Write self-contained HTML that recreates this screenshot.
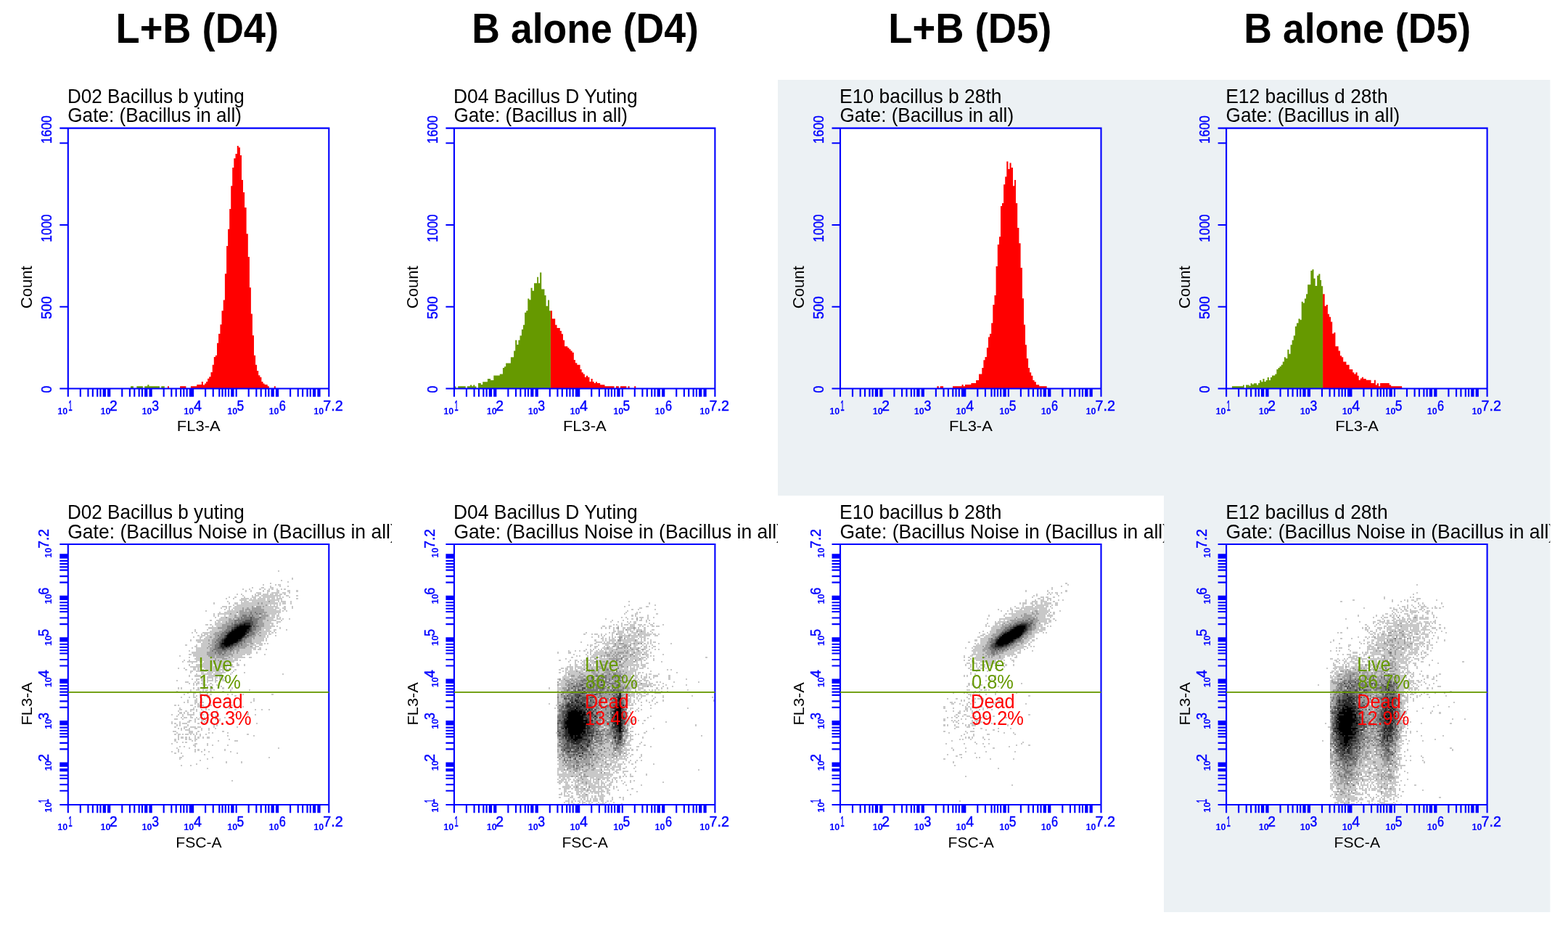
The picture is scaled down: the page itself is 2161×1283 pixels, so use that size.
<!DOCTYPE html>
<html><head><meta charset="utf-8"><title>Flow cytometry</title>
<style>html,body{margin:0;padding:0;background:#fff;overflow:hidden}svg{display:block}text{font-family:'Liberation Sans', Arial, sans-serif}</style>
</head><body>
<svg width="2161" height="1283" viewBox="0 0 2161 1283">
<defs><clipPath id="c0" clipPathUnits="userSpaceOnUse"><rect x="0" y="0" width="540" height="1283"/></clipPath><clipPath id="c1" clipPathUnits="userSpaceOnUse"><rect x="532.1" y="0" width="540" height="1283"/></clipPath><clipPath id="c2" clipPathUnits="userSpaceOnUse"><rect x="1064.2" y="0" width="540" height="1283"/></clipPath><clipPath id="c3" clipPathUnits="userSpaceOnUse"><rect x="1596.3" y="0" width="540" height="1283"/></clipPath></defs>
<rect x="0" y="0" width="2161" height="1283" fill="#fff"/>
<rect x="1072" y="110" width="1064.4" height="573" fill="#ecf1f4"/>
<rect x="1604" y="683" width="532.4" height="574" fill="#ecf1f4"/>
<text x="159.57" y="58.8" font-size="57.68" textLength="224.5" lengthAdjust="spacingAndGlyphs" fill="#000" font-weight="bold">L+B (D4)</text>
<text x="650.32" y="59.1" font-size="57.97" textLength="312.51" lengthAdjust="spacingAndGlyphs" fill="#000" font-weight="bold">B alone (D4)</text>
<text x="1224.37" y="58.8" font-size="57.68" textLength="224.91" lengthAdjust="spacingAndGlyphs" fill="#000" font-weight="bold">L+B (D5)</text>
<text x="1714.32" y="59.1" font-size="57.97" textLength="312.72" lengthAdjust="spacingAndGlyphs" fill="#000" font-weight="bold">B alone (D5)</text>
<rect x="93.8" y="176.6" width="359.5" height="358.9" fill="#fff"/>
<path d="M180 535.5V532.2H184V535.5ZM188.3 535.5V532.2H196.9V535.5ZM199.2 535.5V532.2H203.3V530.2H205.4V532.2H220V535.5ZM222.3 535.5V532.2H226.8V535.5Z" fill="#669900"/>
<path d="M226.8 535.5V532.2H226.9V535.5ZM231 535.5V532.2H232.9V535.5ZM248.1 535.5V532.2H256.4V535.5ZM262.9 535.5V532.2H271.2V530.1H277.8V525.9H279.9V530.4H282V528.4H284.1V525.9H286.1V521.8H288.2V519.3H290.5V513.1H292.7V502.7H294.8V491.9H296.9V489.8H299V472.8H301.1V460.1H303.4V447.2H305.5V428.2H307.7V413.4H309.9V377.3H312.1V339.1H314.1V315.8H316.2V288.1H318.2V256.3H320.2V231.1H322.3V218.2H324.5V212.1H326.8V201.1H328.8V203.2H330.9V214H333V247.9H335V265H337.1V286.1H339.6V322.3H341.8V354.1H343.9V396.2H345.9V432.5H347.9V462.2H350V489.8H352.1V502.7H354.1V511H356.2V517.3H358.3V519.7H360.4V525.9H362.5V528.4H364.6V530.1H368.7V532.2H370.8V535.5ZM377.8 535.5V532.2H379.8V535.5Z" fill="#ff0000"/>
<path d="M82.3 175.54H454.36V177.66H82.3ZM82.3 534.44H454.36V536.56H82.3ZM92.74 175.54H94.86V546.7H92.74ZM452.24 175.54H454.36V546.7H452.24ZM109.75 535.5H111.88V546.7H109.75ZM120.39 535.5H122.52V546.7H120.39ZM126.77 535.5H128.9V546.7H126.77ZM133.15 535.5H135.28V546.7H133.15ZM137.41 535.5H139.54V546.7H137.41ZM141.66 535.5H145.92V546.7H141.66ZM148.04 535.5H152.3V546.7H148.04ZM167.19 535.5H169.32V546.7H167.19ZM177.83 535.5H179.95V546.7H177.83ZM184.21 535.5H186.33V546.7H184.21ZM190.59 535.5H192.72V546.7H190.59ZM194.84 535.5H196.97V546.7H194.84ZM199.1 535.5H203.35V546.7H199.1ZM205.48 535.5H209.73V546.7H205.48ZM224.62 535.5H226.75V546.7H224.62ZM235.26 535.5H237.39V546.7H235.26ZM241.64 535.5H243.77V546.7H241.64ZM248.02 535.5H250.15V546.7H248.02ZM252.28 535.5H254.41V546.7H252.28ZM256.53 535.5H258.66V546.7H256.53ZM260.79 535.5H267.17V546.7H260.79ZM282.06 535.5H284.19V546.7H282.06ZM292.69 535.5H294.82V546.7H292.69ZM301.2 535.5H303.33V546.7H301.2ZM305.46 535.5H307.59V546.7H305.46ZM309.71 535.5H311.84V546.7H309.71ZM313.97 535.5H316.09V546.7H313.97ZM318.22 535.5H322.48V546.7H318.22ZM324.6 535.5H326.73V546.7H324.6ZM341.62 535.5H343.75V546.7H341.62ZM352.26 535.5H354.38V546.7H352.26ZM358.64 535.5H360.77V546.7H358.64ZM365.02 535.5H367.15V546.7H365.02ZM369.27 535.5H371.4V546.7H369.27ZM373.53 535.5H377.78V546.7H373.53ZM379.91 535.5H384.17V546.7H379.91ZM399.06 535.5H401.18V546.7H399.06ZM409.69 535.5H411.82V546.7H409.69ZM416.07 535.5H418.2V546.7H416.07ZM422.46 535.5H424.58V546.7H422.46ZM426.71 535.5H428.84V546.7H426.71ZM430.96 535.5H435.22V546.7H430.96ZM437.35 535.5H441.6V546.7H437.35ZM82.3 421.69H93.8V423.82H82.3ZM82.3 308.95H93.8V311.08H82.3ZM82.3 196.21H93.8V198.34H82.3Z" fill="#0000ff"/>
<text x="92.91" y="141.7" font-size="27.83" textLength="243.88" lengthAdjust="spacingAndGlyphs" fill="#000">D02 Bacillus b yuting</text>
<text x="93.29" y="168.3" font-size="27.83" textLength="239.61" lengthAdjust="spacingAndGlyphs" fill="#000">Gate: (Bacillus in all)</text>
<text x="79.19" y="570.7" font-size="11.86" textLength="13.95" lengthAdjust="spacingAndGlyphs" fill="#0000ff" font-weight="bold">10</text>
<text x="94.17" y="566" font-size="20.72" textLength="5.43" lengthAdjust="spacingAndGlyphs" fill="#0000ff" stroke="#0000ff" stroke-width="0.45">1</text>
<text x="138.59" y="570.7" font-size="11.86" textLength="13.95" lengthAdjust="spacingAndGlyphs" fill="#0000ff" font-weight="bold">10</text>
<text x="151.03" y="566" font-size="20.43" textLength="10.76" lengthAdjust="spacingAndGlyphs" fill="#0000ff" stroke="#0000ff" stroke-width="0.45">2</text>
<text x="195.59" y="570.7" font-size="11.86" textLength="13.95" lengthAdjust="spacingAndGlyphs" fill="#0000ff" font-weight="bold">10</text>
<text x="209.19" y="566" font-size="20.43" textLength="9.82" lengthAdjust="spacingAndGlyphs" fill="#0000ff" stroke="#0000ff" stroke-width="0.45">3</text>
<text x="253.39" y="570.7" font-size="11.86" textLength="13.95" lengthAdjust="spacingAndGlyphs" fill="#0000ff" font-weight="bold">10</text>
<text x="267" y="566" font-size="20.72" textLength="11.01" lengthAdjust="spacingAndGlyphs" fill="#0000ff" stroke="#0000ff" stroke-width="0.45">4</text>
<text x="313.19" y="570.7" font-size="11.86" textLength="13.95" lengthAdjust="spacingAndGlyphs" fill="#0000ff" font-weight="bold">10</text>
<text x="326.5" y="566" font-size="20.72" textLength="9.72" lengthAdjust="spacingAndGlyphs" fill="#0000ff" stroke="#0000ff" stroke-width="0.45">5</text>
<text x="370.49" y="570.7" font-size="11.86" textLength="13.95" lengthAdjust="spacingAndGlyphs" fill="#0000ff" font-weight="bold">10</text>
<text x="384.78" y="566" font-size="20.43" textLength="9.07" lengthAdjust="spacingAndGlyphs" fill="#0000ff" stroke="#0000ff" stroke-width="0.45">6</text>
<text x="432.29" y="570.7" font-size="11.86" textLength="13.95" lengthAdjust="spacingAndGlyphs" fill="#0000ff" font-weight="bold">10</text>
<text x="445.31" y="566" font-size="20.43" textLength="27.48" lengthAdjust="spacingAndGlyphs" fill="#0000ff" stroke="#0000ff" stroke-width="0.45">7.2</text>
<text transform="translate(71.1 540.7) rotate(-90)" x="-0.71" y="0" font-size="20.71" textLength="9.84" lengthAdjust="spacingAndGlyphs" fill="#0000ff" stroke="#0000ff" stroke-width="0.45">0</text>
<text transform="translate(71.1 439) rotate(-90)" x="-0.75" y="0" font-size="20.71" textLength="31.48" lengthAdjust="spacingAndGlyphs" fill="#0000ff" stroke="#0000ff" stroke-width="0.45">500</text>
<text transform="translate(71.1 332.4) rotate(-90)" x="-1.29" y="0" font-size="20.71" textLength="38.38" lengthAdjust="spacingAndGlyphs" fill="#0000ff" stroke="#0000ff" stroke-width="0.45">1000</text>
<text transform="translate(71.1 196.75) rotate(-90)" x="-1.3" y="0" font-size="20.71" textLength="38.64" lengthAdjust="spacingAndGlyphs" fill="#0000ff" stroke="#0000ff" stroke-width="0.45">1600</text>
<text transform="translate(43.7 424.1) rotate(-90)" x="-1.1" y="0" font-size="21.43" textLength="58.69" lengthAdjust="spacingAndGlyphs" fill="#000">Count</text>
<text x="243.85" y="593.8" font-size="21" textLength="59.73" lengthAdjust="spacingAndGlyphs" fill="#000">FL3-A</text>
<rect x="625.9" y="176.6" width="359.5" height="358.9" fill="#fff"/>
<path d="M626.31 535.5V532.53H628.42V535.5ZM631.22 535.5V532.25H641.74V535.5ZM643.85 535.5V532.25H648.05V530.43H650.16V532.25H652.26V530.43H654.37V532.53H656.47V535.5ZM659 535.5V528.05H662.78V530.01H665.17V526.22H671.9V522.01H676.11V524.12H680.32V517.53H688.73V515.42H692.94V507.01H695.05V505.18H697.15V500.55H703.88V492.14H708.09V483.44H710.19V468.71H712.3V475.02H714.4V468.71H716.51V462.4H718.89V453.98H721V447.67H723.1V430.84H725.2V428.31H727.31V411.48H729.41V413.3H731.52V396.75H733.62V400.68H736.01V390.16H740.21V381.74H742.04V390.16H744.14V375.43H746.24V398.57H750.45V406.99H752.56V421.72H755.08V413.58H757.05V428.31H758.87V428.31H758.9V535.5Z" fill="#669900"/>
<path d="M758.9 535.5V428.31H760.97V439.25H765.18V447.67H767.57V451.88H771.77V456.09H773.88V460.29H775.98V468.71H778.09V477.13H782.29V479.23H784.4V481.34H786.5V483.44H788.61V485.82H790.85V496.06H792.96V500.27H795.34V502.8H799.55V508.97H801.65V513.18H803.76V515.42H805.86V519.63H807.96V517.81H810.07V519.63H812.45V525.94H814.56V522.01H816.66V525.94H818.77V528.05H820.87V526.22H822.97V528.05H827.18V530.15H833.49V532.25H846.54V535.5ZM848.92 535.5V532.25H852.85V535.5ZM854.96 535.5V532.25H863.37V535.5ZM865.48 535.5V532.25H867.58V535.5ZM874.17 535.5V532.25H876.28V535.5Z" fill="#ff0000"/>
<path d="M614.4 175.54H986.46V177.66H614.4ZM614.4 534.44H986.46V536.56H614.4ZM624.84 175.54H626.96V546.7H624.84ZM984.34 175.54H986.46V546.7H984.34ZM641.85 535.5H643.98V546.7H641.85ZM652.49 535.5H654.62V546.7H652.49ZM658.87 535.5H661V546.7H658.87ZM665.25 535.5H667.38V546.7H665.25ZM669.51 535.5H671.64V546.7H669.51ZM673.76 535.5H678.02V546.7H673.76ZM680.14 535.5H684.4V546.7H680.14ZM699.29 535.5H701.42V546.7H699.29ZM709.93 535.5H712.05V546.7H709.93ZM716.31 535.5H718.43V546.7H716.31ZM722.69 535.5H724.82V546.7H722.69ZM726.94 535.5H729.07V546.7H726.94ZM731.2 535.5H735.45V546.7H731.2ZM737.58 535.5H741.83V546.7H737.58ZM756.72 535.5H758.85V546.7H756.72ZM767.36 535.5H769.49V546.7H767.36ZM773.74 535.5H775.87V546.7H773.74ZM780.12 535.5H782.25V546.7H780.12ZM784.38 535.5H786.51V546.7H784.38ZM788.63 535.5H790.76V546.7H788.63ZM792.89 535.5H799.27V546.7H792.89ZM814.16 535.5H816.29V546.7H814.16ZM824.79 535.5H826.92V546.7H824.79ZM833.3 535.5H835.43V546.7H833.3ZM837.56 535.5H839.69V546.7H837.56ZM841.81 535.5H843.94V546.7H841.81ZM846.07 535.5H848.19V546.7H846.07ZM850.32 535.5H854.58V546.7H850.32ZM856.7 535.5H858.83V546.7H856.7ZM873.72 535.5H875.85V546.7H873.72ZM884.36 535.5H886.48V546.7H884.36ZM890.74 535.5H892.87V546.7H890.74ZM897.12 535.5H899.25V546.7H897.12ZM901.37 535.5H903.5V546.7H901.37ZM905.63 535.5H909.88V546.7H905.63ZM912.01 535.5H916.27V546.7H912.01ZM931.16 535.5H933.28V546.7H931.16ZM941.79 535.5H943.92V546.7H941.79ZM948.17 535.5H950.3V546.7H948.17ZM954.56 535.5H956.68V546.7H954.56ZM958.81 535.5H960.94V546.7H958.81ZM963.06 535.5H967.32V546.7H963.06ZM969.45 535.5H973.7V546.7H969.45ZM614.4 421.69H625.9V423.82H614.4ZM614.4 308.95H625.9V311.08H614.4ZM614.4 196.21H625.9V198.34H614.4Z" fill="#0000ff"/>
<text x="624.99" y="141.7" font-size="27.83" textLength="253.72" lengthAdjust="spacingAndGlyphs" fill="#000">D04 Bacillus D Yuting</text>
<text x="625.39" y="168.3" font-size="27.83" textLength="239.61" lengthAdjust="spacingAndGlyphs" fill="#000">Gate: (Bacillus in all)</text>
<text x="611.29" y="570.7" font-size="11.86" textLength="13.95" lengthAdjust="spacingAndGlyphs" fill="#0000ff" font-weight="bold">10</text>
<text x="626.27" y="566" font-size="20.72" textLength="5.43" lengthAdjust="spacingAndGlyphs" fill="#0000ff" stroke="#0000ff" stroke-width="0.45">1</text>
<text x="670.69" y="570.7" font-size="11.86" textLength="13.95" lengthAdjust="spacingAndGlyphs" fill="#0000ff" font-weight="bold">10</text>
<text x="683.13" y="566" font-size="20.43" textLength="10.76" lengthAdjust="spacingAndGlyphs" fill="#0000ff" stroke="#0000ff" stroke-width="0.45">2</text>
<text x="727.69" y="570.7" font-size="11.86" textLength="13.95" lengthAdjust="spacingAndGlyphs" fill="#0000ff" font-weight="bold">10</text>
<text x="741.29" y="566" font-size="20.43" textLength="9.82" lengthAdjust="spacingAndGlyphs" fill="#0000ff" stroke="#0000ff" stroke-width="0.45">3</text>
<text x="785.49" y="570.7" font-size="11.86" textLength="13.95" lengthAdjust="spacingAndGlyphs" fill="#0000ff" font-weight="bold">10</text>
<text x="799.11" y="566" font-size="20.72" textLength="11.01" lengthAdjust="spacingAndGlyphs" fill="#0000ff" stroke="#0000ff" stroke-width="0.45">4</text>
<text x="845.29" y="570.7" font-size="11.86" textLength="13.95" lengthAdjust="spacingAndGlyphs" fill="#0000ff" font-weight="bold">10</text>
<text x="858.6" y="566" font-size="20.72" textLength="9.72" lengthAdjust="spacingAndGlyphs" fill="#0000ff" stroke="#0000ff" stroke-width="0.45">5</text>
<text x="902.59" y="570.7" font-size="11.86" textLength="13.95" lengthAdjust="spacingAndGlyphs" fill="#0000ff" font-weight="bold">10</text>
<text x="916.88" y="566" font-size="20.43" textLength="9.07" lengthAdjust="spacingAndGlyphs" fill="#0000ff" stroke="#0000ff" stroke-width="0.45">6</text>
<text x="964.39" y="570.7" font-size="11.86" textLength="13.95" lengthAdjust="spacingAndGlyphs" fill="#0000ff" font-weight="bold">10</text>
<text x="977.41" y="566" font-size="20.43" textLength="27.48" lengthAdjust="spacingAndGlyphs" fill="#0000ff" stroke="#0000ff" stroke-width="0.45">7.2</text>
<text transform="translate(603.2 540.7) rotate(-90)" x="-0.71" y="0" font-size="20.71" textLength="9.84" lengthAdjust="spacingAndGlyphs" fill="#0000ff" stroke="#0000ff" stroke-width="0.45">0</text>
<text transform="translate(603.2 439) rotate(-90)" x="-0.75" y="0" font-size="20.71" textLength="31.48" lengthAdjust="spacingAndGlyphs" fill="#0000ff" stroke="#0000ff" stroke-width="0.45">500</text>
<text transform="translate(603.2 332.4) rotate(-90)" x="-1.29" y="0" font-size="20.71" textLength="38.38" lengthAdjust="spacingAndGlyphs" fill="#0000ff" stroke="#0000ff" stroke-width="0.45">1000</text>
<text transform="translate(603.2 196.75) rotate(-90)" x="-1.3" y="0" font-size="20.71" textLength="38.64" lengthAdjust="spacingAndGlyphs" fill="#0000ff" stroke="#0000ff" stroke-width="0.45">1600</text>
<text transform="translate(575.8 424.1) rotate(-90)" x="-1.1" y="0" font-size="21.43" textLength="58.69" lengthAdjust="spacingAndGlyphs" fill="#000">Count</text>
<text x="775.95" y="593.8" font-size="21" textLength="59.73" lengthAdjust="spacingAndGlyphs" fill="#000">FL3-A</text>
<rect x="1158" y="176.6" width="359.5" height="358.9" fill="#fff"/>
<path d="M1291.4 535.5V532.2H1293.8V535.5ZM1295.7 535.5V532.2H1300.1V535.5ZM1313 535.5V532.2H1325.6V530.1H1327.6V532.2H1330V530.1H1338.4V528.1H1345.1V524H1349.1V515.4H1353.3V507H1355.4V496.3H1357.5V492.1H1359.9V479.3H1362V464.4H1364V460.1H1366.2V445.2H1368.3V419.9H1370.5V407H1372.6V367H1374.8V337.1H1377V326.3H1379V284.1H1381V279.9H1383.1V254.3H1385.2V243.6H1387.3V222.4H1389.4V232.9H1391.5V224.5H1393.6V231.1H1396V256.3H1398.1V248H1400V279.9H1402.2V313.9H1404.4V335.2H1406.6V369H1408.9V411.2H1411V447.5H1413V475.2H1414.9V494.1H1417.1V507H1419.1V513.3H1421.2V517.7H1423.4V524H1425.6V526.2H1427.9V530.3H1432.2V532.2H1442.7V535.5Z" fill="#ff0000"/>
<path d="M1146.5 175.54H1518.56V177.66H1146.5ZM1146.5 534.44H1518.56V536.56H1146.5ZM1156.94 175.54H1159.06V546.7H1156.94ZM1516.44 175.54H1518.56V546.7H1516.44ZM1173.95 535.5H1176.08V546.7H1173.95ZM1184.59 535.5H1186.72V546.7H1184.59ZM1190.97 535.5H1193.1V546.7H1190.97ZM1197.35 535.5H1199.48V546.7H1197.35ZM1201.61 535.5H1203.74V546.7H1201.61ZM1205.86 535.5H1210.12V546.7H1205.86ZM1212.24 535.5H1216.5V546.7H1212.24ZM1231.39 535.5H1233.52V546.7H1231.39ZM1242.03 535.5H1244.15V546.7H1242.03ZM1248.41 535.5H1250.53V546.7H1248.41ZM1254.79 535.5H1256.92V546.7H1254.79ZM1259.04 535.5H1261.17V546.7H1259.04ZM1263.3 535.5H1267.55V546.7H1263.3ZM1269.68 535.5H1273.93V546.7H1269.68ZM1288.82 535.5H1290.95V546.7H1288.82ZM1299.46 535.5H1301.59V546.7H1299.46ZM1305.84 535.5H1307.97V546.7H1305.84ZM1312.22 535.5H1314.35V546.7H1312.22ZM1316.48 535.5H1318.61V546.7H1316.48ZM1320.73 535.5H1322.86V546.7H1320.73ZM1324.99 535.5H1331.37V546.7H1324.99ZM1346.26 535.5H1348.39V546.7H1346.26ZM1356.89 535.5H1359.02V546.7H1356.89ZM1365.4 535.5H1367.53V546.7H1365.4ZM1369.66 535.5H1371.79V546.7H1369.66ZM1373.91 535.5H1376.04V546.7H1373.91ZM1378.17 535.5H1380.29V546.7H1378.17ZM1382.42 535.5H1386.68V546.7H1382.42ZM1388.8 535.5H1390.93V546.7H1388.8ZM1405.82 535.5H1407.95V546.7H1405.82ZM1416.46 535.5H1418.58V546.7H1416.46ZM1422.84 535.5H1424.97V546.7H1422.84ZM1429.22 535.5H1431.35V546.7H1429.22ZM1433.47 535.5H1435.6V546.7H1433.47ZM1437.73 535.5H1441.98V546.7H1437.73ZM1444.11 535.5H1448.37V546.7H1444.11ZM1463.26 535.5H1465.38V546.7H1463.26ZM1473.89 535.5H1476.02V546.7H1473.89ZM1480.27 535.5H1482.4V546.7H1480.27ZM1486.66 535.5H1488.78V546.7H1486.66ZM1490.91 535.5H1493.04V546.7H1490.91ZM1495.16 535.5H1499.42V546.7H1495.16ZM1501.55 535.5H1505.8V546.7H1501.55ZM1146.5 421.69H1158V423.82H1146.5ZM1146.5 308.95H1158V311.08H1146.5ZM1146.5 196.21H1158V198.34H1146.5Z" fill="#0000ff"/>
<text x="1157.08" y="141.7" font-size="27.83" textLength="223.44" lengthAdjust="spacingAndGlyphs" fill="#000">E10 bacillus b 28th</text>
<text x="1157.49" y="168.3" font-size="27.83" textLength="239.61" lengthAdjust="spacingAndGlyphs" fill="#000">Gate: (Bacillus in all)</text>
<text x="1143.39" y="570.7" font-size="11.86" textLength="13.95" lengthAdjust="spacingAndGlyphs" fill="#0000ff" font-weight="bold">10</text>
<text x="1158.37" y="566" font-size="20.72" textLength="5.43" lengthAdjust="spacingAndGlyphs" fill="#0000ff" stroke="#0000ff" stroke-width="0.45">1</text>
<text x="1202.79" y="570.7" font-size="11.86" textLength="13.95" lengthAdjust="spacingAndGlyphs" fill="#0000ff" font-weight="bold">10</text>
<text x="1215.23" y="566" font-size="20.43" textLength="10.76" lengthAdjust="spacingAndGlyphs" fill="#0000ff" stroke="#0000ff" stroke-width="0.45">2</text>
<text x="1259.79" y="570.7" font-size="11.86" textLength="13.95" lengthAdjust="spacingAndGlyphs" fill="#0000ff" font-weight="bold">10</text>
<text x="1273.39" y="566" font-size="20.43" textLength="9.82" lengthAdjust="spacingAndGlyphs" fill="#0000ff" stroke="#0000ff" stroke-width="0.45">3</text>
<text x="1317.59" y="570.7" font-size="11.86" textLength="13.95" lengthAdjust="spacingAndGlyphs" fill="#0000ff" font-weight="bold">10</text>
<text x="1331.21" y="566" font-size="20.72" textLength="11.01" lengthAdjust="spacingAndGlyphs" fill="#0000ff" stroke="#0000ff" stroke-width="0.45">4</text>
<text x="1377.39" y="570.7" font-size="11.86" textLength="13.95" lengthAdjust="spacingAndGlyphs" fill="#0000ff" font-weight="bold">10</text>
<text x="1390.7" y="566" font-size="20.72" textLength="9.72" lengthAdjust="spacingAndGlyphs" fill="#0000ff" stroke="#0000ff" stroke-width="0.45">5</text>
<text x="1434.69" y="570.7" font-size="11.86" textLength="13.95" lengthAdjust="spacingAndGlyphs" fill="#0000ff" font-weight="bold">10</text>
<text x="1448.98" y="566" font-size="20.43" textLength="9.07" lengthAdjust="spacingAndGlyphs" fill="#0000ff" stroke="#0000ff" stroke-width="0.45">6</text>
<text x="1496.49" y="570.7" font-size="11.86" textLength="13.95" lengthAdjust="spacingAndGlyphs" fill="#0000ff" font-weight="bold">10</text>
<text x="1509.51" y="566" font-size="20.43" textLength="27.48" lengthAdjust="spacingAndGlyphs" fill="#0000ff" stroke="#0000ff" stroke-width="0.45">7.2</text>
<text transform="translate(1135.3 540.7) rotate(-90)" x="-0.71" y="0" font-size="20.71" textLength="9.84" lengthAdjust="spacingAndGlyphs" fill="#0000ff" stroke="#0000ff" stroke-width="0.45">0</text>
<text transform="translate(1135.3 439) rotate(-90)" x="-0.75" y="0" font-size="20.71" textLength="31.48" lengthAdjust="spacingAndGlyphs" fill="#0000ff" stroke="#0000ff" stroke-width="0.45">500</text>
<text transform="translate(1135.3 332.4) rotate(-90)" x="-1.29" y="0" font-size="20.71" textLength="38.38" lengthAdjust="spacingAndGlyphs" fill="#0000ff" stroke="#0000ff" stroke-width="0.45">1000</text>
<text transform="translate(1135.3 196.75) rotate(-90)" x="-1.3" y="0" font-size="20.71" textLength="38.64" lengthAdjust="spacingAndGlyphs" fill="#0000ff" stroke="#0000ff" stroke-width="0.45">1600</text>
<text transform="translate(1107.9 424.1) rotate(-90)" x="-1.1" y="0" font-size="21.43" textLength="58.69" lengthAdjust="spacingAndGlyphs" fill="#000">Count</text>
<text x="1308.05" y="593.8" font-size="21" textLength="59.73" lengthAdjust="spacingAndGlyphs" fill="#000">FL3-A</text>
<rect x="1690.1" y="176.6" width="359.5" height="358.9" fill="#fff"/>
<path d="M1697.91 535.5V532.25H1713.05V530.43H1714.74V535.5ZM1716.98 535.5V530.43H1721.47V531.83H1723.57V528.33H1725.68V529.73H1727.78V528.33H1731.99V530.43H1734.1V528.05H1736.2V524.12H1738.3V526.22H1740.41V522.01H1742.51V525.94H1744.62V524.12H1746.72V519.91H1748.82V524.12H1750.93V519.91H1753.03V517.53H1757.24V515.42H1759.34V509.11H1761.45V507.01H1763.55V504.9H1765.66V502.8H1767.76V498.59H1769.86V492.28H1771.97V493.96H1774.35V481.76H1776.46V487.65H1778.56V475.3H1780.67V468.71H1782.77V462.4H1784.87V449.77H1786.98V445.29H1789.5V439.25H1791.61V440.66H1793.71V415.83H1795.81V417.51H1797.92V411.48H1800.02V405.17H1802.13V392.26H1806.34V373.05H1808.44V371.22H1810.54V383.85H1812.65V394.09H1815.17V379.64H1817.28V377.53H1819.38V385.95H1821.06V394.37H1823.1V535.5Z" fill="#669900"/>
<path d="M1823.1 535.5V394.37H1823.17V405.17H1825.69V421.72H1827.8V420.04H1829.9V432.66H1832.01V436.87H1834.11V443.46H1836.21V459.87H1838.32V458.19H1840.42V477.13H1844.63V483.44H1847.01V490.17H1849.12V492.28H1851.22V498.59H1855.43V502.8H1859.64V509.11H1864.27V513.18H1866.37V515.42H1868.48V513.32H1870.58V517.81H1872.68V523.84H1874.79V521.59H1876.89V519.63H1879V522.01H1882.78V523.84H1889.52V528.05H1894.01V523.84H1895.83V530.43H1897.93V528.33H1900.04V532.25H1902.14V528.05H1914.77V530.43H1917.15V532.25H1932.16V535.5Z" fill="#ff0000"/>
<path d="M1678.6 175.54H2050.66V177.66H1678.6ZM1678.6 534.44H2050.66V536.56H1678.6ZM1689.04 175.54H1691.16V546.7H1689.04ZM2048.54 175.54H2050.66V546.7H2048.54ZM1706.05 535.5H1708.18V546.7H1706.05ZM1716.69 535.5H1718.82V546.7H1716.69ZM1723.07 535.5H1725.2V546.7H1723.07ZM1729.45 535.5H1731.58V546.7H1729.45ZM1733.71 535.5H1735.84V546.7H1733.71ZM1737.96 535.5H1742.22V546.7H1737.96ZM1744.34 535.5H1748.6V546.7H1744.34ZM1763.49 535.5H1765.62V546.7H1763.49ZM1774.13 535.5H1776.25V546.7H1774.13ZM1780.51 535.5H1782.63V546.7H1780.51ZM1786.89 535.5H1789.02V546.7H1786.89ZM1791.14 535.5H1793.27V546.7H1791.14ZM1795.4 535.5H1799.65V546.7H1795.4ZM1801.78 535.5H1806.03V546.7H1801.78ZM1820.92 535.5H1823.05V546.7H1820.92ZM1831.56 535.5H1833.69V546.7H1831.56ZM1837.94 535.5H1840.07V546.7H1837.94ZM1844.32 535.5H1846.45V546.7H1844.32ZM1848.58 535.5H1850.71V546.7H1848.58ZM1852.83 535.5H1854.96V546.7H1852.83ZM1857.09 535.5H1863.47V546.7H1857.09ZM1878.36 535.5H1880.49V546.7H1878.36ZM1888.99 535.5H1891.12V546.7H1888.99ZM1897.5 535.5H1899.63V546.7H1897.5ZM1901.76 535.5H1903.89V546.7H1901.76ZM1906.01 535.5H1908.14V546.7H1906.01ZM1910.27 535.5H1912.39V546.7H1910.27ZM1914.52 535.5H1918.78V546.7H1914.52ZM1920.9 535.5H1923.03V546.7H1920.9ZM1937.92 535.5H1940.05V546.7H1937.92ZM1948.56 535.5H1950.68V546.7H1948.56ZM1954.94 535.5H1957.07V546.7H1954.94ZM1961.32 535.5H1963.45V546.7H1961.32ZM1965.57 535.5H1967.7V546.7H1965.57ZM1969.83 535.5H1974.08V546.7H1969.83ZM1976.21 535.5H1980.47V546.7H1976.21ZM1995.36 535.5H1997.48V546.7H1995.36ZM2005.99 535.5H2008.12V546.7H2005.99ZM2012.37 535.5H2014.5V546.7H2012.37ZM2018.76 535.5H2020.88V546.7H2018.76ZM2023.01 535.5H2025.14V546.7H2023.01ZM2027.26 535.5H2031.52V546.7H2027.26ZM2033.65 535.5H2037.9V546.7H2033.65ZM1678.6 421.69H1690.1V423.82H1678.6ZM1678.6 308.95H1690.1V311.08H1678.6ZM1678.6 196.21H1690.1V198.34H1678.6Z" fill="#0000ff"/>
<text x="1689.18" y="141.7" font-size="27.83" textLength="223.44" lengthAdjust="spacingAndGlyphs" fill="#000">E12 bacillus d 28th</text>
<text x="1689.59" y="168.3" font-size="27.83" textLength="239.61" lengthAdjust="spacingAndGlyphs" fill="#000">Gate: (Bacillus in all)</text>
<text x="1675.49" y="570.7" font-size="11.86" textLength="13.95" lengthAdjust="spacingAndGlyphs" fill="#0000ff" font-weight="bold">10</text>
<text x="1690.47" y="566" font-size="20.72" textLength="5.43" lengthAdjust="spacingAndGlyphs" fill="#0000ff" stroke="#0000ff" stroke-width="0.45">1</text>
<text x="1734.89" y="570.7" font-size="11.86" textLength="13.95" lengthAdjust="spacingAndGlyphs" fill="#0000ff" font-weight="bold">10</text>
<text x="1747.33" y="566" font-size="20.43" textLength="10.76" lengthAdjust="spacingAndGlyphs" fill="#0000ff" stroke="#0000ff" stroke-width="0.45">2</text>
<text x="1791.89" y="570.7" font-size="11.86" textLength="13.95" lengthAdjust="spacingAndGlyphs" fill="#0000ff" font-weight="bold">10</text>
<text x="1805.49" y="566" font-size="20.43" textLength="9.82" lengthAdjust="spacingAndGlyphs" fill="#0000ff" stroke="#0000ff" stroke-width="0.45">3</text>
<text x="1849.69" y="570.7" font-size="11.86" textLength="13.95" lengthAdjust="spacingAndGlyphs" fill="#0000ff" font-weight="bold">10</text>
<text x="1863.31" y="566" font-size="20.72" textLength="11.01" lengthAdjust="spacingAndGlyphs" fill="#0000ff" stroke="#0000ff" stroke-width="0.45">4</text>
<text x="1909.49" y="570.7" font-size="11.86" textLength="13.95" lengthAdjust="spacingAndGlyphs" fill="#0000ff" font-weight="bold">10</text>
<text x="1922.8" y="566" font-size="20.72" textLength="9.72" lengthAdjust="spacingAndGlyphs" fill="#0000ff" stroke="#0000ff" stroke-width="0.45">5</text>
<text x="1966.79" y="570.7" font-size="11.86" textLength="13.95" lengthAdjust="spacingAndGlyphs" fill="#0000ff" font-weight="bold">10</text>
<text x="1981.08" y="566" font-size="20.43" textLength="9.07" lengthAdjust="spacingAndGlyphs" fill="#0000ff" stroke="#0000ff" stroke-width="0.45">6</text>
<text x="2028.59" y="570.7" font-size="11.86" textLength="13.95" lengthAdjust="spacingAndGlyphs" fill="#0000ff" font-weight="bold">10</text>
<text x="2041.61" y="566" font-size="20.43" textLength="27.48" lengthAdjust="spacingAndGlyphs" fill="#0000ff" stroke="#0000ff" stroke-width="0.45">7.2</text>
<text transform="translate(1667.4 540.7) rotate(-90)" x="-0.71" y="0" font-size="20.71" textLength="9.84" lengthAdjust="spacingAndGlyphs" fill="#0000ff" stroke="#0000ff" stroke-width="0.45">0</text>
<text transform="translate(1667.4 439) rotate(-90)" x="-0.75" y="0" font-size="20.71" textLength="31.48" lengthAdjust="spacingAndGlyphs" fill="#0000ff" stroke="#0000ff" stroke-width="0.45">500</text>
<text transform="translate(1667.4 332.4) rotate(-90)" x="-1.29" y="0" font-size="20.71" textLength="38.38" lengthAdjust="spacingAndGlyphs" fill="#0000ff" stroke="#0000ff" stroke-width="0.45">1000</text>
<text transform="translate(1667.4 196.75) rotate(-90)" x="-1.3" y="0" font-size="20.71" textLength="38.64" lengthAdjust="spacingAndGlyphs" fill="#0000ff" stroke="#0000ff" stroke-width="0.45">1600</text>
<text transform="translate(1640 424.1) rotate(-90)" x="-1.1" y="0" font-size="21.43" textLength="58.69" lengthAdjust="spacingAndGlyphs" fill="#000">Count</text>
<text x="1840.15" y="593.8" font-size="21" textLength="59.73" lengthAdjust="spacingAndGlyphs" fill="#000">FL3-A</text>
<rect x="93.8" y="750.05" width="359.5" height="358.9" fill="#fff"/>
<path d="M319.16 1074.93h2.13v2.13h-2.13zM285.14 1057.93h2.13v2.13h-2.13zM249 1053.67h2.13v2.13h-2.13zM261.75 1053.67h2.13v2.13h-2.13zM270.26 1051.55h2.13v2.13h-2.13zM310.65 1049.42h2.13v2.13h-2.13zM331.91 1049.42h2.13v2.13h-2.13zM274.51 1047.3h2.13v2.13h-2.13zM246.87 1045.17h2.13v2.13h-2.13zM285.14 1045.17h2.13v2.13h-2.13zM246.87 1043.04h4.25v2.13h-4.25zM291.52 1043.04h2.13v2.13h-2.13zM370.18 1043.04h2.13v2.13h-2.13zM251.12 1040.92h2.13v2.13h-2.13zM280.89 1038.79h2.13v2.13h-2.13zM240.49 1036.67h2.13v2.13h-2.13zM249 1036.67h2.13v2.13h-2.13zM325.53 1036.67h2.13v2.13h-2.13zM236.24 1034.54h2.13v2.13h-2.13zM244.75 1034.54h2.13v2.13h-2.13zM268.13 1034.54h2.13v2.13h-2.13zM276.64 1034.54h2.13v2.13h-2.13zM287.27 1034.54h2.13v2.13h-2.13zM317.03 1034.54h2.13v2.13h-2.13zM244.75 1032.41h2.13v2.13h-2.13zM268.13 1032.41h2.13v2.13h-2.13zM272.38 1032.41h2.13v2.13h-2.13zM280.89 1032.41h2.13v2.13h-2.13zM308.53 1032.41h2.13v2.13h-2.13zM242.62 1030.29h2.13v2.13h-2.13zM259.63 1030.29h2.13v2.13h-2.13zM382.94 1030.29h2.13v2.13h-2.13zM246.87 1028.16h2.13v2.13h-2.13zM253.25 1028.16h2.13v2.13h-2.13zM268.13 1028.16h2.13v2.13h-2.13zM266.01 1026.04h4.25v2.13h-4.25zM285.14 1026.04h2.13v2.13h-2.13zM291.52 1026.04h2.13v2.13h-2.13zM312.78 1026.04h2.13v2.13h-2.13zM236.24 1023.91h2.13v2.13h-2.13zM268.13 1023.91h4.25v2.13h-4.25zM285.14 1023.91h2.13v2.13h-2.13zM242.62 1021.78h2.13v2.13h-2.13zM251.12 1021.78h2.13v2.13h-2.13zM255.38 1021.78h2.13v2.13h-2.13zM240.49 1019.66h2.13v2.13h-2.13zM263.88 1019.66h2.13v2.13h-2.13zM268.13 1019.66h2.13v2.13h-2.13zM300.02 1019.66h2.13v2.13h-2.13zM323.41 1019.66h4.25v2.13h-4.25zM240.49 1017.53h2.13v2.13h-2.13zM244.75 1017.53h2.13v2.13h-2.13zM255.38 1017.53h2.13v2.13h-2.13zM259.63 1017.53h4.25v2.13h-4.25zM268.13 1017.53h4.25v2.13h-4.25zM314.9 1017.53h2.13v2.13h-2.13zM244.75 1015.41h2.13v2.13h-2.13zM249 1015.41h4.25v2.13h-4.25zM255.38 1015.41h2.13v2.13h-2.13zM259.63 1015.41h2.13v2.13h-2.13zM268.13 1015.41h2.13v2.13h-2.13zM272.38 1015.41h2.13v2.13h-2.13zM278.76 1015.41h2.13v2.13h-2.13zM285.14 1015.41h4.25v2.13h-4.25zM244.75 1013.28h2.13v2.13h-2.13zM268.13 1013.28h2.13v2.13h-2.13zM274.51 1013.28h2.13v2.13h-2.13zM312.78 1013.28h2.13v2.13h-2.13zM348.92 1013.28h2.13v2.13h-2.13zM240.49 1011.15h2.13v2.13h-2.13zM244.75 1011.15h4.25v2.13h-4.25zM251.12 1011.15h2.13v2.13h-2.13zM255.38 1011.15h4.25v2.13h-4.25zM261.75 1011.15h2.13v2.13h-2.13zM266.01 1011.15h2.13v2.13h-2.13zM270.26 1011.15h2.13v2.13h-2.13zM274.51 1011.15h2.13v2.13h-2.13zM283.01 1011.15h2.13v2.13h-2.13zM340.42 1011.15h2.13v2.13h-2.13zM242.62 1009.03h2.13v2.13h-2.13zM259.63 1009.03h6.38v2.13h-6.38zM270.26 1009.03h2.13v2.13h-2.13zM287.27 1009.03h2.13v2.13h-2.13zM291.52 1009.03h2.13v2.13h-2.13zM312.78 1009.03h2.13v2.13h-2.13zM238.37 1006.9h4.25v2.13h-4.25zM259.63 1006.9h6.38v2.13h-6.38zM272.38 1006.9h2.13v2.13h-2.13zM306.4 1006.9h2.13v2.13h-2.13zM249 1004.78h2.13v2.13h-2.13zM255.38 1004.78h6.38v2.13h-6.38zM276.64 1004.78h2.13v2.13h-2.13zM287.27 1004.78h2.13v2.13h-2.13zM244.75 1002.65h2.13v2.13h-2.13zM249 1002.65h2.13v2.13h-2.13zM253.25 1002.65h2.13v2.13h-2.13zM259.63 1002.65h2.13v2.13h-2.13zM268.13 1002.65h4.25v2.13h-4.25zM276.64 1002.65h2.13v2.13h-2.13zM287.27 1002.65h2.13v2.13h-2.13zM295.77 1002.65h2.13v2.13h-2.13zM240.49 1000.52h2.13v2.13h-2.13zM253.25 1000.52h4.25v2.13h-4.25zM261.75 1000.52h8.5v2.13h-8.5zM272.38 1000.52h4.25v2.13h-4.25zM293.64 1000.52h2.13v2.13h-2.13zM325.53 1000.52h2.13v2.13h-2.13zM242.62 998.4h2.13v2.13h-2.13zM246.87 998.4h2.13v2.13h-2.13zM257.5 998.4h2.13v2.13h-2.13zM293.64 998.4h2.13v2.13h-2.13zM297.9 998.4h2.13v2.13h-2.13zM236.24 996.27h2.13v2.13h-2.13zM240.49 996.27h2.13v2.13h-2.13zM246.87 996.27h2.13v2.13h-2.13zM251.12 996.27h6.38v2.13h-6.38zM272.38 996.27h2.13v2.13h-2.13zM278.76 996.27h2.13v2.13h-2.13zM297.9 996.27h2.13v2.13h-2.13zM353.17 996.27h2.13v2.13h-2.13zM236.24 994.15h2.13v2.13h-2.13zM246.87 994.15h2.13v2.13h-2.13zM257.5 994.15h4.25v2.13h-4.25zM268.13 994.15h2.13v2.13h-2.13zM276.64 994.15h2.13v2.13h-2.13zM280.89 994.15h2.13v2.13h-2.13zM285.14 994.15h2.13v2.13h-2.13zM289.39 994.15h2.13v2.13h-2.13zM300.02 994.15h2.13v2.13h-2.13zM342.54 994.15h2.13v2.13h-2.13zM259.63 992.02h4.25v2.13h-4.25zM268.13 992.02h2.13v2.13h-2.13zM276.64 992.02h4.25v2.13h-4.25zM283.01 992.02h2.13v2.13h-2.13zM302.15 992.02h2.13v2.13h-2.13zM240.49 989.89h4.25v2.13h-4.25zM251.12 989.89h2.13v2.13h-2.13zM268.13 989.89h2.13v2.13h-2.13zM272.38 989.89h2.13v2.13h-2.13zM276.64 989.89h2.13v2.13h-2.13zM295.77 989.89h2.13v2.13h-2.13zM302.15 989.89h2.13v2.13h-2.13zM249 987.77h2.13v2.13h-2.13zM253.25 987.77h4.25v2.13h-4.25zM261.75 987.77h4.25v2.13h-4.25zM270.26 987.77h2.13v2.13h-2.13zM274.51 987.77h2.13v2.13h-2.13zM280.89 987.77h2.13v2.13h-2.13zM293.64 987.77h2.13v2.13h-2.13zM308.53 987.77h2.13v2.13h-2.13zM242.62 985.64h2.13v2.13h-2.13zM251.12 985.64h2.13v2.13h-2.13zM261.75 985.64h2.13v2.13h-2.13zM295.77 985.64h2.13v2.13h-2.13zM300.02 985.64h2.13v2.13h-2.13zM236.24 983.52h2.13v2.13h-2.13zM244.75 983.52h2.13v2.13h-2.13zM251.12 983.52h2.13v2.13h-2.13zM257.5 983.52h10.63v2.13h-10.63zM274.51 983.52h6.38v2.13h-6.38zM287.27 983.52h2.13v2.13h-2.13zM291.52 983.52h2.13v2.13h-2.13zM300.02 983.52h2.13v2.13h-2.13zM323.41 983.52h2.13v2.13h-2.13zM340.42 983.52h2.13v2.13h-2.13zM351.05 983.52h2.13v2.13h-2.13zM246.87 981.39h4.25v2.13h-4.25zM253.25 981.39h2.13v2.13h-2.13zM257.5 981.39h2.13v2.13h-2.13zM266.01 981.39h2.13v2.13h-2.13zM274.51 981.39h2.13v2.13h-2.13zM285.14 981.39h2.13v2.13h-2.13zM340.42 981.39h2.13v2.13h-2.13zM244.75 979.26h2.13v2.13h-2.13zM255.38 979.26h2.13v2.13h-2.13zM261.75 979.26h2.13v2.13h-2.13zM270.26 979.26h2.13v2.13h-2.13zM278.76 979.26h2.13v2.13h-2.13zM297.9 979.26h2.13v2.13h-2.13zM246.87 977.14h4.25v2.13h-4.25zM261.75 977.14h6.38v2.13h-6.38zM270.26 977.14h2.13v2.13h-2.13zM276.64 977.14h2.13v2.13h-2.13zM283.01 977.14h2.13v2.13h-2.13zM287.27 977.14h2.13v2.13h-2.13zM323.41 977.14h2.13v2.13h-2.13zM351.05 977.14h2.13v2.13h-2.13zM359.55 977.14h2.13v2.13h-2.13zM370.18 977.14h2.13v2.13h-2.13zM246.87 975.01h2.13v2.13h-2.13zM266.01 975.01h2.13v2.13h-2.13zM283.01 975.01h2.13v2.13h-2.13zM314.9 975.01h2.13v2.13h-2.13zM268.13 972.89h2.13v2.13h-2.13zM272.38 972.89h4.25v2.13h-4.25zM278.76 972.89h6.38v2.13h-6.38zM334.04 972.89h2.13v2.13h-2.13zM240.49 970.76h2.13v2.13h-2.13zM244.75 970.76h2.13v2.13h-2.13zM261.75 970.76h4.25v2.13h-4.25zM272.38 970.76h8.5v2.13h-8.5zM289.39 970.76h2.13v2.13h-2.13zM319.16 970.76h2.13v2.13h-2.13zM268.13 968.63h2.13v2.13h-2.13zM272.38 968.63h2.13v2.13h-2.13zM287.27 968.63h2.13v2.13h-2.13zM253.25 966.51h2.13v2.13h-2.13zM257.5 966.51h2.13v2.13h-2.13zM268.13 966.51h4.25v2.13h-4.25zM274.51 966.51h6.38v2.13h-6.38zM293.64 966.51h2.13v2.13h-2.13zM317.03 966.51h2.13v2.13h-2.13zM344.67 966.51h2.13v2.13h-2.13zM257.5 964.38h2.13v2.13h-2.13zM268.13 964.38h4.25v2.13h-4.25zM276.64 964.38h2.13v2.13h-2.13zM348.92 964.38h2.13v2.13h-2.13zM270.26 962.26h2.13v2.13h-2.13zM276.64 962.26h2.13v2.13h-2.13zM302.15 962.26h2.13v2.13h-2.13zM310.65 962.26h4.25v2.13h-4.25zM348.92 962.26h2.13v2.13h-2.13zM249 960.13h2.13v2.13h-2.13zM259.63 960.13h2.13v2.13h-2.13zM266.01 960.13h4.25v2.13h-4.25zM274.51 960.13h2.13v2.13h-2.13zM285.14 960.13h2.13v2.13h-2.13zM266.01 958h2.13v2.13h-2.13zM270.26 958h2.13v2.13h-2.13zM274.51 958h2.13v2.13h-2.13zM280.89 958h2.13v2.13h-2.13zM287.27 958h2.13v2.13h-2.13zM323.41 958h2.13v2.13h-2.13zM253.25 955.88h2.13v2.13h-2.13zM266.01 955.88h2.13v2.13h-2.13zM274.51 955.88h4.25v2.13h-4.25zM283.01 955.88h4.25v2.13h-4.25zM289.39 955.88h2.13v2.13h-2.13zM312.78 955.88h2.13v2.13h-2.13zM319.16 955.88h2.13v2.13h-2.13zM334.04 955.88h2.13v2.13h-2.13zM374.43 955.88h2.13v2.13h-2.13zM257.5 953.75h2.13v2.13h-2.13zM266.01 953.75h4.25v2.13h-4.25zM274.51 953.75h2.13v2.13h-2.13zM285.14 953.75h2.13v2.13h-2.13zM242.62 951.63h2.13v2.13h-2.13zM261.75 951.63h2.13v2.13h-2.13zM274.51 951.63h2.13v2.13h-2.13zM278.76 951.63h2.13v2.13h-2.13zM283.01 951.63h2.13v2.13h-2.13zM289.39 951.63h2.13v2.13h-2.13zM306.4 951.63h2.13v2.13h-2.13zM317.03 951.63h2.13v2.13h-2.13zM261.75 949.5h2.13v2.13h-2.13zM270.26 949.5h4.25v2.13h-4.25zM278.76 949.5h2.13v2.13h-2.13zM283.01 949.5h4.25v2.13h-4.25zM289.39 949.5h2.13v2.13h-2.13zM293.64 949.5h2.13v2.13h-2.13zM317.03 949.5h2.13v2.13h-2.13zM342.54 949.5h2.13v2.13h-2.13zM244.75 947.37h2.13v2.13h-2.13zM249 947.37h2.13v2.13h-2.13zM266.01 947.37h2.13v2.13h-2.13zM272.38 947.37h2.13v2.13h-2.13zM278.76 947.37h4.25v2.13h-4.25zM289.39 947.37h4.25v2.13h-4.25zM306.4 947.37h2.13v2.13h-2.13zM319.16 947.37h2.13v2.13h-2.13zM280.89 945.25h2.13v2.13h-2.13zM285.14 945.25h2.13v2.13h-2.13zM289.39 945.25h2.13v2.13h-2.13zM300.02 945.25h2.13v2.13h-2.13zM304.27 945.25h2.13v2.13h-2.13zM266.01 943.12h2.13v2.13h-2.13zM270.26 943.12h2.13v2.13h-2.13zM278.76 943.12h6.38v2.13h-6.38zM287.27 943.12h2.13v2.13h-2.13zM291.52 943.12h2.13v2.13h-2.13zM297.9 943.12h2.13v2.13h-2.13zM259.63 941h2.13v2.13h-2.13zM266.01 941h2.13v2.13h-2.13zM270.26 941h4.25v2.13h-4.25zM276.64 941h4.25v2.13h-4.25zM289.39 941h2.13v2.13h-2.13zM255.38 938.87h4.25v2.13h-4.25zM268.13 938.87h2.13v2.13h-2.13zM272.38 938.87h2.13v2.13h-2.13zM278.76 938.87h2.13v2.13h-2.13zM285.14 938.87h2.13v2.13h-2.13zM295.77 938.87h2.13v2.13h-2.13zM314.9 938.87h2.13v2.13h-2.13zM242.62 936.74h2.13v2.13h-2.13zM270.26 936.74h2.13v2.13h-2.13zM276.64 936.74h6.38v2.13h-6.38zM285.14 936.74h8.5v2.13h-8.5zM295.77 936.74h4.25v2.13h-4.25zM306.4 936.74h4.25v2.13h-4.25zM263.88 934.62h2.13v2.13h-2.13zM270.26 934.62h4.25v2.13h-4.25zM276.64 934.62h4.25v2.13h-4.25zM285.14 934.62h2.13v2.13h-2.13zM291.52 934.62h2.13v2.13h-2.13zM295.77 934.62h2.13v2.13h-2.13zM302.15 934.62h6.38v2.13h-6.38zM276.64 932.49h4.25v2.13h-4.25zM285.14 932.49h8.5v2.13h-8.5zM295.77 932.49h4.25v2.13h-4.25zM302.15 932.49h4.25v2.13h-4.25zM308.53 932.49h2.13v2.13h-2.13zM259.63 930.37h2.13v2.13h-2.13zM268.13 930.37h8.5v2.13h-8.5zM287.27 930.37h12.76v2.13h-12.76zM302.15 930.37h4.25v2.13h-4.25zM270.26 928.24h2.13v2.13h-2.13zM276.64 928.24h14.88v2.13h-14.88zM293.64 928.24h12.76v2.13h-12.76zM317.03 928.24h2.13v2.13h-2.13zM389.31 928.24h2.13v2.13h-2.13zM261.75 926.11h2.13v2.13h-2.13zM276.64 926.11h4.25v2.13h-4.25zM285.14 926.11h8.5v2.13h-8.5zM295.77 926.11h14.88v2.13h-14.88zM319.16 926.11h2.13v2.13h-2.13zM336.16 926.11h2.13v2.13h-2.13zM261.75 923.99h4.25v2.13h-4.25zM270.26 923.99h14.88v2.13h-14.88zM287.27 923.99h17.01v2.13h-17.01zM306.4 923.99h2.13v2.13h-2.13zM310.65 923.99h4.25v2.13h-4.25zM321.28 923.99h2.13v2.13h-2.13zM255.38 921.86h2.13v2.13h-2.13zM266.01 921.86h4.25v2.13h-4.25zM272.38 921.86h2.13v2.13h-2.13zM276.64 921.86h4.25v2.13h-4.25zM283.01 921.86h17.01v2.13h-17.01zM302.15 921.86h6.38v2.13h-6.38zM310.65 921.86h4.25v2.13h-4.25zM323.41 921.86h2.13v2.13h-2.13zM244.75 919.74h2.13v2.13h-2.13zM253.25 919.74h2.13v2.13h-2.13zM266.01 919.74h4.25v2.13h-4.25zM272.38 919.74h2.13v2.13h-2.13zM280.89 919.74h23.39v2.13h-23.39zM306.4 919.74h2.13v2.13h-2.13zM310.65 919.74h2.13v2.13h-2.13zM314.9 919.74h2.13v2.13h-2.13zM261.75 917.61h51.02v2.13h-51.02zM317.03 917.61h6.38v2.13h-6.38zM259.63 915.48h2.13v2.13h-2.13zM270.26 915.48h23.39v2.13h-23.39zM295.77 915.48h14.88v2.13h-14.88zM312.78 915.48h2.13v2.13h-2.13zM317.03 915.48h4.25v2.13h-4.25zM325.53 915.48h4.25v2.13h-4.25zM336.16 915.48h2.13v2.13h-2.13zM263.88 913.36h2.13v2.13h-2.13zM278.76 913.36h40.39v2.13h-40.39zM325.53 913.36h2.13v2.13h-2.13zM251.12 911.23h2.13v2.13h-2.13zM257.5 911.23h14.88v2.13h-14.88zM274.51 911.23h4.25v2.13h-4.25zM280.89 911.23h21.26v2.13h-21.26zM304.27 911.23h19.13v2.13h-19.13zM253.25 909.11h2.13v2.13h-2.13zM259.63 909.11h2.13v2.13h-2.13zM270.26 909.11h25.51v2.13h-25.51zM297.9 909.11h2.13v2.13h-2.13zM302.15 909.11h25.51v2.13h-25.51zM329.79 909.11h2.13v2.13h-2.13zM268.13 906.98h27.64v2.13h-27.64zM297.9 906.98h8.5v2.13h-8.5zM312.78 906.98h8.5v2.13h-8.5zM323.41 906.98h4.25v2.13h-4.25zM259.63 904.85h2.13v2.13h-2.13zM270.26 904.85h21.26v2.13h-21.26zM295.77 904.85h2.13v2.13h-2.13zM308.53 904.85h6.38v2.13h-6.38zM317.03 904.85h21.26v2.13h-21.26zM342.54 904.85h4.25v2.13h-4.25zM246.87 902.73h2.13v2.13h-2.13zM266.01 902.73h21.26v2.13h-21.26zM295.77 902.73h2.13v2.13h-2.13zM314.9 902.73h4.25v2.13h-4.25zM321.28 902.73h12.76v2.13h-12.76zM259.63 900.6h4.25v2.13h-4.25zM266.01 900.6h19.13v2.13h-19.13zM321.28 900.6h17.01v2.13h-17.01zM340.42 900.6h4.25v2.13h-4.25zM363.8 900.6h2.13v2.13h-2.13zM263.88 898.48h21.26v2.13h-21.26zM319.16 898.48h2.13v2.13h-2.13zM323.41 898.48h2.13v2.13h-2.13zM327.66 898.48h19.13v2.13h-19.13zM353.17 898.48h2.13v2.13h-2.13zM259.63 896.35h2.13v2.13h-2.13zM270.26 896.35h19.13v2.13h-19.13zM323.41 896.35h2.13v2.13h-2.13zM329.79 896.35h17.01v2.13h-17.01zM270.26 894.22h19.13v2.13h-19.13zM329.79 894.22h17.01v2.13h-17.01zM348.92 894.22h4.25v2.13h-4.25zM355.3 894.22h4.25v2.13h-4.25zM365.93 894.22h2.13v2.13h-2.13zM263.88 892.1h2.13v2.13h-2.13zM270.26 892.1h14.88v2.13h-14.88zM287.27 892.1h2.13v2.13h-2.13zM338.29 892.1h14.88v2.13h-14.88zM357.42 892.1h2.13v2.13h-2.13zM268.13 889.97h4.25v2.13h-4.25zM276.64 889.97h10.63v2.13h-10.63zM289.39 889.97h2.13v2.13h-2.13zM340.42 889.97h4.25v2.13h-4.25zM346.79 889.97h2.13v2.13h-2.13zM351.05 889.97h6.38v2.13h-6.38zM255.38 887.85h2.13v2.13h-2.13zM270.26 887.85h2.13v2.13h-2.13zM276.64 887.85h12.76v2.13h-12.76zM342.54 887.85h10.63v2.13h-10.63zM357.42 887.85h4.25v2.13h-4.25zM276.64 885.72h10.63v2.13h-10.63zM289.39 885.72h2.13v2.13h-2.13zM340.42 885.72h4.25v2.13h-4.25zM348.92 885.72h2.13v2.13h-2.13zM353.17 885.72h8.5v2.13h-8.5zM363.8 885.72h2.13v2.13h-2.13zM368.05 885.72h2.13v2.13h-2.13zM272.38 883.59h4.25v2.13h-4.25zM278.76 883.59h12.76v2.13h-12.76zM346.79 883.59h12.76v2.13h-12.76zM261.75 881.47h2.13v2.13h-2.13zM270.26 881.47h17.01v2.13h-17.01zM289.39 881.47h2.13v2.13h-2.13zM346.79 881.47h17.01v2.13h-17.01zM365.93 881.47h2.13v2.13h-2.13zM274.51 879.34h2.13v2.13h-2.13zM280.89 879.34h12.76v2.13h-12.76zM346.79 879.34h2.13v2.13h-2.13zM351.05 879.34h12.76v2.13h-12.76zM365.93 879.34h2.13v2.13h-2.13zM266.01 877.22h2.13v2.13h-2.13zM274.51 877.22h4.25v2.13h-4.25zM283.01 877.22h6.38v2.13h-6.38zM291.52 877.22h4.25v2.13h-4.25zM351.05 877.22h14.88v2.13h-14.88zM368.05 877.22h2.13v2.13h-2.13zM272.38 875.09h2.13v2.13h-2.13zM276.64 875.09h6.38v2.13h-6.38zM285.14 875.09h10.63v2.13h-10.63zM353.17 875.09h4.25v2.13h-4.25zM359.55 875.09h6.38v2.13h-6.38zM368.05 875.09h2.13v2.13h-2.13zM378.68 875.09h2.13v2.13h-2.13zM276.64 872.96h2.13v2.13h-2.13zM280.89 872.96h6.38v2.13h-6.38zM289.39 872.96h4.25v2.13h-4.25zM353.17 872.96h2.13v2.13h-2.13zM357.42 872.96h10.63v2.13h-10.63zM370.18 872.96h4.25v2.13h-4.25zM263.88 870.84h2.13v2.13h-2.13zM270.26 870.84h2.13v2.13h-2.13zM278.76 870.84h17.01v2.13h-17.01zM355.3 870.84h2.13v2.13h-2.13zM359.55 870.84h8.5v2.13h-8.5zM370.18 870.84h2.13v2.13h-2.13zM374.43 870.84h2.13v2.13h-2.13zM378.68 870.84h2.13v2.13h-2.13zM268.13 868.71h2.13v2.13h-2.13zM289.39 868.71h12.76v2.13h-12.76zM357.42 868.71h17.01v2.13h-17.01zM376.56 868.71h2.13v2.13h-2.13zM268.13 866.59h2.13v2.13h-2.13zM285.14 866.59h2.13v2.13h-2.13zM291.52 866.59h14.88v2.13h-14.88zM359.55 866.59h4.25v2.13h-4.25zM365.93 866.59h6.38v2.13h-6.38zM376.56 866.59h4.25v2.13h-4.25zM393.57 866.59h2.13v2.13h-2.13zM287.27 864.46h12.76v2.13h-12.76zM359.55 864.46h14.88v2.13h-14.88zM385.06 864.46h2.13v2.13h-2.13zM291.52 862.33h2.13v2.13h-2.13zM297.9 862.33h8.5v2.13h-8.5zM363.8 862.33h14.88v2.13h-14.88zM380.81 862.33h2.13v2.13h-2.13zM283.01 860.21h4.25v2.13h-4.25zM289.39 860.21h2.13v2.13h-2.13zM295.77 860.21h10.63v2.13h-10.63zM363.8 860.21h8.5v2.13h-8.5zM374.43 860.21h2.13v2.13h-2.13zM295.77 858.08h14.88v2.13h-14.88zM363.8 858.08h12.76v2.13h-12.76zM380.81 858.08h2.13v2.13h-2.13zM295.77 855.96h2.13v2.13h-2.13zM300.02 855.96h4.25v2.13h-4.25zM306.4 855.96h4.25v2.13h-4.25zM312.78 855.96h2.13v2.13h-2.13zM361.68 855.96h12.76v2.13h-12.76zM380.81 855.96h6.38v2.13h-6.38zM289.39 853.83h2.13v2.13h-2.13zM297.9 853.83h17.01v2.13h-17.01zM361.68 853.83h6.38v2.13h-6.38zM370.18 853.83h10.63v2.13h-10.63zM387.19 853.83h2.13v2.13h-2.13zM302.15 851.7h12.76v2.13h-12.76zM319.16 851.7h2.13v2.13h-2.13zM323.41 851.7h2.13v2.13h-2.13zM365.93 851.7h10.63v2.13h-10.63zM380.81 851.7h6.38v2.13h-6.38zM389.31 851.7h2.13v2.13h-2.13zM397.82 851.7h2.13v2.13h-2.13zM295.77 849.58h2.13v2.13h-2.13zM304.27 849.58h6.38v2.13h-6.38zM312.78 849.58h10.63v2.13h-10.63zM365.93 849.58h12.76v2.13h-12.76zM380.81 849.58h2.13v2.13h-2.13zM385.06 849.58h2.13v2.13h-2.13zM293.64 847.45h2.13v2.13h-2.13zM300.02 847.45h2.13v2.13h-2.13zM308.53 847.45h2.13v2.13h-2.13zM314.9 847.45h8.5v2.13h-8.5zM325.53 847.45h4.25v2.13h-4.25zM357.42 847.45h2.13v2.13h-2.13zM370.18 847.45h2.13v2.13h-2.13zM374.43 847.45h4.25v2.13h-4.25zM380.81 847.45h4.25v2.13h-4.25zM293.64 845.33h2.13v2.13h-2.13zM300.02 845.33h17.01v2.13h-17.01zM319.16 845.33h6.38v2.13h-6.38zM327.66 845.33h2.13v2.13h-2.13zM361.68 845.33h2.13v2.13h-2.13zM365.93 845.33h14.88v2.13h-14.88zM382.94 845.33h2.13v2.13h-2.13zM302.15 843.2h2.13v2.13h-2.13zM308.53 843.2h17.01v2.13h-17.01zM327.66 843.2h2.13v2.13h-2.13zM368.05 843.2h19.13v2.13h-19.13zM283.01 841.07h2.13v2.13h-2.13zM312.78 841.07h17.01v2.13h-17.01zM336.16 841.07h2.13v2.13h-2.13zM340.42 841.07h2.13v2.13h-2.13zM363.8 841.07h23.39v2.13h-23.39zM389.31 841.07h2.13v2.13h-2.13zM393.57 841.07h2.13v2.13h-2.13zM308.53 838.95h2.13v2.13h-2.13zM314.9 838.95h2.13v2.13h-2.13zM319.16 838.95h2.13v2.13h-2.13zM323.41 838.95h10.63v2.13h-10.63zM336.16 838.95h2.13v2.13h-2.13zM344.67 838.95h2.13v2.13h-2.13zM363.8 838.95h17.01v2.13h-17.01zM385.06 838.95h2.13v2.13h-2.13zM391.44 838.95h2.13v2.13h-2.13zM304.27 836.82h2.13v2.13h-2.13zM310.65 836.82h2.13v2.13h-2.13zM314.9 836.82h2.13v2.13h-2.13zM321.28 836.82h12.76v2.13h-12.76zM336.16 836.82h4.25v2.13h-4.25zM342.54 836.82h4.25v2.13h-4.25zM359.55 836.82h17.01v2.13h-17.01zM378.68 836.82h6.38v2.13h-6.38zM389.31 836.82h4.25v2.13h-4.25zM402.07 836.82h2.13v2.13h-2.13zM306.4 834.7h6.38v2.13h-6.38zM314.9 834.7h4.25v2.13h-4.25zM323.41 834.7h23.39v2.13h-23.39zM348.92 834.7h2.13v2.13h-2.13zM359.55 834.7h2.13v2.13h-2.13zM363.8 834.7h19.13v2.13h-19.13zM391.44 834.7h2.13v2.13h-2.13zM402.07 834.7h2.13v2.13h-2.13zM321.28 832.57h2.13v2.13h-2.13zM325.53 832.57h40.39v2.13h-40.39zM368.05 832.57h2.13v2.13h-2.13zM372.31 832.57h2.13v2.13h-2.13zM376.56 832.57h2.13v2.13h-2.13zM380.81 832.57h2.13v2.13h-2.13zM385.06 832.57h2.13v2.13h-2.13zM293.64 830.44h2.13v2.13h-2.13zM314.9 830.44h2.13v2.13h-2.13zM323.41 830.44h4.25v2.13h-4.25zM331.91 830.44h23.39v2.13h-23.39zM357.42 830.44h2.13v2.13h-2.13zM361.68 830.44h21.26v2.13h-21.26zM385.06 830.44h2.13v2.13h-2.13zM389.31 830.44h4.25v2.13h-4.25zM399.94 830.44h2.13v2.13h-2.13zM312.78 828.32h2.13v2.13h-2.13zM331.91 828.32h2.13v2.13h-2.13zM336.16 828.32h6.38v2.13h-6.38zM346.79 828.32h23.39v2.13h-23.39zM372.31 828.32h6.38v2.13h-6.38zM382.94 828.32h2.13v2.13h-2.13zM387.19 828.32h6.38v2.13h-6.38zM399.94 828.32h2.13v2.13h-2.13zM329.79 826.19h10.63v2.13h-10.63zM342.54 826.19h23.39v2.13h-23.39zM368.05 826.19h17.01v2.13h-17.01zM387.19 826.19h2.13v2.13h-2.13zM310.65 824.07h2.13v2.13h-2.13zM321.28 824.07h2.13v2.13h-2.13zM331.91 824.07h10.63v2.13h-10.63zM344.67 824.07h2.13v2.13h-2.13zM348.92 824.07h4.25v2.13h-4.25zM355.3 824.07h10.63v2.13h-10.63zM368.05 824.07h4.25v2.13h-4.25zM374.43 824.07h4.25v2.13h-4.25zM380.81 824.07h8.5v2.13h-8.5zM408.45 824.07h2.13v2.13h-2.13zM314.9 821.94h2.13v2.13h-2.13zM323.41 821.94h2.13v2.13h-2.13zM336.16 821.94h2.13v2.13h-2.13zM346.79 821.94h6.38v2.13h-6.38zM357.42 821.94h2.13v2.13h-2.13zM361.68 821.94h17.01v2.13h-17.01zM380.81 821.94h2.13v2.13h-2.13zM385.06 821.94h2.13v2.13h-2.13zM389.31 821.94h2.13v2.13h-2.13zM397.82 821.94h2.13v2.13h-2.13zM334.04 819.81h2.13v2.13h-2.13zM346.79 819.81h2.13v2.13h-2.13zM351.05 819.81h6.38v2.13h-6.38zM359.55 819.81h27.64v2.13h-27.64zM393.57 819.81h4.25v2.13h-4.25zM408.45 819.81h2.13v2.13h-2.13zM325.53 817.69h2.13v2.13h-2.13zM331.91 817.69h2.13v2.13h-2.13zM351.05 817.69h2.13v2.13h-2.13zM355.3 817.69h4.25v2.13h-4.25zM361.68 817.69h8.5v2.13h-8.5zM372.31 817.69h4.25v2.13h-4.25zM378.68 817.69h4.25v2.13h-4.25zM385.06 817.69h4.25v2.13h-4.25zM391.44 817.69h2.13v2.13h-2.13zM353.17 815.56h6.38v2.13h-6.38zM368.05 815.56h2.13v2.13h-2.13zM374.43 815.56h10.63v2.13h-10.63zM389.31 815.56h4.25v2.13h-4.25zM397.82 815.56h2.13v2.13h-2.13zM338.29 813.44h2.13v2.13h-2.13zM344.67 813.44h2.13v2.13h-2.13zM361.68 813.44h2.13v2.13h-2.13zM368.05 813.44h4.25v2.13h-4.25zM380.81 813.44h4.25v2.13h-4.25zM395.69 813.44h4.25v2.13h-4.25zM408.45 813.44h2.13v2.13h-2.13zM334.04 811.31h2.13v2.13h-2.13zM342.54 811.31h2.13v2.13h-2.13zM357.42 811.31h2.13v2.13h-2.13zM363.8 811.31h2.13v2.13h-2.13zM370.18 811.31h2.13v2.13h-2.13zM374.43 811.31h2.13v2.13h-2.13zM380.81 811.31h2.13v2.13h-2.13zM387.19 811.31h2.13v2.13h-2.13zM391.44 811.31h2.13v2.13h-2.13zM346.79 809.18h2.13v2.13h-2.13zM359.55 809.18h4.25v2.13h-4.25zM372.31 809.18h4.25v2.13h-4.25zM372.31 807.06h2.13v2.13h-2.13zM385.06 807.06h2.13v2.13h-2.13zM395.69 807.06h2.13v2.13h-2.13zM361.68 804.93h2.13v2.13h-2.13zM378.68 804.93h2.13v2.13h-2.13zM382.94 804.93h4.25v2.13h-4.25zM372.31 802.81h2.13v2.13h-2.13zM395.69 800.68h2.13v2.13h-2.13zM387.19 798.55h2.13v2.13h-2.13zM402.07 796.43h2.13v2.13h-2.13zM382.94 785.8h2.13v2.13h-2.13z" fill="#c8c8c8" shape-rendering="crispEdges"/>
<path d="M302.15 911.23h2.13v2.13h-2.13zM295.77 909.11h2.13v2.13h-2.13zM300.02 909.11h2.13v2.13h-2.13zM295.77 906.98h2.13v2.13h-2.13zM306.4 906.98h6.38v2.13h-6.38zM291.52 904.85h4.25v2.13h-4.25zM297.9 904.85h10.63v2.13h-10.63zM314.9 904.85h2.13v2.13h-2.13zM287.27 902.73h8.5v2.13h-8.5zM297.9 902.73h17.01v2.13h-17.01zM319.16 902.73h2.13v2.13h-2.13zM285.14 900.6h17.01v2.13h-17.01zM304.27 900.6h2.13v2.13h-2.13zM308.53 900.6h12.76v2.13h-12.76zM285.14 898.48h10.63v2.13h-10.63zM297.9 898.48h2.13v2.13h-2.13zM306.4 898.48h2.13v2.13h-2.13zM310.65 898.48h8.5v2.13h-8.5zM321.28 898.48h2.13v2.13h-2.13zM325.53 898.48h2.13v2.13h-2.13zM289.39 896.35h2.13v2.13h-2.13zM293.64 896.35h4.25v2.13h-4.25zM312.78 896.35h4.25v2.13h-4.25zM319.16 896.35h4.25v2.13h-4.25zM325.53 896.35h4.25v2.13h-4.25zM289.39 894.22h4.25v2.13h-4.25zM321.28 894.22h8.5v2.13h-8.5zM285.14 892.1h2.13v2.13h-2.13zM289.39 892.1h6.38v2.13h-6.38zM323.41 892.1h14.88v2.13h-14.88zM287.27 889.97h2.13v2.13h-2.13zM291.52 889.97h4.25v2.13h-4.25zM325.53 889.97h2.13v2.13h-2.13zM329.79 889.97h10.63v2.13h-10.63zM344.67 889.97h2.13v2.13h-2.13zM289.39 887.85h6.38v2.13h-6.38zM329.79 887.85h2.13v2.13h-2.13zM334.04 887.85h8.5v2.13h-8.5zM287.27 885.72h2.13v2.13h-2.13zM291.52 885.72h6.38v2.13h-6.38zM334.04 885.72h6.38v2.13h-6.38zM344.67 885.72h4.25v2.13h-4.25zM291.52 883.59h4.25v2.13h-4.25zM297.9 883.59h2.13v2.13h-2.13zM334.04 883.59h2.13v2.13h-2.13zM338.29 883.59h8.5v2.13h-8.5zM287.27 881.47h2.13v2.13h-2.13zM291.52 881.47h6.38v2.13h-6.38zM338.29 881.47h8.5v2.13h-8.5zM293.64 879.34h6.38v2.13h-6.38zM340.42 879.34h6.38v2.13h-6.38zM348.92 879.34h2.13v2.13h-2.13zM289.39 877.22h2.13v2.13h-2.13zM295.77 877.22h6.38v2.13h-6.38zM342.54 877.22h8.5v2.13h-8.5zM295.77 875.09h4.25v2.13h-4.25zM302.15 875.09h2.13v2.13h-2.13zM346.79 875.09h6.38v2.13h-6.38zM357.42 875.09h2.13v2.13h-2.13zM293.64 872.96h10.63v2.13h-10.63zM351.05 872.96h2.13v2.13h-2.13zM355.3 872.96h2.13v2.13h-2.13zM295.77 870.84h10.63v2.13h-10.63zM351.05 870.84h4.25v2.13h-4.25zM357.42 870.84h2.13v2.13h-2.13zM302.15 868.71h6.38v2.13h-6.38zM348.92 868.71h8.5v2.13h-8.5zM306.4 866.59h4.25v2.13h-4.25zM353.17 866.59h6.38v2.13h-6.38zM300.02 864.46h12.76v2.13h-12.76zM353.17 864.46h6.38v2.13h-6.38zM306.4 862.33h6.38v2.13h-6.38zM357.42 862.33h6.38v2.13h-6.38zM306.4 860.21h12.76v2.13h-12.76zM353.17 860.21h10.63v2.13h-10.63zM310.65 858.08h8.5v2.13h-8.5zM321.28 858.08h2.13v2.13h-2.13zM355.3 858.08h8.5v2.13h-8.5zM310.65 855.96h2.13v2.13h-2.13zM314.9 855.96h8.5v2.13h-8.5zM325.53 855.96h2.13v2.13h-2.13zM355.3 855.96h6.38v2.13h-6.38zM314.9 853.83h8.5v2.13h-8.5zM355.3 853.83h6.38v2.13h-6.38zM368.05 853.83h2.13v2.13h-2.13zM314.9 851.7h4.25v2.13h-4.25zM321.28 851.7h2.13v2.13h-2.13zM325.53 851.7h2.13v2.13h-2.13zM329.79 851.7h2.13v2.13h-2.13zM357.42 851.7h8.5v2.13h-8.5zM310.65 849.58h2.13v2.13h-2.13zM323.41 849.58h8.5v2.13h-8.5zM334.04 849.58h2.13v2.13h-2.13zM351.05 849.58h6.38v2.13h-6.38zM359.55 849.58h6.38v2.13h-6.38zM323.41 847.45h2.13v2.13h-2.13zM329.79 847.45h4.25v2.13h-4.25zM340.42 847.45h2.13v2.13h-2.13zM344.67 847.45h2.13v2.13h-2.13zM348.92 847.45h8.5v2.13h-8.5zM359.55 847.45h10.63v2.13h-10.63zM317.03 845.33h2.13v2.13h-2.13zM329.79 845.33h14.88v2.13h-14.88zM346.79 845.33h6.38v2.13h-6.38zM355.3 845.33h2.13v2.13h-2.13zM359.55 845.33h2.13v2.13h-2.13zM363.8 845.33h2.13v2.13h-2.13zM325.53 843.2h2.13v2.13h-2.13zM329.79 843.2h14.88v2.13h-14.88zM346.79 843.2h4.25v2.13h-4.25zM353.17 843.2h14.88v2.13h-14.88zM329.79 841.07h6.38v2.13h-6.38zM338.29 841.07h2.13v2.13h-2.13zM342.54 841.07h21.26v2.13h-21.26zM334.04 838.95h2.13v2.13h-2.13zM338.29 838.95h6.38v2.13h-6.38zM346.79 838.95h17.01v2.13h-17.01zM334.04 836.82h2.13v2.13h-2.13zM340.42 836.82h2.13v2.13h-2.13zM346.79 836.82h12.76v2.13h-12.76zM346.79 834.7h2.13v2.13h-2.13zM353.17 834.7h6.38v2.13h-6.38zM361.68 834.7h2.13v2.13h-2.13zM365.93 832.57h2.13v2.13h-2.13zM355.3 830.44h2.13v2.13h-2.13zM359.55 830.44h2.13v2.13h-2.13zM370.18 828.32h2.13v2.13h-2.13z" fill="#a0a0a0" shape-rendering="crispEdges"/>
<path d="M302.15 900.6h2.13v2.13h-2.13zM306.4 900.6h2.13v2.13h-2.13zM295.77 898.48h2.13v2.13h-2.13zM300.02 898.48h6.38v2.13h-6.38zM308.53 898.48h2.13v2.13h-2.13zM291.52 896.35h2.13v2.13h-2.13zM297.9 896.35h14.88v2.13h-14.88zM317.03 896.35h2.13v2.13h-2.13zM293.64 894.22h12.76v2.13h-12.76zM310.65 894.22h10.63v2.13h-10.63zM295.77 892.1h4.25v2.13h-4.25zM314.9 892.1h2.13v2.13h-2.13zM319.16 892.1h4.25v2.13h-4.25zM295.77 889.97h6.38v2.13h-6.38zM321.28 889.97h4.25v2.13h-4.25zM327.66 889.97h2.13v2.13h-2.13zM295.77 887.85h6.38v2.13h-6.38zM325.53 887.85h4.25v2.13h-4.25zM331.91 887.85h2.13v2.13h-2.13zM297.9 885.72h4.25v2.13h-4.25zM327.66 885.72h6.38v2.13h-6.38zM295.77 883.59h2.13v2.13h-2.13zM300.02 883.59h2.13v2.13h-2.13zM329.79 883.59h4.25v2.13h-4.25zM336.16 883.59h2.13v2.13h-2.13zM297.9 881.47h6.38v2.13h-6.38zM334.04 881.47h4.25v2.13h-4.25zM300.02 879.34h6.38v2.13h-6.38zM334.04 879.34h6.38v2.13h-6.38zM302.15 877.22h6.38v2.13h-6.38zM340.42 877.22h2.13v2.13h-2.13zM300.02 875.09h2.13v2.13h-2.13zM304.27 875.09h4.25v2.13h-4.25zM338.29 875.09h2.13v2.13h-2.13zM342.54 875.09h4.25v2.13h-4.25zM304.27 872.96h8.5v2.13h-8.5zM340.42 872.96h10.63v2.13h-10.63zM306.4 870.84h4.25v2.13h-4.25zM342.54 870.84h8.5v2.13h-8.5zM308.53 868.71h6.38v2.13h-6.38zM346.79 868.71h2.13v2.13h-2.13zM310.65 866.59h8.5v2.13h-8.5zM346.79 866.59h6.38v2.13h-6.38zM312.78 864.46h6.38v2.13h-6.38zM346.79 864.46h6.38v2.13h-6.38zM312.78 862.33h10.63v2.13h-10.63zM346.79 862.33h2.13v2.13h-2.13zM351.05 862.33h6.38v2.13h-6.38zM319.16 860.21h4.25v2.13h-4.25zM348.92 860.21h4.25v2.13h-4.25zM319.16 858.08h2.13v2.13h-2.13zM323.41 858.08h6.38v2.13h-6.38zM348.92 858.08h6.38v2.13h-6.38zM323.41 855.96h2.13v2.13h-2.13zM327.66 855.96h6.38v2.13h-6.38zM348.92 855.96h6.38v2.13h-6.38zM323.41 853.83h14.88v2.13h-14.88zM346.79 853.83h8.5v2.13h-8.5zM327.66 851.7h2.13v2.13h-2.13zM331.91 851.7h12.76v2.13h-12.76zM346.79 851.7h10.63v2.13h-10.63zM331.91 849.58h2.13v2.13h-2.13zM336.16 849.58h8.5v2.13h-8.5zM346.79 849.58h4.25v2.13h-4.25zM357.42 849.58h2.13v2.13h-2.13zM334.04 847.45h6.38v2.13h-6.38zM342.54 847.45h2.13v2.13h-2.13zM346.79 847.45h2.13v2.13h-2.13zM344.67 845.33h2.13v2.13h-2.13zM353.17 845.33h2.13v2.13h-2.13zM357.42 845.33h2.13v2.13h-2.13zM344.67 843.2h2.13v2.13h-2.13zM351.05 843.2h2.13v2.13h-2.13z" fill="#787878" shape-rendering="crispEdges"/>
<path d="M306.4 894.22h4.25v2.13h-4.25zM300.02 892.1h6.38v2.13h-6.38zM308.53 892.1h6.38v2.13h-6.38zM317.03 892.1h2.13v2.13h-2.13zM302.15 889.97h2.13v2.13h-2.13zM317.03 889.97h4.25v2.13h-4.25zM302.15 887.85h2.13v2.13h-2.13zM321.28 887.85h4.25v2.13h-4.25zM302.15 885.72h2.13v2.13h-2.13zM323.41 885.72h4.25v2.13h-4.25zM302.15 883.59h4.25v2.13h-4.25zM327.66 883.59h2.13v2.13h-2.13zM304.27 881.47h2.13v2.13h-2.13zM331.91 881.47h2.13v2.13h-2.13zM306.4 879.34h2.13v2.13h-2.13zM308.53 877.22h2.13v2.13h-2.13zM336.16 877.22h4.25v2.13h-4.25zM308.53 875.09h2.13v2.13h-2.13zM340.42 875.09h2.13v2.13h-2.13zM310.65 870.84h4.25v2.13h-4.25zM314.9 868.71h4.25v2.13h-4.25zM342.54 868.71h4.25v2.13h-4.25zM344.67 866.59h2.13v2.13h-2.13zM319.16 864.46h4.25v2.13h-4.25zM344.67 864.46h2.13v2.13h-2.13zM323.41 862.33h2.13v2.13h-2.13zM348.92 862.33h2.13v2.13h-2.13zM323.41 860.21h6.38v2.13h-6.38zM344.67 860.21h4.25v2.13h-4.25zM329.79 858.08h6.38v2.13h-6.38zM344.67 858.08h4.25v2.13h-4.25zM334.04 855.96h14.88v2.13h-14.88zM338.29 853.83h8.5v2.13h-8.5zM344.67 851.7h2.13v2.13h-2.13zM344.67 849.58h2.13v2.13h-2.13z" fill="#505050" shape-rendering="crispEdges"/>
<path d="M306.4 892.1h2.13v2.13h-2.13zM304.27 889.97h6.38v2.13h-6.38zM312.78 889.97h4.25v2.13h-4.25zM304.27 887.85h4.25v2.13h-4.25zM317.03 887.85h4.25v2.13h-4.25zM304.27 885.72h2.13v2.13h-2.13zM321.28 885.72h2.13v2.13h-2.13zM306.4 883.59h2.13v2.13h-2.13zM325.53 883.59h2.13v2.13h-2.13zM306.4 881.47h2.13v2.13h-2.13zM327.66 881.47h4.25v2.13h-4.25zM308.53 879.34h2.13v2.13h-2.13zM331.91 879.34h2.13v2.13h-2.13zM310.65 877.22h2.13v2.13h-2.13zM334.04 877.22h2.13v2.13h-2.13zM310.65 875.09h2.13v2.13h-2.13zM336.16 875.09h2.13v2.13h-2.13zM312.78 872.96h2.13v2.13h-2.13zM338.29 872.96h2.13v2.13h-2.13zM314.9 870.84h2.13v2.13h-2.13zM338.29 870.84h4.25v2.13h-4.25zM340.42 868.71h2.13v2.13h-2.13zM319.16 866.59h4.25v2.13h-4.25zM340.42 866.59h4.25v2.13h-4.25zM323.41 864.46h2.13v2.13h-2.13zM342.54 864.46h2.13v2.13h-2.13zM325.53 862.33h4.25v2.13h-4.25zM344.67 862.33h2.13v2.13h-2.13zM329.79 860.21h6.38v2.13h-6.38zM338.29 860.21h6.38v2.13h-6.38zM336.16 858.08h8.5v2.13h-8.5z" fill="#282828" shape-rendering="crispEdges"/>
<path d="M310.65 889.97h2.13v2.13h-2.13zM308.53 887.85h8.5v2.13h-8.5zM306.4 885.72h14.88v2.13h-14.88zM308.53 883.59h17.01v2.13h-17.01zM308.53 881.47h19.13v2.13h-19.13zM310.65 879.34h21.26v2.13h-21.26zM312.78 877.22h21.26v2.13h-21.26zM312.78 875.09h23.39v2.13h-23.39zM314.9 872.96h23.39v2.13h-23.39zM317.03 870.84h21.26v2.13h-21.26zM319.16 868.71h21.26v2.13h-21.26zM323.41 866.59h17.01v2.13h-17.01zM325.53 864.46h17.01v2.13h-17.01zM329.79 862.33h14.88v2.13h-14.88zM336.16 860.21h2.13v2.13h-2.13z" fill="#000000" shape-rendering="crispEdges"/>
<path d="M82.3 748.99H454.36V751.11H82.3ZM82.3 1107.89H454.36V1110.01H82.3ZM92.74 748.99H94.86V1120.15H92.74ZM452.24 748.99H454.36V1120.15H452.24ZM109.75 1108.95H111.88V1120.15H109.75ZM120.39 1108.95H122.52V1120.15H120.39ZM126.77 1108.95H128.9V1120.15H126.77ZM133.15 1108.95H135.28V1120.15H133.15ZM137.41 1108.95H139.54V1120.15H137.41ZM141.66 1108.95H145.92V1120.15H141.66ZM148.04 1108.95H152.3V1120.15H148.04ZM167.19 1108.95H169.32V1120.15H167.19ZM177.83 1108.95H179.95V1120.15H177.83ZM184.21 1108.95H186.33V1120.15H184.21ZM190.59 1108.95H192.72V1120.15H190.59ZM194.84 1108.95H196.97V1120.15H194.84ZM199.1 1108.95H203.35V1120.15H199.1ZM205.48 1108.95H209.73V1120.15H205.48ZM224.62 1108.95H226.75V1120.15H224.62ZM235.26 1108.95H237.39V1120.15H235.26ZM241.64 1108.95H243.77V1120.15H241.64ZM248.02 1108.95H250.15V1120.15H248.02ZM252.28 1108.95H254.41V1120.15H252.28ZM256.53 1108.95H258.66V1120.15H256.53ZM260.79 1108.95H267.17V1120.15H260.79ZM282.06 1108.95H284.19V1120.15H282.06ZM292.69 1108.95H294.82V1120.15H292.69ZM301.2 1108.95H303.33V1120.15H301.2ZM305.46 1108.95H307.59V1120.15H305.46ZM309.71 1108.95H311.84V1120.15H309.71ZM313.97 1108.95H316.09V1120.15H313.97ZM318.22 1108.95H322.48V1120.15H318.22ZM324.6 1108.95H326.73V1120.15H324.6ZM341.62 1108.95H343.75V1120.15H341.62ZM352.26 1108.95H354.38V1120.15H352.26ZM358.64 1108.95H360.77V1120.15H358.64ZM365.02 1108.95H367.15V1120.15H365.02ZM369.27 1108.95H371.4V1120.15H369.27ZM373.53 1108.95H377.78V1120.15H373.53ZM379.91 1108.95H384.17V1120.15H379.91ZM399.06 1108.95H401.18V1120.15H399.06ZM409.69 1108.95H411.82V1120.15H409.69ZM416.07 1108.95H418.2V1120.15H416.07ZM422.46 1108.95H424.58V1120.15H422.46ZM426.71 1108.95H428.84V1120.15H426.71ZM430.96 1108.95H435.22V1120.15H430.96ZM437.35 1108.95H441.6V1120.15H437.35ZM82.3 1088.74H93.8V1090.87H82.3ZM82.3 1080.23H93.8V1082.36H82.3ZM82.3 1071.72H93.8V1073.85H82.3ZM82.3 1067.47H93.8V1069.6H82.3ZM82.3 1058.96H93.8V1063.21H82.3ZM82.3 1050.45H93.8V1056.83H82.3ZM82.3 1031.31H93.8V1033.43H82.3ZM82.3 1022.8H93.8V1024.92H82.3ZM82.3 1014.29H93.8V1016.42H82.3ZM82.3 1010.03H93.8V1012.16H82.3ZM82.3 1005.78H93.8V1007.91H82.3ZM82.3 1001.53H93.8V1003.65H82.3ZM82.3 993.02H93.8V999.4H82.3ZM82.3 973.87H93.8V976H82.3ZM82.3 965.36H93.8V967.49H82.3ZM82.3 956.85H93.8V958.98H82.3ZM82.3 952.6H93.8V954.73H82.3ZM82.3 948.34H93.8V950.47H82.3ZM82.3 944.09H93.8V946.22H82.3ZM82.3 935.58H93.8V941.96H82.3ZM82.3 916.44H93.8V918.56H82.3ZM82.3 907.93H93.8V910.06H82.3ZM82.3 899.42H93.8V901.55H82.3ZM82.3 895.16H93.8V897.29H82.3ZM82.3 890.91H93.8V893.04H82.3ZM82.3 886.66H93.8V888.78H82.3ZM82.3 878.15H93.8V884.53H82.3ZM82.3 859H93.8V861.13H82.3ZM82.3 850.49H93.8V852.62H82.3ZM82.3 841.98H93.8V844.11H82.3ZM82.3 837.73H93.8V839.86H82.3ZM82.3 833.48H93.8V835.6H82.3ZM82.3 829.22H93.8V831.35H82.3ZM82.3 820.71H93.8V827.09H82.3ZM82.3 801.57H93.8V803.69H82.3ZM82.3 793.06H93.8V795.19H82.3ZM82.3 784.55H93.8V786.68H82.3ZM82.3 780.29H93.8V782.42H82.3ZM82.3 776.04H93.8V778.17H82.3ZM82.3 771.79H93.8V773.91H82.3ZM82.3 763.28H93.8V769.66H82.3Z" fill="#0000ff"/>
<text x="92.91" y="715.15" font-size="27.83" textLength="243.88" lengthAdjust="spacingAndGlyphs" fill="#000">D02 Bacillus b yuting</text>
<text x="93.28" y="741.75" font-size="27.83" textLength="453.52" lengthAdjust="spacingAndGlyphs" fill="#000" clip-path="url(#c0)">Gate: (Bacillus Noise in (Bacillus in all)</text>
<text x="79.19" y="1144.15" font-size="11.86" textLength="13.95" lengthAdjust="spacingAndGlyphs" fill="#0000ff" font-weight="bold">10</text>
<text x="94.17" y="1139.45" font-size="20.72" textLength="5.43" lengthAdjust="spacingAndGlyphs" fill="#0000ff" stroke="#0000ff" stroke-width="0.45">1</text>
<text x="138.59" y="1144.15" font-size="11.86" textLength="13.95" lengthAdjust="spacingAndGlyphs" fill="#0000ff" font-weight="bold">10</text>
<text x="151.03" y="1139.45" font-size="20.43" textLength="10.76" lengthAdjust="spacingAndGlyphs" fill="#0000ff" stroke="#0000ff" stroke-width="0.45">2</text>
<text x="195.59" y="1144.15" font-size="11.86" textLength="13.95" lengthAdjust="spacingAndGlyphs" fill="#0000ff" font-weight="bold">10</text>
<text x="209.19" y="1139.45" font-size="20.43" textLength="9.82" lengthAdjust="spacingAndGlyphs" fill="#0000ff" stroke="#0000ff" stroke-width="0.45">3</text>
<text x="253.39" y="1144.15" font-size="11.86" textLength="13.95" lengthAdjust="spacingAndGlyphs" fill="#0000ff" font-weight="bold">10</text>
<text x="267" y="1139.45" font-size="20.72" textLength="11.01" lengthAdjust="spacingAndGlyphs" fill="#0000ff" stroke="#0000ff" stroke-width="0.45">4</text>
<text x="313.19" y="1144.15" font-size="11.86" textLength="13.95" lengthAdjust="spacingAndGlyphs" fill="#0000ff" font-weight="bold">10</text>
<text x="326.5" y="1139.45" font-size="20.72" textLength="9.72" lengthAdjust="spacingAndGlyphs" fill="#0000ff" stroke="#0000ff" stroke-width="0.45">5</text>
<text x="370.49" y="1144.15" font-size="11.86" textLength="13.95" lengthAdjust="spacingAndGlyphs" fill="#0000ff" font-weight="bold">10</text>
<text x="384.78" y="1139.45" font-size="20.43" textLength="9.07" lengthAdjust="spacingAndGlyphs" fill="#0000ff" stroke="#0000ff" stroke-width="0.45">6</text>
<text x="432.29" y="1144.15" font-size="11.86" textLength="13.95" lengthAdjust="spacingAndGlyphs" fill="#0000ff" font-weight="bold">10</text>
<text x="445.31" y="1139.45" font-size="20.43" textLength="27.48" lengthAdjust="spacingAndGlyphs" fill="#0000ff" stroke="#0000ff" stroke-width="0.45">7.2</text>
<text transform="translate(71.4 1118.85) rotate(-90)" x="-0.82" y="0" font-size="11.86" textLength="14.11" lengthAdjust="spacingAndGlyphs" fill="#0000ff" font-weight="bold">10</text>
<text transform="translate(67 1106.1) rotate(-90)" x="-0.78" y="0" font-size="20.72" textLength="5.82" lengthAdjust="spacingAndGlyphs" fill="#0000ff" stroke="#0000ff" stroke-width="0.45">1</text>
<text transform="translate(71.4 1061.42) rotate(-90)" x="-0.82" y="0" font-size="11.86" textLength="14.11" lengthAdjust="spacingAndGlyphs" fill="#0000ff" font-weight="bold">10</text>
<text transform="translate(67 1048.67) rotate(-90)" x="-0.97" y="0" font-size="20.43" textLength="10.76" lengthAdjust="spacingAndGlyphs" fill="#0000ff" stroke="#0000ff" stroke-width="0.45">2</text>
<text transform="translate(71.4 1003.98) rotate(-90)" x="-0.82" y="0" font-size="11.86" textLength="14.11" lengthAdjust="spacingAndGlyphs" fill="#0000ff" font-weight="bold">10</text>
<text transform="translate(67 991.23) rotate(-90)" x="-0.71" y="0" font-size="20.43" textLength="9.94" lengthAdjust="spacingAndGlyphs" fill="#0000ff" stroke="#0000ff" stroke-width="0.45">3</text>
<text transform="translate(71.4 946.55) rotate(-90)" x="-0.82" y="0" font-size="11.86" textLength="14.11" lengthAdjust="spacingAndGlyphs" fill="#0000ff" font-weight="bold">10</text>
<text transform="translate(67 933.8) rotate(-90)" x="-0.49" y="0" font-size="20.72" textLength="11.01" lengthAdjust="spacingAndGlyphs" fill="#0000ff" stroke="#0000ff" stroke-width="0.45">4</text>
<text transform="translate(71.4 889.11) rotate(-90)" x="-0.82" y="0" font-size="11.86" textLength="14.11" lengthAdjust="spacingAndGlyphs" fill="#0000ff" font-weight="bold">10</text>
<text transform="translate(67 876.36) rotate(-90)" x="-0.72" y="0" font-size="20.72" textLength="10.07" lengthAdjust="spacingAndGlyphs" fill="#0000ff" stroke="#0000ff" stroke-width="0.45">5</text>
<text transform="translate(71.4 831.68) rotate(-90)" x="-0.82" y="0" font-size="11.86" textLength="14.11" lengthAdjust="spacingAndGlyphs" fill="#0000ff" font-weight="bold">10</text>
<text transform="translate(67 818.93) rotate(-90)" x="-0.91" y="0" font-size="20.43" textLength="10.16" lengthAdjust="spacingAndGlyphs" fill="#0000ff" stroke="#0000ff" stroke-width="0.45">6</text>
<text transform="translate(71.4 767.95) rotate(-90)" x="-0.81" y="0" font-size="11.86" textLength="13.84" lengthAdjust="spacingAndGlyphs" fill="#0000ff" font-weight="bold">10</text>
<text transform="translate(67 754.85) rotate(-90)" x="-0.97" y="0" font-size="20.43" textLength="26.83" lengthAdjust="spacingAndGlyphs" fill="#0000ff" stroke="#0000ff" stroke-width="0.45">7.2</text>
<text x="242.31" y="1167.6" font-size="20.86" textLength="63.39" lengthAdjust="spacingAndGlyphs" fill="#000">FSC-A</text>
<text transform="translate(44 997.7) rotate(-90)" x="-1.74" y="0" font-size="20.86" textLength="59.21" lengthAdjust="spacingAndGlyphs" fill="#000">FL3-A</text>
<rect x="93.8" y="953.05" width="359.5" height="1.8" fill="#669900"/>
<text x="273.87" y="924.95" font-size="26.96" textLength="46.55" lengthAdjust="spacingAndGlyphs" fill="#669900">Live</text>
<text x="274" y="948.55" font-size="26.96" textLength="57.83" lengthAdjust="spacingAndGlyphs" fill="#669900">1.7%</text>
<text x="273.87" y="975.95" font-size="26.96" textLength="60.66" lengthAdjust="spacingAndGlyphs" fill="#ff0000">Dead</text>
<text x="274.76" y="999.15" font-size="26.96" textLength="71.94" lengthAdjust="spacingAndGlyphs" fill="#ff0000">98.3%</text>
<rect x="625.9" y="750.05" width="359.5" height="358.9" fill="#fff"/>
<path d="M783.22 1106.82h2.13v2.13h-2.13zM789.6 1106.82h2.13v2.13h-2.13zM795.98 1106.82h2.13v2.13h-2.13zM802.36 1106.82h2.13v2.13h-2.13zM806.61 1106.82h2.13v2.13h-2.13zM810.86 1106.82h4.25v2.13h-4.25zM821.49 1106.82h2.13v2.13h-2.13zM825.74 1106.82h8.5v2.13h-8.5zM838.5 1106.82h2.13v2.13h-2.13zM855.51 1106.82h2.13v2.13h-2.13zM776.85 1104.7h2.13v2.13h-2.13zM783.22 1104.7h2.13v2.13h-2.13zM787.48 1104.7h2.13v2.13h-2.13zM798.11 1104.7h2.13v2.13h-2.13zM802.36 1104.7h4.25v2.13h-4.25zM810.86 1104.7h2.13v2.13h-2.13zM815.11 1104.7h2.13v2.13h-2.13zM823.62 1104.7h2.13v2.13h-2.13zM830 1104.7h2.13v2.13h-2.13zM834.25 1104.7h2.13v2.13h-2.13zM844.88 1104.7h2.13v2.13h-2.13zM778.97 1102.57h6.38v2.13h-6.38zM787.48 1102.57h2.13v2.13h-2.13zM791.73 1102.57h2.13v2.13h-2.13zM795.98 1102.57h4.25v2.13h-4.25zM802.36 1102.57h2.13v2.13h-2.13zM806.61 1102.57h8.5v2.13h-8.5zM817.24 1102.57h6.38v2.13h-6.38zM827.87 1102.57h4.25v2.13h-4.25zM836.37 1102.57h2.13v2.13h-2.13zM840.63 1102.57h2.13v2.13h-2.13zM783.22 1100.45h2.13v2.13h-2.13zM789.6 1100.45h2.13v2.13h-2.13zM800.23 1100.45h2.13v2.13h-2.13zM804.48 1100.45h2.13v2.13h-2.13zM808.74 1100.45h2.13v2.13h-2.13zM812.99 1100.45h2.13v2.13h-2.13zM817.24 1100.45h6.38v2.13h-6.38zM825.74 1100.45h6.38v2.13h-6.38zM842.75 1100.45h2.13v2.13h-2.13zM857.63 1100.45h2.13v2.13h-2.13zM770.47 1098.32h2.13v2.13h-2.13zM785.35 1098.32h4.25v2.13h-4.25zM795.98 1098.32h4.25v2.13h-4.25zM802.36 1098.32h4.25v2.13h-4.25zM808.74 1098.32h2.13v2.13h-2.13zM815.11 1098.32h2.13v2.13h-2.13zM819.37 1098.32h2.13v2.13h-2.13zM825.74 1098.32h6.38v2.13h-6.38zM842.75 1098.32h2.13v2.13h-2.13zM853.38 1098.32h2.13v2.13h-2.13zM857.63 1098.32h2.13v2.13h-2.13zM776.85 1096.19h8.5v2.13h-8.5zM787.48 1096.19h2.13v2.13h-2.13zM798.11 1096.19h12.76v2.13h-12.76zM815.11 1096.19h2.13v2.13h-2.13zM819.37 1096.19h2.13v2.13h-2.13zM823.62 1096.19h10.63v2.13h-10.63zM770.47 1094.07h4.25v2.13h-4.25zM776.85 1094.07h2.13v2.13h-2.13zM783.22 1094.07h2.13v2.13h-2.13zM793.85 1094.07h6.38v2.13h-6.38zM802.36 1094.07h4.25v2.13h-4.25zM808.74 1094.07h2.13v2.13h-2.13zM823.62 1094.07h2.13v2.13h-2.13zM827.87 1094.07h4.25v2.13h-4.25zM838.5 1094.07h2.13v2.13h-2.13zM868.26 1094.07h2.13v2.13h-2.13zM772.59 1091.94h2.13v2.13h-2.13zM776.85 1091.94h2.13v2.13h-2.13zM781.1 1091.94h2.13v2.13h-2.13zM787.48 1091.94h2.13v2.13h-2.13zM793.85 1091.94h4.25v2.13h-4.25zM800.23 1091.94h2.13v2.13h-2.13zM804.48 1091.94h2.13v2.13h-2.13zM810.86 1091.94h2.13v2.13h-2.13zM815.11 1091.94h2.13v2.13h-2.13zM819.37 1091.94h6.38v2.13h-6.38zM827.87 1091.94h2.13v2.13h-2.13zM836.37 1091.94h4.25v2.13h-4.25zM776.85 1089.82h4.25v2.13h-4.25zM783.22 1089.82h4.25v2.13h-4.25zM793.85 1089.82h10.63v2.13h-10.63zM806.61 1089.82h4.25v2.13h-4.25zM812.99 1089.82h21.26v2.13h-21.26zM836.37 1089.82h2.13v2.13h-2.13zM876.77 1089.82h2.13v2.13h-2.13zM776.85 1087.69h4.25v2.13h-4.25zM791.73 1087.69h6.38v2.13h-6.38zM800.23 1087.69h8.5v2.13h-8.5zM810.86 1087.69h4.25v2.13h-4.25zM817.24 1087.69h4.25v2.13h-4.25zM823.62 1087.69h2.13v2.13h-2.13zM827.87 1087.69h4.25v2.13h-4.25zM836.37 1087.69h4.25v2.13h-4.25zM851.26 1087.69h2.13v2.13h-2.13zM864.01 1087.69h2.13v2.13h-2.13zM770.47 1085.56h2.13v2.13h-2.13zM776.85 1085.56h8.5v2.13h-8.5zM787.48 1085.56h2.13v2.13h-2.13zM791.73 1085.56h12.76v2.13h-12.76zM808.74 1085.56h4.25v2.13h-4.25zM815.11 1085.56h6.38v2.13h-6.38zM823.62 1085.56h6.38v2.13h-6.38zM834.25 1085.56h4.25v2.13h-4.25zM844.88 1085.56h2.13v2.13h-2.13zM870.39 1085.56h2.13v2.13h-2.13zM774.72 1083.44h12.76v2.13h-12.76zM789.6 1083.44h4.25v2.13h-4.25zM795.98 1083.44h2.13v2.13h-2.13zM800.23 1083.44h4.25v2.13h-4.25zM806.61 1083.44h2.13v2.13h-2.13zM812.99 1083.44h23.39v2.13h-23.39zM838.5 1083.44h2.13v2.13h-2.13zM844.88 1083.44h2.13v2.13h-2.13zM849.13 1083.44h2.13v2.13h-2.13zM778.97 1081.31h6.38v2.13h-6.38zM787.48 1081.31h2.13v2.13h-2.13zM791.73 1081.31h8.5v2.13h-8.5zM804.48 1081.31h4.25v2.13h-4.25zM810.86 1081.31h10.63v2.13h-10.63zM823.62 1081.31h2.13v2.13h-2.13zM827.87 1081.31h2.13v2.13h-2.13zM832.12 1081.31h2.13v2.13h-2.13zM836.37 1081.31h6.38v2.13h-6.38zM861.89 1081.31h2.13v2.13h-2.13zM883.15 1081.31h2.13v2.13h-2.13zM770.47 1079.19h2.13v2.13h-2.13zM778.97 1079.19h4.25v2.13h-4.25zM791.73 1079.19h2.13v2.13h-2.13zM795.98 1079.19h10.63v2.13h-10.63zM808.74 1079.19h8.5v2.13h-8.5zM819.37 1079.19h6.38v2.13h-6.38zM827.87 1079.19h6.38v2.13h-6.38zM838.5 1079.19h4.25v2.13h-4.25zM857.63 1079.19h2.13v2.13h-2.13zM768.34 1077.06h6.38v2.13h-6.38zM776.85 1077.06h6.38v2.13h-6.38zM787.48 1077.06h2.13v2.13h-2.13zM791.73 1077.06h6.38v2.13h-6.38zM800.23 1077.06h2.13v2.13h-2.13zM804.48 1077.06h2.13v2.13h-2.13zM808.74 1077.06h6.38v2.13h-6.38zM817.24 1077.06h8.5v2.13h-8.5zM827.87 1077.06h4.25v2.13h-4.25zM834.25 1077.06h2.13v2.13h-2.13zM840.63 1077.06h4.25v2.13h-4.25zM849.13 1077.06h2.13v2.13h-2.13zM859.76 1077.06h2.13v2.13h-2.13zM868.26 1077.06h2.13v2.13h-2.13zM912.91 1077.06h2.13v2.13h-2.13zM770.47 1074.93h6.38v2.13h-6.38zM778.97 1074.93h2.13v2.13h-2.13zM783.22 1074.93h2.13v2.13h-2.13zM789.6 1074.93h6.38v2.13h-6.38zM798.11 1074.93h17.01v2.13h-17.01zM817.24 1074.93h2.13v2.13h-2.13zM821.49 1074.93h4.25v2.13h-4.25zM827.87 1074.93h2.13v2.13h-2.13zM836.37 1074.93h4.25v2.13h-4.25zM842.75 1074.93h2.13v2.13h-2.13zM849.13 1074.93h2.13v2.13h-2.13zM855.51 1074.93h2.13v2.13h-2.13zM868.26 1074.93h2.13v2.13h-2.13zM872.52 1074.93h2.13v2.13h-2.13zM768.34 1072.81h2.13v2.13h-2.13zM772.59 1072.81h8.5v2.13h-8.5zM783.22 1072.81h4.25v2.13h-4.25zM789.6 1072.81h2.13v2.13h-2.13zM793.85 1072.81h8.5v2.13h-8.5zM804.48 1072.81h6.38v2.13h-6.38zM812.99 1072.81h2.13v2.13h-2.13zM817.24 1072.81h6.38v2.13h-6.38zM825.74 1072.81h2.13v2.13h-2.13zM830 1072.81h4.25v2.13h-4.25zM836.37 1072.81h2.13v2.13h-2.13zM842.75 1072.81h2.13v2.13h-2.13zM847 1072.81h2.13v2.13h-2.13zM770.47 1070.68h2.13v2.13h-2.13zM774.72 1070.68h4.25v2.13h-4.25zM781.1 1070.68h4.25v2.13h-4.25zM791.73 1070.68h2.13v2.13h-2.13zM795.98 1070.68h4.25v2.13h-4.25zM802.36 1070.68h6.38v2.13h-6.38zM812.99 1070.68h6.38v2.13h-6.38zM821.49 1070.68h19.13v2.13h-19.13zM844.88 1070.68h6.38v2.13h-6.38zM853.38 1070.68h2.13v2.13h-2.13zM770.47 1068.56h17.01v2.13h-17.01zM789.6 1068.56h4.25v2.13h-4.25zM795.98 1068.56h2.13v2.13h-2.13zM802.36 1068.56h2.13v2.13h-2.13zM810.86 1068.56h21.26v2.13h-21.26zM836.37 1068.56h2.13v2.13h-2.13zM840.63 1068.56h2.13v2.13h-2.13zM853.38 1068.56h2.13v2.13h-2.13zM857.63 1068.56h2.13v2.13h-2.13zM861.89 1068.56h2.13v2.13h-2.13zM868.26 1068.56h4.25v2.13h-4.25zM768.34 1066.43h29.76v2.13h-29.76zM800.23 1066.43h2.13v2.13h-2.13zM806.61 1066.43h38.27v2.13h-38.27zM859.76 1066.43h2.13v2.13h-2.13zM868.26 1066.43h2.13v2.13h-2.13zM889.52 1066.43h2.13v2.13h-2.13zM768.34 1064.3h2.13v2.13h-2.13zM774.72 1064.3h6.38v2.13h-6.38zM783.22 1064.3h6.38v2.13h-6.38zM793.85 1064.3h6.38v2.13h-6.38zM802.36 1064.3h21.26v2.13h-21.26zM825.74 1064.3h2.13v2.13h-2.13zM834.25 1064.3h6.38v2.13h-6.38zM844.88 1064.3h2.13v2.13h-2.13zM849.13 1064.3h4.25v2.13h-4.25zM857.63 1064.3h2.13v2.13h-2.13zM768.34 1062.18h2.13v2.13h-2.13zM772.59 1062.18h4.25v2.13h-4.25zM778.97 1062.18h2.13v2.13h-2.13zM783.22 1062.18h2.13v2.13h-2.13zM787.48 1062.18h4.25v2.13h-4.25zM795.98 1062.18h4.25v2.13h-4.25zM802.36 1062.18h2.13v2.13h-2.13zM808.74 1062.18h23.39v2.13h-23.39zM838.5 1062.18h2.13v2.13h-2.13zM847 1062.18h4.25v2.13h-4.25zM857.63 1062.18h8.5v2.13h-8.5zM874.64 1062.18h2.13v2.13h-2.13zM768.34 1060.05h8.5v2.13h-8.5zM778.97 1060.05h2.13v2.13h-2.13zM783.22 1060.05h6.38v2.13h-6.38zM795.98 1060.05h2.13v2.13h-2.13zM800.23 1060.05h2.13v2.13h-2.13zM804.48 1060.05h2.13v2.13h-2.13zM810.86 1060.05h4.25v2.13h-4.25zM819.37 1060.05h8.5v2.13h-8.5zM832.12 1060.05h8.5v2.13h-8.5zM842.75 1060.05h4.25v2.13h-4.25zM849.13 1060.05h6.38v2.13h-6.38zM961.81 1060.05h2.13v2.13h-2.13zM768.34 1057.93h10.63v2.13h-10.63zM787.48 1057.93h2.13v2.13h-2.13zM800.23 1057.93h10.63v2.13h-10.63zM812.99 1057.93h4.25v2.13h-4.25zM825.74 1057.93h4.25v2.13h-4.25zM832.12 1057.93h2.13v2.13h-2.13zM836.37 1057.93h2.13v2.13h-2.13zM840.63 1057.93h6.38v2.13h-6.38zM853.38 1057.93h2.13v2.13h-2.13zM857.63 1057.93h4.25v2.13h-4.25zM872.52 1057.93h2.13v2.13h-2.13zM770.47 1055.8h12.76v2.13h-12.76zM791.73 1055.8h2.13v2.13h-2.13zM804.48 1055.8h6.38v2.13h-6.38zM812.99 1055.8h2.13v2.13h-2.13zM817.24 1055.8h17.01v2.13h-17.01zM836.37 1055.8h4.25v2.13h-4.25zM842.75 1055.8h12.76v2.13h-12.76zM861.89 1055.8h2.13v2.13h-2.13zM874.64 1055.8h2.13v2.13h-2.13zM770.47 1053.67h4.25v2.13h-4.25zM776.85 1053.67h2.13v2.13h-2.13zM791.73 1053.67h2.13v2.13h-2.13zM798.11 1053.67h2.13v2.13h-2.13zM812.99 1053.67h2.13v2.13h-2.13zM819.37 1053.67h8.5v2.13h-8.5zM830 1053.67h2.13v2.13h-2.13zM834.25 1053.67h8.5v2.13h-8.5zM844.88 1053.67h4.25v2.13h-4.25zM851.26 1053.67h4.25v2.13h-4.25zM768.34 1051.55h8.5v2.13h-8.5zM778.97 1051.55h2.13v2.13h-2.13zM787.48 1051.55h2.13v2.13h-2.13zM800.23 1051.55h2.13v2.13h-2.13zM804.48 1051.55h2.13v2.13h-2.13zM815.11 1051.55h2.13v2.13h-2.13zM819.37 1051.55h6.38v2.13h-6.38zM827.87 1051.55h8.5v2.13h-8.5zM838.5 1051.55h2.13v2.13h-2.13zM847 1051.55h2.13v2.13h-2.13zM851.26 1051.55h6.38v2.13h-6.38zM859.76 1051.55h2.13v2.13h-2.13zM870.39 1051.55h2.13v2.13h-2.13zM900.15 1051.55h2.13v2.13h-2.13zM770.47 1049.42h4.25v2.13h-4.25zM776.85 1049.42h2.13v2.13h-2.13zM781.1 1049.42h2.13v2.13h-2.13zM812.99 1049.42h2.13v2.13h-2.13zM817.24 1049.42h4.25v2.13h-4.25zM823.62 1049.42h10.63v2.13h-10.63zM840.63 1049.42h10.63v2.13h-10.63zM857.63 1049.42h2.13v2.13h-2.13zM866.14 1049.42h2.13v2.13h-2.13zM874.64 1049.42h2.13v2.13h-2.13zM768.34 1047.3h6.38v2.13h-6.38zM798.11 1047.3h2.13v2.13h-2.13zM812.99 1047.3h2.13v2.13h-2.13zM821.49 1047.3h8.5v2.13h-8.5zM834.25 1047.3h12.76v2.13h-12.76zM849.13 1047.3h4.25v2.13h-4.25zM861.89 1047.3h2.13v2.13h-2.13zM868.26 1047.3h2.13v2.13h-2.13zM876.77 1047.3h2.13v2.13h-2.13zM883.15 1047.3h2.13v2.13h-2.13zM772.59 1045.17h4.25v2.13h-4.25zM778.97 1045.17h2.13v2.13h-2.13zM783.22 1045.17h2.13v2.13h-2.13zM787.48 1045.17h2.13v2.13h-2.13zM793.85 1045.17h2.13v2.13h-2.13zM802.36 1045.17h2.13v2.13h-2.13zM812.99 1045.17h2.13v2.13h-2.13zM817.24 1045.17h2.13v2.13h-2.13zM821.49 1045.17h2.13v2.13h-2.13zM827.87 1045.17h8.5v2.13h-8.5zM838.5 1045.17h4.25v2.13h-4.25zM844.88 1045.17h19.13v2.13h-19.13zM770.47 1043.04h2.13v2.13h-2.13zM774.72 1043.04h2.13v2.13h-2.13zM817.24 1043.04h2.13v2.13h-2.13zM825.74 1043.04h6.38v2.13h-6.38zM836.37 1043.04h6.38v2.13h-6.38zM844.88 1043.04h2.13v2.13h-2.13zM853.38 1043.04h4.25v2.13h-4.25zM859.76 1043.04h2.13v2.13h-2.13zM864.01 1043.04h2.13v2.13h-2.13zM881.02 1043.04h2.13v2.13h-2.13zM768.34 1040.92h2.13v2.13h-2.13zM772.59 1040.92h2.13v2.13h-2.13zM778.97 1040.92h2.13v2.13h-2.13zM817.24 1040.92h4.25v2.13h-4.25zM823.62 1040.92h4.25v2.13h-4.25zM830 1040.92h2.13v2.13h-2.13zM834.25 1040.92h10.63v2.13h-10.63zM851.26 1040.92h12.76v2.13h-12.76zM868.26 1040.92h2.13v2.13h-2.13zM883.15 1040.92h2.13v2.13h-2.13zM768.34 1038.79h2.13v2.13h-2.13zM825.74 1038.79h2.13v2.13h-2.13zM832.12 1038.79h6.38v2.13h-6.38zM840.63 1038.79h2.13v2.13h-2.13zM847 1038.79h6.38v2.13h-6.38zM857.63 1038.79h2.13v2.13h-2.13zM861.89 1038.79h4.25v2.13h-4.25zM870.39 1038.79h2.13v2.13h-2.13zM883.15 1038.79h2.13v2.13h-2.13zM768.34 1036.67h4.25v2.13h-4.25zM776.85 1036.67h2.13v2.13h-2.13zM823.62 1036.67h2.13v2.13h-2.13zM827.87 1036.67h14.88v2.13h-14.88zM844.88 1036.67h2.13v2.13h-2.13zM849.13 1036.67h4.25v2.13h-4.25zM855.51 1036.67h4.25v2.13h-4.25zM861.89 1036.67h2.13v2.13h-2.13zM866.14 1036.67h2.13v2.13h-2.13zM770.47 1034.54h4.25v2.13h-4.25zM821.49 1034.54h2.13v2.13h-2.13zM825.74 1034.54h6.38v2.13h-6.38zM836.37 1034.54h8.5v2.13h-8.5zM849.13 1034.54h2.13v2.13h-2.13zM857.63 1034.54h2.13v2.13h-2.13zM861.89 1034.54h2.13v2.13h-2.13zM770.47 1032.41h2.13v2.13h-2.13zM810.86 1032.41h2.13v2.13h-2.13zM819.37 1032.41h4.25v2.13h-4.25zM830 1032.41h8.5v2.13h-8.5zM840.63 1032.41h4.25v2.13h-4.25zM855.51 1032.41h12.76v2.13h-12.76zM870.39 1032.41h2.13v2.13h-2.13zM876.77 1032.41h2.13v2.13h-2.13zM768.34 1030.29h4.25v2.13h-4.25zM823.62 1030.29h8.5v2.13h-8.5zM834.25 1030.29h2.13v2.13h-2.13zM838.5 1030.29h6.38v2.13h-6.38zM859.76 1030.29h4.25v2.13h-4.25zM868.26 1030.29h2.13v2.13h-2.13zM819.37 1028.16h2.13v2.13h-2.13zM827.87 1028.16h2.13v2.13h-2.13zM832.12 1028.16h8.5v2.13h-8.5zM842.75 1028.16h2.13v2.13h-2.13zM847 1028.16h2.13v2.13h-2.13zM855.51 1028.16h2.13v2.13h-2.13zM859.76 1028.16h2.13v2.13h-2.13zM876.77 1028.16h4.25v2.13h-4.25zM895.9 1028.16h2.13v2.13h-2.13zM815.11 1026.04h2.13v2.13h-2.13zM823.62 1026.04h2.13v2.13h-2.13zM830 1026.04h10.63v2.13h-10.63zM842.75 1026.04h2.13v2.13h-2.13zM859.76 1026.04h10.63v2.13h-10.63zM887.4 1026.04h2.13v2.13h-2.13zM770.47 1023.91h2.13v2.13h-2.13zM819.37 1023.91h4.25v2.13h-4.25zM834.25 1023.91h6.38v2.13h-6.38zM861.89 1023.91h6.38v2.13h-6.38zM881.02 1023.91h2.13v2.13h-2.13zM768.34 1021.78h2.13v2.13h-2.13zM832.12 1021.78h2.13v2.13h-2.13zM838.5 1021.78h2.13v2.13h-2.13zM857.63 1021.78h2.13v2.13h-2.13zM864.01 1021.78h4.25v2.13h-4.25zM883.15 1021.78h2.13v2.13h-2.13zM768.34 1019.66h2.13v2.13h-2.13zM819.37 1019.66h2.13v2.13h-2.13zM834.25 1019.66h2.13v2.13h-2.13zM861.89 1019.66h2.13v2.13h-2.13zM866.14 1019.66h4.25v2.13h-4.25zM768.34 1017.53h2.13v2.13h-2.13zM817.24 1017.53h2.13v2.13h-2.13zM830 1017.53h2.13v2.13h-2.13zM838.5 1017.53h4.25v2.13h-4.25zM861.89 1017.53h2.13v2.13h-2.13zM868.26 1017.53h4.25v2.13h-4.25zM832.12 1015.41h4.25v2.13h-4.25zM857.63 1015.41h4.25v2.13h-4.25zM864.01 1015.41h2.13v2.13h-2.13zM868.26 1015.41h2.13v2.13h-2.13zM885.27 1015.41h2.13v2.13h-2.13zM832.12 1013.28h2.13v2.13h-2.13zM859.76 1013.28h2.13v2.13h-2.13zM866.14 1013.28h6.38v2.13h-6.38zM966.06 1013.28h2.13v2.13h-2.13zM861.89 1011.15h4.25v2.13h-4.25zM868.26 1011.15h2.13v2.13h-2.13zM874.64 1011.15h2.13v2.13h-2.13zM878.89 1011.15h2.13v2.13h-2.13zM766.22 1009.03h2.13v2.13h-2.13zM827.87 1009.03h2.13v2.13h-2.13zM832.12 1009.03h2.13v2.13h-2.13zM857.63 1009.03h2.13v2.13h-2.13zM866.14 1009.03h2.13v2.13h-2.13zM887.4 1009.03h2.13v2.13h-2.13zM864.01 1006.9h2.13v2.13h-2.13zM868.26 1006.9h4.25v2.13h-4.25zM889.52 1006.9h2.13v2.13h-2.13zM825.74 1004.78h2.13v2.13h-2.13zM834.25 1004.78h2.13v2.13h-2.13zM825.74 1002.65h6.38v2.13h-6.38zM836.37 1002.65h2.13v2.13h-2.13zM861.89 1002.65h2.13v2.13h-2.13zM868.26 1002.65h2.13v2.13h-2.13zM900.15 1002.65h2.13v2.13h-2.13zM834.25 1000.52h4.25v2.13h-4.25zM861.89 1000.52h4.25v2.13h-4.25zM870.39 1000.52h2.13v2.13h-2.13zM827.87 998.4h4.25v2.13h-4.25zM861.89 998.4h2.13v2.13h-2.13zM866.14 998.4h2.13v2.13h-2.13zM957.56 998.4h2.13v2.13h-2.13zM864.01 996.27h4.25v2.13h-4.25zM870.39 996.27h2.13v2.13h-2.13zM885.27 996.27h2.13v2.13h-2.13zM827.87 994.15h2.13v2.13h-2.13zM864.01 994.15h8.5v2.13h-8.5zM917.16 994.15h2.13v2.13h-2.13zM836.37 992.02h2.13v2.13h-2.13zM866.14 992.02h8.5v2.13h-8.5zM878.89 992.02h2.13v2.13h-2.13zM887.4 992.02h2.13v2.13h-2.13zM864.01 989.89h6.38v2.13h-6.38zM872.52 989.89h2.13v2.13h-2.13zM823.62 987.77h2.13v2.13h-2.13zM864.01 987.77h4.25v2.13h-4.25zM891.65 987.77h2.13v2.13h-2.13zM830 985.64h2.13v2.13h-2.13zM838.5 985.64h2.13v2.13h-2.13zM861.89 985.64h2.13v2.13h-2.13zM895.9 985.64h2.13v2.13h-2.13zM830 983.52h2.13v2.13h-2.13zM861.89 983.52h4.25v2.13h-4.25zM768.34 981.39h2.13v2.13h-2.13zM868.26 981.39h2.13v2.13h-2.13zM825.74 979.26h2.13v2.13h-2.13zM861.89 979.26h2.13v2.13h-2.13zM866.14 979.26h2.13v2.13h-2.13zM874.64 979.26h2.13v2.13h-2.13zM878.89 979.26h2.13v2.13h-2.13zM768.34 977.14h2.13v2.13h-2.13zM827.87 977.14h2.13v2.13h-2.13zM868.26 977.14h2.13v2.13h-2.13zM876.77 977.14h2.13v2.13h-2.13zM883.15 977.14h2.13v2.13h-2.13zM764.09 975.01h2.13v2.13h-2.13zM864.01 975.01h2.13v2.13h-2.13zM868.26 975.01h4.25v2.13h-4.25zM878.89 975.01h2.13v2.13h-2.13zM895.9 975.01h2.13v2.13h-2.13zM946.93 975.01h2.13v2.13h-2.13zM825.74 972.89h2.13v2.13h-2.13zM834.25 972.89h2.13v2.13h-2.13zM861.89 972.89h2.13v2.13h-2.13zM766.22 970.76h4.25v2.13h-4.25zM830 970.76h6.38v2.13h-6.38zM864.01 970.76h8.5v2.13h-8.5zM883.15 970.76h2.13v2.13h-2.13zM895.9 970.76h2.13v2.13h-2.13zM755.59 968.63h2.13v2.13h-2.13zM770.47 968.63h2.13v2.13h-2.13zM825.74 968.63h2.13v2.13h-2.13zM830 968.63h2.13v2.13h-2.13zM834.25 968.63h6.38v2.13h-6.38zM861.89 968.63h6.38v2.13h-6.38zM870.39 968.63h2.13v2.13h-2.13zM874.64 968.63h2.13v2.13h-2.13zM902.28 968.63h2.13v2.13h-2.13zM772.59 966.51h2.13v2.13h-2.13zM830 966.51h4.25v2.13h-4.25zM836.37 966.51h2.13v2.13h-2.13zM840.63 966.51h2.13v2.13h-2.13zM861.89 966.51h8.5v2.13h-8.5zM872.52 966.51h2.13v2.13h-2.13zM883.15 966.51h2.13v2.13h-2.13zM893.78 966.51h2.13v2.13h-2.13zM904.41 966.51h2.13v2.13h-2.13zM770.47 964.38h4.25v2.13h-4.25zM832.12 964.38h2.13v2.13h-2.13zM861.89 964.38h2.13v2.13h-2.13zM866.14 964.38h4.25v2.13h-4.25zM872.52 964.38h2.13v2.13h-2.13zM878.89 964.38h2.13v2.13h-2.13zM889.52 964.38h2.13v2.13h-2.13zM898.03 964.38h2.13v2.13h-2.13zM912.91 964.38h2.13v2.13h-2.13zM983.07 964.38h2.13v2.13h-2.13zM770.47 962.26h6.38v2.13h-6.38zM823.62 962.26h2.13v2.13h-2.13zM832.12 962.26h2.13v2.13h-2.13zM838.5 962.26h2.13v2.13h-2.13zM864.01 962.26h6.38v2.13h-6.38zM876.77 962.26h2.13v2.13h-2.13zM881.02 962.26h2.13v2.13h-2.13zM900.15 962.26h2.13v2.13h-2.13zM770.47 960.13h2.13v2.13h-2.13zM857.63 960.13h2.13v2.13h-2.13zM864.01 960.13h2.13v2.13h-2.13zM868.26 960.13h2.13v2.13h-2.13zM872.52 960.13h2.13v2.13h-2.13zM876.77 960.13h2.13v2.13h-2.13zM883.15 960.13h2.13v2.13h-2.13zM902.28 960.13h2.13v2.13h-2.13zM912.91 960.13h2.13v2.13h-2.13zM980.94 960.13h2.13v2.13h-2.13zM770.47 958h2.13v2.13h-2.13zM859.76 958h2.13v2.13h-2.13zM864.01 958h2.13v2.13h-2.13zM868.26 958h6.38v2.13h-6.38zM878.89 958h2.13v2.13h-2.13zM883.15 958h6.38v2.13h-6.38zM898.03 958h2.13v2.13h-2.13zM912.91 958h2.13v2.13h-2.13zM953.3 958h2.13v2.13h-2.13zM770.47 955.88h2.13v2.13h-2.13zM776.85 955.88h2.13v2.13h-2.13zM861.89 955.88h2.13v2.13h-2.13zM866.14 955.88h8.5v2.13h-8.5zM876.77 955.88h2.13v2.13h-2.13zM881.02 955.88h4.25v2.13h-4.25zM889.52 955.88h4.25v2.13h-4.25zM768.34 953.75h6.38v2.13h-6.38zM819.37 953.75h2.13v2.13h-2.13zM857.63 953.75h4.25v2.13h-4.25zM864.01 953.75h4.25v2.13h-4.25zM870.39 953.75h4.25v2.13h-4.25zM876.77 953.75h6.38v2.13h-6.38zM887.4 953.75h2.13v2.13h-2.13zM891.65 953.75h2.13v2.13h-2.13zM902.28 953.75h8.5v2.13h-8.5zM859.76 951.63h2.13v2.13h-2.13zM866.14 951.63h6.38v2.13h-6.38zM876.77 951.63h2.13v2.13h-2.13zM883.15 951.63h8.5v2.13h-8.5zM895.9 951.63h4.25v2.13h-4.25zM902.28 951.63h2.13v2.13h-2.13zM910.78 951.63h2.13v2.13h-2.13zM919.29 951.63h2.13v2.13h-2.13zM768.34 949.5h8.5v2.13h-8.5zM787.48 949.5h2.13v2.13h-2.13zM793.85 949.5h2.13v2.13h-2.13zM823.62 949.5h2.13v2.13h-2.13zM834.25 949.5h2.13v2.13h-2.13zM859.76 949.5h4.25v2.13h-4.25zM866.14 949.5h4.25v2.13h-4.25zM874.64 949.5h2.13v2.13h-2.13zM878.89 949.5h4.25v2.13h-4.25zM887.4 949.5h2.13v2.13h-2.13zM893.78 949.5h2.13v2.13h-2.13zM898.03 949.5h2.13v2.13h-2.13zM902.28 949.5h2.13v2.13h-2.13zM906.53 949.5h2.13v2.13h-2.13zM946.93 949.5h2.13v2.13h-2.13zM755.59 947.37h2.13v2.13h-2.13zM768.34 947.37h6.38v2.13h-6.38zM781.1 947.37h2.13v2.13h-2.13zM840.63 947.37h2.13v2.13h-2.13zM868.26 947.37h8.5v2.13h-8.5zM878.89 947.37h8.5v2.13h-8.5zM904.41 947.37h2.13v2.13h-2.13zM910.78 947.37h2.13v2.13h-2.13zM919.29 947.37h2.13v2.13h-2.13zM768.34 945.25h2.13v2.13h-2.13zM772.59 945.25h8.5v2.13h-8.5zM836.37 945.25h2.13v2.13h-2.13zM866.14 945.25h14.88v2.13h-14.88zM885.27 945.25h6.38v2.13h-6.38zM895.9 945.25h4.25v2.13h-4.25zM912.91 945.25h2.13v2.13h-2.13zM925.67 945.25h2.13v2.13h-2.13zM770.47 943.12h8.5v2.13h-8.5zM834.25 943.12h2.13v2.13h-2.13zM838.5 943.12h2.13v2.13h-2.13zM857.63 943.12h2.13v2.13h-2.13zM861.89 943.12h8.5v2.13h-8.5zM872.52 943.12h2.13v2.13h-2.13zM876.77 943.12h21.26v2.13h-21.26zM900.15 943.12h4.25v2.13h-4.25zM906.53 943.12h2.13v2.13h-2.13zM917.16 943.12h2.13v2.13h-2.13zM944.8 943.12h2.13v2.13h-2.13zM768.34 941h10.63v2.13h-10.63zM781.1 941h2.13v2.13h-2.13zM791.73 941h2.13v2.13h-2.13zM855.51 941h2.13v2.13h-2.13zM859.76 941h12.76v2.13h-12.76zM874.64 941h4.25v2.13h-4.25zM881.02 941h2.13v2.13h-2.13zM885.27 941h6.38v2.13h-6.38zM893.78 941h6.38v2.13h-6.38zM912.91 941h2.13v2.13h-2.13zM772.59 938.87h8.5v2.13h-8.5zM787.48 938.87h2.13v2.13h-2.13zM840.63 938.87h2.13v2.13h-2.13zM861.89 938.87h4.25v2.13h-4.25zM868.26 938.87h2.13v2.13h-2.13zM872.52 938.87h2.13v2.13h-2.13zM876.77 938.87h6.38v2.13h-6.38zM889.52 938.87h2.13v2.13h-2.13zM893.78 938.87h2.13v2.13h-2.13zM904.41 938.87h2.13v2.13h-2.13zM908.66 938.87h2.13v2.13h-2.13zM927.79 938.87h2.13v2.13h-2.13zM961.81 938.87h2.13v2.13h-2.13zM770.47 936.74h8.5v2.13h-8.5zM785.35 936.74h2.13v2.13h-2.13zM791.73 936.74h2.13v2.13h-2.13zM808.74 936.74h2.13v2.13h-2.13zM836.37 936.74h2.13v2.13h-2.13zM842.75 936.74h2.13v2.13h-2.13zM849.13 936.74h2.13v2.13h-2.13zM857.63 936.74h4.25v2.13h-4.25zM870.39 936.74h8.5v2.13h-8.5zM881.02 936.74h4.25v2.13h-4.25zM887.4 936.74h6.38v2.13h-6.38zM768.34 934.62h2.13v2.13h-2.13zM774.72 934.62h2.13v2.13h-2.13zM778.97 934.62h6.38v2.13h-6.38zM789.6 934.62h2.13v2.13h-2.13zM795.98 934.62h4.25v2.13h-4.25zM819.37 934.62h2.13v2.13h-2.13zM832.12 934.62h2.13v2.13h-2.13zM855.51 934.62h14.88v2.13h-14.88zM872.52 934.62h4.25v2.13h-4.25zM878.89 934.62h2.13v2.13h-2.13zM885.27 934.62h4.25v2.13h-4.25zM895.9 934.62h2.13v2.13h-2.13zM921.41 934.62h2.13v2.13h-2.13zM944.8 934.62h2.13v2.13h-2.13zM774.72 932.49h10.63v2.13h-10.63zM787.48 932.49h8.5v2.13h-8.5zM804.48 932.49h2.13v2.13h-2.13zM819.37 932.49h4.25v2.13h-4.25zM861.89 932.49h10.63v2.13h-10.63zM874.64 932.49h4.25v2.13h-4.25zM883.15 932.49h2.13v2.13h-2.13zM887.4 932.49h4.25v2.13h-4.25zM893.78 932.49h2.13v2.13h-2.13zM900.15 932.49h2.13v2.13h-2.13zM921.41 932.49h2.13v2.13h-2.13zM776.85 930.37h4.25v2.13h-4.25zM783.22 930.37h4.25v2.13h-4.25zM791.73 930.37h6.38v2.13h-6.38zM800.23 930.37h4.25v2.13h-4.25zM806.61 930.37h6.38v2.13h-6.38zM817.24 930.37h2.13v2.13h-2.13zM855.51 930.37h2.13v2.13h-2.13zM859.76 930.37h10.63v2.13h-10.63zM872.52 930.37h6.38v2.13h-6.38zM883.15 930.37h2.13v2.13h-2.13zM889.52 930.37h2.13v2.13h-2.13zM900.15 930.37h6.38v2.13h-6.38zM921.41 930.37h2.13v2.13h-2.13zM778.97 928.24h2.13v2.13h-2.13zM785.35 928.24h14.88v2.13h-14.88zM804.48 928.24h12.76v2.13h-12.76zM823.62 928.24h4.25v2.13h-4.25zM832.12 928.24h4.25v2.13h-4.25zM842.75 928.24h2.13v2.13h-2.13zM857.63 928.24h2.13v2.13h-2.13zM861.89 928.24h10.63v2.13h-10.63zM874.64 928.24h2.13v2.13h-2.13zM878.89 928.24h2.13v2.13h-2.13zM889.52 928.24h2.13v2.13h-2.13zM893.78 928.24h4.25v2.13h-4.25zM906.53 928.24h2.13v2.13h-2.13zM770.47 926.11h2.13v2.13h-2.13zM778.97 926.11h19.13v2.13h-19.13zM800.23 926.11h14.88v2.13h-14.88zM821.49 926.11h2.13v2.13h-2.13zM825.74 926.11h6.38v2.13h-6.38zM840.63 926.11h2.13v2.13h-2.13zM855.51 926.11h6.38v2.13h-6.38zM864.01 926.11h8.5v2.13h-8.5zM874.64 926.11h2.13v2.13h-2.13zM878.89 926.11h4.25v2.13h-4.25zM885.27 926.11h2.13v2.13h-2.13zM932.04 926.11h2.13v2.13h-2.13zM774.72 923.99h2.13v2.13h-2.13zM778.97 923.99h2.13v2.13h-2.13zM783.22 923.99h10.63v2.13h-10.63zM795.98 923.99h8.5v2.13h-8.5zM808.74 923.99h2.13v2.13h-2.13zM812.99 923.99h2.13v2.13h-2.13zM821.49 923.99h2.13v2.13h-2.13zM825.74 923.99h8.5v2.13h-8.5zM844.88 923.99h2.13v2.13h-2.13zM851.26 923.99h2.13v2.13h-2.13zM855.51 923.99h2.13v2.13h-2.13zM859.76 923.99h17.01v2.13h-17.01zM895.9 923.99h2.13v2.13h-2.13zM770.47 921.86h2.13v2.13h-2.13zM778.97 921.86h4.25v2.13h-4.25zM785.35 921.86h4.25v2.13h-4.25zM791.73 921.86h4.25v2.13h-4.25zM800.23 921.86h4.25v2.13h-4.25zM808.74 921.86h2.13v2.13h-2.13zM812.99 921.86h2.13v2.13h-2.13zM819.37 921.86h4.25v2.13h-4.25zM825.74 921.86h6.38v2.13h-6.38zM838.5 921.86h2.13v2.13h-2.13zM851.26 921.86h14.88v2.13h-14.88zM868.26 921.86h10.63v2.13h-10.63zM919.29 921.86h2.13v2.13h-2.13zM923.54 921.86h2.13v2.13h-2.13zM772.59 919.74h4.25v2.13h-4.25zM778.97 919.74h4.25v2.13h-4.25zM785.35 919.74h4.25v2.13h-4.25zM791.73 919.74h2.13v2.13h-2.13zM795.98 919.74h12.76v2.13h-12.76zM810.86 919.74h4.25v2.13h-4.25zM817.24 919.74h8.5v2.13h-8.5zM832.12 919.74h2.13v2.13h-2.13zM838.5 919.74h2.13v2.13h-2.13zM842.75 919.74h8.5v2.13h-8.5zM853.38 919.74h4.25v2.13h-4.25zM859.76 919.74h6.38v2.13h-6.38zM868.26 919.74h6.38v2.13h-6.38zM876.77 919.74h2.13v2.13h-2.13zM881.02 919.74h6.38v2.13h-6.38zM891.65 919.74h2.13v2.13h-2.13zM781.1 917.61h8.5v2.13h-8.5zM791.73 917.61h10.63v2.13h-10.63zM804.48 917.61h2.13v2.13h-2.13zM808.74 917.61h14.88v2.13h-14.88zM827.87 917.61h6.38v2.13h-6.38zM836.37 917.61h4.25v2.13h-4.25zM844.88 917.61h6.38v2.13h-6.38zM853.38 917.61h2.13v2.13h-2.13zM859.76 917.61h4.25v2.13h-4.25zM868.26 917.61h2.13v2.13h-2.13zM872.52 917.61h2.13v2.13h-2.13zM876.77 917.61h4.25v2.13h-4.25zM885.27 917.61h4.25v2.13h-4.25zM785.35 915.48h2.13v2.13h-2.13zM791.73 915.48h4.25v2.13h-4.25zM802.36 915.48h10.63v2.13h-10.63zM817.24 915.48h2.13v2.13h-2.13zM821.49 915.48h8.5v2.13h-8.5zM834.25 915.48h14.88v2.13h-14.88zM851.26 915.48h2.13v2.13h-2.13zM857.63 915.48h23.39v2.13h-23.39zM883.15 915.48h6.38v2.13h-6.38zM791.73 913.36h2.13v2.13h-2.13zM800.23 913.36h2.13v2.13h-2.13zM804.48 913.36h2.13v2.13h-2.13zM810.86 913.36h2.13v2.13h-2.13zM815.11 913.36h19.13v2.13h-19.13zM840.63 913.36h6.38v2.13h-6.38zM849.13 913.36h8.5v2.13h-8.5zM859.76 913.36h12.76v2.13h-12.76zM876.77 913.36h2.13v2.13h-2.13zM883.15 913.36h2.13v2.13h-2.13zM889.52 913.36h4.25v2.13h-4.25zM783.22 911.23h2.13v2.13h-2.13zM791.73 911.23h2.13v2.13h-2.13zM795.98 911.23h2.13v2.13h-2.13zM802.36 911.23h4.25v2.13h-4.25zM808.74 911.23h2.13v2.13h-2.13zM812.99 911.23h6.38v2.13h-6.38zM821.49 911.23h8.5v2.13h-8.5zM834.25 911.23h2.13v2.13h-2.13zM838.5 911.23h4.25v2.13h-4.25zM847 911.23h2.13v2.13h-2.13zM851.26 911.23h2.13v2.13h-2.13zM857.63 911.23h2.13v2.13h-2.13zM861.89 911.23h10.63v2.13h-10.63zM874.64 911.23h4.25v2.13h-4.25zM883.15 911.23h2.13v2.13h-2.13zM910.78 911.23h2.13v2.13h-2.13zM770.47 909.11h2.13v2.13h-2.13zM785.35 909.11h2.13v2.13h-2.13zM791.73 909.11h4.25v2.13h-4.25zM800.23 909.11h2.13v2.13h-2.13zM804.48 909.11h14.88v2.13h-14.88zM821.49 909.11h21.26v2.13h-21.26zM847 909.11h2.13v2.13h-2.13zM853.38 909.11h8.5v2.13h-8.5zM864.01 909.11h8.5v2.13h-8.5zM876.77 909.11h8.5v2.13h-8.5zM887.4 909.11h2.13v2.13h-2.13zM900.15 909.11h2.13v2.13h-2.13zM778.97 906.98h2.13v2.13h-2.13zM806.61 906.98h4.25v2.13h-4.25zM812.99 906.98h2.13v2.13h-2.13zM821.49 906.98h2.13v2.13h-2.13zM825.74 906.98h12.76v2.13h-12.76zM859.76 906.98h2.13v2.13h-2.13zM868.26 906.98h12.76v2.13h-12.76zM883.15 906.98h4.25v2.13h-4.25zM889.52 906.98h2.13v2.13h-2.13zM900.15 906.98h2.13v2.13h-2.13zM787.48 904.85h2.13v2.13h-2.13zM808.74 904.85h2.13v2.13h-2.13zM812.99 904.85h8.5v2.13h-8.5zM823.62 904.85h6.38v2.13h-6.38zM832.12 904.85h2.13v2.13h-2.13zM836.37 904.85h8.5v2.13h-8.5zM847 904.85h2.13v2.13h-2.13zM851.26 904.85h4.25v2.13h-4.25zM859.76 904.85h21.26v2.13h-21.26zM883.15 904.85h6.38v2.13h-6.38zM891.65 904.85h2.13v2.13h-2.13zM972.44 904.85h2.13v2.13h-2.13zM793.85 902.73h2.13v2.13h-2.13zM798.11 902.73h2.13v2.13h-2.13zM808.74 902.73h2.13v2.13h-2.13zM815.11 902.73h8.5v2.13h-8.5zM825.74 902.73h2.13v2.13h-2.13zM830 902.73h2.13v2.13h-2.13zM834.25 902.73h2.13v2.13h-2.13zM840.63 902.73h2.13v2.13h-2.13zM844.88 902.73h2.13v2.13h-2.13zM851.26 902.73h2.13v2.13h-2.13zM864.01 902.73h4.25v2.13h-4.25zM870.39 902.73h2.13v2.13h-2.13zM874.64 902.73h4.25v2.13h-4.25zM881.02 902.73h2.13v2.13h-2.13zM889.52 902.73h4.25v2.13h-4.25zM895.9 902.73h2.13v2.13h-2.13zM900.15 902.73h2.13v2.13h-2.13zM789.6 900.6h2.13v2.13h-2.13zM806.61 900.6h2.13v2.13h-2.13zM812.99 900.6h2.13v2.13h-2.13zM817.24 900.6h19.13v2.13h-19.13zM840.63 900.6h4.25v2.13h-4.25zM847 900.6h2.13v2.13h-2.13zM853.38 900.6h14.88v2.13h-14.88zM874.64 900.6h8.5v2.13h-8.5zM887.4 900.6h6.38v2.13h-6.38zM912.91 900.6h2.13v2.13h-2.13zM768.34 898.48h2.13v2.13h-2.13zM783.22 898.48h4.25v2.13h-4.25zM808.74 898.48h2.13v2.13h-2.13zM812.99 898.48h2.13v2.13h-2.13zM819.37 898.48h14.88v2.13h-14.88zM836.37 898.48h4.25v2.13h-4.25zM842.75 898.48h4.25v2.13h-4.25zM849.13 898.48h2.13v2.13h-2.13zM859.76 898.48h2.13v2.13h-2.13zM866.14 898.48h2.13v2.13h-2.13zM870.39 898.48h2.13v2.13h-2.13zM874.64 898.48h10.63v2.13h-10.63zM887.4 898.48h4.25v2.13h-4.25zM895.9 898.48h2.13v2.13h-2.13zM783.22 896.35h2.13v2.13h-2.13zM791.73 896.35h2.13v2.13h-2.13zM798.11 896.35h2.13v2.13h-2.13zM804.48 896.35h2.13v2.13h-2.13zM812.99 896.35h4.25v2.13h-4.25zM821.49 896.35h2.13v2.13h-2.13zM825.74 896.35h6.38v2.13h-6.38zM834.25 896.35h2.13v2.13h-2.13zM838.5 896.35h4.25v2.13h-4.25zM844.88 896.35h14.88v2.13h-14.88zM861.89 896.35h2.13v2.13h-2.13zM866.14 896.35h8.5v2.13h-8.5zM876.77 896.35h2.13v2.13h-2.13zM881.02 896.35h2.13v2.13h-2.13zM885.27 896.35h2.13v2.13h-2.13zM889.52 896.35h4.25v2.13h-4.25zM806.61 894.22h2.13v2.13h-2.13zM812.99 894.22h2.13v2.13h-2.13zM817.24 894.22h2.13v2.13h-2.13zM823.62 894.22h2.13v2.13h-2.13zM827.87 894.22h2.13v2.13h-2.13zM832.12 894.22h17.01v2.13h-17.01zM851.26 894.22h19.13v2.13h-19.13zM872.52 894.22h4.25v2.13h-4.25zM878.89 894.22h2.13v2.13h-2.13zM883.15 894.22h2.13v2.13h-2.13zM887.4 894.22h2.13v2.13h-2.13zM893.78 894.22h2.13v2.13h-2.13zM902.28 894.22h2.13v2.13h-2.13zM906.53 894.22h2.13v2.13h-2.13zM819.37 892.1h2.13v2.13h-2.13zM830 892.1h6.38v2.13h-6.38zM838.5 892.1h6.38v2.13h-6.38zM849.13 892.1h2.13v2.13h-2.13zM857.63 892.1h2.13v2.13h-2.13zM861.89 892.1h2.13v2.13h-2.13zM870.39 892.1h8.5v2.13h-8.5zM881.02 892.1h2.13v2.13h-2.13zM887.4 892.1h4.25v2.13h-4.25zM898.03 892.1h2.13v2.13h-2.13zM812.99 889.97h2.13v2.13h-2.13zM819.37 889.97h4.25v2.13h-4.25zM832.12 889.97h2.13v2.13h-2.13zM836.37 889.97h4.25v2.13h-4.25zM842.75 889.97h2.13v2.13h-2.13zM847 889.97h4.25v2.13h-4.25zM855.51 889.97h2.13v2.13h-2.13zM864.01 889.97h2.13v2.13h-2.13zM868.26 889.97h2.13v2.13h-2.13zM872.52 889.97h4.25v2.13h-4.25zM883.15 889.97h2.13v2.13h-2.13zM887.4 889.97h4.25v2.13h-4.25zM893.78 889.97h2.13v2.13h-2.13zM900.15 889.97h4.25v2.13h-4.25zM808.74 887.85h2.13v2.13h-2.13zM812.99 887.85h4.25v2.13h-4.25zM823.62 887.85h2.13v2.13h-2.13zM834.25 887.85h4.25v2.13h-4.25zM844.88 887.85h2.13v2.13h-2.13zM849.13 887.85h10.63v2.13h-10.63zM864.01 887.85h4.25v2.13h-4.25zM872.52 887.85h6.38v2.13h-6.38zM885.27 887.85h2.13v2.13h-2.13zM889.52 887.85h2.13v2.13h-2.13zM898.03 887.85h2.13v2.13h-2.13zM819.37 885.72h2.13v2.13h-2.13zM830 885.72h17.01v2.13h-17.01zM849.13 885.72h4.25v2.13h-4.25zM859.76 885.72h6.38v2.13h-6.38zM868.26 885.72h4.25v2.13h-4.25zM874.64 885.72h4.25v2.13h-4.25zM881.02 885.72h2.13v2.13h-2.13zM887.4 885.72h2.13v2.13h-2.13zM891.65 885.72h2.13v2.13h-2.13zM895.9 885.72h2.13v2.13h-2.13zM906.53 885.72h2.13v2.13h-2.13zM923.54 885.72h2.13v2.13h-2.13zM800.23 883.59h2.13v2.13h-2.13zM821.49 883.59h8.5v2.13h-8.5zM832.12 883.59h2.13v2.13h-2.13zM836.37 883.59h4.25v2.13h-4.25zM842.75 883.59h4.25v2.13h-4.25zM849.13 883.59h6.38v2.13h-6.38zM857.63 883.59h12.76v2.13h-12.76zM872.52 883.59h14.88v2.13h-14.88zM891.65 883.59h2.13v2.13h-2.13zM895.9 883.59h2.13v2.13h-2.13zM900.15 883.59h4.25v2.13h-4.25zM819.37 881.47h2.13v2.13h-2.13zM830 881.47h2.13v2.13h-2.13zM834.25 881.47h2.13v2.13h-2.13zM838.5 881.47h10.63v2.13h-10.63zM855.51 881.47h19.13v2.13h-19.13zM876.77 881.47h2.13v2.13h-2.13zM883.15 881.47h2.13v2.13h-2.13zM887.4 881.47h2.13v2.13h-2.13zM895.9 881.47h2.13v2.13h-2.13zM827.87 879.34h4.25v2.13h-4.25zM834.25 879.34h2.13v2.13h-2.13zM838.5 879.34h2.13v2.13h-2.13zM842.75 879.34h4.25v2.13h-4.25zM855.51 879.34h2.13v2.13h-2.13zM864.01 879.34h10.63v2.13h-10.63zM878.89 879.34h2.13v2.13h-2.13zM883.15 879.34h2.13v2.13h-2.13zM887.4 879.34h2.13v2.13h-2.13zM891.65 879.34h2.13v2.13h-2.13zM815.11 877.22h2.13v2.13h-2.13zM823.62 877.22h2.13v2.13h-2.13zM830 877.22h2.13v2.13h-2.13zM838.5 877.22h2.13v2.13h-2.13zM842.75 877.22h2.13v2.13h-2.13zM847 877.22h2.13v2.13h-2.13zM851.26 877.22h2.13v2.13h-2.13zM859.76 877.22h8.5v2.13h-8.5zM870.39 877.22h8.5v2.13h-8.5zM881.02 877.22h8.5v2.13h-8.5zM823.62 875.09h2.13v2.13h-2.13zM827.87 875.09h2.13v2.13h-2.13zM832.12 875.09h2.13v2.13h-2.13zM842.75 875.09h2.13v2.13h-2.13zM853.38 875.09h12.76v2.13h-12.76zM868.26 875.09h17.01v2.13h-17.01zM887.4 875.09h8.5v2.13h-8.5zM902.28 875.09h4.25v2.13h-4.25zM804.48 872.96h2.13v2.13h-2.13zM815.11 872.96h2.13v2.13h-2.13zM819.37 872.96h4.25v2.13h-4.25zM827.87 872.96h2.13v2.13h-2.13zM834.25 872.96h2.13v2.13h-2.13zM842.75 872.96h2.13v2.13h-2.13zM851.26 872.96h6.38v2.13h-6.38zM859.76 872.96h2.13v2.13h-2.13zM866.14 872.96h4.25v2.13h-4.25zM872.52 872.96h4.25v2.13h-4.25zM881.02 872.96h17.01v2.13h-17.01zM900.15 872.96h4.25v2.13h-4.25zM906.53 872.96h2.13v2.13h-2.13zM806.61 870.84h2.13v2.13h-2.13zM838.5 870.84h2.13v2.13h-2.13zM842.75 870.84h4.25v2.13h-4.25zM851.26 870.84h8.5v2.13h-8.5zM864.01 870.84h2.13v2.13h-2.13zM870.39 870.84h8.5v2.13h-8.5zM881.02 870.84h8.5v2.13h-8.5zM891.65 870.84h2.13v2.13h-2.13zM898.03 870.84h2.13v2.13h-2.13zM844.88 868.71h4.25v2.13h-4.25zM851.26 868.71h8.5v2.13h-8.5zM864.01 868.71h2.13v2.13h-2.13zM868.26 868.71h4.25v2.13h-4.25zM878.89 868.71h4.25v2.13h-4.25zM885.27 868.71h4.25v2.13h-4.25zM895.9 868.71h2.13v2.13h-2.13zM844.88 866.59h2.13v2.13h-2.13zM851.26 866.59h2.13v2.13h-2.13zM857.63 866.59h2.13v2.13h-2.13zM864.01 866.59h6.38v2.13h-6.38zM872.52 866.59h2.13v2.13h-2.13zM876.77 866.59h8.5v2.13h-8.5zM887.4 866.59h2.13v2.13h-2.13zM898.03 866.59h4.25v2.13h-4.25zM827.87 864.46h2.13v2.13h-2.13zM834.25 864.46h2.13v2.13h-2.13zM838.5 864.46h2.13v2.13h-2.13zM844.88 864.46h2.13v2.13h-2.13zM849.13 864.46h2.13v2.13h-2.13zM857.63 864.46h4.25v2.13h-4.25zM864.01 864.46h8.5v2.13h-8.5zM874.64 864.46h2.13v2.13h-2.13zM878.89 864.46h2.13v2.13h-2.13zM887.4 864.46h2.13v2.13h-2.13zM830 862.33h4.25v2.13h-4.25zM838.5 862.33h4.25v2.13h-4.25zM851.26 862.33h2.13v2.13h-2.13zM855.51 862.33h2.13v2.13h-2.13zM868.26 862.33h6.38v2.13h-6.38zM881.02 862.33h2.13v2.13h-2.13zM885.27 862.33h2.13v2.13h-2.13zM891.65 862.33h2.13v2.13h-2.13zM898.03 862.33h4.25v2.13h-4.25zM904.41 862.33h4.25v2.13h-4.25zM844.88 860.21h2.13v2.13h-2.13zM849.13 860.21h2.13v2.13h-2.13zM855.51 860.21h2.13v2.13h-2.13zM859.76 860.21h6.38v2.13h-6.38zM868.26 860.21h6.38v2.13h-6.38zM878.89 860.21h6.38v2.13h-6.38zM887.4 860.21h2.13v2.13h-2.13zM895.9 860.21h4.25v2.13h-4.25zM912.91 860.21h2.13v2.13h-2.13zM855.51 858.08h2.13v2.13h-2.13zM866.14 858.08h2.13v2.13h-2.13zM872.52 858.08h4.25v2.13h-4.25zM893.78 858.08h2.13v2.13h-2.13zM900.15 858.08h2.13v2.13h-2.13zM840.63 855.96h2.13v2.13h-2.13zM851.26 855.96h2.13v2.13h-2.13zM864.01 855.96h2.13v2.13h-2.13zM868.26 855.96h2.13v2.13h-2.13zM872.52 855.96h4.25v2.13h-4.25zM889.52 855.96h2.13v2.13h-2.13zM842.75 853.83h2.13v2.13h-2.13zM857.63 853.83h2.13v2.13h-2.13zM876.77 853.83h2.13v2.13h-2.13zM881.02 853.83h4.25v2.13h-4.25zM889.52 853.83h2.13v2.13h-2.13zM893.78 853.83h2.13v2.13h-2.13zM834.25 851.7h2.13v2.13h-2.13zM864.01 851.7h2.13v2.13h-2.13zM870.39 851.7h2.13v2.13h-2.13zM883.15 851.7h2.13v2.13h-2.13zM891.65 851.7h2.13v2.13h-2.13zM855.51 849.58h2.13v2.13h-2.13zM861.89 849.58h2.13v2.13h-2.13zM876.77 849.58h2.13v2.13h-2.13zM881.02 849.58h6.38v2.13h-6.38zM891.65 849.58h2.13v2.13h-2.13zM900.15 849.58h2.13v2.13h-2.13zM870.39 847.45h2.13v2.13h-2.13zM874.64 847.45h2.13v2.13h-2.13zM891.65 847.45h2.13v2.13h-2.13zM859.76 845.33h2.13v2.13h-2.13zM874.64 845.33h4.25v2.13h-4.25zM904.41 845.33h2.13v2.13h-2.13zM861.89 843.2h2.13v2.13h-2.13zM876.77 843.2h2.13v2.13h-2.13zM881.02 843.2h2.13v2.13h-2.13zM864.01 841.07h2.13v2.13h-2.13zM870.39 838.95h2.13v2.13h-2.13zM878.89 838.95h2.13v2.13h-2.13zM902.28 838.95h2.13v2.13h-2.13zM881.02 836.82h4.25v2.13h-4.25zM859.76 834.7h2.13v2.13h-2.13zM889.52 834.7h4.25v2.13h-4.25zM866.14 832.57h2.13v2.13h-2.13zM902.28 832.57h2.13v2.13h-2.13zM893.78 830.44h2.13v2.13h-2.13zM866.14 828.32h2.13v2.13h-2.13z" fill="#c8c8c8" shape-rendering="crispEdges"/>
<path d="M806.61 1094.07h2.13v2.13h-2.13zM808.74 1087.69h2.13v2.13h-2.13zM804.48 1085.56h2.13v2.13h-2.13zM793.85 1083.44h2.13v2.13h-2.13zM810.86 1083.44h2.13v2.13h-2.13zM806.61 1079.19h2.13v2.13h-2.13zM802.36 1077.06h2.13v2.13h-2.13zM806.61 1077.06h2.13v2.13h-2.13zM795.98 1074.93h2.13v2.13h-2.13zM802.36 1072.81h2.13v2.13h-2.13zM823.62 1072.81h2.13v2.13h-2.13zM800.23 1070.68h2.13v2.13h-2.13zM787.48 1068.56h2.13v2.13h-2.13zM793.85 1068.56h2.13v2.13h-2.13zM800.23 1068.56h2.13v2.13h-2.13zM804.48 1068.56h6.38v2.13h-6.38zM798.11 1066.43h2.13v2.13h-2.13zM804.48 1066.43h2.13v2.13h-2.13zM789.6 1064.3h2.13v2.13h-2.13zM800.23 1064.3h2.13v2.13h-2.13zM827.87 1064.3h2.13v2.13h-2.13zM832.12 1064.3h2.13v2.13h-2.13zM785.35 1062.18h2.13v2.13h-2.13zM791.73 1062.18h4.25v2.13h-4.25zM804.48 1062.18h4.25v2.13h-4.25zM776.85 1060.05h2.13v2.13h-2.13zM781.1 1060.05h2.13v2.13h-2.13zM789.6 1060.05h6.38v2.13h-6.38zM798.11 1060.05h2.13v2.13h-2.13zM802.36 1060.05h2.13v2.13h-2.13zM806.61 1060.05h4.25v2.13h-4.25zM815.11 1060.05h4.25v2.13h-4.25zM827.87 1060.05h2.13v2.13h-2.13zM781.1 1057.93h6.38v2.13h-6.38zM789.6 1057.93h4.25v2.13h-4.25zM795.98 1057.93h4.25v2.13h-4.25zM810.86 1057.93h2.13v2.13h-2.13zM817.24 1057.93h4.25v2.13h-4.25zM783.22 1055.8h6.38v2.13h-6.38zM793.85 1055.8h8.5v2.13h-8.5zM810.86 1055.8h2.13v2.13h-2.13zM815.11 1055.8h2.13v2.13h-2.13zM834.25 1055.8h2.13v2.13h-2.13zM774.72 1053.67h2.13v2.13h-2.13zM778.97 1053.67h10.63v2.13h-10.63zM800.23 1053.67h12.76v2.13h-12.76zM817.24 1053.67h2.13v2.13h-2.13zM827.87 1053.67h2.13v2.13h-2.13zM776.85 1051.55h2.13v2.13h-2.13zM781.1 1051.55h6.38v2.13h-6.38zM789.6 1051.55h10.63v2.13h-10.63zM802.36 1051.55h2.13v2.13h-2.13zM808.74 1051.55h2.13v2.13h-2.13zM812.99 1051.55h2.13v2.13h-2.13zM817.24 1051.55h2.13v2.13h-2.13zM836.37 1051.55h2.13v2.13h-2.13zM840.63 1051.55h2.13v2.13h-2.13zM774.72 1049.42h2.13v2.13h-2.13zM783.22 1049.42h10.63v2.13h-10.63zM798.11 1049.42h14.88v2.13h-14.88zM815.11 1049.42h2.13v2.13h-2.13zM821.49 1049.42h2.13v2.13h-2.13zM834.25 1049.42h2.13v2.13h-2.13zM774.72 1047.3h2.13v2.13h-2.13zM778.97 1047.3h2.13v2.13h-2.13zM783.22 1047.3h2.13v2.13h-2.13zM787.48 1047.3h6.38v2.13h-6.38zM795.98 1047.3h2.13v2.13h-2.13zM800.23 1047.3h12.76v2.13h-12.76zM815.11 1047.3h6.38v2.13h-6.38zM830 1047.3h2.13v2.13h-2.13zM770.47 1045.17h2.13v2.13h-2.13zM781.1 1045.17h2.13v2.13h-2.13zM785.35 1045.17h2.13v2.13h-2.13zM795.98 1045.17h2.13v2.13h-2.13zM806.61 1045.17h6.38v2.13h-6.38zM815.11 1045.17h2.13v2.13h-2.13zM819.37 1045.17h2.13v2.13h-2.13zM823.62 1045.17h4.25v2.13h-4.25zM768.34 1043.04h2.13v2.13h-2.13zM772.59 1043.04h2.13v2.13h-2.13zM776.85 1043.04h6.38v2.13h-6.38zM787.48 1043.04h4.25v2.13h-4.25zM793.85 1043.04h8.5v2.13h-8.5zM804.48 1043.04h2.13v2.13h-2.13zM808.74 1043.04h4.25v2.13h-4.25zM815.11 1043.04h2.13v2.13h-2.13zM819.37 1043.04h6.38v2.13h-6.38zM834.25 1043.04h2.13v2.13h-2.13zM842.75 1043.04h2.13v2.13h-2.13zM849.13 1043.04h2.13v2.13h-2.13zM770.47 1040.92h2.13v2.13h-2.13zM776.85 1040.92h2.13v2.13h-2.13zM781.1 1040.92h2.13v2.13h-2.13zM791.73 1040.92h2.13v2.13h-2.13zM795.98 1040.92h2.13v2.13h-2.13zM804.48 1040.92h2.13v2.13h-2.13zM808.74 1040.92h8.5v2.13h-8.5zM821.49 1040.92h2.13v2.13h-2.13zM827.87 1040.92h2.13v2.13h-2.13zM832.12 1040.92h2.13v2.13h-2.13zM844.88 1040.92h6.38v2.13h-6.38zM770.47 1038.79h4.25v2.13h-4.25zM776.85 1038.79h4.25v2.13h-4.25zM798.11 1038.79h4.25v2.13h-4.25zM808.74 1038.79h2.13v2.13h-2.13zM815.11 1038.79h2.13v2.13h-2.13zM819.37 1038.79h6.38v2.13h-6.38zM827.87 1038.79h4.25v2.13h-4.25zM838.5 1038.79h2.13v2.13h-2.13zM842.75 1038.79h4.25v2.13h-4.25zM853.38 1038.79h2.13v2.13h-2.13zM772.59 1036.67h4.25v2.13h-4.25zM785.35 1036.67h4.25v2.13h-4.25zM793.85 1036.67h2.13v2.13h-2.13zM804.48 1036.67h6.38v2.13h-6.38zM812.99 1036.67h10.63v2.13h-10.63zM825.74 1036.67h2.13v2.13h-2.13zM842.75 1036.67h2.13v2.13h-2.13zM847 1036.67h2.13v2.13h-2.13zM853.38 1036.67h2.13v2.13h-2.13zM859.76 1036.67h2.13v2.13h-2.13zM768.34 1034.54h2.13v2.13h-2.13zM776.85 1034.54h2.13v2.13h-2.13zM812.99 1034.54h2.13v2.13h-2.13zM817.24 1034.54h4.25v2.13h-4.25zM823.62 1034.54h2.13v2.13h-2.13zM832.12 1034.54h4.25v2.13h-4.25zM844.88 1034.54h2.13v2.13h-2.13zM851.26 1034.54h6.38v2.13h-6.38zM768.34 1032.41h2.13v2.13h-2.13zM787.48 1032.41h2.13v2.13h-2.13zM817.24 1032.41h2.13v2.13h-2.13zM823.62 1032.41h4.25v2.13h-4.25zM838.5 1032.41h2.13v2.13h-2.13zM844.88 1032.41h2.13v2.13h-2.13zM849.13 1032.41h6.38v2.13h-6.38zM772.59 1030.29h2.13v2.13h-2.13zM808.74 1030.29h4.25v2.13h-4.25zM815.11 1030.29h2.13v2.13h-2.13zM819.37 1030.29h4.25v2.13h-4.25zM836.37 1030.29h2.13v2.13h-2.13zM853.38 1030.29h4.25v2.13h-4.25zM768.34 1028.16h4.25v2.13h-4.25zM815.11 1028.16h4.25v2.13h-4.25zM821.49 1028.16h6.38v2.13h-6.38zM830 1028.16h2.13v2.13h-2.13zM840.63 1028.16h2.13v2.13h-2.13zM844.88 1028.16h2.13v2.13h-2.13zM851.26 1028.16h4.25v2.13h-4.25zM857.63 1028.16h2.13v2.13h-2.13zM768.34 1026.04h2.13v2.13h-2.13zM772.59 1026.04h4.25v2.13h-4.25zM817.24 1026.04h2.13v2.13h-2.13zM821.49 1026.04h2.13v2.13h-2.13zM825.74 1026.04h4.25v2.13h-4.25zM840.63 1026.04h2.13v2.13h-2.13zM844.88 1026.04h4.25v2.13h-4.25zM851.26 1026.04h2.13v2.13h-2.13zM857.63 1026.04h2.13v2.13h-2.13zM768.34 1023.91h2.13v2.13h-2.13zM823.62 1023.91h2.13v2.13h-2.13zM830 1023.91h4.25v2.13h-4.25zM840.63 1023.91h2.13v2.13h-2.13zM844.88 1023.91h4.25v2.13h-4.25zM855.51 1023.91h2.13v2.13h-2.13zM859.76 1023.91h2.13v2.13h-2.13zM772.59 1021.78h2.13v2.13h-2.13zM817.24 1021.78h2.13v2.13h-2.13zM823.62 1021.78h8.5v2.13h-8.5zM834.25 1021.78h4.25v2.13h-4.25zM840.63 1021.78h2.13v2.13h-2.13zM844.88 1021.78h2.13v2.13h-2.13zM859.76 1021.78h2.13v2.13h-2.13zM770.47 1019.66h4.25v2.13h-4.25zM817.24 1019.66h2.13v2.13h-2.13zM830 1019.66h4.25v2.13h-4.25zM836.37 1019.66h4.25v2.13h-4.25zM842.75 1019.66h4.25v2.13h-4.25zM857.63 1019.66h2.13v2.13h-2.13zM821.49 1017.53h6.38v2.13h-6.38zM832.12 1017.53h2.13v2.13h-2.13zM836.37 1017.53h2.13v2.13h-2.13zM842.75 1017.53h4.25v2.13h-4.25zM849.13 1017.53h2.13v2.13h-2.13zM857.63 1017.53h4.25v2.13h-4.25zM768.34 1015.41h4.25v2.13h-4.25zM817.24 1015.41h2.13v2.13h-2.13zM825.74 1015.41h2.13v2.13h-2.13zM830 1015.41h2.13v2.13h-2.13zM836.37 1015.41h8.5v2.13h-8.5zM861.89 1015.41h2.13v2.13h-2.13zM821.49 1013.28h4.25v2.13h-4.25zM827.87 1013.28h4.25v2.13h-4.25zM836.37 1013.28h6.38v2.13h-6.38zM861.89 1013.28h4.25v2.13h-4.25zM819.37 1011.15h2.13v2.13h-2.13zM832.12 1011.15h4.25v2.13h-4.25zM842.75 1011.15h2.13v2.13h-2.13zM857.63 1011.15h4.25v2.13h-4.25zM768.34 1009.03h2.13v2.13h-2.13zM819.37 1009.03h2.13v2.13h-2.13zM823.62 1009.03h2.13v2.13h-2.13zM830 1009.03h2.13v2.13h-2.13zM834.25 1009.03h4.25v2.13h-4.25zM842.75 1009.03h2.13v2.13h-2.13zM859.76 1009.03h6.38v2.13h-6.38zM830 1006.9h10.63v2.13h-10.63zM821.49 1004.78h2.13v2.13h-2.13zM827.87 1004.78h2.13v2.13h-2.13zM838.5 1004.78h2.13v2.13h-2.13zM859.76 1004.78h2.13v2.13h-2.13zM864.01 1004.78h2.13v2.13h-2.13zM770.47 1002.65h2.13v2.13h-2.13zM823.62 1002.65h2.13v2.13h-2.13zM832.12 1002.65h4.25v2.13h-4.25zM838.5 1002.65h2.13v2.13h-2.13zM864.01 1002.65h2.13v2.13h-2.13zM821.49 1000.52h2.13v2.13h-2.13zM825.74 1000.52h6.38v2.13h-6.38zM838.5 1000.52h2.13v2.13h-2.13zM770.47 998.4h2.13v2.13h-2.13zM832.12 998.4h6.38v2.13h-6.38zM840.63 998.4h2.13v2.13h-2.13zM859.76 998.4h2.13v2.13h-2.13zM864.01 998.4h2.13v2.13h-2.13zM823.62 996.27h2.13v2.13h-2.13zM830 996.27h8.5v2.13h-8.5zM840.63 996.27h2.13v2.13h-2.13zM861.89 996.27h2.13v2.13h-2.13zM823.62 994.15h4.25v2.13h-4.25zM832.12 994.15h4.25v2.13h-4.25zM861.89 994.15h2.13v2.13h-2.13zM827.87 992.02h6.38v2.13h-6.38zM838.5 992.02h2.13v2.13h-2.13zM861.89 992.02h4.25v2.13h-4.25zM768.34 989.89h2.13v2.13h-2.13zM817.24 989.89h2.13v2.13h-2.13zM821.49 989.89h4.25v2.13h-4.25zM827.87 989.89h12.76v2.13h-12.76zM861.89 989.89h2.13v2.13h-2.13zM825.74 987.77h12.76v2.13h-12.76zM861.89 987.77h2.13v2.13h-2.13zM823.62 985.64h2.13v2.13h-2.13zM827.87 985.64h2.13v2.13h-2.13zM832.12 985.64h4.25v2.13h-4.25zM864.01 985.64h2.13v2.13h-2.13zM768.34 983.52h2.13v2.13h-2.13zM827.87 983.52h2.13v2.13h-2.13zM832.12 983.52h2.13v2.13h-2.13zM836.37 983.52h4.25v2.13h-4.25zM770.47 981.39h2.13v2.13h-2.13zM819.37 981.39h2.13v2.13h-2.13zM823.62 981.39h2.13v2.13h-2.13zM827.87 981.39h8.5v2.13h-8.5zM838.5 981.39h2.13v2.13h-2.13zM842.75 981.39h2.13v2.13h-2.13zM861.89 981.39h4.25v2.13h-4.25zM768.34 979.26h2.13v2.13h-2.13zM821.49 979.26h4.25v2.13h-4.25zM830 979.26h10.63v2.13h-10.63zM774.72 977.14h2.13v2.13h-2.13zM817.24 977.14h2.13v2.13h-2.13zM821.49 977.14h6.38v2.13h-6.38zM830 977.14h4.25v2.13h-4.25zM836.37 977.14h4.25v2.13h-4.25zM768.34 975.01h4.25v2.13h-4.25zM819.37 975.01h2.13v2.13h-2.13zM825.74 975.01h2.13v2.13h-2.13zM830 975.01h4.25v2.13h-4.25zM836.37 975.01h4.25v2.13h-4.25zM859.76 975.01h4.25v2.13h-4.25zM768.34 972.89h4.25v2.13h-4.25zM776.85 972.89h2.13v2.13h-2.13zM817.24 972.89h4.25v2.13h-4.25zM823.62 972.89h2.13v2.13h-2.13zM827.87 972.89h2.13v2.13h-2.13zM832.12 972.89h2.13v2.13h-2.13zM838.5 972.89h2.13v2.13h-2.13zM859.76 972.89h2.13v2.13h-2.13zM772.59 970.76h2.13v2.13h-2.13zM817.24 970.76h2.13v2.13h-2.13zM821.49 970.76h2.13v2.13h-2.13zM825.74 970.76h2.13v2.13h-2.13zM838.5 970.76h2.13v2.13h-2.13zM861.89 970.76h2.13v2.13h-2.13zM768.34 968.63h2.13v2.13h-2.13zM772.59 968.63h2.13v2.13h-2.13zM776.85 968.63h2.13v2.13h-2.13zM817.24 968.63h2.13v2.13h-2.13zM823.62 968.63h2.13v2.13h-2.13zM827.87 968.63h2.13v2.13h-2.13zM832.12 968.63h2.13v2.13h-2.13zM840.63 968.63h2.13v2.13h-2.13zM859.76 968.63h2.13v2.13h-2.13zM768.34 966.51h4.25v2.13h-4.25zM774.72 966.51h4.25v2.13h-4.25zM785.35 966.51h2.13v2.13h-2.13zM821.49 966.51h2.13v2.13h-2.13zM827.87 966.51h2.13v2.13h-2.13zM834.25 966.51h2.13v2.13h-2.13zM838.5 966.51h2.13v2.13h-2.13zM859.76 966.51h2.13v2.13h-2.13zM768.34 964.38h2.13v2.13h-2.13zM774.72 964.38h4.25v2.13h-4.25zM781.1 964.38h4.25v2.13h-4.25zM810.86 964.38h2.13v2.13h-2.13zM819.37 964.38h8.5v2.13h-8.5zM830 964.38h2.13v2.13h-2.13zM836.37 964.38h6.38v2.13h-6.38zM859.76 964.38h2.13v2.13h-2.13zM864.01 964.38h2.13v2.13h-2.13zM768.34 962.26h2.13v2.13h-2.13zM817.24 962.26h2.13v2.13h-2.13zM821.49 962.26h2.13v2.13h-2.13zM825.74 962.26h6.38v2.13h-6.38zM834.25 962.26h2.13v2.13h-2.13zM840.63 962.26h4.25v2.13h-4.25zM849.13 962.26h2.13v2.13h-2.13zM857.63 962.26h6.38v2.13h-6.38zM772.59 960.13h4.25v2.13h-4.25zM781.1 960.13h2.13v2.13h-2.13zM785.35 960.13h2.13v2.13h-2.13zM819.37 960.13h4.25v2.13h-4.25zM825.74 960.13h2.13v2.13h-2.13zM830 960.13h2.13v2.13h-2.13zM834.25 960.13h10.63v2.13h-10.63zM855.51 960.13h2.13v2.13h-2.13zM859.76 960.13h4.25v2.13h-4.25zM768.34 958h2.13v2.13h-2.13zM772.59 958h4.25v2.13h-4.25zM778.97 958h2.13v2.13h-2.13zM812.99 958h2.13v2.13h-2.13zM819.37 958h6.38v2.13h-6.38zM830 958h14.88v2.13h-14.88zM857.63 958h2.13v2.13h-2.13zM861.89 958h2.13v2.13h-2.13zM866.14 958h2.13v2.13h-2.13zM768.34 955.88h2.13v2.13h-2.13zM774.72 955.88h2.13v2.13h-2.13zM778.97 955.88h4.25v2.13h-4.25zM787.48 955.88h2.13v2.13h-2.13zM806.61 955.88h6.38v2.13h-6.38zM823.62 955.88h2.13v2.13h-2.13zM827.87 955.88h10.63v2.13h-10.63zM840.63 955.88h2.13v2.13h-2.13zM844.88 955.88h2.13v2.13h-2.13zM851.26 955.88h2.13v2.13h-2.13zM855.51 955.88h6.38v2.13h-6.38zM864.01 955.88h2.13v2.13h-2.13zM776.85 953.75h8.5v2.13h-8.5zM808.74 953.75h2.13v2.13h-2.13zM812.99 953.75h2.13v2.13h-2.13zM817.24 953.75h2.13v2.13h-2.13zM832.12 953.75h2.13v2.13h-2.13zM836.37 953.75h8.5v2.13h-8.5zM855.51 953.75h2.13v2.13h-2.13zM861.89 953.75h2.13v2.13h-2.13zM768.34 951.63h2.13v2.13h-2.13zM772.59 951.63h8.5v2.13h-8.5zM783.22 951.63h4.25v2.13h-4.25zM802.36 951.63h2.13v2.13h-2.13zM806.61 951.63h2.13v2.13h-2.13zM830 951.63h4.25v2.13h-4.25zM838.5 951.63h2.13v2.13h-2.13zM847 951.63h2.13v2.13h-2.13zM855.51 951.63h2.13v2.13h-2.13zM861.89 951.63h4.25v2.13h-4.25zM874.64 951.63h2.13v2.13h-2.13zM776.85 949.5h4.25v2.13h-4.25zM785.35 949.5h2.13v2.13h-2.13zM804.48 949.5h2.13v2.13h-2.13zM832.12 949.5h2.13v2.13h-2.13zM838.5 949.5h2.13v2.13h-2.13zM842.75 949.5h2.13v2.13h-2.13zM857.63 949.5h2.13v2.13h-2.13zM864.01 949.5h2.13v2.13h-2.13zM774.72 947.37h6.38v2.13h-6.38zM785.35 947.37h2.13v2.13h-2.13zM789.6 947.37h2.13v2.13h-2.13zM793.85 947.37h2.13v2.13h-2.13zM798.11 947.37h4.25v2.13h-4.25zM806.61 947.37h2.13v2.13h-2.13zM815.11 947.37h2.13v2.13h-2.13zM819.37 947.37h2.13v2.13h-2.13zM834.25 947.37h6.38v2.13h-6.38zM844.88 947.37h2.13v2.13h-2.13zM849.13 947.37h2.13v2.13h-2.13zM853.38 947.37h4.25v2.13h-4.25zM859.76 947.37h8.5v2.13h-8.5zM781.1 945.25h8.5v2.13h-8.5zM802.36 945.25h4.25v2.13h-4.25zM808.74 945.25h4.25v2.13h-4.25zM819.37 945.25h2.13v2.13h-2.13zM823.62 945.25h2.13v2.13h-2.13zM827.87 945.25h6.38v2.13h-6.38zM840.63 945.25h8.5v2.13h-8.5zM855.51 945.25h10.63v2.13h-10.63zM891.65 945.25h2.13v2.13h-2.13zM768.34 943.12h2.13v2.13h-2.13zM778.97 943.12h4.25v2.13h-4.25zM785.35 943.12h8.5v2.13h-8.5zM795.98 943.12h2.13v2.13h-2.13zM804.48 943.12h6.38v2.13h-6.38zM815.11 943.12h2.13v2.13h-2.13zM823.62 943.12h2.13v2.13h-2.13zM832.12 943.12h2.13v2.13h-2.13zM840.63 943.12h2.13v2.13h-2.13zM844.88 943.12h4.25v2.13h-4.25zM853.38 943.12h4.25v2.13h-4.25zM859.76 943.12h2.13v2.13h-2.13zM870.39 943.12h2.13v2.13h-2.13zM874.64 943.12h2.13v2.13h-2.13zM778.97 941h2.13v2.13h-2.13zM783.22 941h4.25v2.13h-4.25zM789.6 941h2.13v2.13h-2.13zM795.98 941h2.13v2.13h-2.13zM800.23 941h4.25v2.13h-4.25zM808.74 941h6.38v2.13h-6.38zM821.49 941h2.13v2.13h-2.13zM825.74 941h12.76v2.13h-12.76zM849.13 941h6.38v2.13h-6.38zM857.63 941h2.13v2.13h-2.13zM872.52 941h2.13v2.13h-2.13zM883.15 941h2.13v2.13h-2.13zM768.34 938.87h2.13v2.13h-2.13zM781.1 938.87h6.38v2.13h-6.38zM789.6 938.87h12.76v2.13h-12.76zM804.48 938.87h6.38v2.13h-6.38zM812.99 938.87h2.13v2.13h-2.13zM819.37 938.87h4.25v2.13h-4.25zM825.74 938.87h2.13v2.13h-2.13zM830 938.87h2.13v2.13h-2.13zM838.5 938.87h2.13v2.13h-2.13zM842.75 938.87h4.25v2.13h-4.25zM849.13 938.87h2.13v2.13h-2.13zM853.38 938.87h4.25v2.13h-4.25zM866.14 938.87h2.13v2.13h-2.13zM870.39 938.87h2.13v2.13h-2.13zM874.64 938.87h2.13v2.13h-2.13zM778.97 936.74h6.38v2.13h-6.38zM787.48 936.74h4.25v2.13h-4.25zM793.85 936.74h6.38v2.13h-6.38zM810.86 936.74h2.13v2.13h-2.13zM815.11 936.74h4.25v2.13h-4.25zM821.49 936.74h2.13v2.13h-2.13zM825.74 936.74h2.13v2.13h-2.13zM832.12 936.74h2.13v2.13h-2.13zM840.63 936.74h2.13v2.13h-2.13zM844.88 936.74h2.13v2.13h-2.13zM855.51 936.74h2.13v2.13h-2.13zM861.89 936.74h8.5v2.13h-8.5zM770.47 934.62h2.13v2.13h-2.13zM776.85 934.62h2.13v2.13h-2.13zM785.35 934.62h4.25v2.13h-4.25zM791.73 934.62h4.25v2.13h-4.25zM800.23 934.62h4.25v2.13h-4.25zM806.61 934.62h8.5v2.13h-8.5zM817.24 934.62h2.13v2.13h-2.13zM821.49 934.62h2.13v2.13h-2.13zM827.87 934.62h2.13v2.13h-2.13zM836.37 934.62h2.13v2.13h-2.13zM840.63 934.62h2.13v2.13h-2.13zM844.88 934.62h10.63v2.13h-10.63zM795.98 932.49h8.5v2.13h-8.5zM806.61 932.49h8.5v2.13h-8.5zM817.24 932.49h2.13v2.13h-2.13zM825.74 932.49h2.13v2.13h-2.13zM836.37 932.49h6.38v2.13h-6.38zM844.88 932.49h2.13v2.13h-2.13zM849.13 932.49h2.13v2.13h-2.13zM853.38 932.49h2.13v2.13h-2.13zM857.63 932.49h4.25v2.13h-4.25zM787.48 930.37h4.25v2.13h-4.25zM798.11 930.37h2.13v2.13h-2.13zM804.48 930.37h2.13v2.13h-2.13zM812.99 930.37h4.25v2.13h-4.25zM819.37 930.37h2.13v2.13h-2.13zM823.62 930.37h10.63v2.13h-10.63zM836.37 930.37h10.63v2.13h-10.63zM851.26 930.37h2.13v2.13h-2.13zM857.63 930.37h2.13v2.13h-2.13zM783.22 928.24h2.13v2.13h-2.13zM800.23 928.24h4.25v2.13h-4.25zM817.24 928.24h6.38v2.13h-6.38zM827.87 928.24h2.13v2.13h-2.13zM836.37 928.24h2.13v2.13h-2.13zM840.63 928.24h2.13v2.13h-2.13zM849.13 928.24h8.5v2.13h-8.5zM859.76 928.24h2.13v2.13h-2.13zM798.11 926.11h2.13v2.13h-2.13zM815.11 926.11h6.38v2.13h-6.38zM823.62 926.11h2.13v2.13h-2.13zM832.12 926.11h8.5v2.13h-8.5zM842.75 926.11h12.76v2.13h-12.76zM861.89 926.11h2.13v2.13h-2.13zM793.85 923.99h2.13v2.13h-2.13zM806.61 923.99h2.13v2.13h-2.13zM810.86 923.99h2.13v2.13h-2.13zM815.11 923.99h6.38v2.13h-6.38zM823.62 923.99h2.13v2.13h-2.13zM834.25 923.99h10.63v2.13h-10.63zM853.38 923.99h2.13v2.13h-2.13zM857.63 923.99h2.13v2.13h-2.13zM804.48 921.86h2.13v2.13h-2.13zM810.86 921.86h2.13v2.13h-2.13zM815.11 921.86h4.25v2.13h-4.25zM823.62 921.86h2.13v2.13h-2.13zM832.12 921.86h4.25v2.13h-4.25zM840.63 921.86h10.63v2.13h-10.63zM815.11 919.74h2.13v2.13h-2.13zM825.74 919.74h6.38v2.13h-6.38zM834.25 919.74h4.25v2.13h-4.25zM840.63 919.74h2.13v2.13h-2.13zM823.62 917.61h4.25v2.13h-4.25zM834.25 917.61h2.13v2.13h-2.13zM840.63 917.61h4.25v2.13h-4.25zM851.26 917.61h2.13v2.13h-2.13zM855.51 917.61h4.25v2.13h-4.25zM864.01 917.61h2.13v2.13h-2.13zM812.99 915.48h2.13v2.13h-2.13zM830 915.48h4.25v2.13h-4.25zM849.13 915.48h2.13v2.13h-2.13zM853.38 915.48h4.25v2.13h-4.25zM834.25 913.36h6.38v2.13h-6.38zM847 913.36h2.13v2.13h-2.13zM857.63 913.36h2.13v2.13h-2.13zM819.37 911.23h2.13v2.13h-2.13zM830 911.23h4.25v2.13h-4.25zM836.37 911.23h2.13v2.13h-2.13zM842.75 911.23h4.25v2.13h-4.25zM849.13 911.23h2.13v2.13h-2.13zM859.76 911.23h2.13v2.13h-2.13zM872.52 911.23h2.13v2.13h-2.13zM842.75 909.11h4.25v2.13h-4.25zM851.26 909.11h2.13v2.13h-2.13zM861.89 909.11h2.13v2.13h-2.13zM874.64 909.11h2.13v2.13h-2.13zM819.37 906.98h2.13v2.13h-2.13zM838.5 906.98h17.01v2.13h-17.01zM861.89 906.98h4.25v2.13h-4.25zM881.02 906.98h2.13v2.13h-2.13zM844.88 904.85h2.13v2.13h-2.13zM849.13 904.85h2.13v2.13h-2.13zM855.51 904.85h4.25v2.13h-4.25zM827.87 902.73h2.13v2.13h-2.13zM832.12 902.73h2.13v2.13h-2.13zM836.37 902.73h4.25v2.13h-4.25zM842.75 902.73h2.13v2.13h-2.13zM847 902.73h4.25v2.13h-4.25zM853.38 902.73h2.13v2.13h-2.13zM857.63 902.73h6.38v2.13h-6.38zM868.26 902.73h2.13v2.13h-2.13zM872.52 902.73h2.13v2.13h-2.13zM836.37 900.6h4.25v2.13h-4.25zM844.88 900.6h2.13v2.13h-2.13zM849.13 900.6h4.25v2.13h-4.25zM868.26 900.6h4.25v2.13h-4.25zM885.27 900.6h2.13v2.13h-2.13zM834.25 898.48h2.13v2.13h-2.13zM840.63 898.48h2.13v2.13h-2.13zM847 898.48h2.13v2.13h-2.13zM851.26 898.48h8.5v2.13h-8.5zM861.89 898.48h4.25v2.13h-4.25zM872.52 898.48h2.13v2.13h-2.13zM842.75 896.35h2.13v2.13h-2.13zM859.76 896.35h2.13v2.13h-2.13zM864.01 896.35h2.13v2.13h-2.13zM878.89 896.35h2.13v2.13h-2.13zM849.13 894.22h2.13v2.13h-2.13zM870.39 894.22h2.13v2.13h-2.13zM876.77 894.22h2.13v2.13h-2.13zM885.27 894.22h2.13v2.13h-2.13zM836.37 892.1h2.13v2.13h-2.13zM851.26 892.1h6.38v2.13h-6.38zM859.76 892.1h2.13v2.13h-2.13zM864.01 892.1h2.13v2.13h-2.13zM868.26 892.1h2.13v2.13h-2.13zM878.89 892.1h2.13v2.13h-2.13zM844.88 889.97h2.13v2.13h-2.13zM851.26 889.97h2.13v2.13h-2.13zM857.63 889.97h6.38v2.13h-6.38zM866.14 889.97h2.13v2.13h-2.13zM847 887.85h2.13v2.13h-2.13zM859.76 887.85h4.25v2.13h-4.25zM868.26 887.85h2.13v2.13h-2.13zM847 885.72h2.13v2.13h-2.13zM853.38 885.72h6.38v2.13h-6.38zM872.52 885.72h2.13v2.13h-2.13zM878.89 885.72h2.13v2.13h-2.13zM883.15 885.72h2.13v2.13h-2.13zM851.26 881.47h4.25v2.13h-4.25zM874.64 881.47h2.13v2.13h-2.13zM853.38 879.34h2.13v2.13h-2.13zM859.76 879.34h2.13v2.13h-2.13zM853.38 877.22h4.25v2.13h-4.25zM866.14 875.09h2.13v2.13h-2.13zM849.13 872.96h2.13v2.13h-2.13zM878.89 872.96h2.13v2.13h-2.13zM876.77 868.71h2.13v2.13h-2.13zM883.15 868.71h2.13v2.13h-2.13zM861.89 866.59h2.13v2.13h-2.13zM851.26 864.46h2.13v2.13h-2.13zM872.52 864.46h2.13v2.13h-2.13zM876.77 851.7h2.13v2.13h-2.13z" fill="#a0a0a0" shape-rendering="crispEdges"/>
<path d="M793.85 1057.93h2.13v2.13h-2.13zM789.6 1055.8h2.13v2.13h-2.13zM802.36 1055.8h2.13v2.13h-2.13zM789.6 1053.67h2.13v2.13h-2.13zM793.85 1053.67h4.25v2.13h-4.25zM815.11 1053.67h2.13v2.13h-2.13zM806.61 1051.55h2.13v2.13h-2.13zM810.86 1051.55h2.13v2.13h-2.13zM778.97 1049.42h2.13v2.13h-2.13zM793.85 1049.42h4.25v2.13h-4.25zM776.85 1047.3h2.13v2.13h-2.13zM781.1 1047.3h2.13v2.13h-2.13zM785.35 1047.3h2.13v2.13h-2.13zM793.85 1047.3h2.13v2.13h-2.13zM776.85 1045.17h2.13v2.13h-2.13zM789.6 1045.17h2.13v2.13h-2.13zM798.11 1045.17h4.25v2.13h-4.25zM804.48 1045.17h2.13v2.13h-2.13zM783.22 1043.04h2.13v2.13h-2.13zM791.73 1043.04h2.13v2.13h-2.13zM802.36 1043.04h2.13v2.13h-2.13zM806.61 1043.04h2.13v2.13h-2.13zM812.99 1043.04h2.13v2.13h-2.13zM774.72 1040.92h2.13v2.13h-2.13zM783.22 1040.92h8.5v2.13h-8.5zM793.85 1040.92h2.13v2.13h-2.13zM802.36 1040.92h2.13v2.13h-2.13zM806.61 1040.92h2.13v2.13h-2.13zM774.72 1038.79h2.13v2.13h-2.13zM781.1 1038.79h8.5v2.13h-8.5zM791.73 1038.79h2.13v2.13h-2.13zM795.98 1038.79h2.13v2.13h-2.13zM802.36 1038.79h6.38v2.13h-6.38zM810.86 1038.79h4.25v2.13h-4.25zM778.97 1036.67h6.38v2.13h-6.38zM789.6 1036.67h4.25v2.13h-4.25zM800.23 1036.67h2.13v2.13h-2.13zM810.86 1036.67h2.13v2.13h-2.13zM774.72 1034.54h2.13v2.13h-2.13zM778.97 1034.54h2.13v2.13h-2.13zM785.35 1034.54h2.13v2.13h-2.13zM795.98 1034.54h17.01v2.13h-17.01zM815.11 1034.54h2.13v2.13h-2.13zM772.59 1032.41h4.25v2.13h-4.25zM778.97 1032.41h6.38v2.13h-6.38zM789.6 1032.41h2.13v2.13h-2.13zM798.11 1032.41h4.25v2.13h-4.25zM808.74 1032.41h2.13v2.13h-2.13zM812.99 1032.41h4.25v2.13h-4.25zM827.87 1032.41h2.13v2.13h-2.13zM847 1032.41h2.13v2.13h-2.13zM774.72 1030.29h4.25v2.13h-4.25zM791.73 1030.29h2.13v2.13h-2.13zM798.11 1030.29h2.13v2.13h-2.13zM806.61 1030.29h2.13v2.13h-2.13zM812.99 1030.29h2.13v2.13h-2.13zM817.24 1030.29h2.13v2.13h-2.13zM832.12 1030.29h2.13v2.13h-2.13zM844.88 1030.29h8.5v2.13h-8.5zM772.59 1028.16h8.5v2.13h-8.5zM785.35 1028.16h2.13v2.13h-2.13zM804.48 1028.16h4.25v2.13h-4.25zM810.86 1028.16h4.25v2.13h-4.25zM849.13 1028.16h2.13v2.13h-2.13zM770.47 1026.04h2.13v2.13h-2.13zM778.97 1026.04h2.13v2.13h-2.13zM785.35 1026.04h2.13v2.13h-2.13zM789.6 1026.04h4.25v2.13h-4.25zM802.36 1026.04h4.25v2.13h-4.25zM812.99 1026.04h2.13v2.13h-2.13zM819.37 1026.04h2.13v2.13h-2.13zM849.13 1026.04h2.13v2.13h-2.13zM853.38 1026.04h4.25v2.13h-4.25zM772.59 1023.91h6.38v2.13h-6.38zM785.35 1023.91h2.13v2.13h-2.13zM800.23 1023.91h2.13v2.13h-2.13zM810.86 1023.91h8.5v2.13h-8.5zM825.74 1023.91h4.25v2.13h-4.25zM842.75 1023.91h2.13v2.13h-2.13zM853.38 1023.91h2.13v2.13h-2.13zM857.63 1023.91h2.13v2.13h-2.13zM770.47 1021.78h2.13v2.13h-2.13zM774.72 1021.78h6.38v2.13h-6.38zM806.61 1021.78h2.13v2.13h-2.13zM812.99 1021.78h4.25v2.13h-4.25zM819.37 1021.78h4.25v2.13h-4.25zM842.75 1021.78h2.13v2.13h-2.13zM847 1021.78h4.25v2.13h-4.25zM855.51 1021.78h2.13v2.13h-2.13zM774.72 1019.66h6.38v2.13h-6.38zM815.11 1019.66h2.13v2.13h-2.13zM821.49 1019.66h8.5v2.13h-8.5zM849.13 1019.66h2.13v2.13h-2.13zM853.38 1019.66h4.25v2.13h-4.25zM859.76 1019.66h2.13v2.13h-2.13zM770.47 1017.53h8.5v2.13h-8.5zM812.99 1017.53h2.13v2.13h-2.13zM819.37 1017.53h2.13v2.13h-2.13zM827.87 1017.53h2.13v2.13h-2.13zM834.25 1017.53h2.13v2.13h-2.13zM847 1017.53h2.13v2.13h-2.13zM855.51 1017.53h2.13v2.13h-2.13zM772.59 1015.41h2.13v2.13h-2.13zM776.85 1015.41h2.13v2.13h-2.13zM810.86 1015.41h4.25v2.13h-4.25zM819.37 1015.41h6.38v2.13h-6.38zM827.87 1015.41h2.13v2.13h-2.13zM849.13 1015.41h2.13v2.13h-2.13zM768.34 1013.28h2.13v2.13h-2.13zM772.59 1013.28h2.13v2.13h-2.13zM819.37 1013.28h2.13v2.13h-2.13zM825.74 1013.28h2.13v2.13h-2.13zM834.25 1013.28h2.13v2.13h-2.13zM842.75 1013.28h4.25v2.13h-4.25zM857.63 1013.28h2.13v2.13h-2.13zM768.34 1011.15h6.38v2.13h-6.38zM812.99 1011.15h2.13v2.13h-2.13zM817.24 1011.15h2.13v2.13h-2.13zM823.62 1011.15h8.5v2.13h-8.5zM836.37 1011.15h6.38v2.13h-6.38zM844.88 1011.15h4.25v2.13h-4.25zM772.59 1009.03h4.25v2.13h-4.25zM821.49 1009.03h2.13v2.13h-2.13zM825.74 1009.03h2.13v2.13h-2.13zM838.5 1009.03h4.25v2.13h-4.25zM770.47 1006.9h4.25v2.13h-4.25zM819.37 1006.9h2.13v2.13h-2.13zM823.62 1006.9h6.38v2.13h-6.38zM840.63 1006.9h4.25v2.13h-4.25zM847 1006.9h2.13v2.13h-2.13zM859.76 1006.9h4.25v2.13h-4.25zM768.34 1004.78h8.5v2.13h-8.5zM819.37 1004.78h2.13v2.13h-2.13zM823.62 1004.78h2.13v2.13h-2.13zM830 1004.78h4.25v2.13h-4.25zM836.37 1004.78h2.13v2.13h-2.13zM840.63 1004.78h6.38v2.13h-6.38zM855.51 1004.78h2.13v2.13h-2.13zM861.89 1004.78h2.13v2.13h-2.13zM768.34 1002.65h2.13v2.13h-2.13zM815.11 1002.65h2.13v2.13h-2.13zM819.37 1002.65h4.25v2.13h-4.25zM840.63 1002.65h2.13v2.13h-2.13zM857.63 1002.65h4.25v2.13h-4.25zM768.34 1000.52h4.25v2.13h-4.25zM817.24 1000.52h4.25v2.13h-4.25zM823.62 1000.52h2.13v2.13h-2.13zM840.63 1000.52h2.13v2.13h-2.13zM859.76 1000.52h2.13v2.13h-2.13zM768.34 998.4h2.13v2.13h-2.13zM772.59 998.4h2.13v2.13h-2.13zM819.37 998.4h8.5v2.13h-8.5zM838.5 998.4h2.13v2.13h-2.13zM844.88 998.4h2.13v2.13h-2.13zM857.63 998.4h2.13v2.13h-2.13zM770.47 996.27h2.13v2.13h-2.13zM812.99 996.27h2.13v2.13h-2.13zM817.24 996.27h2.13v2.13h-2.13zM821.49 996.27h2.13v2.13h-2.13zM825.74 996.27h4.25v2.13h-4.25zM838.5 996.27h2.13v2.13h-2.13zM842.75 996.27h2.13v2.13h-2.13zM768.34 994.15h4.25v2.13h-4.25zM812.99 994.15h2.13v2.13h-2.13zM817.24 994.15h4.25v2.13h-4.25zM830 994.15h2.13v2.13h-2.13zM836.37 994.15h6.38v2.13h-6.38zM768.34 992.02h2.13v2.13h-2.13zM772.59 992.02h2.13v2.13h-2.13zM817.24 992.02h10.63v2.13h-10.63zM834.25 992.02h2.13v2.13h-2.13zM840.63 992.02h4.25v2.13h-4.25zM859.76 992.02h2.13v2.13h-2.13zM770.47 989.89h6.38v2.13h-6.38zM815.11 989.89h2.13v2.13h-2.13zM825.74 989.89h2.13v2.13h-2.13zM840.63 989.89h4.25v2.13h-4.25zM768.34 987.77h6.38v2.13h-6.38zM815.11 987.77h2.13v2.13h-2.13zM819.37 987.77h2.13v2.13h-2.13zM838.5 987.77h4.25v2.13h-4.25zM768.34 985.64h6.38v2.13h-6.38zM817.24 985.64h2.13v2.13h-2.13zM821.49 985.64h2.13v2.13h-2.13zM825.74 985.64h2.13v2.13h-2.13zM836.37 985.64h2.13v2.13h-2.13zM840.63 985.64h2.13v2.13h-2.13zM859.76 985.64h2.13v2.13h-2.13zM770.47 983.52h4.25v2.13h-4.25zM776.85 983.52h2.13v2.13h-2.13zM819.37 983.52h8.5v2.13h-8.5zM834.25 983.52h2.13v2.13h-2.13zM840.63 983.52h2.13v2.13h-2.13zM857.63 983.52h4.25v2.13h-4.25zM772.59 981.39h2.13v2.13h-2.13zM817.24 981.39h2.13v2.13h-2.13zM825.74 981.39h2.13v2.13h-2.13zM836.37 981.39h2.13v2.13h-2.13zM857.63 981.39h4.25v2.13h-4.25zM770.47 979.26h4.25v2.13h-4.25zM806.61 979.26h2.13v2.13h-2.13zM815.11 979.26h2.13v2.13h-2.13zM819.37 979.26h2.13v2.13h-2.13zM827.87 979.26h2.13v2.13h-2.13zM840.63 979.26h2.13v2.13h-2.13zM857.63 979.26h4.25v2.13h-4.25zM770.47 977.14h4.25v2.13h-4.25zM776.85 977.14h4.25v2.13h-4.25zM808.74 977.14h2.13v2.13h-2.13zM834.25 977.14h2.13v2.13h-2.13zM840.63 977.14h6.38v2.13h-6.38zM859.76 977.14h4.25v2.13h-4.25zM772.59 975.01h6.38v2.13h-6.38zM808.74 975.01h2.13v2.13h-2.13zM817.24 975.01h2.13v2.13h-2.13zM821.49 975.01h4.25v2.13h-4.25zM827.87 975.01h2.13v2.13h-2.13zM834.25 975.01h2.13v2.13h-2.13zM840.63 975.01h2.13v2.13h-2.13zM857.63 975.01h2.13v2.13h-2.13zM772.59 972.89h2.13v2.13h-2.13zM821.49 972.89h2.13v2.13h-2.13zM830 972.89h2.13v2.13h-2.13zM836.37 972.89h2.13v2.13h-2.13zM840.63 972.89h6.38v2.13h-6.38zM857.63 972.89h2.13v2.13h-2.13zM770.47 970.76h2.13v2.13h-2.13zM774.72 970.76h4.25v2.13h-4.25zM815.11 970.76h2.13v2.13h-2.13zM819.37 970.76h2.13v2.13h-2.13zM823.62 970.76h2.13v2.13h-2.13zM827.87 970.76h2.13v2.13h-2.13zM836.37 970.76h2.13v2.13h-2.13zM840.63 970.76h4.25v2.13h-4.25zM855.51 970.76h2.13v2.13h-2.13zM859.76 970.76h2.13v2.13h-2.13zM774.72 968.63h2.13v2.13h-2.13zM778.97 968.63h2.13v2.13h-2.13zM806.61 968.63h10.63v2.13h-10.63zM819.37 968.63h4.25v2.13h-4.25zM842.75 968.63h6.38v2.13h-6.38zM857.63 968.63h2.13v2.13h-2.13zM778.97 966.51h4.25v2.13h-4.25zM791.73 966.51h2.13v2.13h-2.13zM804.48 966.51h4.25v2.13h-4.25zM810.86 966.51h6.38v2.13h-6.38zM819.37 966.51h2.13v2.13h-2.13zM823.62 966.51h4.25v2.13h-4.25zM842.75 966.51h4.25v2.13h-4.25zM857.63 966.51h2.13v2.13h-2.13zM778.97 964.38h2.13v2.13h-2.13zM789.6 964.38h2.13v2.13h-2.13zM800.23 964.38h2.13v2.13h-2.13zM806.61 964.38h2.13v2.13h-2.13zM815.11 964.38h4.25v2.13h-4.25zM827.87 964.38h2.13v2.13h-2.13zM834.25 964.38h2.13v2.13h-2.13zM842.75 964.38h4.25v2.13h-4.25zM855.51 964.38h4.25v2.13h-4.25zM781.1 962.26h2.13v2.13h-2.13zM785.35 962.26h2.13v2.13h-2.13zM789.6 962.26h2.13v2.13h-2.13zM793.85 962.26h2.13v2.13h-2.13zM798.11 962.26h2.13v2.13h-2.13zM810.86 962.26h6.38v2.13h-6.38zM819.37 962.26h2.13v2.13h-2.13zM836.37 962.26h2.13v2.13h-2.13zM847 962.26h2.13v2.13h-2.13zM855.51 962.26h2.13v2.13h-2.13zM768.34 960.13h2.13v2.13h-2.13zM776.85 960.13h4.25v2.13h-4.25zM783.22 960.13h2.13v2.13h-2.13zM789.6 960.13h4.25v2.13h-4.25zM798.11 960.13h4.25v2.13h-4.25zM808.74 960.13h4.25v2.13h-4.25zM823.62 960.13h2.13v2.13h-2.13zM827.87 960.13h2.13v2.13h-2.13zM832.12 960.13h2.13v2.13h-2.13zM844.88 960.13h4.25v2.13h-4.25zM776.85 958h2.13v2.13h-2.13zM783.22 958h8.5v2.13h-8.5zM802.36 958h10.63v2.13h-10.63zM815.11 958h4.25v2.13h-4.25zM825.74 958h4.25v2.13h-4.25zM847 958h4.25v2.13h-4.25zM855.51 958h2.13v2.13h-2.13zM772.59 955.88h2.13v2.13h-2.13zM783.22 955.88h4.25v2.13h-4.25zM789.6 955.88h2.13v2.13h-2.13zM800.23 955.88h6.38v2.13h-6.38zM812.99 955.88h6.38v2.13h-6.38zM821.49 955.88h2.13v2.13h-2.13zM825.74 955.88h2.13v2.13h-2.13zM838.5 955.88h2.13v2.13h-2.13zM842.75 955.88h2.13v2.13h-2.13zM847 955.88h2.13v2.13h-2.13zM774.72 953.75h2.13v2.13h-2.13zM785.35 953.75h2.13v2.13h-2.13zM789.6 953.75h10.63v2.13h-10.63zM810.86 953.75h2.13v2.13h-2.13zM815.11 953.75h2.13v2.13h-2.13zM821.49 953.75h4.25v2.13h-4.25zM827.87 953.75h4.25v2.13h-4.25zM834.25 953.75h2.13v2.13h-2.13zM844.88 953.75h8.5v2.13h-8.5zM781.1 951.63h2.13v2.13h-2.13zM787.48 951.63h4.25v2.13h-4.25zM793.85 951.63h8.5v2.13h-8.5zM808.74 951.63h21.26v2.13h-21.26zM834.25 951.63h4.25v2.13h-4.25zM840.63 951.63h2.13v2.13h-2.13zM844.88 951.63h2.13v2.13h-2.13zM849.13 951.63h2.13v2.13h-2.13zM853.38 951.63h2.13v2.13h-2.13zM857.63 951.63h2.13v2.13h-2.13zM781.1 949.5h4.25v2.13h-4.25zM789.6 949.5h4.25v2.13h-4.25zM800.23 949.5h2.13v2.13h-2.13zM806.61 949.5h17.01v2.13h-17.01zM825.74 949.5h6.38v2.13h-6.38zM836.37 949.5h2.13v2.13h-2.13zM840.63 949.5h2.13v2.13h-2.13zM847 949.5h10.63v2.13h-10.63zM783.22 947.37h2.13v2.13h-2.13zM787.48 947.37h2.13v2.13h-2.13zM791.73 947.37h2.13v2.13h-2.13zM795.98 947.37h2.13v2.13h-2.13zM808.74 947.37h6.38v2.13h-6.38zM817.24 947.37h2.13v2.13h-2.13zM821.49 947.37h8.5v2.13h-8.5zM832.12 947.37h2.13v2.13h-2.13zM842.75 947.37h2.13v2.13h-2.13zM847 947.37h2.13v2.13h-2.13zM851.26 947.37h2.13v2.13h-2.13zM857.63 947.37h2.13v2.13h-2.13zM791.73 945.25h10.63v2.13h-10.63zM806.61 945.25h2.13v2.13h-2.13zM815.11 945.25h2.13v2.13h-2.13zM821.49 945.25h2.13v2.13h-2.13zM825.74 945.25h2.13v2.13h-2.13zM834.25 945.25h2.13v2.13h-2.13zM838.5 945.25h2.13v2.13h-2.13zM849.13 945.25h6.38v2.13h-6.38zM783.22 943.12h2.13v2.13h-2.13zM793.85 943.12h2.13v2.13h-2.13zM798.11 943.12h2.13v2.13h-2.13zM810.86 943.12h2.13v2.13h-2.13zM817.24 943.12h6.38v2.13h-6.38zM825.74 943.12h2.13v2.13h-2.13zM836.37 943.12h2.13v2.13h-2.13zM842.75 943.12h2.13v2.13h-2.13zM849.13 943.12h2.13v2.13h-2.13zM787.48 941h2.13v2.13h-2.13zM793.85 941h2.13v2.13h-2.13zM798.11 941h2.13v2.13h-2.13zM804.48 941h4.25v2.13h-4.25zM815.11 941h6.38v2.13h-6.38zM823.62 941h2.13v2.13h-2.13zM838.5 941h10.63v2.13h-10.63zM802.36 938.87h2.13v2.13h-2.13zM810.86 938.87h2.13v2.13h-2.13zM815.11 938.87h2.13v2.13h-2.13zM823.62 938.87h2.13v2.13h-2.13zM834.25 938.87h4.25v2.13h-4.25zM847 938.87h2.13v2.13h-2.13zM851.26 938.87h2.13v2.13h-2.13zM857.63 938.87h4.25v2.13h-4.25zM800.23 936.74h8.5v2.13h-8.5zM812.99 936.74h2.13v2.13h-2.13zM819.37 936.74h2.13v2.13h-2.13zM823.62 936.74h2.13v2.13h-2.13zM827.87 936.74h4.25v2.13h-4.25zM834.25 936.74h2.13v2.13h-2.13zM838.5 936.74h2.13v2.13h-2.13zM847 936.74h2.13v2.13h-2.13zM851.26 936.74h4.25v2.13h-4.25zM804.48 934.62h2.13v2.13h-2.13zM815.11 934.62h2.13v2.13h-2.13zM823.62 934.62h4.25v2.13h-4.25zM830 934.62h2.13v2.13h-2.13zM834.25 934.62h2.13v2.13h-2.13zM838.5 934.62h2.13v2.13h-2.13zM842.75 934.62h2.13v2.13h-2.13zM823.62 932.49h2.13v2.13h-2.13zM827.87 932.49h8.5v2.13h-8.5zM842.75 932.49h2.13v2.13h-2.13zM847 932.49h2.13v2.13h-2.13zM851.26 932.49h2.13v2.13h-2.13zM855.51 932.49h2.13v2.13h-2.13zM821.49 930.37h2.13v2.13h-2.13zM834.25 930.37h2.13v2.13h-2.13zM847 930.37h4.25v2.13h-4.25zM853.38 930.37h2.13v2.13h-2.13zM830 928.24h2.13v2.13h-2.13zM838.5 928.24h2.13v2.13h-2.13zM844.88 928.24h4.25v2.13h-4.25zM849.13 923.99h2.13v2.13h-2.13zM836.37 921.86h2.13v2.13h-2.13zM851.26 919.74h2.13v2.13h-2.13zM853.38 911.23h2.13v2.13h-2.13zM849.13 909.11h2.13v2.13h-2.13zM855.51 906.98h2.13v2.13h-2.13z" fill="#787878" shape-rendering="crispEdges"/>
<path d="M791.73 1045.17h2.13v2.13h-2.13zM785.35 1043.04h2.13v2.13h-2.13zM800.23 1040.92h2.13v2.13h-2.13zM789.6 1038.79h2.13v2.13h-2.13zM793.85 1038.79h2.13v2.13h-2.13zM817.24 1038.79h2.13v2.13h-2.13zM795.98 1036.67h4.25v2.13h-4.25zM781.1 1034.54h2.13v2.13h-2.13zM787.48 1034.54h8.5v2.13h-8.5zM776.85 1032.41h2.13v2.13h-2.13zM785.35 1032.41h2.13v2.13h-2.13zM791.73 1032.41h6.38v2.13h-6.38zM802.36 1032.41h6.38v2.13h-6.38zM778.97 1030.29h12.76v2.13h-12.76zM793.85 1030.29h2.13v2.13h-2.13zM802.36 1030.29h4.25v2.13h-4.25zM781.1 1028.16h4.25v2.13h-4.25zM787.48 1028.16h14.88v2.13h-14.88zM776.85 1026.04h2.13v2.13h-2.13zM781.1 1026.04h4.25v2.13h-4.25zM787.48 1026.04h2.13v2.13h-2.13zM793.85 1026.04h6.38v2.13h-6.38zM806.61 1026.04h2.13v2.13h-2.13zM810.86 1026.04h2.13v2.13h-2.13zM778.97 1023.91h6.38v2.13h-6.38zM787.48 1023.91h2.13v2.13h-2.13zM798.11 1023.91h2.13v2.13h-2.13zM802.36 1023.91h8.5v2.13h-8.5zM849.13 1023.91h4.25v2.13h-4.25zM781.1 1021.78h6.38v2.13h-6.38zM791.73 1021.78h2.13v2.13h-2.13zM800.23 1021.78h6.38v2.13h-6.38zM808.74 1021.78h2.13v2.13h-2.13zM851.26 1021.78h4.25v2.13h-4.25zM785.35 1019.66h2.13v2.13h-2.13zM802.36 1019.66h8.5v2.13h-8.5zM812.99 1019.66h2.13v2.13h-2.13zM847 1019.66h2.13v2.13h-2.13zM851.26 1019.66h2.13v2.13h-2.13zM778.97 1017.53h4.25v2.13h-4.25zM808.74 1017.53h4.25v2.13h-4.25zM815.11 1017.53h2.13v2.13h-2.13zM851.26 1017.53h2.13v2.13h-2.13zM774.72 1015.41h2.13v2.13h-2.13zM781.1 1015.41h2.13v2.13h-2.13zM804.48 1015.41h6.38v2.13h-6.38zM815.11 1015.41h2.13v2.13h-2.13zM844.88 1015.41h2.13v2.13h-2.13zM851.26 1015.41h2.13v2.13h-2.13zM855.51 1015.41h2.13v2.13h-2.13zM770.47 1013.28h2.13v2.13h-2.13zM774.72 1013.28h2.13v2.13h-2.13zM808.74 1013.28h2.13v2.13h-2.13zM812.99 1013.28h2.13v2.13h-2.13zM817.24 1013.28h2.13v2.13h-2.13zM847 1013.28h6.38v2.13h-6.38zM855.51 1013.28h2.13v2.13h-2.13zM774.72 1011.15h4.25v2.13h-4.25zM808.74 1011.15h4.25v2.13h-4.25zM815.11 1011.15h2.13v2.13h-2.13zM821.49 1011.15h2.13v2.13h-2.13zM849.13 1011.15h8.5v2.13h-8.5zM770.47 1009.03h2.13v2.13h-2.13zM776.85 1009.03h2.13v2.13h-2.13zM806.61 1009.03h2.13v2.13h-2.13zM815.11 1009.03h4.25v2.13h-4.25zM844.88 1009.03h8.5v2.13h-8.5zM855.51 1009.03h2.13v2.13h-2.13zM768.34 1006.9h2.13v2.13h-2.13zM774.72 1006.9h4.25v2.13h-4.25zM806.61 1006.9h2.13v2.13h-2.13zM810.86 1006.9h8.5v2.13h-8.5zM821.49 1006.9h2.13v2.13h-2.13zM844.88 1006.9h2.13v2.13h-2.13zM857.63 1006.9h2.13v2.13h-2.13zM776.85 1004.78h2.13v2.13h-2.13zM806.61 1004.78h2.13v2.13h-2.13zM810.86 1004.78h8.5v2.13h-8.5zM847 1004.78h2.13v2.13h-2.13zM857.63 1004.78h2.13v2.13h-2.13zM772.59 1002.65h2.13v2.13h-2.13zM776.85 1002.65h2.13v2.13h-2.13zM812.99 1002.65h2.13v2.13h-2.13zM817.24 1002.65h2.13v2.13h-2.13zM842.75 1002.65h8.5v2.13h-8.5zM772.59 1000.52h4.25v2.13h-4.25zM806.61 1000.52h2.13v2.13h-2.13zM812.99 1000.52h4.25v2.13h-4.25zM842.75 1000.52h2.13v2.13h-2.13zM855.51 1000.52h4.25v2.13h-4.25zM774.72 998.4h2.13v2.13h-2.13zM810.86 998.4h8.5v2.13h-8.5zM842.75 998.4h2.13v2.13h-2.13zM768.34 996.27h2.13v2.13h-2.13zM772.59 996.27h4.25v2.13h-4.25zM815.11 996.27h2.13v2.13h-2.13zM819.37 996.27h2.13v2.13h-2.13zM857.63 996.27h4.25v2.13h-4.25zM772.59 994.15h4.25v2.13h-4.25zM815.11 994.15h2.13v2.13h-2.13zM821.49 994.15h2.13v2.13h-2.13zM842.75 994.15h4.25v2.13h-4.25zM855.51 994.15h6.38v2.13h-6.38zM770.47 992.02h2.13v2.13h-2.13zM774.72 992.02h2.13v2.13h-2.13zM810.86 992.02h4.25v2.13h-4.25zM857.63 992.02h2.13v2.13h-2.13zM804.48 989.89h2.13v2.13h-2.13zM810.86 989.89h4.25v2.13h-4.25zM819.37 989.89h2.13v2.13h-2.13zM844.88 989.89h2.13v2.13h-2.13zM855.51 989.89h6.38v2.13h-6.38zM774.72 987.77h6.38v2.13h-6.38zM808.74 987.77h6.38v2.13h-6.38zM817.24 987.77h2.13v2.13h-2.13zM821.49 987.77h2.13v2.13h-2.13zM844.88 987.77h2.13v2.13h-2.13zM859.76 987.77h2.13v2.13h-2.13zM774.72 985.64h4.25v2.13h-4.25zM806.61 985.64h10.63v2.13h-10.63zM842.75 985.64h2.13v2.13h-2.13zM857.63 985.64h2.13v2.13h-2.13zM774.72 983.52h2.13v2.13h-2.13zM808.74 983.52h2.13v2.13h-2.13zM812.99 983.52h6.38v2.13h-6.38zM844.88 983.52h2.13v2.13h-2.13zM855.51 983.52h2.13v2.13h-2.13zM774.72 981.39h6.38v2.13h-6.38zM806.61 981.39h4.25v2.13h-4.25zM812.99 981.39h2.13v2.13h-2.13zM821.49 981.39h2.13v2.13h-2.13zM840.63 981.39h2.13v2.13h-2.13zM844.88 981.39h2.13v2.13h-2.13zM774.72 979.26h6.38v2.13h-6.38zM810.86 979.26h4.25v2.13h-4.25zM817.24 979.26h2.13v2.13h-2.13zM842.75 979.26h2.13v2.13h-2.13zM855.51 979.26h2.13v2.13h-2.13zM781.1 977.14h2.13v2.13h-2.13zM804.48 977.14h2.13v2.13h-2.13zM812.99 977.14h4.25v2.13h-4.25zM819.37 977.14h2.13v2.13h-2.13zM855.51 977.14h4.25v2.13h-4.25zM778.97 975.01h6.38v2.13h-6.38zM791.73 975.01h2.13v2.13h-2.13zM800.23 975.01h8.5v2.13h-8.5zM810.86 975.01h6.38v2.13h-6.38zM842.75 975.01h2.13v2.13h-2.13zM774.72 972.89h2.13v2.13h-2.13zM778.97 972.89h2.13v2.13h-2.13zM787.48 972.89h2.13v2.13h-2.13zM802.36 972.89h2.13v2.13h-2.13zM806.61 972.89h10.63v2.13h-10.63zM855.51 972.89h2.13v2.13h-2.13zM778.97 970.76h2.13v2.13h-2.13zM785.35 970.76h2.13v2.13h-2.13zM789.6 970.76h2.13v2.13h-2.13zM793.85 970.76h2.13v2.13h-2.13zM798.11 970.76h4.25v2.13h-4.25zM806.61 970.76h8.5v2.13h-8.5zM844.88 970.76h6.38v2.13h-6.38zM781.1 968.63h2.13v2.13h-2.13zM785.35 968.63h14.88v2.13h-14.88zM802.36 968.63h2.13v2.13h-2.13zM849.13 968.63h2.13v2.13h-2.13zM855.51 968.63h2.13v2.13h-2.13zM783.22 966.51h2.13v2.13h-2.13zM789.6 966.51h2.13v2.13h-2.13zM798.11 966.51h2.13v2.13h-2.13zM802.36 966.51h2.13v2.13h-2.13zM808.74 966.51h2.13v2.13h-2.13zM817.24 966.51h2.13v2.13h-2.13zM847 966.51h6.38v2.13h-6.38zM855.51 966.51h2.13v2.13h-2.13zM785.35 964.38h4.25v2.13h-4.25zM795.98 964.38h4.25v2.13h-4.25zM802.36 964.38h4.25v2.13h-4.25zM808.74 964.38h2.13v2.13h-2.13zM812.99 964.38h2.13v2.13h-2.13zM847 964.38h4.25v2.13h-4.25zM776.85 962.26h4.25v2.13h-4.25zM783.22 962.26h2.13v2.13h-2.13zM787.48 962.26h2.13v2.13h-2.13zM791.73 962.26h2.13v2.13h-2.13zM795.98 962.26h2.13v2.13h-2.13zM800.23 962.26h10.63v2.13h-10.63zM844.88 962.26h2.13v2.13h-2.13zM787.48 960.13h2.13v2.13h-2.13zM793.85 960.13h2.13v2.13h-2.13zM802.36 960.13h6.38v2.13h-6.38zM812.99 960.13h6.38v2.13h-6.38zM849.13 960.13h2.13v2.13h-2.13zM781.1 958h2.13v2.13h-2.13zM791.73 958h6.38v2.13h-6.38zM800.23 958h2.13v2.13h-2.13zM844.88 958h2.13v2.13h-2.13zM851.26 958h2.13v2.13h-2.13zM791.73 955.88h8.5v2.13h-8.5zM819.37 955.88h2.13v2.13h-2.13zM849.13 955.88h2.13v2.13h-2.13zM787.48 953.75h2.13v2.13h-2.13zM800.23 953.75h2.13v2.13h-2.13zM804.48 953.75h4.25v2.13h-4.25zM825.74 953.75h2.13v2.13h-2.13zM791.73 951.63h2.13v2.13h-2.13zM804.48 951.63h2.13v2.13h-2.13zM842.75 951.63h2.13v2.13h-2.13zM851.26 951.63h2.13v2.13h-2.13zM795.98 949.5h4.25v2.13h-4.25zM802.36 949.5h2.13v2.13h-2.13zM844.88 949.5h2.13v2.13h-2.13zM802.36 947.37h4.25v2.13h-4.25zM830 947.37h2.13v2.13h-2.13zM789.6 945.25h2.13v2.13h-2.13zM812.99 945.25h2.13v2.13h-2.13zM817.24 945.25h2.13v2.13h-2.13zM800.23 943.12h4.25v2.13h-4.25zM812.99 943.12h2.13v2.13h-2.13zM827.87 943.12h4.25v2.13h-4.25zM851.26 943.12h2.13v2.13h-2.13zM817.24 938.87h2.13v2.13h-2.13zM827.87 938.87h2.13v2.13h-2.13zM832.12 938.87h2.13v2.13h-2.13zM815.11 932.49h2.13v2.13h-2.13z" fill="#505050" shape-rendering="crispEdges"/>
<path d="M798.11 1040.92h2.13v2.13h-2.13zM802.36 1036.67h2.13v2.13h-2.13zM783.22 1034.54h2.13v2.13h-2.13zM795.98 1030.29h2.13v2.13h-2.13zM800.23 1030.29h2.13v2.13h-2.13zM802.36 1028.16h2.13v2.13h-2.13zM808.74 1028.16h2.13v2.13h-2.13zM800.23 1026.04h2.13v2.13h-2.13zM808.74 1026.04h2.13v2.13h-2.13zM789.6 1023.91h8.5v2.13h-8.5zM787.48 1021.78h4.25v2.13h-4.25zM793.85 1021.78h6.38v2.13h-6.38zM810.86 1021.78h2.13v2.13h-2.13zM781.1 1019.66h4.25v2.13h-4.25zM787.48 1019.66h4.25v2.13h-4.25zM793.85 1019.66h8.5v2.13h-8.5zM810.86 1019.66h2.13v2.13h-2.13zM783.22 1017.53h6.38v2.13h-6.38zM795.98 1017.53h12.76v2.13h-12.76zM853.38 1017.53h2.13v2.13h-2.13zM778.97 1015.41h2.13v2.13h-2.13zM783.22 1015.41h4.25v2.13h-4.25zM789.6 1015.41h2.13v2.13h-2.13zM802.36 1015.41h2.13v2.13h-2.13zM847 1015.41h2.13v2.13h-2.13zM853.38 1015.41h2.13v2.13h-2.13zM776.85 1013.28h8.5v2.13h-8.5zM789.6 1013.28h2.13v2.13h-2.13zM793.85 1013.28h2.13v2.13h-2.13zM800.23 1013.28h8.5v2.13h-8.5zM810.86 1013.28h2.13v2.13h-2.13zM815.11 1013.28h2.13v2.13h-2.13zM853.38 1013.28h2.13v2.13h-2.13zM778.97 1011.15h6.38v2.13h-6.38zM800.23 1011.15h2.13v2.13h-2.13zM804.48 1011.15h4.25v2.13h-4.25zM778.97 1009.03h4.25v2.13h-4.25zM802.36 1009.03h2.13v2.13h-2.13zM808.74 1009.03h6.38v2.13h-6.38zM853.38 1009.03h2.13v2.13h-2.13zM778.97 1006.9h4.25v2.13h-4.25zM808.74 1006.9h2.13v2.13h-2.13zM849.13 1006.9h4.25v2.13h-4.25zM855.51 1006.9h2.13v2.13h-2.13zM778.97 1004.78h4.25v2.13h-4.25zM804.48 1004.78h2.13v2.13h-2.13zM808.74 1004.78h2.13v2.13h-2.13zM849.13 1004.78h4.25v2.13h-4.25zM774.72 1002.65h2.13v2.13h-2.13zM781.1 1002.65h2.13v2.13h-2.13zM806.61 1002.65h6.38v2.13h-6.38zM851.26 1002.65h2.13v2.13h-2.13zM855.51 1002.65h2.13v2.13h-2.13zM776.85 1000.52h2.13v2.13h-2.13zM808.74 1000.52h4.25v2.13h-4.25zM844.88 1000.52h8.5v2.13h-8.5zM776.85 998.4h4.25v2.13h-4.25zM806.61 998.4h4.25v2.13h-4.25zM847 998.4h4.25v2.13h-4.25zM855.51 998.4h2.13v2.13h-2.13zM776.85 996.27h2.13v2.13h-2.13zM810.86 996.27h2.13v2.13h-2.13zM844.88 996.27h4.25v2.13h-4.25zM855.51 996.27h2.13v2.13h-2.13zM776.85 994.15h2.13v2.13h-2.13zM804.48 994.15h2.13v2.13h-2.13zM808.74 994.15h4.25v2.13h-4.25zM847 994.15h2.13v2.13h-2.13zM776.85 992.02h4.25v2.13h-4.25zM808.74 992.02h2.13v2.13h-2.13zM815.11 992.02h2.13v2.13h-2.13zM844.88 992.02h6.38v2.13h-6.38zM855.51 992.02h2.13v2.13h-2.13zM776.85 989.89h6.38v2.13h-6.38zM806.61 989.89h4.25v2.13h-4.25zM847 989.89h2.13v2.13h-2.13zM804.48 987.77h4.25v2.13h-4.25zM842.75 987.77h2.13v2.13h-2.13zM847 987.77h2.13v2.13h-2.13zM855.51 987.77h4.25v2.13h-4.25zM778.97 985.64h4.25v2.13h-4.25zM804.48 985.64h2.13v2.13h-2.13zM819.37 985.64h2.13v2.13h-2.13zM844.88 985.64h2.13v2.13h-2.13zM855.51 985.64h2.13v2.13h-2.13zM778.97 983.52h4.25v2.13h-4.25zM800.23 983.52h2.13v2.13h-2.13zM806.61 983.52h2.13v2.13h-2.13zM842.75 983.52h2.13v2.13h-2.13zM847 983.52h4.25v2.13h-4.25zM781.1 981.39h2.13v2.13h-2.13zM802.36 981.39h2.13v2.13h-2.13zM810.86 981.39h2.13v2.13h-2.13zM815.11 981.39h2.13v2.13h-2.13zM849.13 981.39h2.13v2.13h-2.13zM855.51 981.39h2.13v2.13h-2.13zM781.1 979.26h6.38v2.13h-6.38zM795.98 979.26h2.13v2.13h-2.13zM802.36 979.26h4.25v2.13h-4.25zM808.74 979.26h2.13v2.13h-2.13zM844.88 979.26h2.13v2.13h-2.13zM849.13 979.26h2.13v2.13h-2.13zM783.22 977.14h8.5v2.13h-8.5zM793.85 977.14h10.63v2.13h-10.63zM806.61 977.14h2.13v2.13h-2.13zM810.86 977.14h2.13v2.13h-2.13zM847 977.14h2.13v2.13h-2.13zM785.35 975.01h6.38v2.13h-6.38zM795.98 975.01h4.25v2.13h-4.25zM844.88 975.01h6.38v2.13h-6.38zM855.51 975.01h2.13v2.13h-2.13zM781.1 972.89h6.38v2.13h-6.38zM789.6 972.89h12.76v2.13h-12.76zM804.48 972.89h2.13v2.13h-2.13zM847 972.89h4.25v2.13h-4.25zM781.1 970.76h4.25v2.13h-4.25zM787.48 970.76h2.13v2.13h-2.13zM791.73 970.76h2.13v2.13h-2.13zM795.98 970.76h2.13v2.13h-2.13zM804.48 970.76h2.13v2.13h-2.13zM851.26 970.76h2.13v2.13h-2.13zM857.63 970.76h2.13v2.13h-2.13zM783.22 968.63h2.13v2.13h-2.13zM800.23 968.63h2.13v2.13h-2.13zM804.48 968.63h2.13v2.13h-2.13zM851.26 968.63h2.13v2.13h-2.13zM787.48 966.51h2.13v2.13h-2.13zM793.85 966.51h4.25v2.13h-4.25zM800.23 966.51h2.13v2.13h-2.13zM791.73 964.38h4.25v2.13h-4.25zM851.26 964.38h2.13v2.13h-2.13zM851.26 962.26h2.13v2.13h-2.13zM795.98 960.13h2.13v2.13h-2.13zM851.26 960.13h4.25v2.13h-4.25zM798.11 958h2.13v2.13h-2.13zM853.38 958h2.13v2.13h-2.13zM853.38 955.88h2.13v2.13h-2.13zM802.36 953.75h2.13v2.13h-2.13zM853.38 953.75h2.13v2.13h-2.13z" fill="#282828" shape-rendering="crispEdges"/>
<path d="M791.73 1019.66h2.13v2.13h-2.13zM789.6 1017.53h6.38v2.13h-6.38zM787.48 1015.41h2.13v2.13h-2.13zM791.73 1015.41h10.63v2.13h-10.63zM785.35 1013.28h4.25v2.13h-4.25zM791.73 1013.28h2.13v2.13h-2.13zM795.98 1013.28h4.25v2.13h-4.25zM785.35 1011.15h14.88v2.13h-14.88zM802.36 1011.15h2.13v2.13h-2.13zM783.22 1009.03h19.13v2.13h-19.13zM804.48 1009.03h2.13v2.13h-2.13zM783.22 1006.9h23.39v2.13h-23.39zM853.38 1006.9h2.13v2.13h-2.13zM783.22 1004.78h21.26v2.13h-21.26zM853.38 1004.78h2.13v2.13h-2.13zM778.97 1002.65h2.13v2.13h-2.13zM783.22 1002.65h23.39v2.13h-23.39zM853.38 1002.65h2.13v2.13h-2.13zM778.97 1000.52h27.64v2.13h-27.64zM853.38 1000.52h2.13v2.13h-2.13zM781.1 998.4h25.51v2.13h-25.51zM851.26 998.4h4.25v2.13h-4.25zM778.97 996.27h31.89v2.13h-31.89zM849.13 996.27h6.38v2.13h-6.38zM778.97 994.15h25.51v2.13h-25.51zM806.61 994.15h2.13v2.13h-2.13zM849.13 994.15h6.38v2.13h-6.38zM781.1 992.02h27.64v2.13h-27.64zM851.26 992.02h4.25v2.13h-4.25zM783.22 989.89h21.26v2.13h-21.26zM849.13 989.89h6.38v2.13h-6.38zM781.1 987.77h23.39v2.13h-23.39zM849.13 987.77h6.38v2.13h-6.38zM783.22 985.64h21.26v2.13h-21.26zM847 985.64h8.5v2.13h-8.5zM783.22 983.52h17.01v2.13h-17.01zM802.36 983.52h4.25v2.13h-4.25zM810.86 983.52h2.13v2.13h-2.13zM851.26 983.52h4.25v2.13h-4.25zM783.22 981.39h19.13v2.13h-19.13zM804.48 981.39h2.13v2.13h-2.13zM847 981.39h2.13v2.13h-2.13zM851.26 981.39h4.25v2.13h-4.25zM787.48 979.26h8.5v2.13h-8.5zM798.11 979.26h4.25v2.13h-4.25zM847 979.26h2.13v2.13h-2.13zM851.26 979.26h4.25v2.13h-4.25zM791.73 977.14h2.13v2.13h-2.13zM849.13 977.14h6.38v2.13h-6.38zM793.85 975.01h2.13v2.13h-2.13zM851.26 975.01h4.25v2.13h-4.25zM851.26 972.89h4.25v2.13h-4.25zM802.36 970.76h2.13v2.13h-2.13zM853.38 970.76h2.13v2.13h-2.13zM853.38 968.63h2.13v2.13h-2.13zM853.38 966.51h2.13v2.13h-2.13zM853.38 964.38h2.13v2.13h-2.13zM853.38 962.26h2.13v2.13h-2.13z" fill="#000000" shape-rendering="crispEdges"/>
<path d="M614.4 748.99H986.46V751.11H614.4ZM614.4 1107.89H986.46V1110.01H614.4ZM624.84 748.99H626.96V1120.15H624.84ZM984.34 748.99H986.46V1120.15H984.34ZM641.85 1108.95H643.98V1120.15H641.85ZM652.49 1108.95H654.62V1120.15H652.49ZM658.87 1108.95H661V1120.15H658.87ZM665.25 1108.95H667.38V1120.15H665.25ZM669.51 1108.95H671.64V1120.15H669.51ZM673.76 1108.95H678.02V1120.15H673.76ZM680.14 1108.95H684.4V1120.15H680.14ZM699.29 1108.95H701.42V1120.15H699.29ZM709.93 1108.95H712.05V1120.15H709.93ZM716.31 1108.95H718.43V1120.15H716.31ZM722.69 1108.95H724.82V1120.15H722.69ZM726.94 1108.95H729.07V1120.15H726.94ZM731.2 1108.95H735.45V1120.15H731.2ZM737.58 1108.95H741.83V1120.15H737.58ZM756.72 1108.95H758.85V1120.15H756.72ZM767.36 1108.95H769.49V1120.15H767.36ZM773.74 1108.95H775.87V1120.15H773.74ZM780.12 1108.95H782.25V1120.15H780.12ZM784.38 1108.95H786.51V1120.15H784.38ZM788.63 1108.95H790.76V1120.15H788.63ZM792.89 1108.95H799.27V1120.15H792.89ZM814.16 1108.95H816.29V1120.15H814.16ZM824.79 1108.95H826.92V1120.15H824.79ZM833.3 1108.95H835.43V1120.15H833.3ZM837.56 1108.95H839.69V1120.15H837.56ZM841.81 1108.95H843.94V1120.15H841.81ZM846.07 1108.95H848.19V1120.15H846.07ZM850.32 1108.95H854.58V1120.15H850.32ZM856.7 1108.95H858.83V1120.15H856.7ZM873.72 1108.95H875.85V1120.15H873.72ZM884.36 1108.95H886.48V1120.15H884.36ZM890.74 1108.95H892.87V1120.15H890.74ZM897.12 1108.95H899.25V1120.15H897.12ZM901.37 1108.95H903.5V1120.15H901.37ZM905.63 1108.95H909.88V1120.15H905.63ZM912.01 1108.95H916.27V1120.15H912.01ZM931.16 1108.95H933.28V1120.15H931.16ZM941.79 1108.95H943.92V1120.15H941.79ZM948.17 1108.95H950.3V1120.15H948.17ZM954.56 1108.95H956.68V1120.15H954.56ZM958.81 1108.95H960.94V1120.15H958.81ZM963.06 1108.95H967.32V1120.15H963.06ZM969.45 1108.95H973.7V1120.15H969.45ZM614.4 1088.74H625.9V1090.87H614.4ZM614.4 1080.23H625.9V1082.36H614.4ZM614.4 1071.72H625.9V1073.85H614.4ZM614.4 1067.47H625.9V1069.6H614.4ZM614.4 1058.96H625.9V1063.21H614.4ZM614.4 1050.45H625.9V1056.83H614.4ZM614.4 1031.31H625.9V1033.43H614.4ZM614.4 1022.8H625.9V1024.92H614.4ZM614.4 1014.29H625.9V1016.42H614.4ZM614.4 1010.03H625.9V1012.16H614.4ZM614.4 1005.78H625.9V1007.91H614.4ZM614.4 1001.53H625.9V1003.65H614.4ZM614.4 993.02H625.9V999.4H614.4ZM614.4 973.87H625.9V976H614.4ZM614.4 965.36H625.9V967.49H614.4ZM614.4 956.85H625.9V958.98H614.4ZM614.4 952.6H625.9V954.73H614.4ZM614.4 948.34H625.9V950.47H614.4ZM614.4 944.09H625.9V946.22H614.4ZM614.4 935.58H625.9V941.96H614.4ZM614.4 916.44H625.9V918.56H614.4ZM614.4 907.93H625.9V910.06H614.4ZM614.4 899.42H625.9V901.55H614.4ZM614.4 895.16H625.9V897.29H614.4ZM614.4 890.91H625.9V893.04H614.4ZM614.4 886.66H625.9V888.78H614.4ZM614.4 878.15H625.9V884.53H614.4ZM614.4 859H625.9V861.13H614.4ZM614.4 850.49H625.9V852.62H614.4ZM614.4 841.98H625.9V844.11H614.4ZM614.4 837.73H625.9V839.86H614.4ZM614.4 833.48H625.9V835.6H614.4ZM614.4 829.22H625.9V831.35H614.4ZM614.4 820.71H625.9V827.09H614.4ZM614.4 801.57H625.9V803.69H614.4ZM614.4 793.06H625.9V795.19H614.4ZM614.4 784.55H625.9V786.68H614.4ZM614.4 780.29H625.9V782.42H614.4ZM614.4 776.04H625.9V778.17H614.4ZM614.4 771.79H625.9V773.91H614.4ZM614.4 763.28H625.9V769.66H614.4Z" fill="#0000ff"/>
<text x="624.99" y="715.15" font-size="27.83" textLength="253.72" lengthAdjust="spacingAndGlyphs" fill="#000">D04 Bacillus D Yuting</text>
<text x="625.38" y="741.75" font-size="27.83" textLength="453.52" lengthAdjust="spacingAndGlyphs" fill="#000" clip-path="url(#c1)">Gate: (Bacillus Noise in (Bacillus in all)</text>
<text x="611.29" y="1144.15" font-size="11.86" textLength="13.95" lengthAdjust="spacingAndGlyphs" fill="#0000ff" font-weight="bold">10</text>
<text x="626.27" y="1139.45" font-size="20.72" textLength="5.43" lengthAdjust="spacingAndGlyphs" fill="#0000ff" stroke="#0000ff" stroke-width="0.45">1</text>
<text x="670.69" y="1144.15" font-size="11.86" textLength="13.95" lengthAdjust="spacingAndGlyphs" fill="#0000ff" font-weight="bold">10</text>
<text x="683.13" y="1139.45" font-size="20.43" textLength="10.76" lengthAdjust="spacingAndGlyphs" fill="#0000ff" stroke="#0000ff" stroke-width="0.45">2</text>
<text x="727.69" y="1144.15" font-size="11.86" textLength="13.95" lengthAdjust="spacingAndGlyphs" fill="#0000ff" font-weight="bold">10</text>
<text x="741.29" y="1139.45" font-size="20.43" textLength="9.82" lengthAdjust="spacingAndGlyphs" fill="#0000ff" stroke="#0000ff" stroke-width="0.45">3</text>
<text x="785.49" y="1144.15" font-size="11.86" textLength="13.95" lengthAdjust="spacingAndGlyphs" fill="#0000ff" font-weight="bold">10</text>
<text x="799.11" y="1139.45" font-size="20.72" textLength="11.01" lengthAdjust="spacingAndGlyphs" fill="#0000ff" stroke="#0000ff" stroke-width="0.45">4</text>
<text x="845.29" y="1144.15" font-size="11.86" textLength="13.95" lengthAdjust="spacingAndGlyphs" fill="#0000ff" font-weight="bold">10</text>
<text x="858.6" y="1139.45" font-size="20.72" textLength="9.72" lengthAdjust="spacingAndGlyphs" fill="#0000ff" stroke="#0000ff" stroke-width="0.45">5</text>
<text x="902.59" y="1144.15" font-size="11.86" textLength="13.95" lengthAdjust="spacingAndGlyphs" fill="#0000ff" font-weight="bold">10</text>
<text x="916.88" y="1139.45" font-size="20.43" textLength="9.07" lengthAdjust="spacingAndGlyphs" fill="#0000ff" stroke="#0000ff" stroke-width="0.45">6</text>
<text x="964.39" y="1144.15" font-size="11.86" textLength="13.95" lengthAdjust="spacingAndGlyphs" fill="#0000ff" font-weight="bold">10</text>
<text x="977.41" y="1139.45" font-size="20.43" textLength="27.48" lengthAdjust="spacingAndGlyphs" fill="#0000ff" stroke="#0000ff" stroke-width="0.45">7.2</text>
<text transform="translate(603.5 1118.85) rotate(-90)" x="-0.82" y="0" font-size="11.86" textLength="14.11" lengthAdjust="spacingAndGlyphs" fill="#0000ff" font-weight="bold">10</text>
<text transform="translate(599.1 1106.1) rotate(-90)" x="-0.78" y="0" font-size="20.72" textLength="5.82" lengthAdjust="spacingAndGlyphs" fill="#0000ff" stroke="#0000ff" stroke-width="0.45">1</text>
<text transform="translate(603.5 1061.42) rotate(-90)" x="-0.82" y="0" font-size="11.86" textLength="14.11" lengthAdjust="spacingAndGlyphs" fill="#0000ff" font-weight="bold">10</text>
<text transform="translate(599.1 1048.67) rotate(-90)" x="-0.97" y="0" font-size="20.43" textLength="10.76" lengthAdjust="spacingAndGlyphs" fill="#0000ff" stroke="#0000ff" stroke-width="0.45">2</text>
<text transform="translate(603.5 1003.98) rotate(-90)" x="-0.82" y="0" font-size="11.86" textLength="14.11" lengthAdjust="spacingAndGlyphs" fill="#0000ff" font-weight="bold">10</text>
<text transform="translate(599.1 991.23) rotate(-90)" x="-0.71" y="0" font-size="20.43" textLength="9.94" lengthAdjust="spacingAndGlyphs" fill="#0000ff" stroke="#0000ff" stroke-width="0.45">3</text>
<text transform="translate(603.5 946.55) rotate(-90)" x="-0.82" y="0" font-size="11.86" textLength="14.11" lengthAdjust="spacingAndGlyphs" fill="#0000ff" font-weight="bold">10</text>
<text transform="translate(599.1 933.8) rotate(-90)" x="-0.49" y="0" font-size="20.72" textLength="11.01" lengthAdjust="spacingAndGlyphs" fill="#0000ff" stroke="#0000ff" stroke-width="0.45">4</text>
<text transform="translate(603.5 889.11) rotate(-90)" x="-0.82" y="0" font-size="11.86" textLength="14.11" lengthAdjust="spacingAndGlyphs" fill="#0000ff" font-weight="bold">10</text>
<text transform="translate(599.1 876.36) rotate(-90)" x="-0.72" y="0" font-size="20.72" textLength="10.07" lengthAdjust="spacingAndGlyphs" fill="#0000ff" stroke="#0000ff" stroke-width="0.45">5</text>
<text transform="translate(603.5 831.68) rotate(-90)" x="-0.82" y="0" font-size="11.86" textLength="14.11" lengthAdjust="spacingAndGlyphs" fill="#0000ff" font-weight="bold">10</text>
<text transform="translate(599.1 818.93) rotate(-90)" x="-0.91" y="0" font-size="20.43" textLength="10.16" lengthAdjust="spacingAndGlyphs" fill="#0000ff" stroke="#0000ff" stroke-width="0.45">6</text>
<text transform="translate(603.5 767.95) rotate(-90)" x="-0.81" y="0" font-size="11.86" textLength="13.84" lengthAdjust="spacingAndGlyphs" fill="#0000ff" font-weight="bold">10</text>
<text transform="translate(599.1 754.85) rotate(-90)" x="-0.97" y="0" font-size="20.43" textLength="26.83" lengthAdjust="spacingAndGlyphs" fill="#0000ff" stroke="#0000ff" stroke-width="0.45">7.2</text>
<text x="774.41" y="1167.6" font-size="20.86" textLength="63.39" lengthAdjust="spacingAndGlyphs" fill="#000">FSC-A</text>
<text transform="translate(576.1 997.7) rotate(-90)" x="-1.74" y="0" font-size="20.86" textLength="59.21" lengthAdjust="spacingAndGlyphs" fill="#000">FL3-A</text>
<rect x="625.9" y="953.05" width="359.5" height="1.8" fill="#669900"/>
<text x="805.97" y="924.95" font-size="26.96" textLength="46.55" lengthAdjust="spacingAndGlyphs" fill="#669900">Live</text>
<text x="806.86" y="948.55" font-size="26.96" textLength="71.94" lengthAdjust="spacingAndGlyphs" fill="#669900">86.3%</text>
<text x="805.97" y="975.95" font-size="26.96" textLength="60.66" lengthAdjust="spacingAndGlyphs" fill="#ff0000">Dead</text>
<text x="806.1" y="999.15" font-size="26.96" textLength="71.94" lengthAdjust="spacingAndGlyphs" fill="#ff0000">13.4%</text>
<rect x="1158" y="750.05" width="359.5" height="358.9" fill="#fff"/>
<path d="M1321.7 1102.57h2.13v2.13h-2.13zM1393.99 1081.31h2.13v2.13h-2.13zM1330.21 1068.56h2.13v2.13h-2.13zM1374.85 1057.93h2.13v2.13h-2.13zM1315.32 1053.67h2.13v2.13h-2.13zM1313.2 1049.42h2.13v2.13h-2.13zM1300.44 1045.17h2.13v2.13h-2.13zM1364.22 1045.17h2.13v2.13h-2.13zM1396.11 1045.17h2.13v2.13h-2.13zM1323.83 1043.04h2.13v2.13h-2.13zM1345.09 1043.04h2.13v2.13h-2.13zM1349.34 1043.04h2.13v2.13h-2.13zM1317.45 1040.92h2.13v2.13h-2.13zM1304.69 1038.79h2.13v2.13h-2.13zM1321.7 1038.79h4.25v2.13h-4.25zM1342.96 1036.67h2.13v2.13h-2.13zM1330.21 1034.54h2.13v2.13h-2.13zM1357.84 1034.54h2.13v2.13h-2.13zM1398.24 1034.54h2.13v2.13h-2.13zM1313.2 1032.41h2.13v2.13h-2.13zM1311.07 1030.29h2.13v2.13h-2.13zM1330.21 1030.29h2.13v2.13h-2.13zM1368.47 1030.29h2.13v2.13h-2.13zM1355.72 1028.16h2.13v2.13h-2.13zM1389.73 1028.16h2.13v2.13h-2.13zM1400.36 1026.04h2.13v2.13h-2.13zM1417.37 1026.04h2.13v2.13h-2.13zM1302.57 1023.91h2.13v2.13h-2.13zM1328.08 1023.91h2.13v2.13h-2.13zM1345.09 1023.91h2.13v2.13h-2.13zM1353.59 1023.91h2.13v2.13h-2.13zM1362.1 1023.91h2.13v2.13h-2.13zM1406.74 1023.91h2.13v2.13h-2.13zM1342.96 1021.78h2.13v2.13h-2.13zM1408.87 1021.78h2.13v2.13h-2.13zM1311.07 1019.66h2.13v2.13h-2.13zM1321.7 1017.53h2.13v2.13h-2.13zM1325.95 1017.53h2.13v2.13h-2.13zM1336.58 1017.53h2.13v2.13h-2.13zM1355.72 1017.53h2.13v2.13h-2.13zM1362.1 1017.53h2.13v2.13h-2.13zM1330.21 1015.41h2.13v2.13h-2.13zM1334.46 1015.41h2.13v2.13h-2.13zM1338.71 1015.41h2.13v2.13h-2.13zM1353.59 1015.41h2.13v2.13h-2.13zM1323.83 1013.28h2.13v2.13h-2.13zM1340.84 1013.28h2.13v2.13h-2.13zM1328.08 1011.15h2.13v2.13h-2.13zM1340.84 1011.15h2.13v2.13h-2.13zM1359.97 1011.15h4.25v2.13h-4.25zM1398.24 1011.15h2.13v2.13h-2.13zM1306.82 1009.03h2.13v2.13h-2.13zM1332.33 1009.03h2.13v2.13h-2.13zM1383.36 1009.03h2.13v2.13h-2.13zM1396.11 1009.03h2.13v2.13h-2.13zM1300.44 1006.9h2.13v2.13h-2.13zM1330.21 1006.9h2.13v2.13h-2.13zM1336.58 1006.9h6.38v2.13h-6.38zM1374.85 1006.9h2.13v2.13h-2.13zM1357.84 1004.78h2.13v2.13h-2.13zM1368.47 1004.78h2.13v2.13h-2.13zM1315.32 1002.65h2.13v2.13h-2.13zM1340.84 1002.65h2.13v2.13h-2.13zM1351.47 1002.65h2.13v2.13h-2.13zM1374.85 1002.65h2.13v2.13h-2.13zM1391.86 1002.65h2.13v2.13h-2.13zM1317.45 1000.52h4.25v2.13h-4.25zM1332.33 1000.52h4.25v2.13h-4.25zM1300.44 998.4h2.13v2.13h-2.13zM1304.69 998.4h2.13v2.13h-2.13zM1315.32 998.4h2.13v2.13h-2.13zM1330.21 998.4h2.13v2.13h-2.13zM1334.46 998.4h2.13v2.13h-2.13zM1338.71 998.4h6.38v2.13h-6.38zM1387.61 998.4h2.13v2.13h-2.13zM1319.58 996.27h2.13v2.13h-2.13zM1325.95 996.27h2.13v2.13h-2.13zM1336.58 996.27h4.25v2.13h-4.25zM1345.09 996.27h2.13v2.13h-2.13zM1349.34 996.27h2.13v2.13h-2.13zM1366.35 996.27h2.13v2.13h-2.13zM1313.2 994.15h2.13v2.13h-2.13zM1317.45 994.15h2.13v2.13h-2.13zM1338.71 994.15h2.13v2.13h-2.13zM1345.09 994.15h2.13v2.13h-2.13zM1349.34 994.15h4.25v2.13h-4.25zM1300.44 992.02h2.13v2.13h-2.13zM1311.07 992.02h2.13v2.13h-2.13zM1315.32 992.02h2.13v2.13h-2.13zM1319.58 992.02h2.13v2.13h-2.13zM1338.71 992.02h2.13v2.13h-2.13zM1342.96 992.02h6.38v2.13h-6.38zM1300.44 989.89h2.13v2.13h-2.13zM1323.83 989.89h2.13v2.13h-2.13zM1330.21 989.89h2.13v2.13h-2.13zM1304.69 987.77h2.13v2.13h-2.13zM1311.07 987.77h2.13v2.13h-2.13zM1317.45 987.77h2.13v2.13h-2.13zM1336.58 987.77h4.25v2.13h-4.25zM1351.47 987.77h2.13v2.13h-2.13zM1385.48 987.77h2.13v2.13h-2.13zM1315.32 985.64h2.13v2.13h-2.13zM1319.58 985.64h2.13v2.13h-2.13zM1325.95 985.64h2.13v2.13h-2.13zM1332.33 985.64h4.25v2.13h-4.25zM1342.96 985.64h2.13v2.13h-2.13zM1353.59 985.64h2.13v2.13h-2.13zM1357.84 985.64h2.13v2.13h-2.13zM1368.47 985.64h2.13v2.13h-2.13zM1317.45 983.52h2.13v2.13h-2.13zM1328.08 983.52h4.25v2.13h-4.25zM1349.34 983.52h2.13v2.13h-2.13zM1417.37 983.52h2.13v2.13h-2.13zM1319.58 981.39h4.25v2.13h-4.25zM1338.71 981.39h2.13v2.13h-2.13zM1342.96 981.39h2.13v2.13h-2.13zM1302.57 979.26h2.13v2.13h-2.13zM1313.2 979.26h2.13v2.13h-2.13zM1321.7 979.26h2.13v2.13h-2.13zM1328.08 979.26h2.13v2.13h-2.13zM1332.33 979.26h2.13v2.13h-2.13zM1338.71 979.26h2.13v2.13h-2.13zM1345.09 979.26h4.25v2.13h-4.25zM1330.21 977.14h4.25v2.13h-4.25zM1336.58 977.14h2.13v2.13h-2.13zM1349.34 977.14h2.13v2.13h-2.13zM1353.59 977.14h2.13v2.13h-2.13zM1366.35 977.14h2.13v2.13h-2.13zM1300.44 975.01h2.13v2.13h-2.13zM1313.2 975.01h2.13v2.13h-2.13zM1330.21 975.01h4.25v2.13h-4.25zM1336.58 975.01h2.13v2.13h-2.13zM1342.96 975.01h4.25v2.13h-4.25zM1353.59 975.01h2.13v2.13h-2.13zM1359.97 975.01h2.13v2.13h-2.13zM1374.85 975.01h2.13v2.13h-2.13zM1300.44 972.89h2.13v2.13h-2.13zM1330.21 972.89h2.13v2.13h-2.13zM1334.46 972.89h2.13v2.13h-2.13zM1338.71 972.89h2.13v2.13h-2.13zM1347.21 972.89h2.13v2.13h-2.13zM1351.47 972.89h2.13v2.13h-2.13zM1362.1 972.89h4.25v2.13h-4.25zM1325.95 970.76h2.13v2.13h-2.13zM1332.33 970.76h2.13v2.13h-2.13zM1311.07 968.63h4.25v2.13h-4.25zM1321.7 968.63h2.13v2.13h-2.13zM1332.33 968.63h2.13v2.13h-2.13zM1336.58 968.63h2.13v2.13h-2.13zM1368.47 968.63h2.13v2.13h-2.13zM1413.12 968.63h2.13v2.13h-2.13zM1308.95 966.51h4.25v2.13h-4.25zM1315.32 966.51h2.13v2.13h-2.13zM1334.46 966.51h2.13v2.13h-2.13zM1342.96 966.51h2.13v2.13h-2.13zM1370.6 966.51h2.13v2.13h-2.13zM1323.83 964.38h2.13v2.13h-2.13zM1328.08 964.38h2.13v2.13h-2.13zM1338.71 964.38h4.25v2.13h-4.25zM1353.59 964.38h2.13v2.13h-2.13zM1374.85 964.38h4.25v2.13h-4.25zM1304.69 962.26h2.13v2.13h-2.13zM1317.45 962.26h2.13v2.13h-2.13zM1334.46 962.26h2.13v2.13h-2.13zM1342.96 962.26h2.13v2.13h-2.13zM1347.21 962.26h8.5v2.13h-8.5zM1364.22 962.26h2.13v2.13h-2.13zM1332.33 960.13h2.13v2.13h-2.13zM1336.58 958h2.13v2.13h-2.13zM1417.37 958h2.13v2.13h-2.13zM1334.46 955.88h4.25v2.13h-4.25zM1349.34 955.88h2.13v2.13h-2.13zM1357.84 955.88h2.13v2.13h-2.13zM1370.6 955.88h2.13v2.13h-2.13zM1313.2 953.75h2.13v2.13h-2.13zM1328.08 953.75h2.13v2.13h-2.13zM1332.33 953.75h2.13v2.13h-2.13zM1340.84 953.75h2.13v2.13h-2.13zM1370.6 953.75h2.13v2.13h-2.13zM1400.36 953.75h2.13v2.13h-2.13zM1342.96 951.63h2.13v2.13h-2.13zM1349.34 951.63h2.13v2.13h-2.13zM1372.73 951.63h2.13v2.13h-2.13zM1332.33 949.5h4.25v2.13h-4.25zM1351.47 949.5h2.13v2.13h-2.13zM1355.72 949.5h4.25v2.13h-4.25zM1362.1 949.5h2.13v2.13h-2.13zM1349.34 947.37h2.13v2.13h-2.13zM1332.33 945.25h2.13v2.13h-2.13zM1342.96 945.25h2.13v2.13h-2.13zM1374.85 945.25h2.13v2.13h-2.13zM1334.46 943.12h2.13v2.13h-2.13zM1338.71 943.12h2.13v2.13h-2.13zM1351.47 943.12h2.13v2.13h-2.13zM1334.46 941h2.13v2.13h-2.13zM1338.71 941h2.13v2.13h-2.13zM1406.74 941h2.13v2.13h-2.13zM1357.84 936.74h2.13v2.13h-2.13zM1366.35 934.62h2.13v2.13h-2.13zM1370.6 934.62h2.13v2.13h-2.13zM1340.84 932.49h2.13v2.13h-2.13zM1328.08 930.37h2.13v2.13h-2.13zM1332.33 930.37h2.13v2.13h-2.13zM1357.84 930.37h2.13v2.13h-2.13zM1370.6 930.37h2.13v2.13h-2.13zM1336.58 928.24h2.13v2.13h-2.13zM1342.96 928.24h2.13v2.13h-2.13zM1336.58 926.11h2.13v2.13h-2.13zM1345.09 923.99h2.13v2.13h-2.13zM1359.97 923.99h2.13v2.13h-2.13zM1336.58 921.86h4.25v2.13h-4.25zM1347.21 921.86h4.25v2.13h-4.25zM1372.73 921.86h2.13v2.13h-2.13zM1334.46 919.74h2.13v2.13h-2.13zM1347.21 919.74h2.13v2.13h-2.13zM1351.47 919.74h4.25v2.13h-4.25zM1357.84 919.74h2.13v2.13h-2.13zM1370.6 919.74h2.13v2.13h-2.13zM1336.58 917.61h2.13v2.13h-2.13zM1345.09 917.61h2.13v2.13h-2.13zM1349.34 917.61h2.13v2.13h-2.13zM1353.59 917.61h4.25v2.13h-4.25zM1359.97 917.61h2.13v2.13h-2.13zM1366.35 917.61h2.13v2.13h-2.13zM1383.36 917.61h2.13v2.13h-2.13zM1330.21 915.48h2.13v2.13h-2.13zM1336.58 915.48h2.13v2.13h-2.13zM1345.09 915.48h2.13v2.13h-2.13zM1351.47 915.48h6.38v2.13h-6.38zM1359.97 915.48h6.38v2.13h-6.38zM1370.6 915.48h4.25v2.13h-4.25zM1385.48 915.48h2.13v2.13h-2.13zM1396.11 915.48h2.13v2.13h-2.13zM1332.33 913.36h4.25v2.13h-4.25zM1340.84 913.36h6.38v2.13h-6.38zM1349.34 913.36h2.13v2.13h-2.13zM1353.59 913.36h2.13v2.13h-2.13zM1359.97 913.36h12.76v2.13h-12.76zM1374.85 913.36h2.13v2.13h-2.13zM1383.36 913.36h2.13v2.13h-2.13zM1338.71 911.23h4.25v2.13h-4.25zM1351.47 911.23h21.26v2.13h-21.26zM1396.11 911.23h2.13v2.13h-2.13zM1328.08 909.11h2.13v2.13h-2.13zM1334.46 909.11h2.13v2.13h-2.13zM1338.71 909.11h2.13v2.13h-2.13zM1345.09 909.11h27.64v2.13h-27.64zM1374.85 909.11h2.13v2.13h-2.13zM1379.1 909.11h2.13v2.13h-2.13zM1383.36 909.11h2.13v2.13h-2.13zM1393.99 909.11h4.25v2.13h-4.25zM1336.58 906.98h2.13v2.13h-2.13zM1342.96 906.98h40.39v2.13h-40.39zM1391.86 906.98h2.13v2.13h-2.13zM1328.08 904.85h2.13v2.13h-2.13zM1334.46 904.85h2.13v2.13h-2.13zM1342.96 904.85h12.76v2.13h-12.76zM1357.84 904.85h4.25v2.13h-4.25zM1364.22 904.85h2.13v2.13h-2.13zM1368.47 904.85h8.5v2.13h-8.5zM1379.1 904.85h6.38v2.13h-6.38zM1398.24 904.85h4.25v2.13h-4.25zM1328.08 902.73h2.13v2.13h-2.13zM1336.58 902.73h4.25v2.13h-4.25zM1345.09 902.73h12.76v2.13h-12.76zM1359.97 902.73h2.13v2.13h-2.13zM1364.22 902.73h2.13v2.13h-2.13zM1370.6 902.73h6.38v2.13h-6.38zM1379.1 902.73h6.38v2.13h-6.38zM1387.61 902.73h4.25v2.13h-4.25zM1393.99 902.73h2.13v2.13h-2.13zM1400.36 902.73h2.13v2.13h-2.13zM1338.71 900.6h14.88v2.13h-14.88zM1355.72 900.6h4.25v2.13h-4.25zM1376.98 900.6h23.39v2.13h-23.39zM1340.84 898.48h4.25v2.13h-4.25zM1347.21 898.48h10.63v2.13h-10.63zM1383.36 898.48h14.88v2.13h-14.88zM1402.49 898.48h4.25v2.13h-4.25zM1338.71 896.35h14.88v2.13h-14.88zM1357.84 896.35h2.13v2.13h-2.13zM1387.61 896.35h14.88v2.13h-14.88zM1404.62 896.35h2.13v2.13h-2.13zM1421.62 896.35h2.13v2.13h-2.13zM1340.84 894.22h12.76v2.13h-12.76zM1389.73 894.22h2.13v2.13h-2.13zM1393.99 894.22h12.76v2.13h-12.76zM1410.99 894.22h2.13v2.13h-2.13zM1330.21 892.1h2.13v2.13h-2.13zM1338.71 892.1h2.13v2.13h-2.13zM1342.96 892.1h12.76v2.13h-12.76zM1398.24 892.1h12.76v2.13h-12.76zM1415.25 892.1h2.13v2.13h-2.13zM1340.84 889.97h12.76v2.13h-12.76zM1355.72 889.97h2.13v2.13h-2.13zM1400.36 889.97h14.88v2.13h-14.88zM1419.5 889.97h2.13v2.13h-2.13zM1423.75 889.97h2.13v2.13h-2.13zM1345.09 887.85h12.76v2.13h-12.76zM1404.62 887.85h6.38v2.13h-6.38zM1417.37 887.85h2.13v2.13h-2.13zM1342.96 885.72h2.13v2.13h-2.13zM1347.21 885.72h2.13v2.13h-2.13zM1351.47 885.72h8.5v2.13h-8.5zM1402.49 885.72h4.25v2.13h-4.25zM1408.87 885.72h6.38v2.13h-6.38zM1417.37 885.72h2.13v2.13h-2.13zM1334.46 883.59h2.13v2.13h-2.13zM1351.47 883.59h8.5v2.13h-8.5zM1410.99 883.59h6.38v2.13h-6.38zM1419.5 883.59h2.13v2.13h-2.13zM1342.96 881.47h4.25v2.13h-4.25zM1351.47 881.47h10.63v2.13h-10.63zM1410.99 881.47h8.5v2.13h-8.5zM1421.62 881.47h4.25v2.13h-4.25zM1351.47 879.34h10.63v2.13h-10.63zM1408.87 879.34h2.13v2.13h-2.13zM1415.25 879.34h6.38v2.13h-6.38zM1428 879.34h2.13v2.13h-2.13zM1347.21 877.22h4.25v2.13h-4.25zM1355.72 877.22h12.76v2.13h-12.76zM1417.37 877.22h8.5v2.13h-8.5zM1351.47 875.09h4.25v2.13h-4.25zM1357.84 875.09h8.5v2.13h-8.5zM1417.37 875.09h8.5v2.13h-8.5zM1353.59 872.96h4.25v2.13h-4.25zM1362.1 872.96h6.38v2.13h-6.38zM1421.62 872.96h4.25v2.13h-4.25zM1349.34 870.84h2.13v2.13h-2.13zM1359.97 870.84h2.13v2.13h-2.13zM1364.22 870.84h8.5v2.13h-8.5zM1421.62 870.84h10.63v2.13h-10.63zM1436.51 870.84h2.13v2.13h-2.13zM1440.76 870.84h2.13v2.13h-2.13zM1353.59 868.71h2.13v2.13h-2.13zM1364.22 868.71h8.5v2.13h-8.5zM1421.62 868.71h8.5v2.13h-8.5zM1432.25 868.71h4.25v2.13h-4.25zM1366.35 866.59h6.38v2.13h-6.38zM1425.88 866.59h14.88v2.13h-14.88zM1366.35 864.46h12.76v2.13h-12.76zM1428 864.46h4.25v2.13h-4.25zM1434.38 864.46h6.38v2.13h-6.38zM1357.84 862.33h2.13v2.13h-2.13zM1362.1 862.33h2.13v2.13h-2.13zM1368.47 862.33h12.76v2.13h-12.76zM1428 862.33h8.5v2.13h-8.5zM1442.88 862.33h2.13v2.13h-2.13zM1447.14 862.33h2.13v2.13h-2.13zM1357.84 860.21h2.13v2.13h-2.13zM1370.6 860.21h4.25v2.13h-4.25zM1376.98 860.21h4.25v2.13h-4.25zM1383.36 860.21h2.13v2.13h-2.13zM1428 860.21h8.5v2.13h-8.5zM1438.63 860.21h2.13v2.13h-2.13zM1359.97 858.08h2.13v2.13h-2.13zM1370.6 858.08h8.5v2.13h-8.5zM1381.23 858.08h2.13v2.13h-2.13zM1385.48 858.08h4.25v2.13h-4.25zM1428 858.08h4.25v2.13h-4.25zM1438.63 858.08h6.38v2.13h-6.38zM1370.6 855.96h2.13v2.13h-2.13zM1374.85 855.96h12.76v2.13h-12.76zM1389.73 855.96h4.25v2.13h-4.25zM1430.13 855.96h12.76v2.13h-12.76zM1445.01 855.96h4.25v2.13h-4.25zM1376.98 853.83h2.13v2.13h-2.13zM1383.36 853.83h2.13v2.13h-2.13zM1387.61 853.83h4.25v2.13h-4.25zM1432.25 853.83h10.63v2.13h-10.63zM1445.01 853.83h4.25v2.13h-4.25zM1453.51 853.83h2.13v2.13h-2.13zM1359.97 851.7h2.13v2.13h-2.13zM1376.98 851.7h21.26v2.13h-21.26zM1400.36 851.7h2.13v2.13h-2.13zM1430.13 851.7h17.01v2.13h-17.01zM1451.39 851.7h2.13v2.13h-2.13zM1385.48 849.58h14.88v2.13h-14.88zM1402.49 849.58h6.38v2.13h-6.38zM1425.88 849.58h2.13v2.13h-2.13zM1430.13 849.58h10.63v2.13h-10.63zM1447.14 849.58h2.13v2.13h-2.13zM1362.1 847.45h2.13v2.13h-2.13zM1383.36 847.45h2.13v2.13h-2.13zM1393.99 847.45h12.76v2.13h-12.76zM1408.87 847.45h2.13v2.13h-2.13zM1421.62 847.45h4.25v2.13h-4.25zM1428 847.45h12.76v2.13h-12.76zM1442.88 847.45h8.5v2.13h-8.5zM1385.48 845.33h2.13v2.13h-2.13zM1389.73 845.33h21.26v2.13h-21.26zM1415.25 845.33h6.38v2.13h-6.38zM1425.88 845.33h2.13v2.13h-2.13zM1432.25 845.33h10.63v2.13h-10.63zM1445.01 845.33h2.13v2.13h-2.13zM1451.39 845.33h2.13v2.13h-2.13zM1393.99 843.2h2.13v2.13h-2.13zM1400.36 843.2h21.26v2.13h-21.26zM1423.75 843.2h4.25v2.13h-4.25zM1430.13 843.2h14.88v2.13h-14.88zM1447.14 843.2h2.13v2.13h-2.13zM1451.39 843.2h2.13v2.13h-2.13zM1379.1 841.07h2.13v2.13h-2.13zM1387.61 841.07h2.13v2.13h-2.13zM1393.99 841.07h2.13v2.13h-2.13zM1398.24 841.07h21.26v2.13h-21.26zM1421.62 841.07h4.25v2.13h-4.25zM1430.13 841.07h17.01v2.13h-17.01zM1459.89 841.07h2.13v2.13h-2.13zM1374.85 838.95h2.13v2.13h-2.13zM1391.86 838.95h4.25v2.13h-4.25zM1404.62 838.95h4.25v2.13h-4.25zM1410.99 838.95h19.13v2.13h-19.13zM1432.25 838.95h10.63v2.13h-10.63zM1445.01 838.95h2.13v2.13h-2.13zM1391.86 836.82h2.13v2.13h-2.13zM1400.36 836.82h4.25v2.13h-4.25zM1406.74 836.82h36.14v2.13h-36.14zM1449.26 836.82h2.13v2.13h-2.13zM1398.24 834.7h2.13v2.13h-2.13zM1408.87 834.7h2.13v2.13h-2.13zM1413.12 834.7h10.63v2.13h-10.63zM1425.88 834.7h12.76v2.13h-12.76zM1440.76 834.7h4.25v2.13h-4.25zM1447.14 834.7h2.13v2.13h-2.13zM1408.87 832.57h2.13v2.13h-2.13zM1421.62 832.57h4.25v2.13h-4.25zM1428 832.57h17.01v2.13h-17.01zM1449.26 832.57h2.13v2.13h-2.13zM1453.51 832.57h4.25v2.13h-4.25zM1404.62 830.44h2.13v2.13h-2.13zM1408.87 830.44h6.38v2.13h-6.38zM1419.5 830.44h4.25v2.13h-4.25zM1425.88 830.44h4.25v2.13h-4.25zM1434.38 830.44h2.13v2.13h-2.13zM1438.63 830.44h10.63v2.13h-10.63zM1453.51 830.44h4.25v2.13h-4.25zM1413.12 828.32h2.13v2.13h-2.13zM1421.62 828.32h8.5v2.13h-8.5zM1434.38 828.32h8.5v2.13h-8.5zM1451.39 828.32h2.13v2.13h-2.13zM1413.12 826.19h2.13v2.13h-2.13zM1425.88 826.19h2.13v2.13h-2.13zM1434.38 826.19h4.25v2.13h-4.25zM1442.88 826.19h2.13v2.13h-2.13zM1447.14 826.19h2.13v2.13h-2.13zM1457.77 826.19h2.13v2.13h-2.13zM1464.14 826.19h2.13v2.13h-2.13zM1430.13 824.07h4.25v2.13h-4.25zM1436.51 824.07h2.13v2.13h-2.13zM1442.88 824.07h6.38v2.13h-6.38zM1421.62 821.94h2.13v2.13h-2.13zM1434.38 821.94h4.25v2.13h-4.25zM1440.76 821.94h4.25v2.13h-4.25zM1451.39 821.94h2.13v2.13h-2.13zM1423.75 819.81h2.13v2.13h-2.13zM1428 819.81h2.13v2.13h-2.13zM1457.77 819.81h2.13v2.13h-2.13zM1428 817.69h2.13v2.13h-2.13zM1442.88 817.69h2.13v2.13h-2.13zM1447.14 817.69h2.13v2.13h-2.13zM1455.64 817.69h2.13v2.13h-2.13zM1445.01 815.56h2.13v2.13h-2.13zM1449.26 815.56h2.13v2.13h-2.13zM1453.51 815.56h4.25v2.13h-4.25zM1462.02 815.56h2.13v2.13h-2.13zM1413.12 813.44h2.13v2.13h-2.13zM1442.88 813.44h2.13v2.13h-2.13zM1468.4 813.44h2.13v2.13h-2.13zM1449.26 811.31h2.13v2.13h-2.13zM1449.26 809.18h2.13v2.13h-2.13zM1462.02 807.06h2.13v2.13h-2.13zM1470.52 804.93h2.13v2.13h-2.13zM1468.4 802.81h2.13v2.13h-2.13z" fill="#c8c8c8" shape-rendering="crispEdges"/>
<path d="M1355.72 904.85h2.13v2.13h-2.13zM1362.1 904.85h2.13v2.13h-2.13zM1366.35 904.85h2.13v2.13h-2.13zM1376.98 904.85h2.13v2.13h-2.13zM1357.84 902.73h2.13v2.13h-2.13zM1362.1 902.73h2.13v2.13h-2.13zM1366.35 902.73h4.25v2.13h-4.25zM1376.98 902.73h2.13v2.13h-2.13zM1353.59 900.6h2.13v2.13h-2.13zM1359.97 900.6h8.5v2.13h-8.5zM1370.6 900.6h6.38v2.13h-6.38zM1357.84 898.48h8.5v2.13h-8.5zM1370.6 898.48h2.13v2.13h-2.13zM1374.85 898.48h8.5v2.13h-8.5zM1353.59 896.35h4.25v2.13h-4.25zM1359.97 896.35h6.38v2.13h-6.38zM1374.85 896.35h2.13v2.13h-2.13zM1379.1 896.35h2.13v2.13h-2.13zM1383.36 896.35h4.25v2.13h-4.25zM1353.59 894.22h10.63v2.13h-10.63zM1385.48 894.22h2.13v2.13h-2.13zM1391.86 894.22h2.13v2.13h-2.13zM1355.72 892.1h6.38v2.13h-6.38zM1387.61 892.1h10.63v2.13h-10.63zM1353.59 889.97h2.13v2.13h-2.13zM1357.84 889.97h6.38v2.13h-6.38zM1391.86 889.97h8.5v2.13h-8.5zM1357.84 887.85h6.38v2.13h-6.38zM1396.11 887.85h8.5v2.13h-8.5zM1359.97 885.72h6.38v2.13h-6.38zM1398.24 885.72h4.25v2.13h-4.25zM1406.74 885.72h2.13v2.13h-2.13zM1359.97 883.59h4.25v2.13h-4.25zM1402.49 883.59h8.5v2.13h-8.5zM1362.1 881.47h4.25v2.13h-4.25zM1406.74 881.47h4.25v2.13h-4.25zM1362.1 879.34h4.25v2.13h-4.25zM1368.47 879.34h2.13v2.13h-2.13zM1410.99 879.34h4.25v2.13h-4.25zM1368.47 877.22h2.13v2.13h-2.13zM1410.99 877.22h6.38v2.13h-6.38zM1366.35 875.09h8.5v2.13h-8.5zM1410.99 875.09h6.38v2.13h-6.38zM1368.47 872.96h8.5v2.13h-8.5zM1415.25 872.96h6.38v2.13h-6.38zM1372.73 870.84h6.38v2.13h-6.38zM1417.37 870.84h4.25v2.13h-4.25zM1372.73 868.71h8.5v2.13h-8.5zM1417.37 868.71h4.25v2.13h-4.25zM1372.73 866.59h10.63v2.13h-10.63zM1421.62 866.59h4.25v2.13h-4.25zM1379.1 864.46h6.38v2.13h-6.38zM1421.62 864.46h6.38v2.13h-6.38zM1381.23 862.33h8.5v2.13h-8.5zM1421.62 862.33h6.38v2.13h-6.38zM1381.23 860.21h2.13v2.13h-2.13zM1385.48 860.21h6.38v2.13h-6.38zM1393.99 860.21h2.13v2.13h-2.13zM1421.62 860.21h2.13v2.13h-2.13zM1425.88 860.21h2.13v2.13h-2.13zM1383.36 858.08h2.13v2.13h-2.13zM1389.73 858.08h8.5v2.13h-8.5zM1423.75 858.08h4.25v2.13h-4.25zM1432.25 858.08h2.13v2.13h-2.13zM1387.61 855.96h2.13v2.13h-2.13zM1393.99 855.96h8.5v2.13h-8.5zM1423.75 855.96h6.38v2.13h-6.38zM1391.86 853.83h17.01v2.13h-17.01zM1410.99 853.83h2.13v2.13h-2.13zM1417.37 853.83h2.13v2.13h-2.13zM1423.75 853.83h8.5v2.13h-8.5zM1398.24 851.7h2.13v2.13h-2.13zM1402.49 851.7h14.88v2.13h-14.88zM1419.5 851.7h4.25v2.13h-4.25zM1425.88 851.7h4.25v2.13h-4.25zM1400.36 849.58h2.13v2.13h-2.13zM1408.87 849.58h17.01v2.13h-17.01zM1428 849.58h2.13v2.13h-2.13zM1406.74 847.45h2.13v2.13h-2.13zM1410.99 847.45h10.63v2.13h-10.63zM1425.88 847.45h2.13v2.13h-2.13zM1410.99 845.33h4.25v2.13h-4.25zM1421.62 845.33h4.25v2.13h-4.25zM1428 845.33h4.25v2.13h-4.25zM1421.62 843.2h2.13v2.13h-2.13zM1428 843.2h2.13v2.13h-2.13zM1425.88 841.07h4.25v2.13h-4.25z" fill="#a0a0a0" shape-rendering="crispEdges"/>
<path d="M1368.47 900.6h2.13v2.13h-2.13zM1366.35 898.48h4.25v2.13h-4.25zM1372.73 898.48h2.13v2.13h-2.13zM1366.35 896.35h8.5v2.13h-8.5zM1376.98 896.35h2.13v2.13h-2.13zM1381.23 896.35h2.13v2.13h-2.13zM1364.22 894.22h6.38v2.13h-6.38zM1372.73 894.22h2.13v2.13h-2.13zM1376.98 894.22h8.5v2.13h-8.5zM1387.61 894.22h2.13v2.13h-2.13zM1362.1 892.1h6.38v2.13h-6.38zM1381.23 892.1h6.38v2.13h-6.38zM1364.22 889.97h2.13v2.13h-2.13zM1387.61 889.97h4.25v2.13h-4.25zM1364.22 887.85h2.13v2.13h-2.13zM1391.86 887.85h4.25v2.13h-4.25zM1366.35 885.72h2.13v2.13h-2.13zM1393.99 885.72h4.25v2.13h-4.25zM1364.22 883.59h6.38v2.13h-6.38zM1398.24 883.59h4.25v2.13h-4.25zM1366.35 881.47h4.25v2.13h-4.25zM1400.36 881.47h6.38v2.13h-6.38zM1366.35 879.34h2.13v2.13h-2.13zM1370.6 879.34h2.13v2.13h-2.13zM1404.62 879.34h4.25v2.13h-4.25zM1370.6 877.22h4.25v2.13h-4.25zM1406.74 877.22h4.25v2.13h-4.25zM1374.85 875.09h2.13v2.13h-2.13zM1408.87 875.09h2.13v2.13h-2.13zM1376.98 872.96h2.13v2.13h-2.13zM1410.99 872.96h4.25v2.13h-4.25zM1379.1 870.84h2.13v2.13h-2.13zM1413.12 870.84h4.25v2.13h-4.25zM1381.23 868.71h4.25v2.13h-4.25zM1415.25 868.71h2.13v2.13h-2.13zM1383.36 866.59h4.25v2.13h-4.25zM1417.37 866.59h4.25v2.13h-4.25zM1385.48 864.46h6.38v2.13h-6.38zM1417.37 864.46h4.25v2.13h-4.25zM1389.73 862.33h6.38v2.13h-6.38zM1419.5 862.33h2.13v2.13h-2.13zM1391.86 860.21h2.13v2.13h-2.13zM1396.11 860.21h4.25v2.13h-4.25zM1419.5 860.21h2.13v2.13h-2.13zM1423.75 860.21h2.13v2.13h-2.13zM1398.24 858.08h8.5v2.13h-8.5zM1417.37 858.08h2.13v2.13h-2.13zM1421.62 858.08h2.13v2.13h-2.13zM1402.49 855.96h21.26v2.13h-21.26zM1408.87 853.83h2.13v2.13h-2.13zM1413.12 853.83h4.25v2.13h-4.25zM1419.5 853.83h4.25v2.13h-4.25zM1417.37 851.7h2.13v2.13h-2.13zM1423.75 851.7h2.13v2.13h-2.13z" fill="#787878" shape-rendering="crispEdges"/>
<path d="M1370.6 894.22h2.13v2.13h-2.13zM1374.85 894.22h2.13v2.13h-2.13zM1368.47 892.1h12.76v2.13h-12.76zM1366.35 889.97h4.25v2.13h-4.25zM1383.36 889.97h4.25v2.13h-4.25zM1366.35 887.85h4.25v2.13h-4.25zM1387.61 887.85h4.25v2.13h-4.25zM1368.47 885.72h2.13v2.13h-2.13zM1389.73 885.72h4.25v2.13h-4.25zM1370.6 883.59h2.13v2.13h-2.13zM1396.11 883.59h2.13v2.13h-2.13zM1370.6 881.47h2.13v2.13h-2.13zM1398.24 881.47h2.13v2.13h-2.13zM1372.73 879.34h4.25v2.13h-4.25zM1402.49 879.34h2.13v2.13h-2.13zM1374.85 877.22h2.13v2.13h-2.13zM1404.62 877.22h2.13v2.13h-2.13zM1376.98 875.09h4.25v2.13h-4.25zM1406.74 875.09h2.13v2.13h-2.13zM1379.1 872.96h4.25v2.13h-4.25zM1408.87 872.96h2.13v2.13h-2.13zM1381.23 870.84h4.25v2.13h-4.25zM1410.99 870.84h2.13v2.13h-2.13zM1385.48 868.71h4.25v2.13h-4.25zM1413.12 868.71h2.13v2.13h-2.13zM1387.61 866.59h4.25v2.13h-4.25zM1415.25 866.59h2.13v2.13h-2.13zM1391.86 864.46h4.25v2.13h-4.25zM1415.25 864.46h2.13v2.13h-2.13zM1396.11 862.33h4.25v2.13h-4.25zM1415.25 862.33h4.25v2.13h-4.25zM1400.36 860.21h4.25v2.13h-4.25zM1415.25 860.21h4.25v2.13h-4.25zM1406.74 858.08h10.63v2.13h-10.63zM1419.5 858.08h2.13v2.13h-2.13z" fill="#505050" shape-rendering="crispEdges"/>
<path d="M1370.6 889.97h12.76v2.13h-12.76zM1370.6 887.85h4.25v2.13h-4.25zM1383.36 887.85h4.25v2.13h-4.25zM1370.6 885.72h2.13v2.13h-2.13zM1391.86 883.59h4.25v2.13h-4.25zM1372.73 881.47h2.13v2.13h-2.13zM1396.11 881.47h2.13v2.13h-2.13zM1400.36 879.34h2.13v2.13h-2.13zM1376.98 877.22h2.13v2.13h-2.13zM1385.48 870.84h2.13v2.13h-2.13zM1408.87 870.84h2.13v2.13h-2.13zM1389.73 868.71h2.13v2.13h-2.13zM1410.99 868.71h2.13v2.13h-2.13zM1391.86 866.59h2.13v2.13h-2.13zM1410.99 866.59h4.25v2.13h-4.25zM1396.11 864.46h2.13v2.13h-2.13zM1413.12 864.46h2.13v2.13h-2.13zM1400.36 862.33h2.13v2.13h-2.13zM1413.12 862.33h2.13v2.13h-2.13zM1404.62 860.21h10.63v2.13h-10.63z" fill="#282828" shape-rendering="crispEdges"/>
<path d="M1374.85 887.85h8.5v2.13h-8.5zM1372.73 885.72h17.01v2.13h-17.01zM1372.73 883.59h19.13v2.13h-19.13zM1374.85 881.47h21.26v2.13h-21.26zM1376.98 879.34h23.39v2.13h-23.39zM1379.1 877.22h25.51v2.13h-25.51zM1381.23 875.09h25.51v2.13h-25.51zM1383.36 872.96h25.51v2.13h-25.51zM1387.61 870.84h21.26v2.13h-21.26zM1391.86 868.71h19.13v2.13h-19.13zM1393.99 866.59h17.01v2.13h-17.01zM1398.24 864.46h14.88v2.13h-14.88zM1402.49 862.33h10.63v2.13h-10.63z" fill="#000000" shape-rendering="crispEdges"/>
<path d="M1146.5 748.99H1518.56V751.11H1146.5ZM1146.5 1107.89H1518.56V1110.01H1146.5ZM1156.94 748.99H1159.06V1120.15H1156.94ZM1516.44 748.99H1518.56V1120.15H1516.44ZM1173.95 1108.95H1176.08V1120.15H1173.95ZM1184.59 1108.95H1186.72V1120.15H1184.59ZM1190.97 1108.95H1193.1V1120.15H1190.97ZM1197.35 1108.95H1199.48V1120.15H1197.35ZM1201.61 1108.95H1203.74V1120.15H1201.61ZM1205.86 1108.95H1210.12V1120.15H1205.86ZM1212.24 1108.95H1216.5V1120.15H1212.24ZM1231.39 1108.95H1233.52V1120.15H1231.39ZM1242.03 1108.95H1244.15V1120.15H1242.03ZM1248.41 1108.95H1250.53V1120.15H1248.41ZM1254.79 1108.95H1256.92V1120.15H1254.79ZM1259.04 1108.95H1261.17V1120.15H1259.04ZM1263.3 1108.95H1267.55V1120.15H1263.3ZM1269.68 1108.95H1273.93V1120.15H1269.68ZM1288.82 1108.95H1290.95V1120.15H1288.82ZM1299.46 1108.95H1301.59V1120.15H1299.46ZM1305.84 1108.95H1307.97V1120.15H1305.84ZM1312.22 1108.95H1314.35V1120.15H1312.22ZM1316.48 1108.95H1318.61V1120.15H1316.48ZM1320.73 1108.95H1322.86V1120.15H1320.73ZM1324.99 1108.95H1331.37V1120.15H1324.99ZM1346.26 1108.95H1348.39V1120.15H1346.26ZM1356.89 1108.95H1359.02V1120.15H1356.89ZM1365.4 1108.95H1367.53V1120.15H1365.4ZM1369.66 1108.95H1371.79V1120.15H1369.66ZM1373.91 1108.95H1376.04V1120.15H1373.91ZM1378.17 1108.95H1380.29V1120.15H1378.17ZM1382.42 1108.95H1386.68V1120.15H1382.42ZM1388.8 1108.95H1390.93V1120.15H1388.8ZM1405.82 1108.95H1407.95V1120.15H1405.82ZM1416.46 1108.95H1418.58V1120.15H1416.46ZM1422.84 1108.95H1424.97V1120.15H1422.84ZM1429.22 1108.95H1431.35V1120.15H1429.22ZM1433.47 1108.95H1435.6V1120.15H1433.47ZM1437.73 1108.95H1441.98V1120.15H1437.73ZM1444.11 1108.95H1448.37V1120.15H1444.11ZM1463.26 1108.95H1465.38V1120.15H1463.26ZM1473.89 1108.95H1476.02V1120.15H1473.89ZM1480.27 1108.95H1482.4V1120.15H1480.27ZM1486.66 1108.95H1488.78V1120.15H1486.66ZM1490.91 1108.95H1493.04V1120.15H1490.91ZM1495.16 1108.95H1499.42V1120.15H1495.16ZM1501.55 1108.95H1505.8V1120.15H1501.55ZM1146.5 1088.74H1158V1090.87H1146.5ZM1146.5 1080.23H1158V1082.36H1146.5ZM1146.5 1071.72H1158V1073.85H1146.5ZM1146.5 1067.47H1158V1069.6H1146.5ZM1146.5 1058.96H1158V1063.21H1146.5ZM1146.5 1050.45H1158V1056.83H1146.5ZM1146.5 1031.31H1158V1033.43H1146.5ZM1146.5 1022.8H1158V1024.92H1146.5ZM1146.5 1014.29H1158V1016.42H1146.5ZM1146.5 1010.03H1158V1012.16H1146.5ZM1146.5 1005.78H1158V1007.91H1146.5ZM1146.5 1001.53H1158V1003.65H1146.5ZM1146.5 993.02H1158V999.4H1146.5ZM1146.5 973.87H1158V976H1146.5ZM1146.5 965.36H1158V967.49H1146.5ZM1146.5 956.85H1158V958.98H1146.5ZM1146.5 952.6H1158V954.73H1146.5ZM1146.5 948.34H1158V950.47H1146.5ZM1146.5 944.09H1158V946.22H1146.5ZM1146.5 935.58H1158V941.96H1146.5ZM1146.5 916.44H1158V918.56H1146.5ZM1146.5 907.93H1158V910.06H1146.5ZM1146.5 899.42H1158V901.55H1146.5ZM1146.5 895.16H1158V897.29H1146.5ZM1146.5 890.91H1158V893.04H1146.5ZM1146.5 886.66H1158V888.78H1146.5ZM1146.5 878.15H1158V884.53H1146.5ZM1146.5 859H1158V861.13H1146.5ZM1146.5 850.49H1158V852.62H1146.5ZM1146.5 841.98H1158V844.11H1146.5ZM1146.5 837.73H1158V839.86H1146.5ZM1146.5 833.48H1158V835.6H1146.5ZM1146.5 829.22H1158V831.35H1146.5ZM1146.5 820.71H1158V827.09H1146.5ZM1146.5 801.57H1158V803.69H1146.5ZM1146.5 793.06H1158V795.19H1146.5ZM1146.5 784.55H1158V786.68H1146.5ZM1146.5 780.29H1158V782.42H1146.5ZM1146.5 776.04H1158V778.17H1146.5ZM1146.5 771.79H1158V773.91H1146.5ZM1146.5 763.28H1158V769.66H1146.5Z" fill="#0000ff"/>
<text x="1157.08" y="715.15" font-size="27.83" textLength="223.44" lengthAdjust="spacingAndGlyphs" fill="#000">E10 bacillus b 28th</text>
<text x="1157.48" y="741.75" font-size="27.83" textLength="453.52" lengthAdjust="spacingAndGlyphs" fill="#000" clip-path="url(#c2)">Gate: (Bacillus Noise in (Bacillus in all)</text>
<text x="1143.39" y="1144.15" font-size="11.86" textLength="13.95" lengthAdjust="spacingAndGlyphs" fill="#0000ff" font-weight="bold">10</text>
<text x="1158.37" y="1139.45" font-size="20.72" textLength="5.43" lengthAdjust="spacingAndGlyphs" fill="#0000ff" stroke="#0000ff" stroke-width="0.45">1</text>
<text x="1202.79" y="1144.15" font-size="11.86" textLength="13.95" lengthAdjust="spacingAndGlyphs" fill="#0000ff" font-weight="bold">10</text>
<text x="1215.23" y="1139.45" font-size="20.43" textLength="10.76" lengthAdjust="spacingAndGlyphs" fill="#0000ff" stroke="#0000ff" stroke-width="0.45">2</text>
<text x="1259.79" y="1144.15" font-size="11.86" textLength="13.95" lengthAdjust="spacingAndGlyphs" fill="#0000ff" font-weight="bold">10</text>
<text x="1273.39" y="1139.45" font-size="20.43" textLength="9.82" lengthAdjust="spacingAndGlyphs" fill="#0000ff" stroke="#0000ff" stroke-width="0.45">3</text>
<text x="1317.59" y="1144.15" font-size="11.86" textLength="13.95" lengthAdjust="spacingAndGlyphs" fill="#0000ff" font-weight="bold">10</text>
<text x="1331.21" y="1139.45" font-size="20.72" textLength="11.01" lengthAdjust="spacingAndGlyphs" fill="#0000ff" stroke="#0000ff" stroke-width="0.45">4</text>
<text x="1377.39" y="1144.15" font-size="11.86" textLength="13.95" lengthAdjust="spacingAndGlyphs" fill="#0000ff" font-weight="bold">10</text>
<text x="1390.7" y="1139.45" font-size="20.72" textLength="9.72" lengthAdjust="spacingAndGlyphs" fill="#0000ff" stroke="#0000ff" stroke-width="0.45">5</text>
<text x="1434.69" y="1144.15" font-size="11.86" textLength="13.95" lengthAdjust="spacingAndGlyphs" fill="#0000ff" font-weight="bold">10</text>
<text x="1448.98" y="1139.45" font-size="20.43" textLength="9.07" lengthAdjust="spacingAndGlyphs" fill="#0000ff" stroke="#0000ff" stroke-width="0.45">6</text>
<text x="1496.49" y="1144.15" font-size="11.86" textLength="13.95" lengthAdjust="spacingAndGlyphs" fill="#0000ff" font-weight="bold">10</text>
<text x="1509.51" y="1139.45" font-size="20.43" textLength="27.48" lengthAdjust="spacingAndGlyphs" fill="#0000ff" stroke="#0000ff" stroke-width="0.45">7.2</text>
<text transform="translate(1135.6 1118.85) rotate(-90)" x="-0.82" y="0" font-size="11.86" textLength="14.11" lengthAdjust="spacingAndGlyphs" fill="#0000ff" font-weight="bold">10</text>
<text transform="translate(1131.2 1106.1) rotate(-90)" x="-0.78" y="0" font-size="20.72" textLength="5.82" lengthAdjust="spacingAndGlyphs" fill="#0000ff" stroke="#0000ff" stroke-width="0.45">1</text>
<text transform="translate(1135.6 1061.42) rotate(-90)" x="-0.82" y="0" font-size="11.86" textLength="14.11" lengthAdjust="spacingAndGlyphs" fill="#0000ff" font-weight="bold">10</text>
<text transform="translate(1131.2 1048.67) rotate(-90)" x="-0.97" y="0" font-size="20.43" textLength="10.76" lengthAdjust="spacingAndGlyphs" fill="#0000ff" stroke="#0000ff" stroke-width="0.45">2</text>
<text transform="translate(1135.6 1003.98) rotate(-90)" x="-0.82" y="0" font-size="11.86" textLength="14.11" lengthAdjust="spacingAndGlyphs" fill="#0000ff" font-weight="bold">10</text>
<text transform="translate(1131.2 991.23) rotate(-90)" x="-0.71" y="0" font-size="20.43" textLength="9.94" lengthAdjust="spacingAndGlyphs" fill="#0000ff" stroke="#0000ff" stroke-width="0.45">3</text>
<text transform="translate(1135.6 946.55) rotate(-90)" x="-0.82" y="0" font-size="11.86" textLength="14.11" lengthAdjust="spacingAndGlyphs" fill="#0000ff" font-weight="bold">10</text>
<text transform="translate(1131.2 933.8) rotate(-90)" x="-0.49" y="0" font-size="20.72" textLength="11.01" lengthAdjust="spacingAndGlyphs" fill="#0000ff" stroke="#0000ff" stroke-width="0.45">4</text>
<text transform="translate(1135.6 889.11) rotate(-90)" x="-0.82" y="0" font-size="11.86" textLength="14.11" lengthAdjust="spacingAndGlyphs" fill="#0000ff" font-weight="bold">10</text>
<text transform="translate(1131.2 876.36) rotate(-90)" x="-0.72" y="0" font-size="20.72" textLength="10.07" lengthAdjust="spacingAndGlyphs" fill="#0000ff" stroke="#0000ff" stroke-width="0.45">5</text>
<text transform="translate(1135.6 831.68) rotate(-90)" x="-0.82" y="0" font-size="11.86" textLength="14.11" lengthAdjust="spacingAndGlyphs" fill="#0000ff" font-weight="bold">10</text>
<text transform="translate(1131.2 818.93) rotate(-90)" x="-0.91" y="0" font-size="20.43" textLength="10.16" lengthAdjust="spacingAndGlyphs" fill="#0000ff" stroke="#0000ff" stroke-width="0.45">6</text>
<text transform="translate(1135.6 767.95) rotate(-90)" x="-0.81" y="0" font-size="11.86" textLength="13.84" lengthAdjust="spacingAndGlyphs" fill="#0000ff" font-weight="bold">10</text>
<text transform="translate(1131.2 754.85) rotate(-90)" x="-0.97" y="0" font-size="20.43" textLength="26.83" lengthAdjust="spacingAndGlyphs" fill="#0000ff" stroke="#0000ff" stroke-width="0.45">7.2</text>
<text x="1306.51" y="1167.6" font-size="20.86" textLength="63.39" lengthAdjust="spacingAndGlyphs" fill="#000">FSC-A</text>
<text transform="translate(1108.2 997.7) rotate(-90)" x="-1.74" y="0" font-size="20.86" textLength="59.21" lengthAdjust="spacingAndGlyphs" fill="#000">FL3-A</text>
<rect x="1158" y="953.05" width="359.5" height="1.8" fill="#669900"/>
<text x="1338.07" y="924.95" font-size="26.96" textLength="46.55" lengthAdjust="spacingAndGlyphs" fill="#669900">Live</text>
<text x="1339.09" y="948.55" font-size="26.96" textLength="57.83" lengthAdjust="spacingAndGlyphs" fill="#669900">0.8%</text>
<text x="1338.07" y="975.95" font-size="26.96" textLength="60.66" lengthAdjust="spacingAndGlyphs" fill="#ff0000">Dead</text>
<text x="1338.96" y="999.15" font-size="26.96" textLength="71.94" lengthAdjust="spacingAndGlyphs" fill="#ff0000">99.2%</text>
<rect x="1690.1" y="750.05" width="359.5" height="358.9" fill="#fff"/>
<path d="M1838.92 1106.82h2.13v2.13h-2.13zM1843.17 1106.82h2.13v2.13h-2.13zM1853.8 1106.82h6.38v2.13h-6.38zM1862.31 1106.82h4.25v2.13h-4.25zM1875.06 1106.82h2.13v2.13h-2.13zM1885.69 1106.82h2.13v2.13h-2.13zM1889.94 1106.82h2.13v2.13h-2.13zM1894.2 1106.82h2.13v2.13h-2.13zM1898.45 1106.82h2.13v2.13h-2.13zM1902.7 1106.82h17.01v2.13h-17.01zM1921.83 1106.82h2.13v2.13h-2.13zM1930.34 1106.82h2.13v2.13h-2.13zM1838.92 1104.7h6.38v2.13h-6.38zM1847.42 1104.7h10.63v2.13h-10.63zM1868.68 1104.7h2.13v2.13h-2.13zM1875.06 1104.7h2.13v2.13h-2.13zM1885.69 1104.7h2.13v2.13h-2.13zM1900.57 1104.7h8.5v2.13h-8.5zM1919.71 1104.7h2.13v2.13h-2.13zM1843.17 1102.57h8.5v2.13h-8.5zM1853.8 1102.57h6.38v2.13h-6.38zM1862.31 1102.57h4.25v2.13h-4.25zM1870.81 1102.57h2.13v2.13h-2.13zM1883.57 1102.57h4.25v2.13h-4.25zM1889.94 1102.57h2.13v2.13h-2.13zM1898.45 1102.57h4.25v2.13h-4.25zM1906.95 1102.57h6.38v2.13h-6.38zM1923.96 1102.57h2.13v2.13h-2.13zM1841.05 1100.45h8.5v2.13h-8.5zM1851.68 1100.45h2.13v2.13h-2.13zM1855.93 1100.45h2.13v2.13h-2.13zM1860.18 1100.45h10.63v2.13h-10.63zM1872.94 1100.45h6.38v2.13h-6.38zM1889.94 1100.45h4.25v2.13h-4.25zM1900.57 1100.45h2.13v2.13h-2.13zM1904.83 1100.45h4.25v2.13h-4.25zM1915.46 1100.45h2.13v2.13h-2.13zM1919.71 1100.45h2.13v2.13h-2.13zM1836.79 1098.32h34.02v2.13h-34.02zM1875.06 1098.32h2.13v2.13h-2.13zM1881.44 1098.32h2.13v2.13h-2.13zM1887.82 1098.32h2.13v2.13h-2.13zM1892.07 1098.32h2.13v2.13h-2.13zM1896.32 1098.32h2.13v2.13h-2.13zM1902.7 1098.32h2.13v2.13h-2.13zM1906.95 1098.32h2.13v2.13h-2.13zM1911.2 1098.32h4.25v2.13h-4.25zM1919.71 1098.32h2.13v2.13h-2.13zM1926.09 1098.32h2.13v2.13h-2.13zM1983.49 1098.32h2.13v2.13h-2.13zM1832.54 1096.19h2.13v2.13h-2.13zM1838.92 1096.19h2.13v2.13h-2.13zM1843.17 1096.19h10.63v2.13h-10.63zM1855.93 1096.19h10.63v2.13h-10.63zM1885.69 1096.19h2.13v2.13h-2.13zM1898.45 1096.19h2.13v2.13h-2.13zM1904.83 1096.19h12.76v2.13h-12.76zM1921.83 1096.19h4.25v2.13h-4.25zM1930.34 1096.19h2.13v2.13h-2.13zM1834.67 1094.07h2.13v2.13h-2.13zM1838.92 1094.07h2.13v2.13h-2.13zM1843.17 1094.07h4.25v2.13h-4.25zM1849.55 1094.07h8.5v2.13h-8.5zM1860.18 1094.07h2.13v2.13h-2.13zM1866.56 1094.07h12.76v2.13h-12.76zM1883.57 1094.07h4.25v2.13h-4.25zM1896.32 1094.07h2.13v2.13h-2.13zM1902.7 1094.07h2.13v2.13h-2.13zM1906.95 1094.07h17.01v2.13h-17.01zM1926.09 1094.07h2.13v2.13h-2.13zM1838.92 1091.94h4.25v2.13h-4.25zM1845.3 1091.94h4.25v2.13h-4.25zM1853.8 1091.94h10.63v2.13h-10.63zM1866.56 1091.94h8.5v2.13h-8.5zM1877.19 1091.94h2.13v2.13h-2.13zM1881.44 1091.94h2.13v2.13h-2.13zM1904.83 1091.94h8.5v2.13h-8.5zM1915.46 1091.94h2.13v2.13h-2.13zM1921.83 1091.94h2.13v2.13h-2.13zM1836.79 1089.82h6.38v2.13h-6.38zM1845.3 1089.82h2.13v2.13h-2.13zM1851.68 1089.82h4.25v2.13h-4.25zM1866.56 1089.82h4.25v2.13h-4.25zM1881.44 1089.82h2.13v2.13h-2.13zM1898.45 1089.82h4.25v2.13h-4.25zM1904.83 1089.82h2.13v2.13h-2.13zM1909.08 1089.82h8.5v2.13h-8.5zM1919.71 1089.82h4.25v2.13h-4.25zM1932.46 1089.82h2.13v2.13h-2.13zM1834.67 1087.69h2.13v2.13h-2.13zM1843.17 1087.69h2.13v2.13h-2.13zM1849.55 1087.69h8.5v2.13h-8.5zM1860.18 1087.69h6.38v2.13h-6.38zM1877.19 1087.69h6.38v2.13h-6.38zM1885.69 1087.69h2.13v2.13h-2.13zM1889.94 1087.69h6.38v2.13h-6.38zM1898.45 1087.69h4.25v2.13h-4.25zM1909.08 1087.69h2.13v2.13h-2.13zM1913.33 1087.69h10.63v2.13h-10.63zM1928.21 1087.69h2.13v2.13h-2.13zM1960.1 1087.69h2.13v2.13h-2.13zM1832.54 1085.56h4.25v2.13h-4.25zM1841.05 1085.56h2.13v2.13h-2.13zM1847.42 1085.56h4.25v2.13h-4.25zM1855.93 1085.56h14.88v2.13h-14.88zM1872.94 1085.56h6.38v2.13h-6.38zM1881.44 1085.56h2.13v2.13h-2.13zM1885.69 1085.56h2.13v2.13h-2.13zM1889.94 1085.56h8.5v2.13h-8.5zM1900.57 1085.56h4.25v2.13h-4.25zM1911.2 1085.56h4.25v2.13h-4.25zM1917.58 1085.56h6.38v2.13h-6.38zM1928.21 1085.56h2.13v2.13h-2.13zM1832.54 1083.44h6.38v2.13h-6.38zM1841.05 1083.44h10.63v2.13h-10.63zM1853.8 1083.44h6.38v2.13h-6.38zM1862.31 1083.44h6.38v2.13h-6.38zM1872.94 1083.44h2.13v2.13h-2.13zM1877.19 1083.44h2.13v2.13h-2.13zM1883.57 1083.44h2.13v2.13h-2.13zM1887.82 1083.44h2.13v2.13h-2.13zM1894.2 1083.44h2.13v2.13h-2.13zM1898.45 1083.44h4.25v2.13h-4.25zM1904.83 1083.44h8.5v2.13h-8.5zM1915.46 1083.44h6.38v2.13h-6.38zM1832.54 1081.31h4.25v2.13h-4.25zM1838.92 1081.31h4.25v2.13h-4.25zM1845.3 1081.31h6.38v2.13h-6.38zM1853.8 1081.31h2.13v2.13h-2.13zM1860.18 1081.31h4.25v2.13h-4.25zM1866.56 1081.31h2.13v2.13h-2.13zM1870.81 1081.31h2.13v2.13h-2.13zM1875.06 1081.31h10.63v2.13h-10.63zM1887.82 1081.31h2.13v2.13h-2.13zM1892.07 1081.31h2.13v2.13h-2.13zM1898.45 1081.31h2.13v2.13h-2.13zM1902.7 1081.31h8.5v2.13h-8.5zM1917.58 1081.31h2.13v2.13h-2.13zM1921.83 1081.31h4.25v2.13h-4.25zM1928.21 1081.31h2.13v2.13h-2.13zM1934.59 1081.31h2.13v2.13h-2.13zM1949.47 1081.31h2.13v2.13h-2.13zM1832.54 1079.19h10.63v2.13h-10.63zM1849.55 1079.19h2.13v2.13h-2.13zM1860.18 1079.19h2.13v2.13h-2.13zM1864.43 1079.19h6.38v2.13h-6.38zM1875.06 1079.19h2.13v2.13h-2.13zM1879.31 1079.19h2.13v2.13h-2.13zM1883.57 1079.19h2.13v2.13h-2.13zM1889.94 1079.19h2.13v2.13h-2.13zM1896.32 1079.19h10.63v2.13h-10.63zM1909.08 1079.19h14.88v2.13h-14.88zM1836.79 1077.06h4.25v2.13h-4.25zM1843.17 1077.06h4.25v2.13h-4.25zM1851.68 1077.06h2.13v2.13h-2.13zM1864.43 1077.06h4.25v2.13h-4.25zM1870.81 1077.06h2.13v2.13h-2.13zM1875.06 1077.06h2.13v2.13h-2.13zM1879.31 1077.06h2.13v2.13h-2.13zM1885.69 1077.06h2.13v2.13h-2.13zM1889.94 1077.06h4.25v2.13h-4.25zM1898.45 1077.06h6.38v2.13h-6.38zM1906.95 1077.06h6.38v2.13h-6.38zM1915.46 1077.06h12.76v2.13h-12.76zM1832.54 1074.93h6.38v2.13h-6.38zM1841.05 1074.93h6.38v2.13h-6.38zM1864.43 1074.93h10.63v2.13h-10.63zM1879.31 1074.93h6.38v2.13h-6.38zM1887.82 1074.93h2.13v2.13h-2.13zM1894.2 1074.93h21.26v2.13h-21.26zM1919.71 1074.93h4.25v2.13h-4.25zM1930.34 1074.93h2.13v2.13h-2.13zM1834.67 1072.81h4.25v2.13h-4.25zM1841.05 1072.81h2.13v2.13h-2.13zM1845.3 1072.81h2.13v2.13h-2.13zM1851.68 1072.81h2.13v2.13h-2.13zM1860.18 1072.81h2.13v2.13h-2.13zM1870.81 1072.81h6.38v2.13h-6.38zM1879.31 1072.81h14.88v2.13h-14.88zM1898.45 1072.81h4.25v2.13h-4.25zM1904.83 1072.81h4.25v2.13h-4.25zM1911.2 1072.81h2.13v2.13h-2.13zM1915.46 1072.81h8.5v2.13h-8.5zM1938.84 1072.81h2.13v2.13h-2.13zM1836.79 1070.68h6.38v2.13h-6.38zM1845.3 1070.68h2.13v2.13h-2.13zM1866.56 1070.68h8.5v2.13h-8.5zM1877.19 1070.68h2.13v2.13h-2.13zM1885.69 1070.68h4.25v2.13h-4.25zM1892.07 1070.68h8.5v2.13h-8.5zM1904.83 1070.68h2.13v2.13h-2.13zM1909.08 1070.68h4.25v2.13h-4.25zM1921.83 1070.68h6.38v2.13h-6.38zM1832.54 1068.56h2.13v2.13h-2.13zM1836.79 1068.56h2.13v2.13h-2.13zM1841.05 1068.56h4.25v2.13h-4.25zM1855.93 1068.56h2.13v2.13h-2.13zM1864.43 1068.56h2.13v2.13h-2.13zM1877.19 1068.56h6.38v2.13h-6.38zM1885.69 1068.56h2.13v2.13h-2.13zM1889.94 1068.56h12.76v2.13h-12.76zM1906.95 1068.56h2.13v2.13h-2.13zM1919.71 1068.56h8.5v2.13h-8.5zM1834.67 1066.43h8.5v2.13h-8.5zM1866.56 1066.43h2.13v2.13h-2.13zM1872.94 1066.43h2.13v2.13h-2.13zM1881.44 1066.43h2.13v2.13h-2.13zM1885.69 1066.43h4.25v2.13h-4.25zM1892.07 1066.43h6.38v2.13h-6.38zM1900.57 1066.43h2.13v2.13h-2.13zM1904.83 1066.43h2.13v2.13h-2.13zM1909.08 1066.43h4.25v2.13h-4.25zM1917.58 1066.43h4.25v2.13h-4.25zM1928.21 1066.43h2.13v2.13h-2.13zM1832.54 1064.3h2.13v2.13h-2.13zM1838.92 1064.3h2.13v2.13h-2.13zM1843.17 1064.3h2.13v2.13h-2.13zM1849.55 1064.3h2.13v2.13h-2.13zM1870.81 1064.3h2.13v2.13h-2.13zM1875.06 1064.3h2.13v2.13h-2.13zM1879.31 1064.3h6.38v2.13h-6.38zM1889.94 1064.3h2.13v2.13h-2.13zM1898.45 1064.3h6.38v2.13h-6.38zM1906.95 1064.3h2.13v2.13h-2.13zM1911.2 1064.3h2.13v2.13h-2.13zM1915.46 1064.3h6.38v2.13h-6.38zM1923.96 1064.3h2.13v2.13h-2.13zM1938.84 1064.3h2.13v2.13h-2.13zM1834.67 1062.18h4.25v2.13h-4.25zM1841.05 1062.18h2.13v2.13h-2.13zM1847.42 1062.18h2.13v2.13h-2.13zM1864.43 1062.18h4.25v2.13h-4.25zM1870.81 1062.18h34.02v2.13h-34.02zM1906.95 1062.18h4.25v2.13h-4.25zM1913.33 1062.18h2.13v2.13h-2.13zM1917.58 1062.18h2.13v2.13h-2.13zM1923.96 1062.18h2.13v2.13h-2.13zM1934.59 1062.18h2.13v2.13h-2.13zM1834.67 1060.05h10.63v2.13h-10.63zM1866.56 1060.05h14.88v2.13h-14.88zM1883.57 1060.05h4.25v2.13h-4.25zM1889.94 1060.05h4.25v2.13h-4.25zM1896.32 1060.05h2.13v2.13h-2.13zM1900.57 1060.05h2.13v2.13h-2.13zM1904.83 1060.05h8.5v2.13h-8.5zM1917.58 1060.05h10.63v2.13h-10.63zM1832.54 1057.93h6.38v2.13h-6.38zM1866.56 1057.93h4.25v2.13h-4.25zM1877.19 1057.93h4.25v2.13h-4.25zM1887.82 1057.93h6.38v2.13h-6.38zM1898.45 1057.93h12.76v2.13h-12.76zM1915.46 1057.93h12.76v2.13h-12.76zM1930.34 1057.93h2.13v2.13h-2.13zM1832.54 1055.8h10.63v2.13h-10.63zM1845.3 1055.8h2.13v2.13h-2.13zM1870.81 1055.8h19.13v2.13h-19.13zM1894.2 1055.8h2.13v2.13h-2.13zM1898.45 1055.8h6.38v2.13h-6.38zM1906.95 1055.8h4.25v2.13h-4.25zM1915.46 1055.8h6.38v2.13h-6.38zM1930.34 1055.8h2.13v2.13h-2.13zM1832.54 1053.67h2.13v2.13h-2.13zM1838.92 1053.67h2.13v2.13h-2.13zM1847.42 1053.67h2.13v2.13h-2.13zM1868.68 1053.67h4.25v2.13h-4.25zM1875.06 1053.67h2.13v2.13h-2.13zM1879.31 1053.67h2.13v2.13h-2.13zM1883.57 1053.67h2.13v2.13h-2.13zM1887.82 1053.67h2.13v2.13h-2.13zM1892.07 1053.67h2.13v2.13h-2.13zM1898.45 1053.67h6.38v2.13h-6.38zM1911.2 1053.67h2.13v2.13h-2.13zM1919.71 1053.67h2.13v2.13h-2.13zM1926.09 1053.67h10.63v2.13h-10.63zM1834.67 1051.55h2.13v2.13h-2.13zM1843.17 1051.55h2.13v2.13h-2.13zM1870.81 1051.55h2.13v2.13h-2.13zM1875.06 1051.55h27.64v2.13h-27.64zM1904.83 1051.55h2.13v2.13h-2.13zM1919.71 1051.55h4.25v2.13h-4.25zM1926.09 1051.55h4.25v2.13h-4.25zM1843.17 1049.42h2.13v2.13h-2.13zM1870.81 1049.42h2.13v2.13h-2.13zM1877.19 1049.42h4.25v2.13h-4.25zM1883.57 1049.42h8.5v2.13h-8.5zM1896.32 1049.42h10.63v2.13h-10.63zM1913.33 1049.42h2.13v2.13h-2.13zM1917.58 1049.42h2.13v2.13h-2.13zM1923.96 1049.42h2.13v2.13h-2.13zM1928.21 1049.42h2.13v2.13h-2.13zM1962.23 1049.42h2.13v2.13h-2.13zM1832.54 1047.3h6.38v2.13h-6.38zM1870.81 1047.3h2.13v2.13h-2.13zM1877.19 1047.3h27.64v2.13h-27.64zM1919.71 1047.3h6.38v2.13h-6.38zM1928.21 1047.3h2.13v2.13h-2.13zM1936.72 1047.3h2.13v2.13h-2.13zM1943.09 1047.3h2.13v2.13h-2.13zM1960.1 1047.3h2.13v2.13h-2.13zM1832.54 1045.17h2.13v2.13h-2.13zM1836.79 1045.17h2.13v2.13h-2.13zM1872.94 1045.17h2.13v2.13h-2.13zM1877.19 1045.17h2.13v2.13h-2.13zM1881.44 1045.17h2.13v2.13h-2.13zM1892.07 1045.17h12.76v2.13h-12.76zM1917.58 1045.17h8.5v2.13h-8.5zM1928.21 1045.17h4.25v2.13h-4.25zM1836.79 1043.04h4.25v2.13h-4.25zM1875.06 1043.04h2.13v2.13h-2.13zM1883.57 1043.04h12.76v2.13h-12.76zM1898.45 1043.04h2.13v2.13h-2.13zM1917.58 1043.04h2.13v2.13h-2.13zM1921.83 1043.04h10.63v2.13h-10.63zM1960.1 1043.04h2.13v2.13h-2.13zM1836.79 1040.92h2.13v2.13h-2.13zM1877.19 1040.92h4.25v2.13h-4.25zM1885.69 1040.92h2.13v2.13h-2.13zM1892.07 1040.92h10.63v2.13h-10.63zM1917.58 1040.92h2.13v2.13h-2.13zM1926.09 1040.92h2.13v2.13h-2.13zM1934.59 1040.92h2.13v2.13h-2.13zM1943.09 1040.92h2.13v2.13h-2.13zM1957.98 1040.92h2.13v2.13h-2.13zM1838.92 1038.79h2.13v2.13h-2.13zM1875.06 1038.79h2.13v2.13h-2.13zM1879.31 1038.79h2.13v2.13h-2.13zM1883.57 1038.79h4.25v2.13h-4.25zM1889.94 1038.79h4.25v2.13h-4.25zM1904.83 1038.79h2.13v2.13h-2.13zM1921.83 1038.79h10.63v2.13h-10.63zM1834.67 1036.67h2.13v2.13h-2.13zM1879.31 1036.67h2.13v2.13h-2.13zM1885.69 1036.67h2.13v2.13h-2.13zM1889.94 1036.67h4.25v2.13h-4.25zM1898.45 1036.67h2.13v2.13h-2.13zM1902.7 1036.67h2.13v2.13h-2.13zM1921.83 1036.67h4.25v2.13h-4.25zM1832.54 1034.54h4.25v2.13h-4.25zM1879.31 1034.54h2.13v2.13h-2.13zM1889.94 1034.54h4.25v2.13h-4.25zM1898.45 1034.54h2.13v2.13h-2.13zM1904.83 1034.54h2.13v2.13h-2.13zM1919.71 1034.54h2.13v2.13h-2.13zM1923.96 1034.54h6.38v2.13h-6.38zM1934.59 1034.54h2.13v2.13h-2.13zM1836.79 1032.41h2.13v2.13h-2.13zM1875.06 1032.41h2.13v2.13h-2.13zM1881.44 1032.41h12.76v2.13h-12.76zM1917.58 1032.41h2.13v2.13h-2.13zM1923.96 1032.41h6.38v2.13h-6.38zM1938.84 1032.41h2.13v2.13h-2.13zM2000.5 1032.41h2.13v2.13h-2.13zM1832.54 1030.29h4.25v2.13h-4.25zM1881.44 1030.29h2.13v2.13h-2.13zM1887.82 1030.29h6.38v2.13h-6.38zM1898.45 1030.29h4.25v2.13h-4.25zM1915.46 1030.29h2.13v2.13h-2.13zM1923.96 1030.29h8.5v2.13h-8.5zM1998.37 1030.29h2.13v2.13h-2.13zM1838.92 1028.16h2.13v2.13h-2.13zM1887.82 1028.16h8.5v2.13h-8.5zM1919.71 1028.16h2.13v2.13h-2.13zM1923.96 1028.16h2.13v2.13h-2.13zM1928.21 1028.16h2.13v2.13h-2.13zM1836.79 1026.04h2.13v2.13h-2.13zM1883.57 1026.04h2.13v2.13h-2.13zM1887.82 1026.04h2.13v2.13h-2.13zM1926.09 1026.04h6.38v2.13h-6.38zM1881.44 1023.91h2.13v2.13h-2.13zM1885.69 1023.91h2.13v2.13h-2.13zM1892.07 1023.91h2.13v2.13h-2.13zM1896.32 1023.91h2.13v2.13h-2.13zM1923.96 1023.91h4.25v2.13h-4.25zM1932.46 1023.91h2.13v2.13h-2.13zM1938.84 1023.91h2.13v2.13h-2.13zM1834.67 1021.78h2.13v2.13h-2.13zM1887.82 1021.78h4.25v2.13h-4.25zM1894.2 1021.78h2.13v2.13h-2.13zM1900.57 1021.78h2.13v2.13h-2.13zM1923.96 1021.78h8.5v2.13h-8.5zM1821.91 1019.66h2.13v2.13h-2.13zM1892.07 1019.66h2.13v2.13h-2.13zM1926.09 1019.66h8.5v2.13h-8.5zM1940.97 1019.66h2.13v2.13h-2.13zM1960.1 1019.66h2.13v2.13h-2.13zM1881.44 1017.53h2.13v2.13h-2.13zM1889.94 1017.53h2.13v2.13h-2.13zM1930.34 1017.53h2.13v2.13h-2.13zM1936.72 1017.53h2.13v2.13h-2.13zM1977.11 1017.53h2.13v2.13h-2.13zM1898.45 1015.41h2.13v2.13h-2.13zM1930.34 1015.41h2.13v2.13h-2.13zM1889.94 1013.28h4.25v2.13h-4.25zM1930.34 1013.28h8.5v2.13h-8.5zM1957.98 1013.28h2.13v2.13h-2.13zM1987.74 1013.28h2.13v2.13h-2.13zM1885.69 1011.15h2.13v2.13h-2.13zM1896.32 1011.15h2.13v2.13h-2.13zM1926.09 1011.15h2.13v2.13h-2.13zM1832.54 1009.03h2.13v2.13h-2.13zM1894.2 1009.03h2.13v2.13h-2.13zM1928.21 1009.03h4.25v2.13h-4.25zM1936.72 1009.03h2.13v2.13h-2.13zM1943.09 1009.03h2.13v2.13h-2.13zM1832.54 1006.9h4.25v2.13h-4.25zM1877.19 1006.9h2.13v2.13h-2.13zM1885.69 1006.9h2.13v2.13h-2.13zM1928.21 1006.9h6.38v2.13h-6.38zM1936.72 1006.9h2.13v2.13h-2.13zM1943.09 1006.9h2.13v2.13h-2.13zM1951.6 1006.9h2.13v2.13h-2.13zM1885.69 1004.78h2.13v2.13h-2.13zM1894.2 1004.78h2.13v2.13h-2.13zM1926.09 1004.78h2.13v2.13h-2.13zM1881.44 1002.65h2.13v2.13h-2.13zM1926.09 1002.65h4.25v2.13h-4.25zM1932.46 1002.65h2.13v2.13h-2.13zM1938.84 1002.65h2.13v2.13h-2.13zM1830.42 1000.52h2.13v2.13h-2.13zM1885.69 1000.52h2.13v2.13h-2.13zM1889.94 1000.52h2.13v2.13h-2.13zM1896.32 1000.52h2.13v2.13h-2.13zM1928.21 1000.52h2.13v2.13h-2.13zM1932.46 1000.52h4.25v2.13h-4.25zM1832.54 998.4h2.13v2.13h-2.13zM1928.21 998.4h8.5v2.13h-8.5zM1938.84 998.4h2.13v2.13h-2.13zM1826.16 996.27h2.13v2.13h-2.13zM1832.54 996.27h2.13v2.13h-2.13zM1926.09 996.27h2.13v2.13h-2.13zM1932.46 996.27h4.25v2.13h-4.25zM1957.98 996.27h2.13v2.13h-2.13zM1998.37 996.27h2.13v2.13h-2.13zM1889.94 994.15h2.13v2.13h-2.13zM1930.34 994.15h4.25v2.13h-4.25zM1943.09 994.15h2.13v2.13h-2.13zM1887.82 992.02h2.13v2.13h-2.13zM1930.34 992.02h8.5v2.13h-8.5zM1892.07 989.89h2.13v2.13h-2.13zM1926.09 989.89h2.13v2.13h-2.13zM1930.34 989.89h2.13v2.13h-2.13zM2000.5 989.89h2.13v2.13h-2.13zM2017.5 989.89h2.13v2.13h-2.13zM1832.54 987.77h2.13v2.13h-2.13zM1930.34 987.77h6.38v2.13h-6.38zM1887.82 985.64h2.13v2.13h-2.13zM1832.54 983.52h2.13v2.13h-2.13zM1894.2 983.52h2.13v2.13h-2.13zM1930.34 983.52h2.13v2.13h-2.13zM1934.59 983.52h2.13v2.13h-2.13zM1894.2 981.39h2.13v2.13h-2.13zM1930.34 981.39h8.5v2.13h-8.5zM1970.73 981.39h2.13v2.13h-2.13zM1983.49 981.39h2.13v2.13h-2.13zM1885.69 979.26h2.13v2.13h-2.13zM1889.94 979.26h2.13v2.13h-2.13zM1930.34 979.26h8.5v2.13h-8.5zM1951.6 979.26h2.13v2.13h-2.13zM1972.86 979.26h2.13v2.13h-2.13zM1832.54 977.14h2.13v2.13h-2.13zM1883.57 977.14h2.13v2.13h-2.13zM1892.07 977.14h2.13v2.13h-2.13zM1932.46 977.14h2.13v2.13h-2.13zM1938.84 977.14h2.13v2.13h-2.13zM1883.57 975.01h2.13v2.13h-2.13zM1892.07 975.01h2.13v2.13h-2.13zM1928.21 975.01h2.13v2.13h-2.13zM1932.46 975.01h4.25v2.13h-4.25zM1960.1 975.01h2.13v2.13h-2.13zM1883.57 972.89h2.13v2.13h-2.13zM1923.96 972.89h2.13v2.13h-2.13zM1930.34 972.89h4.25v2.13h-4.25zM1938.84 972.89h2.13v2.13h-2.13zM1974.98 972.89h2.13v2.13h-2.13zM1996.24 972.89h2.13v2.13h-2.13zM1834.67 970.76h2.13v2.13h-2.13zM1883.57 970.76h2.13v2.13h-2.13zM1887.82 970.76h2.13v2.13h-2.13zM1892.07 970.76h2.13v2.13h-2.13zM1928.21 970.76h6.38v2.13h-6.38zM1981.36 970.76h2.13v2.13h-2.13zM1885.69 968.63h2.13v2.13h-2.13zM1889.94 968.63h4.25v2.13h-4.25zM1928.21 968.63h2.13v2.13h-2.13zM1932.46 968.63h4.25v2.13h-4.25zM1834.67 966.51h2.13v2.13h-2.13zM1892.07 966.51h2.13v2.13h-2.13zM1898.45 966.51h2.13v2.13h-2.13zM1932.46 966.51h4.25v2.13h-4.25zM1938.84 966.51h2.13v2.13h-2.13zM2002.62 966.51h2.13v2.13h-2.13zM1832.54 964.38h2.13v2.13h-2.13zM1885.69 964.38h2.13v2.13h-2.13zM1928.21 964.38h12.76v2.13h-12.76zM1947.35 964.38h2.13v2.13h-2.13zM1832.54 962.26h2.13v2.13h-2.13zM1894.2 962.26h2.13v2.13h-2.13zM1898.45 962.26h2.13v2.13h-2.13zM1930.34 962.26h2.13v2.13h-2.13zM1936.72 962.26h4.25v2.13h-4.25zM1947.35 962.26h2.13v2.13h-2.13zM1883.57 960.13h4.25v2.13h-4.25zM1894.2 960.13h2.13v2.13h-2.13zM1930.34 960.13h2.13v2.13h-2.13zM1934.59 960.13h6.38v2.13h-6.38zM1943.09 960.13h2.13v2.13h-2.13zM1951.6 960.13h2.13v2.13h-2.13zM1968.61 960.13h2.13v2.13h-2.13zM1832.54 958h4.25v2.13h-4.25zM1881.44 958h2.13v2.13h-2.13zM1889.94 958h4.25v2.13h-4.25zM1930.34 958h2.13v2.13h-2.13zM1934.59 958h2.13v2.13h-2.13zM1938.84 958h2.13v2.13h-2.13zM1951.6 958h2.13v2.13h-2.13zM1955.85 958h2.13v2.13h-2.13zM1991.99 958h2.13v2.13h-2.13zM1834.67 955.88h2.13v2.13h-2.13zM1894.2 955.88h2.13v2.13h-2.13zM1900.57 955.88h2.13v2.13h-2.13zM1926.09 955.88h2.13v2.13h-2.13zM1932.46 955.88h2.13v2.13h-2.13zM1938.84 955.88h2.13v2.13h-2.13zM1943.09 955.88h6.38v2.13h-6.38zM1957.98 955.88h2.13v2.13h-2.13zM1966.48 955.88h2.13v2.13h-2.13zM1832.54 953.75h6.38v2.13h-6.38zM1892.07 953.75h2.13v2.13h-2.13zM1898.45 953.75h2.13v2.13h-2.13zM1926.09 953.75h8.5v2.13h-8.5zM1936.72 953.75h2.13v2.13h-2.13zM1945.22 953.75h2.13v2.13h-2.13zM1949.47 953.75h2.13v2.13h-2.13zM1962.23 953.75h2.13v2.13h-2.13zM1977.11 953.75h2.13v2.13h-2.13zM1989.87 953.75h2.13v2.13h-2.13zM1832.54 951.63h2.13v2.13h-2.13zM1872.94 951.63h4.25v2.13h-4.25zM1892.07 951.63h2.13v2.13h-2.13zM1928.21 951.63h8.5v2.13h-8.5zM1938.84 951.63h2.13v2.13h-2.13zM1943.09 951.63h2.13v2.13h-2.13zM1998.37 951.63h2.13v2.13h-2.13zM1832.54 949.5h4.25v2.13h-4.25zM1889.94 949.5h2.13v2.13h-2.13zM1928.21 949.5h6.38v2.13h-6.38zM1940.97 949.5h2.13v2.13h-2.13zM1945.22 949.5h2.13v2.13h-2.13zM1949.47 949.5h2.13v2.13h-2.13zM1953.72 949.5h2.13v2.13h-2.13zM1832.54 947.37h8.5v2.13h-8.5zM1853.8 947.37h2.13v2.13h-2.13zM1928.21 947.37h19.13v2.13h-19.13zM1949.47 947.37h4.25v2.13h-4.25zM1966.48 947.37h2.13v2.13h-2.13zM1972.86 947.37h2.13v2.13h-2.13zM1832.54 945.25h8.5v2.13h-8.5zM1928.21 945.25h8.5v2.13h-8.5zM1938.84 945.25h4.25v2.13h-4.25zM1947.35 945.25h2.13v2.13h-2.13zM1953.72 945.25h2.13v2.13h-2.13zM1981.36 945.25h4.25v2.13h-4.25zM1815.53 943.12h2.13v2.13h-2.13zM1832.54 943.12h10.63v2.13h-10.63zM1892.07 943.12h2.13v2.13h-2.13zM1896.32 943.12h2.13v2.13h-2.13zM1930.34 943.12h6.38v2.13h-6.38zM1938.84 943.12h4.25v2.13h-4.25zM1945.22 943.12h2.13v2.13h-2.13zM1951.6 943.12h2.13v2.13h-2.13zM1957.98 943.12h2.13v2.13h-2.13zM1968.61 943.12h2.13v2.13h-2.13zM1832.54 941h4.25v2.13h-4.25zM1900.57 941h2.13v2.13h-2.13zM1926.09 941h19.13v2.13h-19.13zM1947.35 941h4.25v2.13h-4.25zM1964.35 941h2.13v2.13h-2.13zM1974.98 941h2.13v2.13h-2.13zM1832.54 938.87h2.13v2.13h-2.13zM1845.3 938.87h2.13v2.13h-2.13zM1875.06 938.87h2.13v2.13h-2.13zM1889.94 938.87h2.13v2.13h-2.13zM1926.09 938.87h8.5v2.13h-8.5zM1936.72 938.87h12.76v2.13h-12.76zM1953.72 938.87h4.25v2.13h-4.25zM1962.23 938.87h2.13v2.13h-2.13zM1832.54 936.74h2.13v2.13h-2.13zM1836.79 936.74h4.25v2.13h-4.25zM1845.3 936.74h4.25v2.13h-4.25zM1883.57 936.74h2.13v2.13h-2.13zM1919.71 936.74h2.13v2.13h-2.13zM1926.09 936.74h23.39v2.13h-23.39zM1951.6 936.74h4.25v2.13h-4.25zM1957.98 936.74h2.13v2.13h-2.13zM1979.24 936.74h2.13v2.13h-2.13zM1834.67 934.62h8.5v2.13h-8.5zM1849.55 934.62h2.13v2.13h-2.13zM1881.44 934.62h2.13v2.13h-2.13zM1896.32 934.62h2.13v2.13h-2.13zM1919.71 934.62h4.25v2.13h-4.25zM1926.09 934.62h8.5v2.13h-8.5zM1940.97 934.62h2.13v2.13h-2.13zM1962.23 934.62h2.13v2.13h-2.13zM1972.86 934.62h4.25v2.13h-4.25zM1832.54 932.49h4.25v2.13h-4.25zM1838.92 932.49h10.63v2.13h-10.63zM1853.8 932.49h2.13v2.13h-2.13zM1864.43 932.49h2.13v2.13h-2.13zM1870.81 932.49h6.38v2.13h-6.38zM1894.2 932.49h2.13v2.13h-2.13zM1900.57 932.49h2.13v2.13h-2.13zM1909.08 932.49h2.13v2.13h-2.13zM1928.21 932.49h6.38v2.13h-6.38zM1936.72 932.49h2.13v2.13h-2.13zM1945.22 932.49h2.13v2.13h-2.13zM1966.48 932.49h2.13v2.13h-2.13zM1974.98 932.49h2.13v2.13h-2.13zM1832.54 930.37h2.13v2.13h-2.13zM1836.79 930.37h2.13v2.13h-2.13zM1841.05 930.37h2.13v2.13h-2.13zM1847.42 930.37h4.25v2.13h-4.25zM1866.56 930.37h2.13v2.13h-2.13zM1872.94 930.37h4.25v2.13h-4.25zM1892.07 930.37h8.5v2.13h-8.5zM1904.83 930.37h2.13v2.13h-2.13zM1909.08 930.37h2.13v2.13h-2.13zM1919.71 930.37h2.13v2.13h-2.13zM1926.09 930.37h12.76v2.13h-12.76zM1943.09 930.37h2.13v2.13h-2.13zM1947.35 930.37h2.13v2.13h-2.13zM1960.1 930.37h2.13v2.13h-2.13zM1966.48 930.37h2.13v2.13h-2.13zM1979.24 930.37h2.13v2.13h-2.13zM1838.92 928.24h6.38v2.13h-6.38zM1849.55 928.24h4.25v2.13h-4.25zM1872.94 928.24h4.25v2.13h-4.25zM1881.44 928.24h2.13v2.13h-2.13zM1885.69 928.24h4.25v2.13h-4.25zM1892.07 928.24h2.13v2.13h-2.13zM1896.32 928.24h6.38v2.13h-6.38zM1906.95 928.24h2.13v2.13h-2.13zM1923.96 928.24h6.38v2.13h-6.38zM1934.59 928.24h2.13v2.13h-2.13zM1938.84 928.24h2.13v2.13h-2.13zM1945.22 928.24h4.25v2.13h-4.25zM1955.85 928.24h2.13v2.13h-2.13zM1983.49 928.24h2.13v2.13h-2.13zM1832.54 926.11h4.25v2.13h-4.25zM1838.92 926.11h6.38v2.13h-6.38zM1849.55 926.11h4.25v2.13h-4.25zM1855.93 926.11h2.13v2.13h-2.13zM1870.81 926.11h2.13v2.13h-2.13zM1875.06 926.11h2.13v2.13h-2.13zM1885.69 926.11h4.25v2.13h-4.25zM1892.07 926.11h2.13v2.13h-2.13zM1898.45 926.11h4.25v2.13h-4.25zM1904.83 926.11h2.13v2.13h-2.13zM1909.08 926.11h4.25v2.13h-4.25zM1915.46 926.11h19.13v2.13h-19.13zM1936.72 926.11h8.5v2.13h-8.5zM1947.35 926.11h2.13v2.13h-2.13zM1834.67 923.99h4.25v2.13h-4.25zM1841.05 923.99h4.25v2.13h-4.25zM1851.68 923.99h2.13v2.13h-2.13zM1855.93 923.99h2.13v2.13h-2.13zM1862.31 923.99h8.5v2.13h-8.5zM1875.06 923.99h4.25v2.13h-4.25zM1883.57 923.99h6.38v2.13h-6.38zM1892.07 923.99h4.25v2.13h-4.25zM1906.95 923.99h2.13v2.13h-2.13zM1913.33 923.99h2.13v2.13h-2.13zM1921.83 923.99h8.5v2.13h-8.5zM1932.46 923.99h2.13v2.13h-2.13zM1938.84 923.99h4.25v2.13h-4.25zM1957.98 923.99h2.13v2.13h-2.13zM1838.92 921.86h2.13v2.13h-2.13zM1845.3 921.86h10.63v2.13h-10.63zM1858.05 921.86h4.25v2.13h-4.25zM1864.43 921.86h2.13v2.13h-2.13zM1868.68 921.86h2.13v2.13h-2.13zM1872.94 921.86h10.63v2.13h-10.63zM1889.94 921.86h2.13v2.13h-2.13zM1894.2 921.86h10.63v2.13h-10.63zM1906.95 921.86h2.13v2.13h-2.13zM1913.33 921.86h8.5v2.13h-8.5zM1926.09 921.86h4.25v2.13h-4.25zM1934.59 921.86h2.13v2.13h-2.13zM1938.84 921.86h2.13v2.13h-2.13zM1828.29 919.74h2.13v2.13h-2.13zM1836.79 919.74h6.38v2.13h-6.38zM1845.3 919.74h6.38v2.13h-6.38zM1853.8 919.74h2.13v2.13h-2.13zM1860.18 919.74h4.25v2.13h-4.25zM1866.56 919.74h8.5v2.13h-8.5zM1877.19 919.74h2.13v2.13h-2.13zM1881.44 919.74h4.25v2.13h-4.25zM1889.94 919.74h6.38v2.13h-6.38zM1898.45 919.74h2.13v2.13h-2.13zM1902.7 919.74h6.38v2.13h-6.38zM1911.2 919.74h4.25v2.13h-4.25zM1919.71 919.74h2.13v2.13h-2.13zM1923.96 919.74h4.25v2.13h-4.25zM1930.34 919.74h10.63v2.13h-10.63zM1951.6 919.74h2.13v2.13h-2.13zM1838.92 917.61h12.76v2.13h-12.76zM1855.93 917.61h4.25v2.13h-4.25zM1862.31 917.61h21.26v2.13h-21.26zM1885.69 917.61h4.25v2.13h-4.25zM1894.2 917.61h2.13v2.13h-2.13zM1898.45 917.61h4.25v2.13h-4.25zM1904.83 917.61h2.13v2.13h-2.13zM1911.2 917.61h6.38v2.13h-6.38zM1921.83 917.61h6.38v2.13h-6.38zM1930.34 917.61h6.38v2.13h-6.38zM1938.84 917.61h2.13v2.13h-2.13zM1951.6 917.61h2.13v2.13h-2.13zM1836.79 915.48h4.25v2.13h-4.25zM1849.55 915.48h2.13v2.13h-2.13zM1853.8 915.48h2.13v2.13h-2.13zM1858.05 915.48h2.13v2.13h-2.13zM1866.56 915.48h4.25v2.13h-4.25zM1872.94 915.48h6.38v2.13h-6.38zM1883.57 915.48h8.5v2.13h-8.5zM1894.2 915.48h2.13v2.13h-2.13zM1900.57 915.48h4.25v2.13h-4.25zM1906.95 915.48h2.13v2.13h-2.13zM1911.2 915.48h4.25v2.13h-4.25zM1919.71 915.48h2.13v2.13h-2.13zM1923.96 915.48h6.38v2.13h-6.38zM1936.72 915.48h4.25v2.13h-4.25zM1949.47 915.48h2.13v2.13h-2.13zM1968.61 915.48h2.13v2.13h-2.13zM1836.79 913.36h2.13v2.13h-2.13zM1845.3 913.36h2.13v2.13h-2.13zM1851.68 913.36h2.13v2.13h-2.13zM1855.93 913.36h4.25v2.13h-4.25zM1864.43 913.36h8.5v2.13h-8.5zM1885.69 913.36h4.25v2.13h-4.25zM1894.2 913.36h17.01v2.13h-17.01zM1913.33 913.36h2.13v2.13h-2.13zM1919.71 913.36h2.13v2.13h-2.13zM1923.96 913.36h4.25v2.13h-4.25zM1930.34 913.36h8.5v2.13h-8.5zM1940.97 913.36h2.13v2.13h-2.13zM1947.35 913.36h4.25v2.13h-4.25zM1981.36 913.36h2.13v2.13h-2.13zM1841.05 911.23h4.25v2.13h-4.25zM1851.68 911.23h4.25v2.13h-4.25zM1860.18 911.23h6.38v2.13h-6.38zM1870.81 911.23h4.25v2.13h-4.25zM1877.19 911.23h4.25v2.13h-4.25zM1883.57 911.23h4.25v2.13h-4.25zM1892.07 911.23h6.38v2.13h-6.38zM1900.57 911.23h10.63v2.13h-10.63zM1913.33 911.23h4.25v2.13h-4.25zM1921.83 911.23h17.01v2.13h-17.01zM1940.97 911.23h4.25v2.13h-4.25zM1957.98 911.23h4.25v2.13h-4.25zM2015.38 911.23h2.13v2.13h-2.13zM1838.92 909.11h4.25v2.13h-4.25zM1845.3 909.11h2.13v2.13h-2.13zM1849.55 909.11h2.13v2.13h-2.13zM1853.8 909.11h2.13v2.13h-2.13zM1862.31 909.11h2.13v2.13h-2.13zM1866.56 909.11h6.38v2.13h-6.38zM1877.19 909.11h2.13v2.13h-2.13zM1883.57 909.11h2.13v2.13h-2.13zM1887.82 909.11h10.63v2.13h-10.63zM1900.57 909.11h4.25v2.13h-4.25zM1906.95 909.11h2.13v2.13h-2.13zM1917.58 909.11h6.38v2.13h-6.38zM1926.09 909.11h8.5v2.13h-8.5zM1936.72 909.11h4.25v2.13h-4.25zM1945.22 909.11h2.13v2.13h-2.13zM1953.72 909.11h2.13v2.13h-2.13zM1972.86 909.11h2.13v2.13h-2.13zM1832.54 906.98h4.25v2.13h-4.25zM1843.17 906.98h2.13v2.13h-2.13zM1851.68 906.98h2.13v2.13h-2.13zM1855.93 906.98h2.13v2.13h-2.13zM1862.31 906.98h8.5v2.13h-8.5zM1872.94 906.98h10.63v2.13h-10.63zM1885.69 906.98h21.26v2.13h-21.26zM1909.08 906.98h10.63v2.13h-10.63zM1923.96 906.98h19.13v2.13h-19.13zM1949.47 906.98h6.38v2.13h-6.38zM1960.1 906.98h2.13v2.13h-2.13zM1858.05 904.85h8.5v2.13h-8.5zM1868.68 904.85h8.5v2.13h-8.5zM1883.57 904.85h4.25v2.13h-4.25zM1892.07 904.85h2.13v2.13h-2.13zM1898.45 904.85h2.13v2.13h-2.13zM1902.7 904.85h2.13v2.13h-2.13zM1909.08 904.85h6.38v2.13h-6.38zM1917.58 904.85h2.13v2.13h-2.13zM1921.83 904.85h8.5v2.13h-8.5zM1932.46 904.85h6.38v2.13h-6.38zM1940.97 904.85h4.25v2.13h-4.25zM1947.35 904.85h2.13v2.13h-2.13zM1957.98 904.85h6.38v2.13h-6.38zM1860.18 902.73h2.13v2.13h-2.13zM1864.43 902.73h6.38v2.13h-6.38zM1879.31 902.73h2.13v2.13h-2.13zM1885.69 902.73h8.5v2.13h-8.5zM1902.7 902.73h2.13v2.13h-2.13zM1909.08 902.73h6.38v2.13h-6.38zM1919.71 902.73h14.88v2.13h-14.88zM1936.72 902.73h4.25v2.13h-4.25zM1951.6 902.73h2.13v2.13h-2.13zM1964.35 902.73h2.13v2.13h-2.13zM1843.17 900.6h2.13v2.13h-2.13zM1849.55 900.6h2.13v2.13h-2.13zM1855.93 900.6h6.38v2.13h-6.38zM1872.94 900.6h2.13v2.13h-2.13zM1879.31 900.6h4.25v2.13h-4.25zM1889.94 900.6h25.51v2.13h-25.51zM1917.58 900.6h4.25v2.13h-4.25zM1923.96 900.6h6.38v2.13h-6.38zM1932.46 900.6h2.13v2.13h-2.13zM1938.84 900.6h8.5v2.13h-8.5zM1949.47 900.6h2.13v2.13h-2.13zM1953.72 900.6h2.13v2.13h-2.13zM1957.98 900.6h2.13v2.13h-2.13zM1966.48 900.6h2.13v2.13h-2.13zM1864.43 898.48h6.38v2.13h-6.38zM1877.19 898.48h2.13v2.13h-2.13zM1881.44 898.48h4.25v2.13h-4.25zM1887.82 898.48h14.88v2.13h-14.88zM1906.95 898.48h6.38v2.13h-6.38zM1917.58 898.48h4.25v2.13h-4.25zM1923.96 898.48h12.76v2.13h-12.76zM1940.97 898.48h12.76v2.13h-12.76zM1957.98 898.48h2.13v2.13h-2.13zM1962.23 898.48h4.25v2.13h-4.25zM1832.54 896.35h2.13v2.13h-2.13zM1841.05 896.35h2.13v2.13h-2.13zM1845.3 896.35h2.13v2.13h-2.13zM1860.18 896.35h2.13v2.13h-2.13zM1883.57 896.35h2.13v2.13h-2.13zM1892.07 896.35h4.25v2.13h-4.25zM1898.45 896.35h2.13v2.13h-2.13zM1902.7 896.35h10.63v2.13h-10.63zM1915.46 896.35h6.38v2.13h-6.38zM1923.96 896.35h8.5v2.13h-8.5zM1934.59 896.35h4.25v2.13h-4.25zM1940.97 896.35h2.13v2.13h-2.13zM1945.22 896.35h2.13v2.13h-2.13zM1949.47 896.35h4.25v2.13h-4.25zM1960.1 896.35h2.13v2.13h-2.13zM1970.73 896.35h2.13v2.13h-2.13zM1858.05 894.22h2.13v2.13h-2.13zM1883.57 894.22h17.01v2.13h-17.01zM1904.83 894.22h2.13v2.13h-2.13zM1909.08 894.22h2.13v2.13h-2.13zM1917.58 894.22h6.38v2.13h-6.38zM1926.09 894.22h2.13v2.13h-2.13zM1930.34 894.22h2.13v2.13h-2.13zM1934.59 894.22h4.25v2.13h-4.25zM1943.09 894.22h12.76v2.13h-12.76zM1966.48 894.22h2.13v2.13h-2.13zM1841.05 892.1h2.13v2.13h-2.13zM1845.3 892.1h4.25v2.13h-4.25zM1872.94 892.1h2.13v2.13h-2.13zM1883.57 892.1h4.25v2.13h-4.25zM1889.94 892.1h6.38v2.13h-6.38zM1900.57 892.1h4.25v2.13h-4.25zM1906.95 892.1h4.25v2.13h-4.25zM1913.33 892.1h6.38v2.13h-6.38zM1921.83 892.1h4.25v2.13h-4.25zM1930.34 892.1h2.13v2.13h-2.13zM1934.59 892.1h12.76v2.13h-12.76zM1949.47 892.1h6.38v2.13h-6.38zM1966.48 892.1h2.13v2.13h-2.13zM1972.86 892.1h2.13v2.13h-2.13zM1858.05 889.97h2.13v2.13h-2.13zM1883.57 889.97h10.63v2.13h-10.63zM1898.45 889.97h14.88v2.13h-14.88zM1915.46 889.97h2.13v2.13h-2.13zM1919.71 889.97h2.13v2.13h-2.13zM1923.96 889.97h6.38v2.13h-6.38zM1934.59 889.97h6.38v2.13h-6.38zM1943.09 889.97h4.25v2.13h-4.25zM1951.6 889.97h4.25v2.13h-4.25zM1957.98 889.97h2.13v2.13h-2.13zM1962.23 889.97h2.13v2.13h-2.13zM1966.48 889.97h2.13v2.13h-2.13zM1858.05 887.85h4.25v2.13h-4.25zM1885.69 887.85h4.25v2.13h-4.25zM1894.2 887.85h2.13v2.13h-2.13zM1898.45 887.85h12.76v2.13h-12.76zM1913.33 887.85h2.13v2.13h-2.13zM1923.96 887.85h14.88v2.13h-14.88zM1940.97 887.85h6.38v2.13h-6.38zM1949.47 887.85h4.25v2.13h-4.25zM1955.85 887.85h2.13v2.13h-2.13zM1960.1 887.85h2.13v2.13h-2.13zM1966.48 887.85h2.13v2.13h-2.13zM1970.73 887.85h4.25v2.13h-4.25zM1845.3 885.72h2.13v2.13h-2.13zM1875.06 885.72h2.13v2.13h-2.13zM1879.31 885.72h2.13v2.13h-2.13zM1883.57 885.72h2.13v2.13h-2.13zM1889.94 885.72h4.25v2.13h-4.25zM1896.32 885.72h10.63v2.13h-10.63zM1911.2 885.72h14.88v2.13h-14.88zM1928.21 885.72h6.38v2.13h-6.38zM1936.72 885.72h6.38v2.13h-6.38zM1949.47 885.72h14.88v2.13h-14.88zM1968.61 885.72h2.13v2.13h-2.13zM1832.54 883.59h2.13v2.13h-2.13zM1872.94 883.59h2.13v2.13h-2.13zM1883.57 883.59h4.25v2.13h-4.25zM1889.94 883.59h2.13v2.13h-2.13zM1896.32 883.59h4.25v2.13h-4.25zM1902.7 883.59h2.13v2.13h-2.13zM1909.08 883.59h4.25v2.13h-4.25zM1915.46 883.59h2.13v2.13h-2.13zM1919.71 883.59h6.38v2.13h-6.38zM1928.21 883.59h6.38v2.13h-6.38zM1936.72 883.59h12.76v2.13h-12.76zM1955.85 883.59h6.38v2.13h-6.38zM1966.48 883.59h4.25v2.13h-4.25zM1979.24 883.59h2.13v2.13h-2.13zM1836.79 881.47h2.13v2.13h-2.13zM1879.31 881.47h2.13v2.13h-2.13zM1889.94 881.47h4.25v2.13h-4.25zM1898.45 881.47h10.63v2.13h-10.63zM1913.33 881.47h2.13v2.13h-2.13zM1919.71 881.47h2.13v2.13h-2.13zM1923.96 881.47h10.63v2.13h-10.63zM1938.84 881.47h2.13v2.13h-2.13zM1943.09 881.47h2.13v2.13h-2.13zM1947.35 881.47h8.5v2.13h-8.5zM1962.23 881.47h2.13v2.13h-2.13zM1968.61 881.47h2.13v2.13h-2.13zM1989.87 881.47h2.13v2.13h-2.13zM1847.42 879.34h2.13v2.13h-2.13zM1862.31 879.34h2.13v2.13h-2.13zM1883.57 879.34h2.13v2.13h-2.13zM1894.2 879.34h25.51v2.13h-25.51zM1923.96 879.34h4.25v2.13h-4.25zM1934.59 879.34h2.13v2.13h-2.13zM1940.97 879.34h2.13v2.13h-2.13zM1947.35 879.34h2.13v2.13h-2.13zM1951.6 879.34h6.38v2.13h-6.38zM1960.1 879.34h4.25v2.13h-4.25zM1972.86 879.34h2.13v2.13h-2.13zM1981.36 879.34h2.13v2.13h-2.13zM1870.81 877.22h2.13v2.13h-2.13zM1881.44 877.22h2.13v2.13h-2.13zM1885.69 877.22h2.13v2.13h-2.13zM1889.94 877.22h4.25v2.13h-4.25zM1898.45 877.22h10.63v2.13h-10.63zM1911.2 877.22h4.25v2.13h-4.25zM1917.58 877.22h4.25v2.13h-4.25zM1928.21 877.22h6.38v2.13h-6.38zM1936.72 877.22h2.13v2.13h-2.13zM1940.97 877.22h4.25v2.13h-4.25zM1949.47 877.22h8.5v2.13h-8.5zM1960.1 877.22h2.13v2.13h-2.13zM1964.35 877.22h4.25v2.13h-4.25zM1981.36 877.22h2.13v2.13h-2.13zM1892.07 875.09h2.13v2.13h-2.13zM1898.45 875.09h2.13v2.13h-2.13zM1902.7 875.09h10.63v2.13h-10.63zM1917.58 875.09h6.38v2.13h-6.38zM1926.09 875.09h6.38v2.13h-6.38zM1934.59 875.09h2.13v2.13h-2.13zM1938.84 875.09h8.5v2.13h-8.5zM1955.85 875.09h2.13v2.13h-2.13zM1964.35 875.09h4.25v2.13h-4.25zM1974.98 875.09h2.13v2.13h-2.13zM1887.82 872.96h4.25v2.13h-4.25zM1894.2 872.96h2.13v2.13h-2.13zM1898.45 872.96h2.13v2.13h-2.13zM1902.7 872.96h2.13v2.13h-2.13zM1906.95 872.96h4.25v2.13h-4.25zM1913.33 872.96h19.13v2.13h-19.13zM1934.59 872.96h8.5v2.13h-8.5zM1945.22 872.96h2.13v2.13h-2.13zM1949.47 872.96h2.13v2.13h-2.13zM1953.72 872.96h2.13v2.13h-2.13zM1957.98 872.96h10.63v2.13h-10.63zM1843.17 870.84h2.13v2.13h-2.13zM1847.42 870.84h2.13v2.13h-2.13zM1885.69 870.84h2.13v2.13h-2.13zM1892.07 870.84h4.25v2.13h-4.25zM1900.57 870.84h2.13v2.13h-2.13zM1904.83 870.84h4.25v2.13h-4.25zM1919.71 870.84h6.38v2.13h-6.38zM1932.46 870.84h4.25v2.13h-4.25zM1940.97 870.84h2.13v2.13h-2.13zM1945.22 870.84h2.13v2.13h-2.13zM1949.47 870.84h4.25v2.13h-4.25zM1955.85 870.84h2.13v2.13h-2.13zM1960.1 870.84h4.25v2.13h-4.25zM1968.61 870.84h2.13v2.13h-2.13zM1972.86 870.84h2.13v2.13h-2.13zM1977.11 870.84h2.13v2.13h-2.13zM1991.99 870.84h2.13v2.13h-2.13zM1883.57 868.71h2.13v2.13h-2.13zM1887.82 868.71h4.25v2.13h-4.25zM1896.32 868.71h2.13v2.13h-2.13zM1904.83 868.71h4.25v2.13h-4.25zM1911.2 868.71h2.13v2.13h-2.13zM1915.46 868.71h2.13v2.13h-2.13zM1919.71 868.71h2.13v2.13h-2.13zM1923.96 868.71h8.5v2.13h-8.5zM1936.72 868.71h6.38v2.13h-6.38zM1945.22 868.71h12.76v2.13h-12.76zM1962.23 868.71h2.13v2.13h-2.13zM1970.73 868.71h2.13v2.13h-2.13zM1985.61 868.71h2.13v2.13h-2.13zM1881.44 866.59h4.25v2.13h-4.25zM1896.32 866.59h2.13v2.13h-2.13zM1900.57 866.59h2.13v2.13h-2.13zM1911.2 866.59h12.76v2.13h-12.76zM1926.09 866.59h2.13v2.13h-2.13zM1930.34 866.59h10.63v2.13h-10.63zM1943.09 866.59h12.76v2.13h-12.76zM1957.98 866.59h12.76v2.13h-12.76zM1979.24 866.59h2.13v2.13h-2.13zM1855.93 864.46h2.13v2.13h-2.13zM1877.19 864.46h2.13v2.13h-2.13zM1881.44 864.46h2.13v2.13h-2.13zM1885.69 864.46h2.13v2.13h-2.13zM1898.45 864.46h6.38v2.13h-6.38zM1906.95 864.46h2.13v2.13h-2.13zM1911.2 864.46h6.38v2.13h-6.38zM1921.83 864.46h6.38v2.13h-6.38zM1930.34 864.46h10.63v2.13h-10.63zM1943.09 864.46h2.13v2.13h-2.13zM1947.35 864.46h8.5v2.13h-8.5zM1960.1 864.46h6.38v2.13h-6.38zM1972.86 864.46h6.38v2.13h-6.38zM1983.49 864.46h2.13v2.13h-2.13zM1989.87 864.46h2.13v2.13h-2.13zM1883.57 862.33h2.13v2.13h-2.13zM1894.2 862.33h2.13v2.13h-2.13zM1906.95 862.33h4.25v2.13h-4.25zM1913.33 862.33h17.01v2.13h-17.01zM1932.46 862.33h23.39v2.13h-23.39zM1957.98 862.33h2.13v2.13h-2.13zM1962.23 862.33h6.38v2.13h-6.38zM1970.73 862.33h2.13v2.13h-2.13zM1881.44 860.21h2.13v2.13h-2.13zM1896.32 860.21h2.13v2.13h-2.13zM1900.57 860.21h2.13v2.13h-2.13zM1911.2 860.21h2.13v2.13h-2.13zM1919.71 860.21h6.38v2.13h-6.38zM1928.21 860.21h27.64v2.13h-27.64zM1957.98 860.21h2.13v2.13h-2.13zM1964.35 860.21h2.13v2.13h-2.13zM1968.61 860.21h2.13v2.13h-2.13zM1983.49 860.21h2.13v2.13h-2.13zM1892.07 858.08h2.13v2.13h-2.13zM1898.45 858.08h2.13v2.13h-2.13zM1904.83 858.08h2.13v2.13h-2.13zM1909.08 858.08h17.01v2.13h-17.01zM1928.21 858.08h2.13v2.13h-2.13zM1936.72 858.08h4.25v2.13h-4.25zM1943.09 858.08h4.25v2.13h-4.25zM1951.6 858.08h8.5v2.13h-8.5zM1964.35 858.08h6.38v2.13h-6.38zM1972.86 858.08h2.13v2.13h-2.13zM1977.11 858.08h2.13v2.13h-2.13zM1872.94 855.96h2.13v2.13h-2.13zM1892.07 855.96h4.25v2.13h-4.25zM1900.57 855.96h8.5v2.13h-8.5zM1911.2 855.96h4.25v2.13h-4.25zM1919.71 855.96h6.38v2.13h-6.38zM1928.21 855.96h10.63v2.13h-10.63zM1945.22 855.96h6.38v2.13h-6.38zM1955.85 855.96h2.13v2.13h-2.13zM1962.23 855.96h6.38v2.13h-6.38zM1970.73 855.96h2.13v2.13h-2.13zM1974.98 855.96h4.25v2.13h-4.25zM1898.45 853.83h4.25v2.13h-4.25zM1906.95 853.83h2.13v2.13h-2.13zM1911.2 853.83h4.25v2.13h-4.25zM1917.58 853.83h4.25v2.13h-4.25zM1923.96 853.83h12.76v2.13h-12.76zM1938.84 853.83h2.13v2.13h-2.13zM1943.09 853.83h10.63v2.13h-10.63zM1977.11 853.83h2.13v2.13h-2.13zM1853.8 851.7h2.13v2.13h-2.13zM1904.83 851.7h2.13v2.13h-2.13zM1919.71 851.7h4.25v2.13h-4.25zM1928.21 851.7h2.13v2.13h-2.13zM1932.46 851.7h4.25v2.13h-4.25zM1938.84 851.7h6.38v2.13h-6.38zM1947.35 851.7h6.38v2.13h-6.38zM1955.85 851.7h12.76v2.13h-12.76zM1892.07 849.58h2.13v2.13h-2.13zM1902.7 849.58h2.13v2.13h-2.13zM1906.95 849.58h6.38v2.13h-6.38zM1917.58 849.58h4.25v2.13h-4.25zM1932.46 849.58h2.13v2.13h-2.13zM1940.97 849.58h2.13v2.13h-2.13zM1947.35 849.58h2.13v2.13h-2.13zM1951.6 849.58h2.13v2.13h-2.13zM1955.85 849.58h6.38v2.13h-6.38zM1964.35 849.58h4.25v2.13h-4.25zM1974.98 849.58h2.13v2.13h-2.13zM1979.24 849.58h2.13v2.13h-2.13zM1870.81 847.45h2.13v2.13h-2.13zM1896.32 847.45h2.13v2.13h-2.13zM1904.83 847.45h2.13v2.13h-2.13zM1915.46 847.45h2.13v2.13h-2.13zM1919.71 847.45h2.13v2.13h-2.13zM1923.96 847.45h2.13v2.13h-2.13zM1928.21 847.45h2.13v2.13h-2.13zM1938.84 847.45h4.25v2.13h-4.25zM1949.47 847.45h4.25v2.13h-4.25zM1960.1 847.45h2.13v2.13h-2.13zM1974.98 847.45h2.13v2.13h-2.13zM1909.08 845.33h4.25v2.13h-4.25zM1917.58 845.33h2.13v2.13h-2.13zM1921.83 845.33h2.13v2.13h-2.13zM1934.59 845.33h6.38v2.13h-6.38zM1945.22 845.33h2.13v2.13h-2.13zM1966.48 845.33h2.13v2.13h-2.13zM1972.86 845.33h2.13v2.13h-2.13zM1919.71 843.2h2.13v2.13h-2.13zM1926.09 843.2h2.13v2.13h-2.13zM1930.34 843.2h2.13v2.13h-2.13zM1943.09 843.2h8.5v2.13h-8.5zM1953.72 843.2h2.13v2.13h-2.13zM1964.35 843.2h4.25v2.13h-4.25zM1972.86 843.2h2.13v2.13h-2.13zM1917.58 841.07h2.13v2.13h-2.13zM1923.96 841.07h2.13v2.13h-2.13zM1932.46 841.07h2.13v2.13h-2.13zM1936.72 841.07h4.25v2.13h-4.25zM1943.09 841.07h10.63v2.13h-10.63zM1960.1 841.07h2.13v2.13h-2.13zM1966.48 841.07h4.25v2.13h-4.25zM1919.71 838.95h6.38v2.13h-6.38zM1930.34 838.95h2.13v2.13h-2.13zM1934.59 838.95h4.25v2.13h-4.25zM1943.09 838.95h2.13v2.13h-2.13zM1955.85 838.95h4.25v2.13h-4.25zM1962.23 838.95h2.13v2.13h-2.13zM1879.31 836.82h2.13v2.13h-2.13zM1915.46 836.82h2.13v2.13h-2.13zM1919.71 836.82h2.13v2.13h-2.13zM1928.21 836.82h2.13v2.13h-2.13zM1934.59 836.82h2.13v2.13h-2.13zM1938.84 836.82h2.13v2.13h-2.13zM1949.47 836.82h2.13v2.13h-2.13zM1957.98 836.82h4.25v2.13h-4.25zM1966.48 836.82h2.13v2.13h-2.13zM1972.86 836.82h2.13v2.13h-2.13zM1977.11 836.82h4.25v2.13h-4.25zM1983.49 836.82h2.13v2.13h-2.13zM1932.46 834.7h4.25v2.13h-4.25zM1938.84 834.7h2.13v2.13h-2.13zM1947.35 834.7h2.13v2.13h-2.13zM1953.72 834.7h2.13v2.13h-2.13zM1957.98 834.7h8.5v2.13h-8.5zM1977.11 834.7h2.13v2.13h-2.13zM1987.74 834.7h2.13v2.13h-2.13zM1926.09 832.57h2.13v2.13h-2.13zM1938.84 832.57h2.13v2.13h-2.13zM1945.22 832.57h2.13v2.13h-2.13zM1955.85 832.57h2.13v2.13h-2.13zM1962.23 832.57h2.13v2.13h-2.13zM1953.72 830.44h2.13v2.13h-2.13zM1960.1 830.44h2.13v2.13h-2.13zM1985.61 830.44h2.13v2.13h-2.13zM1847.42 828.32h2.13v2.13h-2.13zM1917.58 828.32h2.13v2.13h-2.13zM1930.34 828.32h2.13v2.13h-2.13zM1938.84 828.32h2.13v2.13h-2.13zM1949.47 828.32h2.13v2.13h-2.13zM1864.43 826.19h2.13v2.13h-2.13zM1917.58 826.19h2.13v2.13h-2.13zM1934.59 826.19h2.13v2.13h-2.13zM1938.84 826.19h2.13v2.13h-2.13zM1945.22 826.19h4.25v2.13h-4.25zM1951.6 826.19h2.13v2.13h-2.13zM1979.24 826.19h2.13v2.13h-2.13zM1906.95 824.07h2.13v2.13h-2.13zM1951.6 824.07h6.38v2.13h-6.38zM1906.95 821.94h2.13v2.13h-2.13zM1943.09 821.94h2.13v2.13h-2.13zM1947.35 821.94h2.13v2.13h-2.13zM1947.35 817.69h2.13v2.13h-2.13zM1951.6 815.56h2.13v2.13h-2.13zM1951.6 804.93h2.13v2.13h-2.13z" fill="#c8c8c8" shape-rendering="crispEdges"/>
<path d="M1851.68 1106.82h2.13v2.13h-2.13zM1858.05 1104.7h2.13v2.13h-2.13zM1858.05 1100.45h2.13v2.13h-2.13zM1853.8 1096.19h2.13v2.13h-2.13zM1841.05 1094.07h2.13v2.13h-2.13zM1847.42 1094.07h2.13v2.13h-2.13zM1858.05 1094.07h2.13v2.13h-2.13zM1849.55 1091.94h4.25v2.13h-4.25zM1864.43 1091.94h2.13v2.13h-2.13zM1902.7 1091.94h2.13v2.13h-2.13zM1843.17 1089.82h2.13v2.13h-2.13zM1847.42 1089.82h4.25v2.13h-4.25zM1858.05 1089.82h2.13v2.13h-2.13zM1862.31 1089.82h2.13v2.13h-2.13zM1902.7 1089.82h2.13v2.13h-2.13zM1847.42 1087.69h2.13v2.13h-2.13zM1858.05 1087.69h2.13v2.13h-2.13zM1866.56 1087.69h2.13v2.13h-2.13zM1843.17 1085.56h4.25v2.13h-4.25zM1851.68 1085.56h4.25v2.13h-4.25zM1906.95 1085.56h4.25v2.13h-4.25zM1915.46 1085.56h2.13v2.13h-2.13zM1851.68 1083.44h2.13v2.13h-2.13zM1860.18 1083.44h2.13v2.13h-2.13zM1902.7 1083.44h2.13v2.13h-2.13zM1843.17 1081.31h2.13v2.13h-2.13zM1851.68 1081.31h2.13v2.13h-2.13zM1855.93 1081.31h4.25v2.13h-4.25zM1911.2 1081.31h2.13v2.13h-2.13zM1843.17 1079.19h6.38v2.13h-6.38zM1851.68 1079.19h4.25v2.13h-4.25zM1858.05 1079.19h2.13v2.13h-2.13zM1862.31 1079.19h2.13v2.13h-2.13zM1870.81 1079.19h2.13v2.13h-2.13zM1906.95 1079.19h2.13v2.13h-2.13zM1841.05 1077.06h2.13v2.13h-2.13zM1847.42 1077.06h4.25v2.13h-4.25zM1853.8 1077.06h4.25v2.13h-4.25zM1860.18 1077.06h2.13v2.13h-2.13zM1868.68 1077.06h2.13v2.13h-2.13zM1838.92 1074.93h2.13v2.13h-2.13zM1847.42 1074.93h17.01v2.13h-17.01zM1877.19 1074.93h2.13v2.13h-2.13zM1915.46 1074.93h2.13v2.13h-2.13zM1838.92 1072.81h2.13v2.13h-2.13zM1843.17 1072.81h2.13v2.13h-2.13zM1847.42 1072.81h4.25v2.13h-4.25zM1853.8 1072.81h6.38v2.13h-6.38zM1862.31 1072.81h8.5v2.13h-8.5zM1877.19 1072.81h2.13v2.13h-2.13zM1896.32 1072.81h2.13v2.13h-2.13zM1902.7 1072.81h2.13v2.13h-2.13zM1909.08 1072.81h2.13v2.13h-2.13zM1913.33 1072.81h2.13v2.13h-2.13zM1843.17 1070.68h2.13v2.13h-2.13zM1847.42 1070.68h6.38v2.13h-6.38zM1855.93 1070.68h2.13v2.13h-2.13zM1860.18 1070.68h6.38v2.13h-6.38zM1875.06 1070.68h2.13v2.13h-2.13zM1902.7 1070.68h2.13v2.13h-2.13zM1906.95 1070.68h2.13v2.13h-2.13zM1913.33 1070.68h8.5v2.13h-8.5zM1838.92 1068.56h2.13v2.13h-2.13zM1845.3 1068.56h2.13v2.13h-2.13zM1849.55 1068.56h2.13v2.13h-2.13zM1858.05 1068.56h6.38v2.13h-6.38zM1866.56 1068.56h2.13v2.13h-2.13zM1870.81 1068.56h2.13v2.13h-2.13zM1883.57 1068.56h2.13v2.13h-2.13zM1902.7 1068.56h4.25v2.13h-4.25zM1909.08 1068.56h10.63v2.13h-10.63zM1843.17 1066.43h2.13v2.13h-2.13zM1847.42 1066.43h4.25v2.13h-4.25zM1853.8 1066.43h6.38v2.13h-6.38zM1864.43 1066.43h2.13v2.13h-2.13zM1868.68 1066.43h4.25v2.13h-4.25zM1875.06 1066.43h2.13v2.13h-2.13zM1898.45 1066.43h2.13v2.13h-2.13zM1902.7 1066.43h2.13v2.13h-2.13zM1906.95 1066.43h2.13v2.13h-2.13zM1913.33 1066.43h4.25v2.13h-4.25zM1836.79 1064.3h2.13v2.13h-2.13zM1841.05 1064.3h2.13v2.13h-2.13zM1845.3 1064.3h4.25v2.13h-4.25zM1851.68 1064.3h2.13v2.13h-2.13zM1860.18 1064.3h10.63v2.13h-10.63zM1872.94 1064.3h2.13v2.13h-2.13zM1885.69 1064.3h4.25v2.13h-4.25zM1904.83 1064.3h2.13v2.13h-2.13zM1909.08 1064.3h2.13v2.13h-2.13zM1838.92 1062.18h2.13v2.13h-2.13zM1845.3 1062.18h2.13v2.13h-2.13zM1849.55 1062.18h4.25v2.13h-4.25zM1862.31 1062.18h2.13v2.13h-2.13zM1868.68 1062.18h2.13v2.13h-2.13zM1911.2 1062.18h2.13v2.13h-2.13zM1915.46 1062.18h2.13v2.13h-2.13zM1919.71 1062.18h2.13v2.13h-2.13zM1845.3 1060.05h6.38v2.13h-6.38zM1855.93 1060.05h6.38v2.13h-6.38zM1864.43 1060.05h2.13v2.13h-2.13zM1898.45 1060.05h2.13v2.13h-2.13zM1902.7 1060.05h2.13v2.13h-2.13zM1915.46 1060.05h2.13v2.13h-2.13zM1838.92 1057.93h10.63v2.13h-10.63zM1853.8 1057.93h2.13v2.13h-2.13zM1858.05 1057.93h8.5v2.13h-8.5zM1870.81 1057.93h4.25v2.13h-4.25zM1885.69 1057.93h2.13v2.13h-2.13zM1894.2 1057.93h4.25v2.13h-4.25zM1913.33 1057.93h2.13v2.13h-2.13zM1843.17 1055.8h2.13v2.13h-2.13zM1849.55 1055.8h2.13v2.13h-2.13zM1853.8 1055.8h2.13v2.13h-2.13zM1858.05 1055.8h12.76v2.13h-12.76zM1896.32 1055.8h2.13v2.13h-2.13zM1904.83 1055.8h2.13v2.13h-2.13zM1911.2 1055.8h4.25v2.13h-4.25zM1921.83 1055.8h4.25v2.13h-4.25zM1836.79 1053.67h2.13v2.13h-2.13zM1841.05 1053.67h2.13v2.13h-2.13zM1853.8 1053.67h2.13v2.13h-2.13zM1864.43 1053.67h2.13v2.13h-2.13zM1872.94 1053.67h2.13v2.13h-2.13zM1877.19 1053.67h2.13v2.13h-2.13zM1881.44 1053.67h2.13v2.13h-2.13zM1894.2 1053.67h2.13v2.13h-2.13zM1904.83 1053.67h6.38v2.13h-6.38zM1913.33 1053.67h2.13v2.13h-2.13zM1917.58 1053.67h2.13v2.13h-2.13zM1921.83 1053.67h2.13v2.13h-2.13zM1832.54 1051.55h2.13v2.13h-2.13zM1838.92 1051.55h2.13v2.13h-2.13zM1847.42 1051.55h2.13v2.13h-2.13zM1853.8 1051.55h2.13v2.13h-2.13zM1868.68 1051.55h2.13v2.13h-2.13zM1872.94 1051.55h2.13v2.13h-2.13zM1902.7 1051.55h2.13v2.13h-2.13zM1906.95 1051.55h8.5v2.13h-8.5zM1917.58 1051.55h2.13v2.13h-2.13zM1923.96 1051.55h2.13v2.13h-2.13zM1832.54 1049.42h10.63v2.13h-10.63zM1845.3 1049.42h4.25v2.13h-4.25zM1860.18 1049.42h4.25v2.13h-4.25zM1868.68 1049.42h2.13v2.13h-2.13zM1872.94 1049.42h4.25v2.13h-4.25zM1892.07 1049.42h4.25v2.13h-4.25zM1906.95 1049.42h6.38v2.13h-6.38zM1915.46 1049.42h2.13v2.13h-2.13zM1919.71 1049.42h4.25v2.13h-4.25zM1838.92 1047.3h2.13v2.13h-2.13zM1866.56 1047.3h2.13v2.13h-2.13zM1872.94 1047.3h4.25v2.13h-4.25zM1904.83 1047.3h6.38v2.13h-6.38zM1915.46 1047.3h2.13v2.13h-2.13zM1834.67 1045.17h2.13v2.13h-2.13zM1838.92 1045.17h6.38v2.13h-6.38zM1870.81 1045.17h2.13v2.13h-2.13zM1875.06 1045.17h2.13v2.13h-2.13zM1879.31 1045.17h2.13v2.13h-2.13zM1883.57 1045.17h6.38v2.13h-6.38zM1906.95 1045.17h4.25v2.13h-4.25zM1915.46 1045.17h2.13v2.13h-2.13zM1926.09 1045.17h2.13v2.13h-2.13zM1832.54 1043.04h4.25v2.13h-4.25zM1841.05 1043.04h4.25v2.13h-4.25zM1866.56 1043.04h2.13v2.13h-2.13zM1870.81 1043.04h4.25v2.13h-4.25zM1877.19 1043.04h6.38v2.13h-6.38zM1900.57 1043.04h10.63v2.13h-10.63zM1915.46 1043.04h2.13v2.13h-2.13zM1919.71 1043.04h2.13v2.13h-2.13zM1832.54 1040.92h4.25v2.13h-4.25zM1838.92 1040.92h4.25v2.13h-4.25zM1872.94 1040.92h4.25v2.13h-4.25zM1881.44 1040.92h4.25v2.13h-4.25zM1889.94 1040.92h2.13v2.13h-2.13zM1904.83 1040.92h2.13v2.13h-2.13zM1915.46 1040.92h2.13v2.13h-2.13zM1919.71 1040.92h4.25v2.13h-4.25zM1832.54 1038.79h6.38v2.13h-6.38zM1841.05 1038.79h2.13v2.13h-2.13zM1870.81 1038.79h4.25v2.13h-4.25zM1877.19 1038.79h2.13v2.13h-2.13zM1881.44 1038.79h2.13v2.13h-2.13zM1894.2 1038.79h8.5v2.13h-8.5zM1911.2 1038.79h2.13v2.13h-2.13zM1919.71 1038.79h2.13v2.13h-2.13zM1832.54 1036.67h2.13v2.13h-2.13zM1836.79 1036.67h2.13v2.13h-2.13zM1868.68 1036.67h2.13v2.13h-2.13zM1875.06 1036.67h4.25v2.13h-4.25zM1881.44 1036.67h4.25v2.13h-4.25zM1887.82 1036.67h2.13v2.13h-2.13zM1896.32 1036.67h2.13v2.13h-2.13zM1900.57 1036.67h2.13v2.13h-2.13zM1904.83 1036.67h2.13v2.13h-2.13zM1913.33 1036.67h2.13v2.13h-2.13zM1838.92 1034.54h2.13v2.13h-2.13zM1845.3 1034.54h2.13v2.13h-2.13zM1870.81 1034.54h8.5v2.13h-8.5zM1881.44 1034.54h8.5v2.13h-8.5zM1894.2 1034.54h4.25v2.13h-4.25zM1900.57 1034.54h4.25v2.13h-4.25zM1906.95 1034.54h2.13v2.13h-2.13zM1866.56 1032.41h2.13v2.13h-2.13zM1877.19 1032.41h4.25v2.13h-4.25zM1896.32 1032.41h8.5v2.13h-8.5zM1915.46 1032.41h2.13v2.13h-2.13zM1919.71 1032.41h4.25v2.13h-4.25zM1836.79 1030.29h2.13v2.13h-2.13zM1841.05 1030.29h2.13v2.13h-2.13zM1870.81 1030.29h2.13v2.13h-2.13zM1877.19 1030.29h4.25v2.13h-4.25zM1885.69 1030.29h2.13v2.13h-2.13zM1894.2 1030.29h4.25v2.13h-4.25zM1902.7 1030.29h6.38v2.13h-6.38zM1917.58 1030.29h6.38v2.13h-6.38zM1832.54 1028.16h4.25v2.13h-4.25zM1875.06 1028.16h2.13v2.13h-2.13zM1879.31 1028.16h8.5v2.13h-8.5zM1896.32 1028.16h6.38v2.13h-6.38zM1921.83 1028.16h2.13v2.13h-2.13zM1926.09 1028.16h2.13v2.13h-2.13zM1832.54 1026.04h4.25v2.13h-4.25zM1872.94 1026.04h6.38v2.13h-6.38zM1881.44 1026.04h2.13v2.13h-2.13zM1885.69 1026.04h2.13v2.13h-2.13zM1889.94 1026.04h2.13v2.13h-2.13zM1894.2 1026.04h4.25v2.13h-4.25zM1900.57 1026.04h2.13v2.13h-2.13zM1917.58 1026.04h4.25v2.13h-4.25zM1923.96 1026.04h2.13v2.13h-2.13zM1875.06 1023.91h4.25v2.13h-4.25zM1883.57 1023.91h2.13v2.13h-2.13zM1887.82 1023.91h4.25v2.13h-4.25zM1894.2 1023.91h2.13v2.13h-2.13zM1898.45 1023.91h2.13v2.13h-2.13zM1909.08 1023.91h2.13v2.13h-2.13zM1915.46 1023.91h2.13v2.13h-2.13zM1832.54 1021.78h2.13v2.13h-2.13zM1838.92 1021.78h2.13v2.13h-2.13zM1875.06 1021.78h2.13v2.13h-2.13zM1879.31 1021.78h4.25v2.13h-4.25zM1885.69 1021.78h2.13v2.13h-2.13zM1892.07 1021.78h2.13v2.13h-2.13zM1896.32 1021.78h4.25v2.13h-4.25zM1919.71 1021.78h4.25v2.13h-4.25zM1832.54 1019.66h4.25v2.13h-4.25zM1877.19 1019.66h8.5v2.13h-8.5zM1887.82 1019.66h2.13v2.13h-2.13zM1894.2 1019.66h6.38v2.13h-6.38zM1921.83 1019.66h4.25v2.13h-4.25zM1832.54 1017.53h4.25v2.13h-4.25zM1883.57 1017.53h6.38v2.13h-6.38zM1892.07 1017.53h4.25v2.13h-4.25zM1900.57 1017.53h2.13v2.13h-2.13zM1919.71 1017.53h4.25v2.13h-4.25zM1926.09 1017.53h2.13v2.13h-2.13zM1832.54 1015.41h2.13v2.13h-2.13zM1879.31 1015.41h2.13v2.13h-2.13zM1885.69 1015.41h8.5v2.13h-8.5zM1896.32 1015.41h2.13v2.13h-2.13zM1900.57 1015.41h2.13v2.13h-2.13zM1919.71 1015.41h2.13v2.13h-2.13zM1926.09 1015.41h4.25v2.13h-4.25zM1832.54 1013.28h2.13v2.13h-2.13zM1836.79 1013.28h2.13v2.13h-2.13zM1881.44 1013.28h8.5v2.13h-8.5zM1894.2 1013.28h4.25v2.13h-4.25zM1902.7 1013.28h2.13v2.13h-2.13zM1919.71 1013.28h2.13v2.13h-2.13zM1923.96 1013.28h6.38v2.13h-6.38zM1832.54 1011.15h2.13v2.13h-2.13zM1838.92 1011.15h2.13v2.13h-2.13zM1881.44 1011.15h4.25v2.13h-4.25zM1887.82 1011.15h8.5v2.13h-8.5zM1898.45 1011.15h2.13v2.13h-2.13zM1928.21 1011.15h2.13v2.13h-2.13zM1879.31 1009.03h6.38v2.13h-6.38zM1887.82 1009.03h6.38v2.13h-6.38zM1896.32 1009.03h8.5v2.13h-8.5zM1923.96 1009.03h4.25v2.13h-4.25zM1883.57 1006.9h2.13v2.13h-2.13zM1887.82 1006.9h2.13v2.13h-2.13zM1892.07 1006.9h6.38v2.13h-6.38zM1919.71 1006.9h2.13v2.13h-2.13zM1832.54 1004.78h4.25v2.13h-4.25zM1881.44 1004.78h4.25v2.13h-4.25zM1887.82 1004.78h6.38v2.13h-6.38zM1896.32 1004.78h4.25v2.13h-4.25zM1928.21 1004.78h4.25v2.13h-4.25zM1832.54 1002.65h2.13v2.13h-2.13zM1875.06 1002.65h2.13v2.13h-2.13zM1885.69 1002.65h4.25v2.13h-4.25zM1894.2 1002.65h2.13v2.13h-2.13zM1898.45 1002.65h4.25v2.13h-4.25zM1923.96 1002.65h2.13v2.13h-2.13zM1930.34 1002.65h2.13v2.13h-2.13zM1832.54 1000.52h2.13v2.13h-2.13zM1883.57 1000.52h2.13v2.13h-2.13zM1887.82 1000.52h2.13v2.13h-2.13zM1892.07 1000.52h4.25v2.13h-4.25zM1923.96 1000.52h2.13v2.13h-2.13zM1930.34 1000.52h2.13v2.13h-2.13zM1883.57 998.4h2.13v2.13h-2.13zM1889.94 998.4h2.13v2.13h-2.13zM1894.2 998.4h2.13v2.13h-2.13zM1926.09 998.4h2.13v2.13h-2.13zM1877.19 996.27h2.13v2.13h-2.13zM1881.44 996.27h2.13v2.13h-2.13zM1889.94 996.27h2.13v2.13h-2.13zM1894.2 996.27h8.5v2.13h-8.5zM1923.96 996.27h2.13v2.13h-2.13zM1928.21 996.27h4.25v2.13h-4.25zM1832.54 994.15h2.13v2.13h-2.13zM1885.69 994.15h4.25v2.13h-4.25zM1892.07 994.15h2.13v2.13h-2.13zM1896.32 994.15h2.13v2.13h-2.13zM1928.21 994.15h2.13v2.13h-2.13zM1832.54 992.02h4.25v2.13h-4.25zM1881.44 992.02h2.13v2.13h-2.13zM1885.69 992.02h2.13v2.13h-2.13zM1889.94 992.02h6.38v2.13h-6.38zM1928.21 992.02h2.13v2.13h-2.13zM1832.54 989.89h2.13v2.13h-2.13zM1881.44 989.89h4.25v2.13h-4.25zM1887.82 989.89h4.25v2.13h-4.25zM1894.2 989.89h2.13v2.13h-2.13zM1928.21 989.89h2.13v2.13h-2.13zM1879.31 987.77h2.13v2.13h-2.13zM1883.57 987.77h14.88v2.13h-14.88zM1926.09 987.77h4.25v2.13h-4.25zM1832.54 985.64h2.13v2.13h-2.13zM1836.79 985.64h2.13v2.13h-2.13zM1879.31 985.64h8.5v2.13h-8.5zM1889.94 985.64h2.13v2.13h-2.13zM1894.2 985.64h4.25v2.13h-4.25zM1928.21 985.64h4.25v2.13h-4.25zM1834.67 983.52h2.13v2.13h-2.13zM1875.06 983.52h2.13v2.13h-2.13zM1881.44 983.52h2.13v2.13h-2.13zM1885.69 983.52h2.13v2.13h-2.13zM1889.94 983.52h2.13v2.13h-2.13zM1896.32 983.52h2.13v2.13h-2.13zM1926.09 983.52h4.25v2.13h-4.25zM1932.46 983.52h2.13v2.13h-2.13zM1832.54 981.39h2.13v2.13h-2.13zM1881.44 981.39h12.76v2.13h-12.76zM1898.45 981.39h2.13v2.13h-2.13zM1923.96 981.39h6.38v2.13h-6.38zM1877.19 979.26h8.5v2.13h-8.5zM1887.82 979.26h2.13v2.13h-2.13zM1892.07 979.26h6.38v2.13h-6.38zM1836.79 977.14h2.13v2.13h-2.13zM1841.05 977.14h2.13v2.13h-2.13zM1875.06 977.14h2.13v2.13h-2.13zM1879.31 977.14h2.13v2.13h-2.13zM1887.82 977.14h4.25v2.13h-4.25zM1894.2 977.14h2.13v2.13h-2.13zM1898.45 977.14h2.13v2.13h-2.13zM1928.21 977.14h2.13v2.13h-2.13zM1832.54 975.01h4.25v2.13h-4.25zM1877.19 975.01h6.38v2.13h-6.38zM1885.69 975.01h6.38v2.13h-6.38zM1894.2 975.01h4.25v2.13h-4.25zM1900.57 975.01h4.25v2.13h-4.25zM1926.09 975.01h2.13v2.13h-2.13zM1930.34 975.01h2.13v2.13h-2.13zM1834.67 972.89h2.13v2.13h-2.13zM1885.69 972.89h14.88v2.13h-14.88zM1926.09 972.89h4.25v2.13h-4.25zM1832.54 970.76h2.13v2.13h-2.13zM1836.79 970.76h4.25v2.13h-4.25zM1881.44 970.76h2.13v2.13h-2.13zM1885.69 970.76h2.13v2.13h-2.13zM1894.2 970.76h6.38v2.13h-6.38zM1926.09 970.76h2.13v2.13h-2.13zM1832.54 968.63h8.5v2.13h-8.5zM1872.94 968.63h2.13v2.13h-2.13zM1879.31 968.63h2.13v2.13h-2.13zM1894.2 968.63h8.5v2.13h-8.5zM1923.96 968.63h4.25v2.13h-4.25zM1930.34 968.63h2.13v2.13h-2.13zM1832.54 966.51h2.13v2.13h-2.13zM1836.79 966.51h4.25v2.13h-4.25zM1866.56 966.51h2.13v2.13h-2.13zM1875.06 966.51h2.13v2.13h-2.13zM1881.44 966.51h10.63v2.13h-10.63zM1896.32 966.51h2.13v2.13h-2.13zM1900.57 966.51h2.13v2.13h-2.13zM1923.96 966.51h4.25v2.13h-4.25zM1930.34 966.51h2.13v2.13h-2.13zM1836.79 964.38h4.25v2.13h-4.25zM1870.81 964.38h2.13v2.13h-2.13zM1875.06 964.38h4.25v2.13h-4.25zM1881.44 964.38h4.25v2.13h-4.25zM1887.82 964.38h14.88v2.13h-14.88zM1926.09 964.38h2.13v2.13h-2.13zM1834.67 962.26h2.13v2.13h-2.13zM1838.92 962.26h2.13v2.13h-2.13zM1875.06 962.26h8.5v2.13h-8.5zM1885.69 962.26h2.13v2.13h-2.13zM1892.07 962.26h2.13v2.13h-2.13zM1896.32 962.26h2.13v2.13h-2.13zM1926.09 962.26h4.25v2.13h-4.25zM1832.54 960.13h4.25v2.13h-4.25zM1838.92 960.13h2.13v2.13h-2.13zM1872.94 960.13h2.13v2.13h-2.13zM1877.19 960.13h2.13v2.13h-2.13zM1881.44 960.13h2.13v2.13h-2.13zM1887.82 960.13h4.25v2.13h-4.25zM1896.32 960.13h2.13v2.13h-2.13zM1926.09 960.13h4.25v2.13h-4.25zM1836.79 958h6.38v2.13h-6.38zM1875.06 958h6.38v2.13h-6.38zM1885.69 958h2.13v2.13h-2.13zM1894.2 958h2.13v2.13h-2.13zM1898.45 958h6.38v2.13h-6.38zM1926.09 958h4.25v2.13h-4.25zM1932.46 958h2.13v2.13h-2.13zM1832.54 955.88h2.13v2.13h-2.13zM1836.79 955.88h2.13v2.13h-2.13zM1841.05 955.88h4.25v2.13h-4.25zM1870.81 955.88h2.13v2.13h-2.13zM1877.19 955.88h17.01v2.13h-17.01zM1896.32 955.88h4.25v2.13h-4.25zM1902.7 955.88h2.13v2.13h-2.13zM1906.95 955.88h2.13v2.13h-2.13zM1923.96 955.88h2.13v2.13h-2.13zM1928.21 955.88h4.25v2.13h-4.25zM1838.92 953.75h2.13v2.13h-2.13zM1843.17 953.75h2.13v2.13h-2.13zM1847.42 953.75h2.13v2.13h-2.13zM1879.31 953.75h2.13v2.13h-2.13zM1883.57 953.75h8.5v2.13h-8.5zM1894.2 953.75h4.25v2.13h-4.25zM1906.95 953.75h2.13v2.13h-2.13zM1834.67 951.63h2.13v2.13h-2.13zM1838.92 951.63h2.13v2.13h-2.13zM1847.42 951.63h2.13v2.13h-2.13zM1877.19 951.63h2.13v2.13h-2.13zM1885.69 951.63h6.38v2.13h-6.38zM1894.2 951.63h6.38v2.13h-6.38zM1909.08 951.63h2.13v2.13h-2.13zM1923.96 951.63h4.25v2.13h-4.25zM1836.79 949.5h6.38v2.13h-6.38zM1845.3 949.5h2.13v2.13h-2.13zM1849.55 949.5h2.13v2.13h-2.13zM1855.93 949.5h2.13v2.13h-2.13zM1870.81 949.5h2.13v2.13h-2.13zM1877.19 949.5h2.13v2.13h-2.13zM1892.07 949.5h2.13v2.13h-2.13zM1898.45 949.5h4.25v2.13h-4.25zM1921.83 949.5h6.38v2.13h-6.38zM1841.05 947.37h4.25v2.13h-4.25zM1849.55 947.37h4.25v2.13h-4.25zM1866.56 947.37h2.13v2.13h-2.13zM1875.06 947.37h2.13v2.13h-2.13zM1879.31 947.37h12.76v2.13h-12.76zM1894.2 947.37h2.13v2.13h-2.13zM1921.83 947.37h2.13v2.13h-2.13zM1926.09 947.37h2.13v2.13h-2.13zM1841.05 945.25h6.38v2.13h-6.38zM1849.55 945.25h2.13v2.13h-2.13zM1860.18 945.25h2.13v2.13h-2.13zM1870.81 945.25h2.13v2.13h-2.13zM1875.06 945.25h2.13v2.13h-2.13zM1885.69 945.25h17.01v2.13h-17.01zM1921.83 945.25h2.13v2.13h-2.13zM1926.09 945.25h2.13v2.13h-2.13zM1845.3 943.12h2.13v2.13h-2.13zM1851.68 943.12h2.13v2.13h-2.13zM1855.93 943.12h2.13v2.13h-2.13zM1860.18 943.12h2.13v2.13h-2.13zM1885.69 943.12h2.13v2.13h-2.13zM1900.57 943.12h2.13v2.13h-2.13zM1906.95 943.12h4.25v2.13h-4.25zM1923.96 943.12h6.38v2.13h-6.38zM1836.79 941h8.5v2.13h-8.5zM1849.55 941h2.13v2.13h-2.13zM1858.05 941h2.13v2.13h-2.13zM1862.31 941h4.25v2.13h-4.25zM1872.94 941h2.13v2.13h-2.13zM1879.31 941h2.13v2.13h-2.13zM1883.57 941h4.25v2.13h-4.25zM1896.32 941h4.25v2.13h-4.25zM1904.83 941h4.25v2.13h-4.25zM1917.58 941h2.13v2.13h-2.13zM1834.67 938.87h10.63v2.13h-10.63zM1847.42 938.87h2.13v2.13h-2.13zM1853.8 938.87h4.25v2.13h-4.25zM1868.68 938.87h2.13v2.13h-2.13zM1872.94 938.87h2.13v2.13h-2.13zM1879.31 938.87h4.25v2.13h-4.25zM1885.69 938.87h2.13v2.13h-2.13zM1892.07 938.87h4.25v2.13h-4.25zM1898.45 938.87h2.13v2.13h-2.13zM1902.7 938.87h8.5v2.13h-8.5zM1917.58 938.87h2.13v2.13h-2.13zM1923.96 938.87h2.13v2.13h-2.13zM1834.67 936.74h2.13v2.13h-2.13zM1843.17 936.74h2.13v2.13h-2.13zM1849.55 936.74h2.13v2.13h-2.13zM1855.93 936.74h2.13v2.13h-2.13zM1866.56 936.74h2.13v2.13h-2.13zM1872.94 936.74h2.13v2.13h-2.13zM1877.19 936.74h6.38v2.13h-6.38zM1885.69 936.74h4.25v2.13h-4.25zM1892.07 936.74h8.5v2.13h-8.5zM1902.7 936.74h6.38v2.13h-6.38zM1913.33 936.74h2.13v2.13h-2.13zM1917.58 936.74h2.13v2.13h-2.13zM1923.96 936.74h2.13v2.13h-2.13zM1843.17 934.62h4.25v2.13h-4.25zM1851.68 934.62h8.5v2.13h-8.5zM1862.31 934.62h4.25v2.13h-4.25zM1868.68 934.62h2.13v2.13h-2.13zM1872.94 934.62h8.5v2.13h-8.5zM1885.69 934.62h6.38v2.13h-6.38zM1894.2 934.62h2.13v2.13h-2.13zM1898.45 934.62h8.5v2.13h-8.5zM1909.08 934.62h4.25v2.13h-4.25zM1915.46 934.62h4.25v2.13h-4.25zM1923.96 934.62h2.13v2.13h-2.13zM1849.55 932.49h4.25v2.13h-4.25zM1855.93 932.49h4.25v2.13h-4.25zM1862.31 932.49h2.13v2.13h-2.13zM1866.56 932.49h4.25v2.13h-4.25zM1877.19 932.49h4.25v2.13h-4.25zM1883.57 932.49h8.5v2.13h-8.5zM1896.32 932.49h4.25v2.13h-4.25zM1904.83 932.49h2.13v2.13h-2.13zM1911.2 932.49h10.63v2.13h-10.63zM1923.96 932.49h4.25v2.13h-4.25zM1843.17 930.37h4.25v2.13h-4.25zM1851.68 930.37h8.5v2.13h-8.5zM1862.31 930.37h4.25v2.13h-4.25zM1868.68 930.37h4.25v2.13h-4.25zM1877.19 930.37h14.88v2.13h-14.88zM1900.57 930.37h4.25v2.13h-4.25zM1911.2 930.37h2.13v2.13h-2.13zM1915.46 930.37h4.25v2.13h-4.25zM1921.83 930.37h4.25v2.13h-4.25zM1845.3 928.24h4.25v2.13h-4.25zM1853.8 928.24h10.63v2.13h-10.63zM1866.56 928.24h6.38v2.13h-6.38zM1877.19 928.24h4.25v2.13h-4.25zM1883.57 928.24h2.13v2.13h-2.13zM1889.94 928.24h2.13v2.13h-2.13zM1894.2 928.24h2.13v2.13h-2.13zM1902.7 928.24h4.25v2.13h-4.25zM1909.08 928.24h4.25v2.13h-4.25zM1915.46 928.24h4.25v2.13h-4.25zM1921.83 928.24h2.13v2.13h-2.13zM1853.8 926.11h2.13v2.13h-2.13zM1858.05 926.11h12.76v2.13h-12.76zM1877.19 926.11h8.5v2.13h-8.5zM1889.94 926.11h2.13v2.13h-2.13zM1894.2 926.11h4.25v2.13h-4.25zM1902.7 926.11h2.13v2.13h-2.13zM1847.42 923.99h4.25v2.13h-4.25zM1853.8 923.99h2.13v2.13h-2.13zM1858.05 923.99h4.25v2.13h-4.25zM1870.81 923.99h4.25v2.13h-4.25zM1879.31 923.99h4.25v2.13h-4.25zM1896.32 923.99h10.63v2.13h-10.63zM1909.08 923.99h4.25v2.13h-4.25zM1915.46 923.99h6.38v2.13h-6.38zM1855.93 921.86h2.13v2.13h-2.13zM1866.56 921.86h2.13v2.13h-2.13zM1870.81 921.86h2.13v2.13h-2.13zM1887.82 921.86h2.13v2.13h-2.13zM1892.07 921.86h2.13v2.13h-2.13zM1904.83 921.86h2.13v2.13h-2.13zM1909.08 921.86h4.25v2.13h-4.25zM1921.83 921.86h4.25v2.13h-4.25zM1864.43 919.74h2.13v2.13h-2.13zM1875.06 919.74h2.13v2.13h-2.13zM1879.31 919.74h2.13v2.13h-2.13zM1900.57 919.74h2.13v2.13h-2.13zM1917.58 919.74h2.13v2.13h-2.13zM1921.83 919.74h2.13v2.13h-2.13zM1853.8 917.61h2.13v2.13h-2.13zM1892.07 917.61h2.13v2.13h-2.13zM1896.32 917.61h2.13v2.13h-2.13zM1902.7 917.61h2.13v2.13h-2.13zM1906.95 917.61h4.25v2.13h-4.25zM1917.58 917.61h4.25v2.13h-4.25zM1928.21 917.61h2.13v2.13h-2.13zM1881.44 915.48h2.13v2.13h-2.13zM1896.32 915.48h2.13v2.13h-2.13zM1909.08 915.48h2.13v2.13h-2.13zM1915.46 915.48h4.25v2.13h-4.25zM1921.83 915.48h2.13v2.13h-2.13zM1911.2 913.36h2.13v2.13h-2.13zM1915.46 913.36h4.25v2.13h-4.25zM1921.83 913.36h2.13v2.13h-2.13zM1889.94 911.23h2.13v2.13h-2.13zM1911.2 911.23h2.13v2.13h-2.13zM1917.58 911.23h4.25v2.13h-4.25zM1904.83 909.11h2.13v2.13h-2.13zM1909.08 909.11h4.25v2.13h-4.25zM1915.46 909.11h2.13v2.13h-2.13zM1906.95 906.98h2.13v2.13h-2.13zM1919.71 906.98h4.25v2.13h-4.25zM1906.95 904.85h2.13v2.13h-2.13zM1919.71 904.85h2.13v2.13h-2.13zM1904.83 902.73h4.25v2.13h-4.25zM1915.46 902.73h4.25v2.13h-4.25zM1915.46 900.6h2.13v2.13h-2.13zM1921.83 900.6h2.13v2.13h-2.13zM1930.34 900.6h2.13v2.13h-2.13zM1913.33 898.48h2.13v2.13h-2.13zM1921.83 898.48h2.13v2.13h-2.13zM1896.32 896.35h2.13v2.13h-2.13zM1900.57 896.35h2.13v2.13h-2.13zM1913.33 896.35h2.13v2.13h-2.13zM1921.83 896.35h2.13v2.13h-2.13zM1906.95 894.22h2.13v2.13h-2.13zM1911.2 894.22h2.13v2.13h-2.13zM1915.46 894.22h2.13v2.13h-2.13zM1923.96 894.22h2.13v2.13h-2.13zM1932.46 894.22h2.13v2.13h-2.13zM1898.45 892.1h2.13v2.13h-2.13zM1904.83 892.1h2.13v2.13h-2.13zM1919.71 892.1h2.13v2.13h-2.13zM1926.09 892.1h4.25v2.13h-4.25zM1932.46 892.1h2.13v2.13h-2.13zM1917.58 889.97h2.13v2.13h-2.13zM1921.83 889.97h2.13v2.13h-2.13zM1930.34 889.97h2.13v2.13h-2.13zM1940.97 889.97h2.13v2.13h-2.13zM1896.32 887.85h2.13v2.13h-2.13zM1911.2 887.85h2.13v2.13h-2.13zM1915.46 887.85h6.38v2.13h-6.38zM1938.84 887.85h2.13v2.13h-2.13zM1906.95 885.72h4.25v2.13h-4.25zM1926.09 885.72h2.13v2.13h-2.13zM1934.59 885.72h2.13v2.13h-2.13zM1943.09 885.72h4.25v2.13h-4.25zM1906.95 883.59h2.13v2.13h-2.13zM1913.33 883.59h2.13v2.13h-2.13zM1917.58 883.59h2.13v2.13h-2.13zM1926.09 883.59h2.13v2.13h-2.13zM1934.59 883.59h2.13v2.13h-2.13zM1911.2 881.47h2.13v2.13h-2.13zM1915.46 881.47h4.25v2.13h-4.25zM1921.83 881.47h2.13v2.13h-2.13zM1934.59 881.47h2.13v2.13h-2.13zM1919.71 879.34h2.13v2.13h-2.13zM1928.21 879.34h4.25v2.13h-4.25zM1938.84 879.34h2.13v2.13h-2.13zM1943.09 879.34h2.13v2.13h-2.13zM1894.2 877.22h2.13v2.13h-2.13zM1923.96 877.22h2.13v2.13h-2.13zM1934.59 877.22h2.13v2.13h-2.13zM1947.35 877.22h2.13v2.13h-2.13zM1913.33 875.09h4.25v2.13h-4.25zM1923.96 875.09h2.13v2.13h-2.13zM1932.46 875.09h2.13v2.13h-2.13zM1904.83 872.96h2.13v2.13h-2.13zM1932.46 872.96h2.13v2.13h-2.13zM1951.6 872.96h2.13v2.13h-2.13zM1913.33 870.84h4.25v2.13h-4.25zM1928.21 870.84h4.25v2.13h-4.25zM1943.09 870.84h2.13v2.13h-2.13zM1917.58 868.71h2.13v2.13h-2.13zM1921.83 868.71h2.13v2.13h-2.13zM1932.46 868.71h2.13v2.13h-2.13zM1928.21 866.59h2.13v2.13h-2.13zM1930.34 862.33h2.13v2.13h-2.13zM1926.09 860.21h2.13v2.13h-2.13zM1930.34 858.08h2.13v2.13h-2.13zM1940.97 855.96h2.13v2.13h-2.13zM1926.09 849.58h2.13v2.13h-2.13zM1949.47 849.58h2.13v2.13h-2.13z" fill="#a0a0a0" shape-rendering="crispEdges"/>
<path d="M1864.43 1081.31h2.13v2.13h-2.13zM1855.93 1079.19h2.13v2.13h-2.13zM1853.8 1070.68h2.13v2.13h-2.13zM1858.05 1070.68h2.13v2.13h-2.13zM1847.42 1068.56h2.13v2.13h-2.13zM1851.68 1068.56h4.25v2.13h-4.25zM1845.3 1066.43h2.13v2.13h-2.13zM1851.68 1066.43h2.13v2.13h-2.13zM1860.18 1066.43h4.25v2.13h-4.25zM1853.8 1064.3h6.38v2.13h-6.38zM1843.17 1062.18h2.13v2.13h-2.13zM1853.8 1062.18h8.5v2.13h-8.5zM1851.68 1060.05h4.25v2.13h-4.25zM1862.31 1060.05h2.13v2.13h-2.13zM1913.33 1060.05h2.13v2.13h-2.13zM1849.55 1057.93h4.25v2.13h-4.25zM1855.93 1057.93h2.13v2.13h-2.13zM1847.42 1055.8h2.13v2.13h-2.13zM1851.68 1055.8h2.13v2.13h-2.13zM1855.93 1055.8h2.13v2.13h-2.13zM1843.17 1053.67h4.25v2.13h-4.25zM1849.55 1053.67h4.25v2.13h-4.25zM1858.05 1053.67h2.13v2.13h-2.13zM1862.31 1053.67h2.13v2.13h-2.13zM1866.56 1053.67h2.13v2.13h-2.13zM1841.05 1051.55h2.13v2.13h-2.13zM1845.3 1051.55h2.13v2.13h-2.13zM1849.55 1051.55h4.25v2.13h-4.25zM1855.93 1051.55h12.76v2.13h-12.76zM1915.46 1051.55h2.13v2.13h-2.13zM1849.55 1049.42h4.25v2.13h-4.25zM1855.93 1049.42h4.25v2.13h-4.25zM1864.43 1049.42h4.25v2.13h-4.25zM1841.05 1047.3h14.88v2.13h-14.88zM1858.05 1047.3h8.5v2.13h-8.5zM1868.68 1047.3h2.13v2.13h-2.13zM1911.2 1047.3h4.25v2.13h-4.25zM1917.58 1047.3h2.13v2.13h-2.13zM1845.3 1045.17h2.13v2.13h-2.13zM1849.55 1045.17h2.13v2.13h-2.13zM1855.93 1045.17h4.25v2.13h-4.25zM1864.43 1045.17h2.13v2.13h-2.13zM1868.68 1045.17h2.13v2.13h-2.13zM1904.83 1045.17h2.13v2.13h-2.13zM1911.2 1045.17h4.25v2.13h-4.25zM1845.3 1043.04h4.25v2.13h-4.25zM1851.68 1043.04h2.13v2.13h-2.13zM1855.93 1043.04h2.13v2.13h-2.13zM1862.31 1043.04h2.13v2.13h-2.13zM1868.68 1043.04h2.13v2.13h-2.13zM1911.2 1043.04h4.25v2.13h-4.25zM1843.17 1040.92h4.25v2.13h-4.25zM1860.18 1040.92h12.76v2.13h-12.76zM1902.7 1040.92h2.13v2.13h-2.13zM1906.95 1040.92h8.5v2.13h-8.5zM1843.17 1038.79h4.25v2.13h-4.25zM1851.68 1038.79h8.5v2.13h-8.5zM1864.43 1038.79h6.38v2.13h-6.38zM1902.7 1038.79h2.13v2.13h-2.13zM1906.95 1038.79h4.25v2.13h-4.25zM1913.33 1038.79h4.25v2.13h-4.25zM1838.92 1036.67h6.38v2.13h-6.38zM1864.43 1036.67h4.25v2.13h-4.25zM1870.81 1036.67h4.25v2.13h-4.25zM1906.95 1036.67h6.38v2.13h-6.38zM1915.46 1036.67h6.38v2.13h-6.38zM1836.79 1034.54h2.13v2.13h-2.13zM1864.43 1034.54h4.25v2.13h-4.25zM1909.08 1034.54h4.25v2.13h-4.25zM1915.46 1034.54h4.25v2.13h-4.25zM1921.83 1034.54h2.13v2.13h-2.13zM1832.54 1032.41h2.13v2.13h-2.13zM1838.92 1032.41h2.13v2.13h-2.13zM1853.8 1032.41h2.13v2.13h-2.13zM1864.43 1032.41h2.13v2.13h-2.13zM1868.68 1032.41h6.38v2.13h-6.38zM1904.83 1032.41h6.38v2.13h-6.38zM1838.92 1030.29h2.13v2.13h-2.13zM1843.17 1030.29h2.13v2.13h-2.13zM1855.93 1030.29h2.13v2.13h-2.13zM1875.06 1030.29h2.13v2.13h-2.13zM1883.57 1030.29h2.13v2.13h-2.13zM1911.2 1030.29h4.25v2.13h-4.25zM1836.79 1028.16h2.13v2.13h-2.13zM1864.43 1028.16h2.13v2.13h-2.13zM1870.81 1028.16h2.13v2.13h-2.13zM1877.19 1028.16h2.13v2.13h-2.13zM1902.7 1028.16h17.01v2.13h-17.01zM1841.05 1026.04h2.13v2.13h-2.13zM1866.56 1026.04h6.38v2.13h-6.38zM1879.31 1026.04h2.13v2.13h-2.13zM1892.07 1026.04h2.13v2.13h-2.13zM1898.45 1026.04h2.13v2.13h-2.13zM1902.7 1026.04h2.13v2.13h-2.13zM1906.95 1026.04h2.13v2.13h-2.13zM1915.46 1026.04h2.13v2.13h-2.13zM1921.83 1026.04h2.13v2.13h-2.13zM1832.54 1023.91h10.63v2.13h-10.63zM1870.81 1023.91h2.13v2.13h-2.13zM1879.31 1023.91h2.13v2.13h-2.13zM1900.57 1023.91h6.38v2.13h-6.38zM1911.2 1023.91h2.13v2.13h-2.13zM1917.58 1023.91h6.38v2.13h-6.38zM1836.79 1021.78h2.13v2.13h-2.13zM1868.68 1021.78h2.13v2.13h-2.13zM1872.94 1021.78h2.13v2.13h-2.13zM1877.19 1021.78h2.13v2.13h-2.13zM1883.57 1021.78h2.13v2.13h-2.13zM1906.95 1021.78h8.5v2.13h-8.5zM1917.58 1021.78h2.13v2.13h-2.13zM1836.79 1019.66h2.13v2.13h-2.13zM1843.17 1019.66h2.13v2.13h-2.13zM1872.94 1019.66h4.25v2.13h-4.25zM1885.69 1019.66h2.13v2.13h-2.13zM1889.94 1019.66h2.13v2.13h-2.13zM1902.7 1019.66h2.13v2.13h-2.13zM1906.95 1019.66h2.13v2.13h-2.13zM1919.71 1019.66h2.13v2.13h-2.13zM1836.79 1017.53h2.13v2.13h-2.13zM1872.94 1017.53h6.38v2.13h-6.38zM1896.32 1017.53h4.25v2.13h-4.25zM1902.7 1017.53h2.13v2.13h-2.13zM1909.08 1017.53h2.13v2.13h-2.13zM1913.33 1017.53h4.25v2.13h-4.25zM1923.96 1017.53h2.13v2.13h-2.13zM1834.67 1015.41h6.38v2.13h-6.38zM1870.81 1015.41h8.5v2.13h-8.5zM1881.44 1015.41h4.25v2.13h-4.25zM1894.2 1015.41h2.13v2.13h-2.13zM1902.7 1015.41h2.13v2.13h-2.13zM1913.33 1015.41h2.13v2.13h-2.13zM1921.83 1015.41h4.25v2.13h-4.25zM1834.67 1013.28h2.13v2.13h-2.13zM1838.92 1013.28h2.13v2.13h-2.13zM1875.06 1013.28h6.38v2.13h-6.38zM1898.45 1013.28h2.13v2.13h-2.13zM1917.58 1013.28h2.13v2.13h-2.13zM1921.83 1013.28h2.13v2.13h-2.13zM1834.67 1011.15h2.13v2.13h-2.13zM1872.94 1011.15h2.13v2.13h-2.13zM1877.19 1011.15h4.25v2.13h-4.25zM1902.7 1011.15h2.13v2.13h-2.13zM1921.83 1011.15h4.25v2.13h-4.25zM1834.67 1009.03h6.38v2.13h-6.38zM1872.94 1009.03h2.13v2.13h-2.13zM1877.19 1009.03h2.13v2.13h-2.13zM1885.69 1009.03h2.13v2.13h-2.13zM1904.83 1009.03h2.13v2.13h-2.13zM1917.58 1009.03h2.13v2.13h-2.13zM1921.83 1009.03h2.13v2.13h-2.13zM1872.94 1006.9h4.25v2.13h-4.25zM1879.31 1006.9h4.25v2.13h-4.25zM1889.94 1006.9h2.13v2.13h-2.13zM1900.57 1006.9h2.13v2.13h-2.13zM1921.83 1006.9h6.38v2.13h-6.38zM1879.31 1004.78h2.13v2.13h-2.13zM1900.57 1004.78h2.13v2.13h-2.13zM1909.08 1004.78h2.13v2.13h-2.13zM1921.83 1004.78h2.13v2.13h-2.13zM1834.67 1002.65h2.13v2.13h-2.13zM1872.94 1002.65h2.13v2.13h-2.13zM1877.19 1002.65h2.13v2.13h-2.13zM1883.57 1002.65h2.13v2.13h-2.13zM1889.94 1002.65h4.25v2.13h-4.25zM1896.32 1002.65h2.13v2.13h-2.13zM1902.7 1002.65h2.13v2.13h-2.13zM1921.83 1002.65h2.13v2.13h-2.13zM1834.67 1000.52h4.25v2.13h-4.25zM1877.19 1000.52h2.13v2.13h-2.13zM1898.45 1000.52h6.38v2.13h-6.38zM1919.71 1000.52h2.13v2.13h-2.13zM1926.09 1000.52h2.13v2.13h-2.13zM1834.67 998.4h2.13v2.13h-2.13zM1838.92 998.4h2.13v2.13h-2.13zM1881.44 998.4h2.13v2.13h-2.13zM1885.69 998.4h4.25v2.13h-4.25zM1892.07 998.4h2.13v2.13h-2.13zM1896.32 998.4h10.63v2.13h-10.63zM1919.71 998.4h2.13v2.13h-2.13zM1923.96 998.4h2.13v2.13h-2.13zM1834.67 996.27h2.13v2.13h-2.13zM1875.06 996.27h2.13v2.13h-2.13zM1879.31 996.27h2.13v2.13h-2.13zM1883.57 996.27h6.38v2.13h-6.38zM1892.07 996.27h2.13v2.13h-2.13zM1902.7 996.27h2.13v2.13h-2.13zM1919.71 996.27h2.13v2.13h-2.13zM1834.67 994.15h4.25v2.13h-4.25zM1875.06 994.15h2.13v2.13h-2.13zM1881.44 994.15h4.25v2.13h-4.25zM1894.2 994.15h2.13v2.13h-2.13zM1898.45 994.15h4.25v2.13h-4.25zM1921.83 994.15h6.38v2.13h-6.38zM1836.79 992.02h2.13v2.13h-2.13zM1875.06 992.02h6.38v2.13h-6.38zM1883.57 992.02h2.13v2.13h-2.13zM1896.32 992.02h4.25v2.13h-4.25zM1923.96 992.02h4.25v2.13h-4.25zM1834.67 989.89h4.25v2.13h-4.25zM1877.19 989.89h4.25v2.13h-4.25zM1885.69 989.89h2.13v2.13h-2.13zM1896.32 989.89h4.25v2.13h-4.25zM1904.83 989.89h2.13v2.13h-2.13zM1923.96 989.89h2.13v2.13h-2.13zM1834.67 987.77h4.25v2.13h-4.25zM1877.19 987.77h2.13v2.13h-2.13zM1881.44 987.77h2.13v2.13h-2.13zM1898.45 987.77h6.38v2.13h-6.38zM1921.83 987.77h4.25v2.13h-4.25zM1834.67 985.64h2.13v2.13h-2.13zM1870.81 985.64h2.13v2.13h-2.13zM1875.06 985.64h4.25v2.13h-4.25zM1892.07 985.64h2.13v2.13h-2.13zM1898.45 985.64h4.25v2.13h-4.25zM1923.96 985.64h4.25v2.13h-4.25zM1836.79 983.52h4.25v2.13h-4.25zM1879.31 983.52h2.13v2.13h-2.13zM1883.57 983.52h2.13v2.13h-2.13zM1887.82 983.52h2.13v2.13h-2.13zM1892.07 983.52h2.13v2.13h-2.13zM1898.45 983.52h4.25v2.13h-4.25zM1921.83 983.52h4.25v2.13h-4.25zM1875.06 981.39h2.13v2.13h-2.13zM1879.31 981.39h2.13v2.13h-2.13zM1896.32 981.39h2.13v2.13h-2.13zM1900.57 981.39h2.13v2.13h-2.13zM1919.71 981.39h2.13v2.13h-2.13zM1832.54 979.26h6.38v2.13h-6.38zM1898.45 979.26h4.25v2.13h-4.25zM1904.83 979.26h2.13v2.13h-2.13zM1919.71 979.26h2.13v2.13h-2.13zM1923.96 979.26h6.38v2.13h-6.38zM1834.67 977.14h2.13v2.13h-2.13zM1838.92 977.14h2.13v2.13h-2.13zM1870.81 977.14h4.25v2.13h-4.25zM1877.19 977.14h2.13v2.13h-2.13zM1881.44 977.14h2.13v2.13h-2.13zM1896.32 977.14h2.13v2.13h-2.13zM1900.57 977.14h4.25v2.13h-4.25zM1913.33 977.14h2.13v2.13h-2.13zM1923.96 977.14h4.25v2.13h-4.25zM1836.79 975.01h2.13v2.13h-2.13zM1872.94 975.01h4.25v2.13h-4.25zM1898.45 975.01h2.13v2.13h-2.13zM1923.96 975.01h2.13v2.13h-2.13zM1832.54 972.89h2.13v2.13h-2.13zM1836.79 972.89h2.13v2.13h-2.13zM1841.05 972.89h2.13v2.13h-2.13zM1870.81 972.89h2.13v2.13h-2.13zM1879.31 972.89h4.25v2.13h-4.25zM1900.57 972.89h4.25v2.13h-4.25zM1921.83 972.89h2.13v2.13h-2.13zM1841.05 970.76h2.13v2.13h-2.13zM1868.68 970.76h2.13v2.13h-2.13zM1875.06 970.76h4.25v2.13h-4.25zM1889.94 970.76h2.13v2.13h-2.13zM1900.57 970.76h4.25v2.13h-4.25zM1917.58 970.76h6.38v2.13h-6.38zM1843.17 968.63h2.13v2.13h-2.13zM1868.68 968.63h2.13v2.13h-2.13zM1875.06 968.63h4.25v2.13h-4.25zM1881.44 968.63h4.25v2.13h-4.25zM1902.7 968.63h2.13v2.13h-2.13zM1906.95 968.63h2.13v2.13h-2.13zM1841.05 966.51h2.13v2.13h-2.13zM1870.81 966.51h4.25v2.13h-4.25zM1879.31 966.51h2.13v2.13h-2.13zM1894.2 966.51h2.13v2.13h-2.13zM1902.7 966.51h4.25v2.13h-4.25zM1928.21 966.51h2.13v2.13h-2.13zM1834.67 964.38h2.13v2.13h-2.13zM1841.05 964.38h2.13v2.13h-2.13zM1872.94 964.38h2.13v2.13h-2.13zM1879.31 964.38h2.13v2.13h-2.13zM1902.7 964.38h6.38v2.13h-6.38zM1923.96 964.38h2.13v2.13h-2.13zM1836.79 962.26h2.13v2.13h-2.13zM1841.05 962.26h4.25v2.13h-4.25zM1847.42 962.26h2.13v2.13h-2.13zM1866.56 962.26h2.13v2.13h-2.13zM1870.81 962.26h4.25v2.13h-4.25zM1883.57 962.26h2.13v2.13h-2.13zM1887.82 962.26h2.13v2.13h-2.13zM1900.57 962.26h2.13v2.13h-2.13zM1904.83 962.26h6.38v2.13h-6.38zM1921.83 962.26h2.13v2.13h-2.13zM1836.79 960.13h2.13v2.13h-2.13zM1841.05 960.13h4.25v2.13h-4.25zM1847.42 960.13h2.13v2.13h-2.13zM1879.31 960.13h2.13v2.13h-2.13zM1892.07 960.13h2.13v2.13h-2.13zM1898.45 960.13h8.5v2.13h-8.5zM1913.33 960.13h2.13v2.13h-2.13zM1923.96 960.13h2.13v2.13h-2.13zM1845.3 958h4.25v2.13h-4.25zM1866.56 958h2.13v2.13h-2.13zM1870.81 958h4.25v2.13h-4.25zM1883.57 958h2.13v2.13h-2.13zM1887.82 958h2.13v2.13h-2.13zM1896.32 958h2.13v2.13h-2.13zM1904.83 958h4.25v2.13h-4.25zM1911.2 958h14.88v2.13h-14.88zM1838.92 955.88h2.13v2.13h-2.13zM1845.3 955.88h6.38v2.13h-6.38zM1858.05 955.88h2.13v2.13h-2.13zM1864.43 955.88h6.38v2.13h-6.38zM1913.33 955.88h2.13v2.13h-2.13zM1921.83 955.88h2.13v2.13h-2.13zM1841.05 953.75h2.13v2.13h-2.13zM1845.3 953.75h2.13v2.13h-2.13zM1855.93 953.75h2.13v2.13h-2.13zM1866.56 953.75h12.76v2.13h-12.76zM1881.44 953.75h2.13v2.13h-2.13zM1900.57 953.75h6.38v2.13h-6.38zM1909.08 953.75h2.13v2.13h-2.13zM1917.58 953.75h2.13v2.13h-2.13zM1921.83 953.75h4.25v2.13h-4.25zM1836.79 951.63h2.13v2.13h-2.13zM1841.05 951.63h6.38v2.13h-6.38zM1862.31 951.63h4.25v2.13h-4.25zM1870.81 951.63h2.13v2.13h-2.13zM1881.44 951.63h4.25v2.13h-4.25zM1900.57 951.63h2.13v2.13h-2.13zM1904.83 951.63h4.25v2.13h-4.25zM1913.33 951.63h4.25v2.13h-4.25zM1919.71 951.63h2.13v2.13h-2.13zM1843.17 949.5h2.13v2.13h-2.13zM1847.42 949.5h2.13v2.13h-2.13zM1851.68 949.5h4.25v2.13h-4.25zM1858.05 949.5h8.5v2.13h-8.5zM1875.06 949.5h2.13v2.13h-2.13zM1883.57 949.5h6.38v2.13h-6.38zM1894.2 949.5h4.25v2.13h-4.25zM1902.7 949.5h6.38v2.13h-6.38zM1911.2 949.5h2.13v2.13h-2.13zM1915.46 949.5h4.25v2.13h-4.25zM1845.3 947.37h4.25v2.13h-4.25zM1858.05 947.37h2.13v2.13h-2.13zM1862.31 947.37h4.25v2.13h-4.25zM1868.68 947.37h4.25v2.13h-4.25zM1892.07 947.37h2.13v2.13h-2.13zM1896.32 947.37h12.76v2.13h-12.76zM1915.46 947.37h6.38v2.13h-6.38zM1923.96 947.37h2.13v2.13h-2.13zM1847.42 945.25h2.13v2.13h-2.13zM1851.68 945.25h2.13v2.13h-2.13zM1855.93 945.25h2.13v2.13h-2.13zM1862.31 945.25h2.13v2.13h-2.13zM1866.56 945.25h4.25v2.13h-4.25zM1872.94 945.25h2.13v2.13h-2.13zM1877.19 945.25h4.25v2.13h-4.25zM1902.7 945.25h4.25v2.13h-4.25zM1911.2 945.25h4.25v2.13h-4.25zM1919.71 945.25h2.13v2.13h-2.13zM1923.96 945.25h2.13v2.13h-2.13zM1843.17 943.12h2.13v2.13h-2.13zM1847.42 943.12h4.25v2.13h-4.25zM1853.8 943.12h2.13v2.13h-2.13zM1858.05 943.12h2.13v2.13h-2.13zM1864.43 943.12h21.26v2.13h-21.26zM1887.82 943.12h4.25v2.13h-4.25zM1898.45 943.12h2.13v2.13h-2.13zM1902.7 943.12h2.13v2.13h-2.13zM1911.2 943.12h2.13v2.13h-2.13zM1917.58 943.12h6.38v2.13h-6.38zM1845.3 941h4.25v2.13h-4.25zM1853.8 941h4.25v2.13h-4.25zM1866.56 941h4.25v2.13h-4.25zM1875.06 941h4.25v2.13h-4.25zM1881.44 941h2.13v2.13h-2.13zM1887.82 941h2.13v2.13h-2.13zM1892.07 941h4.25v2.13h-4.25zM1902.7 941h2.13v2.13h-2.13zM1909.08 941h8.5v2.13h-8.5zM1921.83 941h2.13v2.13h-2.13zM1849.55 938.87h4.25v2.13h-4.25zM1860.18 938.87h6.38v2.13h-6.38zM1870.81 938.87h2.13v2.13h-2.13zM1877.19 938.87h2.13v2.13h-2.13zM1883.57 938.87h2.13v2.13h-2.13zM1887.82 938.87h2.13v2.13h-2.13zM1896.32 938.87h2.13v2.13h-2.13zM1900.57 938.87h2.13v2.13h-2.13zM1919.71 938.87h4.25v2.13h-4.25zM1851.68 936.74h4.25v2.13h-4.25zM1858.05 936.74h8.5v2.13h-8.5zM1868.68 936.74h4.25v2.13h-4.25zM1875.06 936.74h2.13v2.13h-2.13zM1889.94 936.74h2.13v2.13h-2.13zM1900.57 936.74h2.13v2.13h-2.13zM1909.08 936.74h4.25v2.13h-4.25zM1915.46 936.74h2.13v2.13h-2.13zM1921.83 936.74h2.13v2.13h-2.13zM1847.42 934.62h2.13v2.13h-2.13zM1860.18 934.62h2.13v2.13h-2.13zM1866.56 934.62h2.13v2.13h-2.13zM1870.81 934.62h2.13v2.13h-2.13zM1883.57 934.62h2.13v2.13h-2.13zM1892.07 934.62h2.13v2.13h-2.13zM1906.95 934.62h2.13v2.13h-2.13zM1913.33 934.62h2.13v2.13h-2.13zM1860.18 932.49h2.13v2.13h-2.13zM1881.44 932.49h2.13v2.13h-2.13zM1892.07 932.49h2.13v2.13h-2.13zM1902.7 932.49h2.13v2.13h-2.13zM1906.95 932.49h2.13v2.13h-2.13zM1921.83 932.49h2.13v2.13h-2.13zM1860.18 930.37h2.13v2.13h-2.13zM1906.95 930.37h2.13v2.13h-2.13zM1913.33 930.37h2.13v2.13h-2.13zM1864.43 928.24h2.13v2.13h-2.13zM1913.33 928.24h2.13v2.13h-2.13zM1919.71 928.24h2.13v2.13h-2.13zM1872.94 926.11h2.13v2.13h-2.13zM1906.95 926.11h2.13v2.13h-2.13zM1909.08 919.74h2.13v2.13h-2.13zM1915.46 919.74h2.13v2.13h-2.13zM1915.46 898.48h2.13v2.13h-2.13zM1921.83 879.34h2.13v2.13h-2.13z" fill="#787878" shape-rendering="crispEdges"/>
<path d="M1855.93 1053.67h2.13v2.13h-2.13zM1860.18 1053.67h2.13v2.13h-2.13zM1853.8 1049.42h2.13v2.13h-2.13zM1855.93 1047.3h2.13v2.13h-2.13zM1847.42 1045.17h2.13v2.13h-2.13zM1851.68 1045.17h4.25v2.13h-4.25zM1860.18 1045.17h4.25v2.13h-4.25zM1866.56 1045.17h2.13v2.13h-2.13zM1849.55 1043.04h2.13v2.13h-2.13zM1853.8 1043.04h2.13v2.13h-2.13zM1858.05 1043.04h4.25v2.13h-4.25zM1864.43 1043.04h2.13v2.13h-2.13zM1847.42 1040.92h12.76v2.13h-12.76zM1847.42 1038.79h2.13v2.13h-2.13zM1860.18 1038.79h4.25v2.13h-4.25zM1917.58 1038.79h2.13v2.13h-2.13zM1845.3 1036.67h6.38v2.13h-6.38zM1853.8 1036.67h4.25v2.13h-4.25zM1860.18 1036.67h4.25v2.13h-4.25zM1841.05 1034.54h4.25v2.13h-4.25zM1847.42 1034.54h8.5v2.13h-8.5zM1860.18 1034.54h4.25v2.13h-4.25zM1868.68 1034.54h2.13v2.13h-2.13zM1913.33 1034.54h2.13v2.13h-2.13zM1841.05 1032.41h8.5v2.13h-8.5zM1860.18 1032.41h4.25v2.13h-4.25zM1911.2 1032.41h4.25v2.13h-4.25zM1845.3 1030.29h2.13v2.13h-2.13zM1849.55 1030.29h2.13v2.13h-2.13zM1862.31 1030.29h8.5v2.13h-8.5zM1872.94 1030.29h2.13v2.13h-2.13zM1909.08 1030.29h2.13v2.13h-2.13zM1841.05 1028.16h8.5v2.13h-8.5zM1858.05 1028.16h2.13v2.13h-2.13zM1862.31 1028.16h2.13v2.13h-2.13zM1866.56 1028.16h4.25v2.13h-4.25zM1872.94 1028.16h2.13v2.13h-2.13zM1838.92 1026.04h2.13v2.13h-2.13zM1843.17 1026.04h2.13v2.13h-2.13zM1847.42 1026.04h2.13v2.13h-2.13zM1860.18 1026.04h2.13v2.13h-2.13zM1864.43 1026.04h2.13v2.13h-2.13zM1904.83 1026.04h2.13v2.13h-2.13zM1909.08 1026.04h6.38v2.13h-6.38zM1843.17 1023.91h4.25v2.13h-4.25zM1864.43 1023.91h6.38v2.13h-6.38zM1872.94 1023.91h2.13v2.13h-2.13zM1906.95 1023.91h2.13v2.13h-2.13zM1913.33 1023.91h2.13v2.13h-2.13zM1841.05 1021.78h6.38v2.13h-6.38zM1862.31 1021.78h6.38v2.13h-6.38zM1870.81 1021.78h2.13v2.13h-2.13zM1902.7 1021.78h4.25v2.13h-4.25zM1915.46 1021.78h2.13v2.13h-2.13zM1838.92 1019.66h4.25v2.13h-4.25zM1845.3 1019.66h2.13v2.13h-2.13zM1868.68 1019.66h4.25v2.13h-4.25zM1900.57 1019.66h2.13v2.13h-2.13zM1904.83 1019.66h2.13v2.13h-2.13zM1909.08 1019.66h2.13v2.13h-2.13zM1913.33 1019.66h6.38v2.13h-6.38zM1838.92 1017.53h4.25v2.13h-4.25zM1864.43 1017.53h8.5v2.13h-8.5zM1879.31 1017.53h2.13v2.13h-2.13zM1904.83 1017.53h4.25v2.13h-4.25zM1917.58 1017.53h2.13v2.13h-2.13zM1841.05 1015.41h4.25v2.13h-4.25zM1868.68 1015.41h2.13v2.13h-2.13zM1904.83 1015.41h2.13v2.13h-2.13zM1909.08 1015.41h2.13v2.13h-2.13zM1915.46 1015.41h4.25v2.13h-4.25zM1841.05 1013.28h4.25v2.13h-4.25zM1866.56 1013.28h8.5v2.13h-8.5zM1900.57 1013.28h2.13v2.13h-2.13zM1904.83 1013.28h2.13v2.13h-2.13zM1909.08 1013.28h2.13v2.13h-2.13zM1836.79 1011.15h2.13v2.13h-2.13zM1841.05 1011.15h2.13v2.13h-2.13zM1868.68 1011.15h4.25v2.13h-4.25zM1875.06 1011.15h2.13v2.13h-2.13zM1900.57 1011.15h2.13v2.13h-2.13zM1904.83 1011.15h8.5v2.13h-8.5zM1915.46 1011.15h6.38v2.13h-6.38zM1843.17 1009.03h2.13v2.13h-2.13zM1868.68 1009.03h4.25v2.13h-4.25zM1875.06 1009.03h2.13v2.13h-2.13zM1909.08 1009.03h8.5v2.13h-8.5zM1919.71 1009.03h2.13v2.13h-2.13zM1836.79 1006.9h2.13v2.13h-2.13zM1898.45 1006.9h2.13v2.13h-2.13zM1902.7 1006.9h6.38v2.13h-6.38zM1911.2 1006.9h2.13v2.13h-2.13zM1917.58 1006.9h2.13v2.13h-2.13zM1836.79 1004.78h6.38v2.13h-6.38zM1868.68 1004.78h6.38v2.13h-6.38zM1902.7 1004.78h4.25v2.13h-4.25zM1913.33 1004.78h2.13v2.13h-2.13zM1917.58 1004.78h4.25v2.13h-4.25zM1923.96 1004.78h2.13v2.13h-2.13zM1836.79 1002.65h2.13v2.13h-2.13zM1870.81 1002.65h2.13v2.13h-2.13zM1879.31 1002.65h2.13v2.13h-2.13zM1904.83 1002.65h2.13v2.13h-2.13zM1919.71 1002.65h2.13v2.13h-2.13zM1838.92 1000.52h2.13v2.13h-2.13zM1868.68 1000.52h8.5v2.13h-8.5zM1879.31 1000.52h4.25v2.13h-4.25zM1904.83 1000.52h4.25v2.13h-4.25zM1911.2 1000.52h2.13v2.13h-2.13zM1921.83 1000.52h2.13v2.13h-2.13zM1836.79 998.4h2.13v2.13h-2.13zM1870.81 998.4h10.63v2.13h-10.63zM1906.95 998.4h2.13v2.13h-2.13zM1911.2 998.4h4.25v2.13h-4.25zM1917.58 998.4h2.13v2.13h-2.13zM1921.83 998.4h2.13v2.13h-2.13zM1836.79 996.27h4.25v2.13h-4.25zM1904.83 996.27h2.13v2.13h-2.13zM1909.08 996.27h4.25v2.13h-4.25zM1921.83 996.27h2.13v2.13h-2.13zM1838.92 994.15h2.13v2.13h-2.13zM1870.81 994.15h2.13v2.13h-2.13zM1877.19 994.15h4.25v2.13h-4.25zM1902.7 994.15h4.25v2.13h-4.25zM1909.08 994.15h2.13v2.13h-2.13zM1915.46 994.15h4.25v2.13h-4.25zM1838.92 992.02h2.13v2.13h-2.13zM1843.17 992.02h2.13v2.13h-2.13zM1872.94 992.02h2.13v2.13h-2.13zM1900.57 992.02h8.5v2.13h-8.5zM1919.71 992.02h4.25v2.13h-4.25zM1838.92 989.89h4.25v2.13h-4.25zM1870.81 989.89h6.38v2.13h-6.38zM1902.7 989.89h2.13v2.13h-2.13zM1906.95 989.89h2.13v2.13h-2.13zM1911.2 989.89h2.13v2.13h-2.13zM1917.58 989.89h6.38v2.13h-6.38zM1838.92 987.77h2.13v2.13h-2.13zM1870.81 987.77h2.13v2.13h-2.13zM1875.06 987.77h2.13v2.13h-2.13zM1906.95 987.77h2.13v2.13h-2.13zM1913.33 987.77h2.13v2.13h-2.13zM1917.58 987.77h4.25v2.13h-4.25zM1838.92 985.64h4.25v2.13h-4.25zM1868.68 985.64h2.13v2.13h-2.13zM1872.94 985.64h2.13v2.13h-2.13zM1902.7 985.64h2.13v2.13h-2.13zM1919.71 985.64h2.13v2.13h-2.13zM1841.05 983.52h2.13v2.13h-2.13zM1868.68 983.52h6.38v2.13h-6.38zM1877.19 983.52h2.13v2.13h-2.13zM1902.7 983.52h4.25v2.13h-4.25zM1909.08 983.52h2.13v2.13h-2.13zM1834.67 981.39h10.63v2.13h-10.63zM1866.56 981.39h2.13v2.13h-2.13zM1870.81 981.39h4.25v2.13h-4.25zM1877.19 981.39h2.13v2.13h-2.13zM1902.7 981.39h6.38v2.13h-6.38zM1838.92 979.26h6.38v2.13h-6.38zM1868.68 979.26h2.13v2.13h-2.13zM1875.06 979.26h2.13v2.13h-2.13zM1902.7 979.26h2.13v2.13h-2.13zM1911.2 979.26h2.13v2.13h-2.13zM1921.83 979.26h2.13v2.13h-2.13zM1845.3 977.14h2.13v2.13h-2.13zM1866.56 977.14h4.25v2.13h-4.25zM1885.69 977.14h2.13v2.13h-2.13zM1904.83 977.14h4.25v2.13h-4.25zM1911.2 977.14h2.13v2.13h-2.13zM1917.58 977.14h2.13v2.13h-2.13zM1921.83 977.14h2.13v2.13h-2.13zM1838.92 975.01h4.25v2.13h-4.25zM1847.42 975.01h2.13v2.13h-2.13zM1868.68 975.01h2.13v2.13h-2.13zM1904.83 975.01h4.25v2.13h-4.25zM1911.2 975.01h2.13v2.13h-2.13zM1915.46 975.01h2.13v2.13h-2.13zM1919.71 975.01h4.25v2.13h-4.25zM1838.92 972.89h2.13v2.13h-2.13zM1843.17 972.89h6.38v2.13h-6.38zM1868.68 972.89h2.13v2.13h-2.13zM1872.94 972.89h6.38v2.13h-6.38zM1904.83 972.89h8.5v2.13h-8.5zM1917.58 972.89h4.25v2.13h-4.25zM1843.17 970.76h2.13v2.13h-2.13zM1864.43 970.76h4.25v2.13h-4.25zM1870.81 970.76h4.25v2.13h-4.25zM1879.31 970.76h2.13v2.13h-2.13zM1909.08 970.76h2.13v2.13h-2.13zM1913.33 970.76h4.25v2.13h-4.25zM1923.96 970.76h2.13v2.13h-2.13zM1841.05 968.63h2.13v2.13h-2.13zM1845.3 968.63h6.38v2.13h-6.38zM1862.31 968.63h2.13v2.13h-2.13zM1866.56 968.63h2.13v2.13h-2.13zM1870.81 968.63h2.13v2.13h-2.13zM1904.83 968.63h2.13v2.13h-2.13zM1915.46 968.63h8.5v2.13h-8.5zM1843.17 966.51h2.13v2.13h-2.13zM1847.42 966.51h2.13v2.13h-2.13zM1851.68 966.51h2.13v2.13h-2.13zM1860.18 966.51h2.13v2.13h-2.13zM1864.43 966.51h2.13v2.13h-2.13zM1868.68 966.51h2.13v2.13h-2.13zM1877.19 966.51h2.13v2.13h-2.13zM1909.08 966.51h2.13v2.13h-2.13zM1913.33 966.51h2.13v2.13h-2.13zM1917.58 966.51h6.38v2.13h-6.38zM1843.17 964.38h2.13v2.13h-2.13zM1847.42 964.38h2.13v2.13h-2.13zM1855.93 964.38h2.13v2.13h-2.13zM1864.43 964.38h6.38v2.13h-6.38zM1909.08 964.38h4.25v2.13h-4.25zM1915.46 964.38h8.5v2.13h-8.5zM1845.3 962.26h2.13v2.13h-2.13zM1849.55 962.26h6.38v2.13h-6.38zM1862.31 962.26h2.13v2.13h-2.13zM1868.68 962.26h2.13v2.13h-2.13zM1902.7 962.26h2.13v2.13h-2.13zM1911.2 962.26h6.38v2.13h-6.38zM1919.71 962.26h2.13v2.13h-2.13zM1923.96 962.26h2.13v2.13h-2.13zM1845.3 960.13h2.13v2.13h-2.13zM1849.55 960.13h8.5v2.13h-8.5zM1864.43 960.13h8.5v2.13h-8.5zM1875.06 960.13h2.13v2.13h-2.13zM1906.95 960.13h4.25v2.13h-4.25zM1915.46 960.13h2.13v2.13h-2.13zM1919.71 960.13h4.25v2.13h-4.25zM1843.17 958h2.13v2.13h-2.13zM1849.55 958h6.38v2.13h-6.38zM1858.05 958h8.5v2.13h-8.5zM1868.68 958h2.13v2.13h-2.13zM1909.08 958h2.13v2.13h-2.13zM1851.68 955.88h4.25v2.13h-4.25zM1860.18 955.88h4.25v2.13h-4.25zM1872.94 955.88h4.25v2.13h-4.25zM1904.83 955.88h2.13v2.13h-2.13zM1909.08 955.88h4.25v2.13h-4.25zM1915.46 955.88h6.38v2.13h-6.38zM1849.55 953.75h2.13v2.13h-2.13zM1853.8 953.75h2.13v2.13h-2.13zM1858.05 953.75h8.5v2.13h-8.5zM1911.2 953.75h6.38v2.13h-6.38zM1919.71 953.75h2.13v2.13h-2.13zM1849.55 951.63h12.76v2.13h-12.76zM1866.56 951.63h4.25v2.13h-4.25zM1879.31 951.63h2.13v2.13h-2.13zM1902.7 951.63h2.13v2.13h-2.13zM1911.2 951.63h2.13v2.13h-2.13zM1917.58 951.63h2.13v2.13h-2.13zM1921.83 951.63h2.13v2.13h-2.13zM1866.56 949.5h4.25v2.13h-4.25zM1872.94 949.5h2.13v2.13h-2.13zM1879.31 949.5h4.25v2.13h-4.25zM1909.08 949.5h2.13v2.13h-2.13zM1919.71 949.5h2.13v2.13h-2.13zM1855.93 947.37h2.13v2.13h-2.13zM1860.18 947.37h2.13v2.13h-2.13zM1872.94 947.37h2.13v2.13h-2.13zM1877.19 947.37h2.13v2.13h-2.13zM1909.08 947.37h6.38v2.13h-6.38zM1853.8 945.25h2.13v2.13h-2.13zM1858.05 945.25h2.13v2.13h-2.13zM1864.43 945.25h2.13v2.13h-2.13zM1881.44 945.25h4.25v2.13h-4.25zM1906.95 945.25h4.25v2.13h-4.25zM1915.46 945.25h4.25v2.13h-4.25zM1862.31 943.12h2.13v2.13h-2.13zM1894.2 943.12h2.13v2.13h-2.13zM1904.83 943.12h2.13v2.13h-2.13zM1915.46 943.12h2.13v2.13h-2.13zM1851.68 941h2.13v2.13h-2.13zM1860.18 941h2.13v2.13h-2.13zM1870.81 941h2.13v2.13h-2.13zM1889.94 941h2.13v2.13h-2.13zM1919.71 941h2.13v2.13h-2.13zM1923.96 941h2.13v2.13h-2.13zM1858.05 938.87h2.13v2.13h-2.13zM1866.56 938.87h2.13v2.13h-2.13zM1911.2 938.87h6.38v2.13h-6.38z" fill="#505050" shape-rendering="crispEdges"/>
<path d="M1849.55 1038.79h2.13v2.13h-2.13zM1851.68 1036.67h2.13v2.13h-2.13zM1858.05 1036.67h2.13v2.13h-2.13zM1855.93 1034.54h4.25v2.13h-4.25zM1849.55 1032.41h4.25v2.13h-4.25zM1855.93 1032.41h4.25v2.13h-4.25zM1847.42 1030.29h2.13v2.13h-2.13zM1851.68 1030.29h4.25v2.13h-4.25zM1858.05 1030.29h4.25v2.13h-4.25zM1849.55 1028.16h8.5v2.13h-8.5zM1860.18 1028.16h2.13v2.13h-2.13zM1845.3 1026.04h2.13v2.13h-2.13zM1849.55 1026.04h2.13v2.13h-2.13zM1855.93 1026.04h2.13v2.13h-2.13zM1862.31 1026.04h2.13v2.13h-2.13zM1849.55 1023.91h4.25v2.13h-4.25zM1855.93 1023.91h8.5v2.13h-8.5zM1847.42 1021.78h4.25v2.13h-4.25zM1858.05 1021.78h4.25v2.13h-4.25zM1847.42 1019.66h4.25v2.13h-4.25zM1858.05 1019.66h10.63v2.13h-10.63zM1911.2 1019.66h2.13v2.13h-2.13zM1843.17 1017.53h8.5v2.13h-8.5zM1860.18 1017.53h4.25v2.13h-4.25zM1911.2 1017.53h2.13v2.13h-2.13zM1845.3 1015.41h6.38v2.13h-6.38zM1864.43 1015.41h4.25v2.13h-4.25zM1906.95 1015.41h2.13v2.13h-2.13zM1911.2 1015.41h2.13v2.13h-2.13zM1845.3 1013.28h4.25v2.13h-4.25zM1851.68 1013.28h2.13v2.13h-2.13zM1858.05 1013.28h8.5v2.13h-8.5zM1906.95 1013.28h2.13v2.13h-2.13zM1911.2 1013.28h6.38v2.13h-6.38zM1843.17 1011.15h4.25v2.13h-4.25zM1866.56 1011.15h2.13v2.13h-2.13zM1913.33 1011.15h2.13v2.13h-2.13zM1841.05 1009.03h2.13v2.13h-2.13zM1847.42 1009.03h2.13v2.13h-2.13zM1864.43 1009.03h2.13v2.13h-2.13zM1906.95 1009.03h2.13v2.13h-2.13zM1838.92 1006.9h8.5v2.13h-8.5zM1864.43 1006.9h8.5v2.13h-8.5zM1909.08 1006.9h2.13v2.13h-2.13zM1913.33 1006.9h4.25v2.13h-4.25zM1843.17 1004.78h2.13v2.13h-2.13zM1862.31 1004.78h2.13v2.13h-2.13zM1866.56 1004.78h2.13v2.13h-2.13zM1875.06 1004.78h4.25v2.13h-4.25zM1906.95 1004.78h2.13v2.13h-2.13zM1911.2 1004.78h2.13v2.13h-2.13zM1915.46 1004.78h2.13v2.13h-2.13zM1838.92 1002.65h4.25v2.13h-4.25zM1906.95 1002.65h12.76v2.13h-12.76zM1841.05 1000.52h4.25v2.13h-4.25zM1862.31 1000.52h6.38v2.13h-6.38zM1909.08 1000.52h2.13v2.13h-2.13zM1913.33 1000.52h6.38v2.13h-6.38zM1841.05 998.4h4.25v2.13h-4.25zM1864.43 998.4h6.38v2.13h-6.38zM1909.08 998.4h2.13v2.13h-2.13zM1915.46 998.4h2.13v2.13h-2.13zM1841.05 996.27h4.25v2.13h-4.25zM1864.43 996.27h4.25v2.13h-4.25zM1870.81 996.27h4.25v2.13h-4.25zM1906.95 996.27h2.13v2.13h-2.13zM1915.46 996.27h4.25v2.13h-4.25zM1841.05 994.15h2.13v2.13h-2.13zM1845.3 994.15h2.13v2.13h-2.13zM1866.56 994.15h4.25v2.13h-4.25zM1872.94 994.15h2.13v2.13h-2.13zM1906.95 994.15h2.13v2.13h-2.13zM1911.2 994.15h4.25v2.13h-4.25zM1919.71 994.15h2.13v2.13h-2.13zM1841.05 992.02h2.13v2.13h-2.13zM1868.68 992.02h4.25v2.13h-4.25zM1909.08 992.02h4.25v2.13h-4.25zM1915.46 992.02h4.25v2.13h-4.25zM1866.56 989.89h4.25v2.13h-4.25zM1900.57 989.89h2.13v2.13h-2.13zM1913.33 989.89h4.25v2.13h-4.25zM1841.05 987.77h4.25v2.13h-4.25zM1864.43 987.77h2.13v2.13h-2.13zM1868.68 987.77h2.13v2.13h-2.13zM1872.94 987.77h2.13v2.13h-2.13zM1904.83 987.77h2.13v2.13h-2.13zM1909.08 987.77h4.25v2.13h-4.25zM1915.46 987.77h2.13v2.13h-2.13zM1843.17 985.64h2.13v2.13h-2.13zM1864.43 985.64h2.13v2.13h-2.13zM1904.83 985.64h4.25v2.13h-4.25zM1911.2 985.64h2.13v2.13h-2.13zM1915.46 985.64h4.25v2.13h-4.25zM1921.83 985.64h2.13v2.13h-2.13zM1845.3 983.52h6.38v2.13h-6.38zM1906.95 983.52h2.13v2.13h-2.13zM1911.2 983.52h10.63v2.13h-10.63zM1864.43 981.39h2.13v2.13h-2.13zM1868.68 981.39h2.13v2.13h-2.13zM1909.08 981.39h10.63v2.13h-10.63zM1921.83 981.39h2.13v2.13h-2.13zM1845.3 979.26h4.25v2.13h-4.25zM1853.8 979.26h2.13v2.13h-2.13zM1866.56 979.26h2.13v2.13h-2.13zM1870.81 979.26h4.25v2.13h-4.25zM1906.95 979.26h4.25v2.13h-4.25zM1913.33 979.26h6.38v2.13h-6.38zM1843.17 977.14h2.13v2.13h-2.13zM1847.42 977.14h2.13v2.13h-2.13zM1862.31 977.14h4.25v2.13h-4.25zM1909.08 977.14h2.13v2.13h-2.13zM1915.46 977.14h2.13v2.13h-2.13zM1919.71 977.14h2.13v2.13h-2.13zM1843.17 975.01h4.25v2.13h-4.25zM1851.68 975.01h4.25v2.13h-4.25zM1864.43 975.01h4.25v2.13h-4.25zM1870.81 975.01h2.13v2.13h-2.13zM1909.08 975.01h2.13v2.13h-2.13zM1913.33 975.01h2.13v2.13h-2.13zM1917.58 975.01h2.13v2.13h-2.13zM1849.55 972.89h4.25v2.13h-4.25zM1858.05 972.89h10.63v2.13h-10.63zM1913.33 972.89h2.13v2.13h-2.13zM1845.3 970.76h6.38v2.13h-6.38zM1853.8 970.76h10.63v2.13h-10.63zM1904.83 970.76h4.25v2.13h-4.25zM1911.2 970.76h2.13v2.13h-2.13zM1851.68 968.63h10.63v2.13h-10.63zM1909.08 968.63h6.38v2.13h-6.38zM1845.3 966.51h2.13v2.13h-2.13zM1849.55 966.51h2.13v2.13h-2.13zM1853.8 966.51h6.38v2.13h-6.38zM1862.31 966.51h2.13v2.13h-2.13zM1906.95 966.51h2.13v2.13h-2.13zM1911.2 966.51h2.13v2.13h-2.13zM1915.46 966.51h2.13v2.13h-2.13zM1845.3 964.38h2.13v2.13h-2.13zM1849.55 964.38h6.38v2.13h-6.38zM1858.05 964.38h6.38v2.13h-6.38zM1913.33 964.38h2.13v2.13h-2.13zM1855.93 962.26h6.38v2.13h-6.38zM1864.43 962.26h2.13v2.13h-2.13zM1917.58 962.26h2.13v2.13h-2.13zM1858.05 960.13h6.38v2.13h-6.38zM1911.2 960.13h2.13v2.13h-2.13zM1917.58 960.13h2.13v2.13h-2.13zM1855.93 958h2.13v2.13h-2.13zM1855.93 955.88h2.13v2.13h-2.13zM1851.68 953.75h2.13v2.13h-2.13zM1913.33 949.5h2.13v2.13h-2.13zM1913.33 943.12h2.13v2.13h-2.13z" fill="#282828" shape-rendering="crispEdges"/>
<path d="M1851.68 1026.04h4.25v2.13h-4.25zM1858.05 1026.04h2.13v2.13h-2.13zM1847.42 1023.91h2.13v2.13h-2.13zM1853.8 1023.91h2.13v2.13h-2.13zM1851.68 1021.78h6.38v2.13h-6.38zM1851.68 1019.66h6.38v2.13h-6.38zM1851.68 1017.53h8.5v2.13h-8.5zM1851.68 1015.41h12.76v2.13h-12.76zM1849.55 1013.28h2.13v2.13h-2.13zM1853.8 1013.28h4.25v2.13h-4.25zM1847.42 1011.15h19.13v2.13h-19.13zM1845.3 1009.03h2.13v2.13h-2.13zM1849.55 1009.03h14.88v2.13h-14.88zM1866.56 1009.03h2.13v2.13h-2.13zM1847.42 1006.9h17.01v2.13h-17.01zM1845.3 1004.78h17.01v2.13h-17.01zM1864.43 1004.78h2.13v2.13h-2.13zM1843.17 1002.65h27.64v2.13h-27.64zM1845.3 1000.52h17.01v2.13h-17.01zM1845.3 998.4h19.13v2.13h-19.13zM1845.3 996.27h19.13v2.13h-19.13zM1868.68 996.27h2.13v2.13h-2.13zM1913.33 996.27h2.13v2.13h-2.13zM1843.17 994.15h2.13v2.13h-2.13zM1847.42 994.15h19.13v2.13h-19.13zM1845.3 992.02h23.39v2.13h-23.39zM1913.33 992.02h2.13v2.13h-2.13zM1843.17 989.89h23.39v2.13h-23.39zM1909.08 989.89h2.13v2.13h-2.13zM1845.3 987.77h19.13v2.13h-19.13zM1866.56 987.77h2.13v2.13h-2.13zM1845.3 985.64h19.13v2.13h-19.13zM1866.56 985.64h2.13v2.13h-2.13zM1909.08 985.64h2.13v2.13h-2.13zM1913.33 985.64h2.13v2.13h-2.13zM1843.17 983.52h2.13v2.13h-2.13zM1851.68 983.52h17.01v2.13h-17.01zM1845.3 981.39h19.13v2.13h-19.13zM1849.55 979.26h4.25v2.13h-4.25zM1855.93 979.26h10.63v2.13h-10.63zM1849.55 977.14h12.76v2.13h-12.76zM1849.55 975.01h2.13v2.13h-2.13zM1855.93 975.01h8.5v2.13h-8.5zM1853.8 972.89h4.25v2.13h-4.25zM1915.46 972.89h2.13v2.13h-2.13zM1851.68 970.76h2.13v2.13h-2.13zM1864.43 968.63h2.13v2.13h-2.13z" fill="#000000" shape-rendering="crispEdges"/>
<path d="M1678.6 748.99H2050.66V751.11H1678.6ZM1678.6 1107.89H2050.66V1110.01H1678.6ZM1689.04 748.99H1691.16V1120.15H1689.04ZM2048.54 748.99H2050.66V1120.15H2048.54ZM1706.05 1108.95H1708.18V1120.15H1706.05ZM1716.69 1108.95H1718.82V1120.15H1716.69ZM1723.07 1108.95H1725.2V1120.15H1723.07ZM1729.45 1108.95H1731.58V1120.15H1729.45ZM1733.71 1108.95H1735.84V1120.15H1733.71ZM1737.96 1108.95H1742.22V1120.15H1737.96ZM1744.34 1108.95H1748.6V1120.15H1744.34ZM1763.49 1108.95H1765.62V1120.15H1763.49ZM1774.13 1108.95H1776.25V1120.15H1774.13ZM1780.51 1108.95H1782.63V1120.15H1780.51ZM1786.89 1108.95H1789.02V1120.15H1786.89ZM1791.14 1108.95H1793.27V1120.15H1791.14ZM1795.4 1108.95H1799.65V1120.15H1795.4ZM1801.78 1108.95H1806.03V1120.15H1801.78ZM1820.92 1108.95H1823.05V1120.15H1820.92ZM1831.56 1108.95H1833.69V1120.15H1831.56ZM1837.94 1108.95H1840.07V1120.15H1837.94ZM1844.32 1108.95H1846.45V1120.15H1844.32ZM1848.58 1108.95H1850.71V1120.15H1848.58ZM1852.83 1108.95H1854.96V1120.15H1852.83ZM1857.09 1108.95H1863.47V1120.15H1857.09ZM1878.36 1108.95H1880.49V1120.15H1878.36ZM1888.99 1108.95H1891.12V1120.15H1888.99ZM1897.5 1108.95H1899.63V1120.15H1897.5ZM1901.76 1108.95H1903.89V1120.15H1901.76ZM1906.01 1108.95H1908.14V1120.15H1906.01ZM1910.27 1108.95H1912.39V1120.15H1910.27ZM1914.52 1108.95H1918.78V1120.15H1914.52ZM1920.9 1108.95H1923.03V1120.15H1920.9ZM1937.92 1108.95H1940.05V1120.15H1937.92ZM1948.56 1108.95H1950.68V1120.15H1948.56ZM1954.94 1108.95H1957.07V1120.15H1954.94ZM1961.32 1108.95H1963.45V1120.15H1961.32ZM1965.57 1108.95H1967.7V1120.15H1965.57ZM1969.83 1108.95H1974.08V1120.15H1969.83ZM1976.21 1108.95H1980.47V1120.15H1976.21ZM1995.36 1108.95H1997.48V1120.15H1995.36ZM2005.99 1108.95H2008.12V1120.15H2005.99ZM2012.37 1108.95H2014.5V1120.15H2012.37ZM2018.76 1108.95H2020.88V1120.15H2018.76ZM2023.01 1108.95H2025.14V1120.15H2023.01ZM2027.26 1108.95H2031.52V1120.15H2027.26ZM2033.65 1108.95H2037.9V1120.15H2033.65ZM1678.6 1088.74H1690.1V1090.87H1678.6ZM1678.6 1080.23H1690.1V1082.36H1678.6ZM1678.6 1071.72H1690.1V1073.85H1678.6ZM1678.6 1067.47H1690.1V1069.6H1678.6ZM1678.6 1058.96H1690.1V1063.21H1678.6ZM1678.6 1050.45H1690.1V1056.83H1678.6ZM1678.6 1031.31H1690.1V1033.43H1678.6ZM1678.6 1022.8H1690.1V1024.92H1678.6ZM1678.6 1014.29H1690.1V1016.42H1678.6ZM1678.6 1010.03H1690.1V1012.16H1678.6ZM1678.6 1005.78H1690.1V1007.91H1678.6ZM1678.6 1001.53H1690.1V1003.65H1678.6ZM1678.6 993.02H1690.1V999.4H1678.6ZM1678.6 973.87H1690.1V976H1678.6ZM1678.6 965.36H1690.1V967.49H1678.6ZM1678.6 956.85H1690.1V958.98H1678.6ZM1678.6 952.6H1690.1V954.73H1678.6ZM1678.6 948.34H1690.1V950.47H1678.6ZM1678.6 944.09H1690.1V946.22H1678.6ZM1678.6 935.58H1690.1V941.96H1678.6ZM1678.6 916.44H1690.1V918.56H1678.6ZM1678.6 907.93H1690.1V910.06H1678.6ZM1678.6 899.42H1690.1V901.55H1678.6ZM1678.6 895.16H1690.1V897.29H1678.6ZM1678.6 890.91H1690.1V893.04H1678.6ZM1678.6 886.66H1690.1V888.78H1678.6ZM1678.6 878.15H1690.1V884.53H1678.6ZM1678.6 859H1690.1V861.13H1678.6ZM1678.6 850.49H1690.1V852.62H1678.6ZM1678.6 841.98H1690.1V844.11H1678.6ZM1678.6 837.73H1690.1V839.86H1678.6ZM1678.6 833.48H1690.1V835.6H1678.6ZM1678.6 829.22H1690.1V831.35H1678.6ZM1678.6 820.71H1690.1V827.09H1678.6ZM1678.6 801.57H1690.1V803.69H1678.6ZM1678.6 793.06H1690.1V795.19H1678.6ZM1678.6 784.55H1690.1V786.68H1678.6ZM1678.6 780.29H1690.1V782.42H1678.6ZM1678.6 776.04H1690.1V778.17H1678.6ZM1678.6 771.79H1690.1V773.91H1678.6ZM1678.6 763.28H1690.1V769.66H1678.6Z" fill="#0000ff"/>
<text x="1689.18" y="715.15" font-size="27.83" textLength="223.44" lengthAdjust="spacingAndGlyphs" fill="#000">E12 bacillus d 28th</text>
<text x="1689.58" y="741.75" font-size="27.83" textLength="453.52" lengthAdjust="spacingAndGlyphs" fill="#000" clip-path="url(#c3)">Gate: (Bacillus Noise in (Bacillus in all)</text>
<text x="1675.49" y="1144.15" font-size="11.86" textLength="13.95" lengthAdjust="spacingAndGlyphs" fill="#0000ff" font-weight="bold">10</text>
<text x="1690.47" y="1139.45" font-size="20.72" textLength="5.43" lengthAdjust="spacingAndGlyphs" fill="#0000ff" stroke="#0000ff" stroke-width="0.45">1</text>
<text x="1734.89" y="1144.15" font-size="11.86" textLength="13.95" lengthAdjust="spacingAndGlyphs" fill="#0000ff" font-weight="bold">10</text>
<text x="1747.33" y="1139.45" font-size="20.43" textLength="10.76" lengthAdjust="spacingAndGlyphs" fill="#0000ff" stroke="#0000ff" stroke-width="0.45">2</text>
<text x="1791.89" y="1144.15" font-size="11.86" textLength="13.95" lengthAdjust="spacingAndGlyphs" fill="#0000ff" font-weight="bold">10</text>
<text x="1805.49" y="1139.45" font-size="20.43" textLength="9.82" lengthAdjust="spacingAndGlyphs" fill="#0000ff" stroke="#0000ff" stroke-width="0.45">3</text>
<text x="1849.69" y="1144.15" font-size="11.86" textLength="13.95" lengthAdjust="spacingAndGlyphs" fill="#0000ff" font-weight="bold">10</text>
<text x="1863.31" y="1139.45" font-size="20.72" textLength="11.01" lengthAdjust="spacingAndGlyphs" fill="#0000ff" stroke="#0000ff" stroke-width="0.45">4</text>
<text x="1909.49" y="1144.15" font-size="11.86" textLength="13.95" lengthAdjust="spacingAndGlyphs" fill="#0000ff" font-weight="bold">10</text>
<text x="1922.8" y="1139.45" font-size="20.72" textLength="9.72" lengthAdjust="spacingAndGlyphs" fill="#0000ff" stroke="#0000ff" stroke-width="0.45">5</text>
<text x="1966.79" y="1144.15" font-size="11.86" textLength="13.95" lengthAdjust="spacingAndGlyphs" fill="#0000ff" font-weight="bold">10</text>
<text x="1981.08" y="1139.45" font-size="20.43" textLength="9.07" lengthAdjust="spacingAndGlyphs" fill="#0000ff" stroke="#0000ff" stroke-width="0.45">6</text>
<text x="2028.59" y="1144.15" font-size="11.86" textLength="13.95" lengthAdjust="spacingAndGlyphs" fill="#0000ff" font-weight="bold">10</text>
<text x="2041.61" y="1139.45" font-size="20.43" textLength="27.48" lengthAdjust="spacingAndGlyphs" fill="#0000ff" stroke="#0000ff" stroke-width="0.45">7.2</text>
<text transform="translate(1667.7 1118.85) rotate(-90)" x="-0.82" y="0" font-size="11.86" textLength="14.11" lengthAdjust="spacingAndGlyphs" fill="#0000ff" font-weight="bold">10</text>
<text transform="translate(1663.3 1106.1) rotate(-90)" x="-0.78" y="0" font-size="20.72" textLength="5.82" lengthAdjust="spacingAndGlyphs" fill="#0000ff" stroke="#0000ff" stroke-width="0.45">1</text>
<text transform="translate(1667.7 1061.42) rotate(-90)" x="-0.82" y="0" font-size="11.86" textLength="14.11" lengthAdjust="spacingAndGlyphs" fill="#0000ff" font-weight="bold">10</text>
<text transform="translate(1663.3 1048.67) rotate(-90)" x="-0.97" y="0" font-size="20.43" textLength="10.76" lengthAdjust="spacingAndGlyphs" fill="#0000ff" stroke="#0000ff" stroke-width="0.45">2</text>
<text transform="translate(1667.7 1003.98) rotate(-90)" x="-0.82" y="0" font-size="11.86" textLength="14.11" lengthAdjust="spacingAndGlyphs" fill="#0000ff" font-weight="bold">10</text>
<text transform="translate(1663.3 991.23) rotate(-90)" x="-0.71" y="0" font-size="20.43" textLength="9.94" lengthAdjust="spacingAndGlyphs" fill="#0000ff" stroke="#0000ff" stroke-width="0.45">3</text>
<text transform="translate(1667.7 946.55) rotate(-90)" x="-0.82" y="0" font-size="11.86" textLength="14.11" lengthAdjust="spacingAndGlyphs" fill="#0000ff" font-weight="bold">10</text>
<text transform="translate(1663.3 933.8) rotate(-90)" x="-0.49" y="0" font-size="20.72" textLength="11.01" lengthAdjust="spacingAndGlyphs" fill="#0000ff" stroke="#0000ff" stroke-width="0.45">4</text>
<text transform="translate(1667.7 889.11) rotate(-90)" x="-0.82" y="0" font-size="11.86" textLength="14.11" lengthAdjust="spacingAndGlyphs" fill="#0000ff" font-weight="bold">10</text>
<text transform="translate(1663.3 876.36) rotate(-90)" x="-0.72" y="0" font-size="20.72" textLength="10.07" lengthAdjust="spacingAndGlyphs" fill="#0000ff" stroke="#0000ff" stroke-width="0.45">5</text>
<text transform="translate(1667.7 831.68) rotate(-90)" x="-0.82" y="0" font-size="11.86" textLength="14.11" lengthAdjust="spacingAndGlyphs" fill="#0000ff" font-weight="bold">10</text>
<text transform="translate(1663.3 818.93) rotate(-90)" x="-0.91" y="0" font-size="20.43" textLength="10.16" lengthAdjust="spacingAndGlyphs" fill="#0000ff" stroke="#0000ff" stroke-width="0.45">6</text>
<text transform="translate(1667.7 767.95) rotate(-90)" x="-0.81" y="0" font-size="11.86" textLength="13.84" lengthAdjust="spacingAndGlyphs" fill="#0000ff" font-weight="bold">10</text>
<text transform="translate(1663.3 754.85) rotate(-90)" x="-0.97" y="0" font-size="20.43" textLength="26.83" lengthAdjust="spacingAndGlyphs" fill="#0000ff" stroke="#0000ff" stroke-width="0.45">7.2</text>
<text x="1838.61" y="1167.6" font-size="20.86" textLength="63.39" lengthAdjust="spacingAndGlyphs" fill="#000">FSC-A</text>
<text transform="translate(1640.3 997.7) rotate(-90)" x="-1.74" y="0" font-size="20.86" textLength="59.21" lengthAdjust="spacingAndGlyphs" fill="#000">FL3-A</text>
<rect x="1690.1" y="953.05" width="359.5" height="1.8" fill="#669900"/>
<text x="1870.17" y="924.95" font-size="26.96" textLength="46.55" lengthAdjust="spacingAndGlyphs" fill="#669900">Live</text>
<text x="1871.06" y="948.55" font-size="26.96" textLength="71.94" lengthAdjust="spacingAndGlyphs" fill="#669900">86.7%</text>
<text x="1870.17" y="975.95" font-size="26.96" textLength="60.66" lengthAdjust="spacingAndGlyphs" fill="#ff0000">Dead</text>
<text x="1870.3" y="999.15" font-size="26.96" textLength="71.94" lengthAdjust="spacingAndGlyphs" fill="#ff0000">12.9%</text>
</svg>
</body></html>
